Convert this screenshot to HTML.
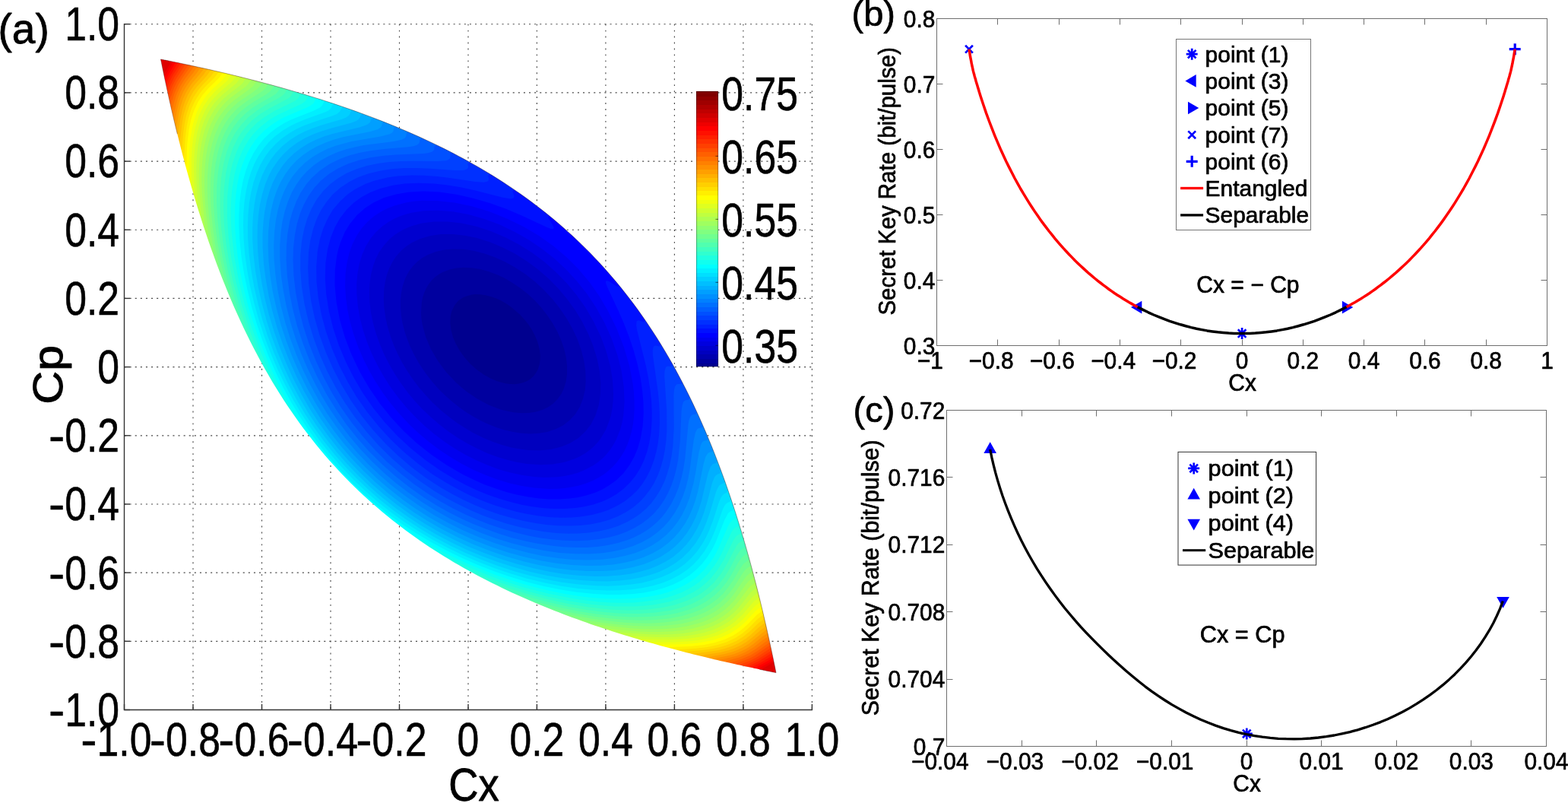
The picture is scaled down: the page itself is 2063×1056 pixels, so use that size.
<!DOCTYPE html>
<html lang="en"><head><meta charset="utf-8"><title>Secret key rate versus correlations Cx and Cp</title>
<style>html,body{margin:0;padding:0;background:#fff;overflow:hidden}svg{display:block}text{font-family:'Liberation Sans', sans-serif}</style></head><body>
<svg width="2063" height="1056" viewBox="0 0 2063 1056">
<rect width="2063" height="1056" fill="#fff"/>
<g shape-rendering="geometricPrecision">
<path fill="#00008f" d="M213,76.4L213,76.4L213.2,76.4L213.4,76.5L213.8,76.6L214.2,76.6L214.8,76.8L215.4,76.9L216.2,77L217,77.2L217.9,77.4L219,77.6L220.1,77.8L221.4,78.1L222.7,78.4L224.1,78.6L225.7,79L227.3,79.3L229,79.6L230.9,80L232.8,80.4L234.8,80.8L236.9,81.3L239.1,81.7L241.4,82.2L243.8,82.7L246.3,83.3L248.8,83.8L251.5,84.4L254.2,85L257.1,85.6L260,86.2L263,86.9L266.1,87.6L269.3,88.3L272.6,89L276,89.8L279.4,90.6L283,91.4L286.6,92.2L290.3,93.1L294,94L297.9,94.9L301.8,95.8L305.9,96.8L309.9,97.8L314.1,98.8L318.4,99.8L322.7,100.9L327.1,102L331.5,103.2L336.1,104.3L340.7,105.5L345.3,106.7L350.1,108L354.9,109.3L359.7,110.6L364.7,112L369.7,113.3L374.7,114.8L379.8,116.2L385,117.7L390.2,119.2L395.5,120.8L400.9,122.4L406.2,124L411.7,125.7L417.2,127.4L422.7,129.1L428.3,130.9L434,132.7L439.7,134.6L445.4,136.5L451.2,138.5L457,140.5L462.8,142.5L468.7,144.6L474.7,146.7L480.6,148.9L486.6,151.1L492.7,153.4L498.7,155.7L504.8,158.1L510.9,160.5L517.1,163L523.3,165.6L529.4,168.2L535.7,170.8L541.9,173.5L548.2,176.3L554.4,179.1L560.7,182L567,184.9L573.3,187.9L579.7,191L586,194.1L592.3,197.3L598.7,200.6L605,203.9L611.4,207.3L617.8,210.8L624.1,214.4L630.5,218L636.8,221.7L643.2,225.5L649.5,229.4L655.8,233.3L662.2,237.4L668.5,241.5L674.8,245.7L681.1,250L687.3,254.3L693.6,258.8L699.8,263.4L706.1,268L712.2,272.8L718.4,277.6L724.6,282.6L730.7,287.6L736.8,292.8L742.8,298L748.9,303.4L754.9,308.9L760.8,314.4L766.8,320.1L772.7,325.9L778.5,331.9L784.3,337.9L790.1,344L795.8,350.3L801.5,356.7L807.2,363.2L812.8,369.8L818.3,376.6L823.8,383.5L829.3,390.5L834.6,397.6L840,404.9L845.3,412.3L850.5,419.8L855.7,427.4L860.8,435.2L865.8,443.1L870.8,451.1L875.8,459.2L880.6,467.5L885.4,475.9L890.2,484.4L894.8,493L899.4,501.7L904,510.6L908.4,519.6L912.8,528.6L917.1,537.8L921.4,547.1L925.6,556.4L929.6,565.9L933.7,575.4L937.6,585L941.5,594.7L945.2,604.4L948.9,614.2L952.5,624L956.1,633.8L959.5,643.7L962.9,653.6L966.2,663.5L969.4,673.3L972.5,683.1L975.5,692.9L978.4,702.7L981.3,712.3L984,721.9L986.7,731.4L989.2,740.7L991.7,749.9L994.1,759L996.4,767.8L998.6,776.5L1000.7,785L1002.7,793.3L1004.6,801.3L1006.5,809L1008.2,816.4L1009.8,823.6L1011.4,830.4L1012.8,836.8L1014.1,843L1015.4,848.7L1016.5,854L1017.6,859L1018.5,863.5L1019.3,867.5L1020.1,871.2L1020.7,874.3L1021.3,877L1021.7,879.2L1022.1,881L1022.3,882.2L1022.5,883L1022.5,883.2L1019.5,886.2L1019.3,886.2L1019.1,886.1L1018.7,886L1018.3,886L1017.7,885.8L1017.1,885.7L1016.3,885.6L1015.5,885.4L1014.6,885.2L1013.5,885L1012.4,884.8L1011.1,884.5L1009.8,884.2L1008.4,884L1006.8,883.6L1005.2,883.3L1003.5,883L1001.6,882.6L999.7,882.2L997.7,881.8L995.6,881.3L993.4,880.9L991.1,880.4L988.7,879.9L986.2,879.3L983.7,878.8L981,878.2L978.3,877.6L975.4,877L972.5,876.4L969.5,875.7L966.4,875L963.2,874.3L959.9,873.6L956.5,872.8L953.1,872L949.5,871.2L945.9,870.4L942.2,869.5L938.5,868.6L934.6,867.7L930.7,866.8L926.6,865.8L922.6,864.8L918.4,863.8L914.1,862.8L909.8,861.7L905.4,860.6L901,859.4L896.4,858.3L891.8,857.1L887.2,855.9L882.4,854.6L877.6,853.3L872.8,852L867.8,850.6L862.8,849.3L857.8,847.8L852.7,846.4L847.5,844.9L842.3,843.4L837,841.8L831.6,840.2L826.3,838.6L820.8,836.9L815.3,835.2L809.8,833.5L804.2,831.7L798.5,829.9L792.8,828L787.1,826.1L781.3,824.1L775.5,822.1L769.7,820.1L763.8,818L757.8,815.9L751.9,813.7L745.9,811.5L739.8,809.2L733.8,806.9L727.7,804.5L721.6,802.1L715.4,799.6L709.2,797L703.1,794.4L696.8,791.8L690.6,789.1L684.3,786.3L678.1,783.5L671.8,780.6L665.5,777.7L659.2,774.7L652.8,771.6L646.5,768.5L640.2,765.3L633.8,762L627.5,758.7L621.1,755.3L614.8,751.8L608.4,748.2L602,744.6L595.7,740.9L589.3,737.1L583,733.2L576.7,729.3L570.3,725.2L564,721.1L557.7,716.9L551.4,712.6L545.2,708.3L538.9,703.8L532.7,699.2L526.4,694.6L520.3,689.8L514.1,685L507.9,680L501.8,675L495.7,669.8L489.7,664.6L483.6,659.2L477.6,653.7L471.7,648.2L465.7,642.5L459.8,636.7L454,630.7L448.2,624.7L442.4,618.6L436.7,612.3L431,605.9L425.3,599.4L419.7,592.8L414.2,586L408.7,579.1L403.2,572.1L397.9,565L392.5,557.7L387.2,550.3L382,542.8L376.8,535.2L371.7,527.4L366.7,519.5L361.7,511.5L356.7,503.4L351.9,495.1L347.1,486.7L342.3,478.2L337.7,469.6L333.1,460.9L328.5,452L324.1,443L319.7,434L315.4,424.8L311.1,415.5L306.9,406.2L302.9,396.7L298.8,387.2L294.9,377.6L291,367.9L287.3,358.2L283.6,348.4L280,338.6L276.4,328.8L273,318.9L269.6,309L266.3,299.1L263.1,289.3L260,279.5L257,269.7L254.1,259.9L251.2,250.3L248.5,240.7L245.8,231.2L243.3,221.9L240.8,212.7L238.4,203.6L236.1,194.8L233.9,186.1L231.8,177.6L229.8,169.3L227.9,161.3L226,153.6L224.3,146.2L222.7,139L221.1,132.2L219.7,125.8L218.4,119.6L217.1,113.9L216,108.6L214.9,103.6L214,99.1L213.2,95.1L212.4,91.4L211.8,88.3L211.2,85.6L210.8,83.4L210.4,81.6L210.2,80.4L210,79.6Z"/>
<path fill="#00009f" fill-rule="evenodd" d="M1028,893.9L1030.2,896.1L1032.5,896.1L1032.5,893.9L1030.2,891.6L1030.2,880.3L1028,878.1L1028,869.1L1025.7,866.8L1025.7,857.8L1023.5,855.5L1023.5,846.5L1021.2,844.3L1021.2,835.3L1018.9,833L1018.9,826.2L1016.7,824L1016.7,815L1014.4,812.7L1014.4,805.9L1012.1,803.7L1012.1,794.7L1009.9,792.4L1009.9,785.7L1007.6,783.4L1007.6,776.6L1005.4,774.4L1005.4,765.4L1003.1,763.1L1003.1,756.3L1000.8,754.1L1000.8,747.3L998.6,745.1L998.6,740.6L996.3,738.3L996.3,731.5L994,729.3L994,722.5L991.8,720.3L991.8,713.5L989.5,711.3L989.5,706.8L987.3,704.5L987.3,697.7L985,695.5L985,691L982.7,688.7L982.7,682L980.5,679.7L980.5,675.2L978.2,672.9L978.2,668.4L975.9,666.2L975.9,661.7L973.7,659.4L973.7,652.6L971.4,650.4L971.4,645.9L969.2,643.6L969.2,639.1L966.9,636.9L966.9,632.4L964.6,630.1L964.6,625.6L962.4,623.3L962.4,621.1L960.1,618.8L960.1,614.3L957.8,612.1L957.8,607.6L955.6,605.3L955.6,600.8L953.3,598.5L953.3,596.3L951.1,594L951.1,589.5L948.8,587.3L948.8,582.8L946.5,580.5L946.5,578.2L944.3,576L944.3,571.5L942,569.2L942,567L939.8,564.7L939.8,560.2L937.5,558L937.5,555.7L935.2,553.4L935.2,551.2L933,548.9L933,544.4L930.7,542.2L930.7,539.9L928.4,537.7L928.4,535.4L926.2,533.2L926.2,528.6L923.9,526.4L923.9,524.1L921.7,521.9L921.7,519.6L919.4,517.4L919.4,515.1L917.1,512.9L917.1,510.6L914.9,508.4L914.9,506.1L912.6,503.8L912.6,501.6L910.3,499.3L910.3,497.1L908.1,494.8L908.1,492.6L905.8,490.3L905.8,488.1L903.6,485.8L903.6,483.6L901.3,481.3L901.3,479L899,476.8L899,474.5L896.8,472.3L896.8,470L892.2,465.5L892.2,463.3L890,461L890,458.8L887.7,456.5L887.7,454.2L883.2,449.7L883.2,447.5L880.9,445.2L880.9,443L876.4,438.5L876.4,436.2L874.1,434L874.1,431.7L869.6,427.2L869.6,424.9L865.1,420.4L865.1,418.2L860.6,413.7L860.6,411.4L856,406.9L856,404.6L851.5,400.1L851.5,397.9L844.7,391.1L844.7,388.9L838,382.1L838,379.8L831.2,373.1L831.2,370.8L822.1,361.8L822.1,359.6L808.5,346L808.5,343.8L754.2,289.7L752,289.7L738.4,276.1L736.1,276.1L727.1,267.1L724.8,267.1L718.1,260.4L715.8,260.4L709,253.6L706.7,253.6L700,246.8L697.7,246.8L693.2,242.3L690.9,242.3L686.4,237.8L684.1,237.8L679.6,233.3L677.3,233.3L672.8,228.8L670.5,228.8L666,224.3L663.8,224.3L661.5,222L659.2,222L654.7,217.5L652.4,217.5L650.2,215.3L647.9,215.3L643.4,210.8L641.1,210.8L638.9,208.5L636.6,208.5L634.3,206.3L632.1,206.3L627.6,201.7L625.3,201.7L623,199.5L620.8,199.5L618.5,197.2L616.2,197.2L614,195L611.7,195L609.5,192.7L607.2,192.7L604.9,190.5L602.7,190.5L600.4,188.2L598.2,188.2L595.9,186L593.6,186L591.4,183.7L589.1,183.7L586.8,181.5L584.6,181.5L582.3,179.2L580.1,179.2L577.8,176.9L575.5,176.9L573.3,174.7L571,174.7L568.7,172.4L564.2,172.4L562,170.2L559.7,170.2L557.4,167.9L555.2,167.9L552.9,165.7L548.4,165.7L546.1,163.4L543.9,163.4L541.6,161.2L539.3,161.2L537.1,158.9L532.5,158.9L530.3,156.7L528,156.7L525.8,154.4L521.2,154.4L519,152.1L516.7,152.1L514.4,149.9L509.9,149.9L507.7,147.6L503.1,147.6L500.9,145.4L498.6,145.4L496.4,143.1L491.8,143.1L489.6,140.9L485,140.9L482.8,138.6L478.3,138.6L476,136.4L473.7,136.4L471.5,134.1L466.9,134.1L464.7,131.9L460.2,131.9L457.9,129.6L453.4,129.6L451.1,127.3L446.6,127.3L444.3,125.1L437.5,125.1L435.3,122.8L430.7,122.8L428.5,120.6L424,120.6L421.7,118.3L417.2,118.3L414.9,116.1L408.1,116.1L405.9,113.8L401.3,113.8L399.1,111.6L392.3,111.6L390,109.3L385.5,109.3L383.2,107.1L376.5,107.1L374.2,104.8L367.4,104.8L365.1,102.5L358.4,102.5L356.1,100.3L351.6,100.3L349.3,98L342.5,98L340.3,95.8L333.5,95.8L331.2,93.5L322.2,93.5L319.9,91.3L313.1,91.3L310.8,89L304.1,89L301.8,86.8L292.7,86.8L290.5,84.5L283.7,84.5L281.4,82.3L272.4,82.3L270.1,80L263.3,80L261.1,77.7L252,77.7L249.8,75.5L240.7,75.5L238.5,73.2L229.4,73.2L227.1,71L218.1,71L215.8,68.7L204.5,68.7L202.3,66.5L200,66.5L200,68.7L202.3,71L202.3,82.3L204.5,84.5L204.5,93.5L206.8,95.8L206.8,104.8L209,107.1L209,116.1L211.3,118.3L211.3,127.3L213.6,129.6L213.6,136.4L215.8,138.6L215.8,147.6L218.1,149.9L218.1,156.7L220.4,158.9L220.4,167.9L222.6,170.2L222.6,176.9L224.9,179.2L224.9,186L227.1,188.2L227.1,197.2L229.4,199.5L229.4,206.3L231.7,208.5L231.7,215.3L233.9,217.5L233.9,222L236.2,224.3L236.2,231.1L238.5,233.3L238.5,240.1L240.7,242.3L240.7,249.1L243,251.3L243,255.8L245.2,258.1L245.2,264.9L247.5,267.1L247.5,271.6L249.8,273.9L249.8,280.6L252,282.9L252,287.4L254.3,289.7L254.3,294.2L256.6,296.4L256.6,300.9L258.8,303.2L258.8,310L261.1,312.2L261.1,316.7L263.3,319L263.3,323.5L265.6,325.7L265.6,330.2L267.9,332.5L267.9,337L270.1,339.3L270.1,341.5L272.4,343.8L272.4,348.3L274.7,350.5L274.7,355L276.9,357.3L276.9,361.8L279.2,364.1L279.2,366.3L281.4,368.6L281.4,373.1L283.7,375.3L283.7,379.8L286,382.1L286,384.4L288.2,386.6L288.2,391.1L290.5,393.4L290.5,395.6L292.7,397.9L292.7,402.4L295,404.6L295,406.9L297.3,409.2L297.3,411.4L299.5,413.7L299.5,418.2L301.8,420.4L301.8,422.7L304.1,424.9L304.1,427.2L306.3,429.4L306.3,434L308.6,436.2L308.6,438.5L310.8,440.7L310.8,443L313.1,445.2L313.1,447.5L315.4,449.7L315.4,452L317.6,454.2L317.6,456.5L319.9,458.8L319.9,461L322.2,463.3L322.2,465.5L324.4,467.8L324.4,470L326.7,472.3L326.7,474.5L328.9,476.8L328.9,479L331.2,481.3L331.2,483.6L333.5,485.8L333.5,488.1L335.7,490.3L335.7,492.6L340.3,497.1L340.3,499.3L342.5,501.6L342.5,503.8L344.8,506.1L344.8,508.4L349.3,512.9L349.3,515.1L351.6,517.4L351.6,519.6L356.1,524.1L356.1,526.4L358.4,528.6L358.4,530.9L362.9,535.4L362.9,537.7L367.4,542.2L367.4,544.4L371.9,548.9L371.9,551.2L376.5,555.7L376.5,558L381,562.5L381,564.7L387.8,571.5L387.8,573.7L394.5,580.5L394.5,582.8L401.3,589.5L401.3,591.8L410.4,600.8L410.4,603L424,616.6L424,618.8L478.3,672.9L480.5,672.9L494.1,686.5L496.4,686.5L505.4,695.5L507.7,695.5L514.4,702.2L516.7,702.2L523.5,709L525.8,709L532.5,715.8L534.8,715.8L539.3,720.3L541.6,720.3L546.1,724.8L548.4,724.8L552.9,729.3L555.2,729.3L559.7,733.8L562,733.8L566.5,738.3L568.7,738.3L571,740.6L573.3,740.6L577.8,745.1L580.1,745.1L582.3,747.3L584.6,747.3L589.1,751.8L591.4,751.8L593.6,754.1L595.9,754.1L598.2,756.3L600.4,756.3L604.9,760.9L607.2,760.9L609.5,763.1L611.7,763.1L614,765.4L616.2,765.4L618.5,767.6L620.8,767.6L623,769.9L625.3,769.9L627.6,772.1L629.8,772.1L632.1,774.4L634.3,774.4L636.6,776.6L638.9,776.6L641.1,778.9L643.4,778.9L645.7,781.1L647.9,781.1L650.2,783.4L652.4,783.4L654.7,785.7L657,785.7L659.2,787.9L661.5,787.9L663.8,790.2L668.3,790.2L670.5,792.4L672.8,792.4L675.1,794.7L677.3,794.7L679.6,796.9L684.1,796.9L686.4,799.2L688.6,799.2L690.9,801.4L693.2,801.4L695.4,803.7L700,803.7L702.2,805.9L704.5,805.9L706.7,808.2L711.3,808.2L713.5,810.5L715.8,810.5L718.1,812.7L722.6,812.7L724.8,815L729.4,815L731.6,817.2L733.9,817.2L736.1,819.5L740.7,819.5L742.9,821.7L747.5,821.7L749.7,824L754.2,824L756.5,826.2L758.8,826.2L761,828.5L765.6,828.5L767.8,830.7L772.3,830.7L774.6,833L779.1,833L781.4,835.3L785.9,835.3L788.2,837.5L795,837.5L797.2,839.8L801.8,839.8L804,842L808.5,842L810.8,844.3L815.3,844.3L817.6,846.5L824.4,846.5L826.6,848.8L831.2,848.8L833.4,851L840.2,851L842.5,853.3L847,853.3L849.3,855.5L856,855.5L858.3,857.8L865.1,857.8L867.4,860.1L874.1,860.1L876.4,862.3L880.9,862.3L883.2,864.6L890,864.6L892.2,866.8L899,866.8L901.3,869.1L910.3,869.1L912.6,871.3L919.4,871.3L921.7,873.6L928.4,873.6L930.7,875.8L939.8,875.8L942,878.1L948.8,878.1L951.1,880.3L960.1,880.3L962.4,882.6L969.2,882.6L971.4,884.9L980.5,884.9L982.7,887.1L991.8,887.1L994,889.4L1003.1,889.4L1005.4,891.6L1014.4,891.6L1016.7,893.9ZM663.8,504L654.7,501.5L645.7,497.8L636.3,492.6L626.9,485.8L618.5,478.2L611.2,470L604.7,461L599.7,452L595.9,443L593.5,434L592.3,424.9L592.7,415.9L594.3,409.2L598.2,401.3L603.1,395.6L609.7,391.1L615.3,388.9L620.8,387.6L625.3,387.1L632.1,387.3L638.9,388.2L645.7,389.9L652.4,392.3L659.6,395.6L666,399.3L672.8,403.9L684.1,413.7L690.3,420.4L695.4,427L699.9,434L703.5,440.7L706.4,447.5L708.6,454.2L710.1,461L710.8,467.8L710.5,474.5L709.8,479L707.7,485.8L705.3,490.3L701.8,494.8L697.7,498.5L693.2,501.3L688.6,503.1L684.1,504.3L677.3,505.2L670.5,505Z"/>
<path fill="#0000af" fill-rule="evenodd" d="M1028,893.9L1030.2,896.1L1032.5,896.1L1032.5,893.9L1030.2,891.6L1030.2,880.3L1028,878.1L1028,869.1L1025.7,866.8L1025.7,857.8L1023.5,855.5L1023.5,846.5L1021.2,844.3L1021.2,835.3L1018.9,833L1018.9,826.2L1016.7,824L1016.7,815L1014.4,812.7L1014.4,805.9L1012.1,803.7L1012.1,794.7L1009.9,792.4L1009.9,785.7L1007.6,783.4L1007.6,776.6L1005.4,774.4L1005.4,765.4L1003.1,763.1L1003.1,756.3L1000.8,754.1L1000.8,747.3L998.6,745.1L998.6,740.6L996.3,738.3L996.3,731.5L994,729.3L994,722.5L991.8,720.3L991.8,713.5L989.5,711.3L989.5,706.8L987.3,704.5L987.3,697.7L985,695.5L985,691L982.7,688.7L982.7,682L980.5,679.7L980.5,675.2L978.2,672.9L978.2,668.4L975.9,666.2L975.9,661.7L973.7,659.4L973.7,652.6L971.4,650.4L971.4,645.9L969.2,643.6L969.2,639.1L966.9,636.9L966.9,632.4L964.6,630.1L964.6,625.6L962.4,623.3L962.4,621.1L960.1,618.8L960.1,614.3L957.8,612.1L957.8,607.6L955.6,605.3L955.6,600.8L953.3,598.5L953.3,596.3L951.1,594L951.1,589.5L948.8,587.3L948.8,582.8L946.5,580.5L946.5,578.2L944.3,576L944.3,571.5L942,569.2L942,567L939.8,564.7L939.8,560.2L937.5,558L937.5,555.7L935.2,553.4L935.2,551.2L933,548.9L933,544.4L930.7,542.2L930.7,539.9L928.4,537.7L928.4,535.4L926.2,533.2L926.2,528.6L923.9,526.4L923.9,524.1L921.7,521.9L921.7,519.6L919.4,517.4L919.4,515.1L917.1,512.9L917.1,510.6L914.9,508.4L914.9,506.1L912.6,503.8L912.6,501.6L910.3,499.3L910.3,497.1L908.1,494.8L908.1,492.6L905.8,490.3L905.8,488.1L903.6,485.8L903.6,483.6L901.3,481.3L901.3,479L899,476.8L899,474.5L896.8,472.3L896.8,470L892.2,465.5L892.2,463.3L890,461L890,458.8L887.7,456.5L887.7,454.2L883.2,449.7L883.2,447.5L880.9,445.2L880.9,443L876.4,438.5L876.4,436.2L874.1,434L874.1,431.7L869.6,427.2L869.6,424.9L865.1,420.4L865.1,418.2L860.6,413.7L860.6,411.4L856,406.9L856,404.6L851.5,400.1L851.5,397.9L844.7,391.1L844.7,388.9L838,382.1L838,379.8L831.2,373.1L831.2,370.8L822.1,361.8L822.1,359.6L808.5,346L808.5,343.8L754.2,289.7L752,289.7L738.4,276.1L736.1,276.1L727.1,267.1L724.8,267.1L718.1,260.4L715.8,260.4L709,253.6L706.7,253.6L700,246.8L697.7,246.8L693.2,242.3L690.9,242.3L686.4,237.8L684.1,237.8L679.6,233.3L677.3,233.3L672.8,228.8L670.5,228.8L666,224.3L663.8,224.3L661.5,222L659.2,222L654.7,217.5L652.4,217.5L650.2,215.3L647.9,215.3L643.4,210.8L641.1,210.8L638.9,208.5L636.6,208.5L634.3,206.3L632.1,206.3L627.6,201.7L625.3,201.7L623,199.5L620.8,199.5L618.5,197.2L616.2,197.2L614,195L611.7,195L609.5,192.7L607.2,192.7L604.9,190.5L602.7,190.5L600.4,188.2L598.2,188.2L595.9,186L593.6,186L591.4,183.7L589.1,183.7L586.8,181.5L584.6,181.5L582.3,179.2L580.1,179.2L577.8,176.9L575.5,176.9L573.3,174.7L571,174.7L568.7,172.4L564.2,172.4L562,170.2L559.7,170.2L557.4,167.9L555.2,167.9L552.9,165.7L548.4,165.7L546.1,163.4L543.9,163.4L541.6,161.2L539.3,161.2L537.1,158.9L532.5,158.9L530.3,156.7L528,156.7L525.8,154.4L521.2,154.4L519,152.1L516.7,152.1L514.4,149.9L509.9,149.9L507.7,147.6L503.1,147.6L500.9,145.4L498.6,145.4L496.4,143.1L491.8,143.1L489.6,140.9L485,140.9L482.8,138.6L478.3,138.6L476,136.4L473.7,136.4L471.5,134.1L466.9,134.1L464.7,131.9L460.2,131.9L457.9,129.6L453.4,129.6L451.1,127.3L446.6,127.3L444.3,125.1L437.5,125.1L435.3,122.8L430.7,122.8L428.5,120.6L424,120.6L421.7,118.3L417.2,118.3L414.9,116.1L408.1,116.1L405.9,113.8L401.3,113.8L399.1,111.6L392.3,111.6L390,109.3L385.5,109.3L383.2,107.1L376.5,107.1L374.2,104.8L367.4,104.8L365.1,102.5L358.4,102.5L356.1,100.3L351.6,100.3L349.3,98L342.5,98L340.3,95.8L333.5,95.8L331.2,93.5L322.2,93.5L319.9,91.3L313.1,91.3L310.8,89L304.1,89L301.8,86.8L292.7,86.8L290.5,84.5L283.7,84.5L281.4,82.3L272.4,82.3L270.1,80L263.3,80L261.1,77.7L252,77.7L249.8,75.5L240.7,75.5L238.5,73.2L229.4,73.2L227.1,71L218.1,71L215.8,68.7L204.5,68.7L202.3,66.5L200,66.5L200,68.7L202.3,71L202.3,82.3L204.5,84.5L204.5,93.5L206.8,95.8L206.8,104.8L209,107.1L209,116.1L211.3,118.3L211.3,127.3L213.6,129.6L213.6,136.4L215.8,138.6L215.8,147.6L218.1,149.9L218.1,156.7L220.4,158.9L220.4,167.9L222.6,170.2L222.6,176.9L224.9,179.2L224.9,186L227.1,188.2L227.1,197.2L229.4,199.5L229.4,206.3L231.7,208.5L231.7,215.3L233.9,217.5L233.9,222L236.2,224.3L236.2,231.1L238.5,233.3L238.5,240.1L240.7,242.3L240.7,249.1L243,251.3L243,255.8L245.2,258.1L245.2,264.9L247.5,267.1L247.5,271.6L249.8,273.9L249.8,280.6L252,282.9L252,287.4L254.3,289.7L254.3,294.2L256.6,296.4L256.6,300.9L258.8,303.2L258.8,310L261.1,312.2L261.1,316.7L263.3,319L263.3,323.5L265.6,325.7L265.6,330.2L267.9,332.5L267.9,337L270.1,339.3L270.1,341.5L272.4,343.8L272.4,348.3L274.7,350.5L274.7,355L276.9,357.3L276.9,361.8L279.2,364.1L279.2,366.3L281.4,368.6L281.4,373.1L283.7,375.3L283.7,379.8L286,382.1L286,384.4L288.2,386.6L288.2,391.1L290.5,393.4L290.5,395.6L292.7,397.9L292.7,402.4L295,404.6L295,406.9L297.3,409.2L297.3,411.4L299.5,413.7L299.5,418.2L301.8,420.4L301.8,422.7L304.1,424.9L304.1,427.2L306.3,429.4L306.3,434L308.6,436.2L308.6,438.5L310.8,440.7L310.8,443L313.1,445.2L313.1,447.5L315.4,449.7L315.4,452L317.6,454.2L317.6,456.5L319.9,458.8L319.9,461L322.2,463.3L322.2,465.5L324.4,467.8L324.4,470L326.7,472.3L326.7,474.5L328.9,476.8L328.9,479L331.2,481.3L331.2,483.6L333.5,485.8L333.5,488.1L335.7,490.3L335.7,492.6L340.3,497.1L340.3,499.3L342.5,501.6L342.5,503.8L344.8,506.1L344.8,508.4L349.3,512.9L349.3,515.1L351.6,517.4L351.6,519.6L356.1,524.1L356.1,526.4L358.4,528.6L358.4,530.9L362.9,535.4L362.9,537.7L367.4,542.2L367.4,544.4L371.9,548.9L371.9,551.2L376.5,555.7L376.5,558L381,562.5L381,564.7L387.8,571.5L387.8,573.7L394.5,580.5L394.5,582.8L401.3,589.5L401.3,591.8L410.4,600.8L410.4,603L424,616.6L424,618.8L478.3,672.9L480.5,672.9L494.1,686.5L496.4,686.5L505.4,695.5L507.7,695.5L514.4,702.2L516.7,702.2L523.5,709L525.8,709L532.5,715.8L534.8,715.8L539.3,720.3L541.6,720.3L546.1,724.8L548.4,724.8L552.9,729.3L555.2,729.3L559.7,733.8L562,733.8L566.5,738.3L568.7,738.3L571,740.6L573.3,740.6L577.8,745.1L580.1,745.1L582.3,747.3L584.6,747.3L589.1,751.8L591.4,751.8L593.6,754.1L595.9,754.1L598.2,756.3L600.4,756.3L604.9,760.9L607.2,760.9L609.5,763.1L611.7,763.1L614,765.4L616.2,765.4L618.5,767.6L620.8,767.6L623,769.9L625.3,769.9L627.6,772.1L629.8,772.1L632.1,774.4L634.3,774.4L636.6,776.6L638.9,776.6L641.1,778.9L643.4,778.9L645.7,781.1L647.9,781.1L650.2,783.4L652.4,783.4L654.7,785.7L657,785.7L659.2,787.9L661.5,787.9L663.8,790.2L668.3,790.2L670.5,792.4L672.8,792.4L675.1,794.7L677.3,794.7L679.6,796.9L684.1,796.9L686.4,799.2L688.6,799.2L690.9,801.4L693.2,801.4L695.4,803.7L700,803.7L702.2,805.9L704.5,805.9L706.7,808.2L711.3,808.2L713.5,810.5L715.8,810.5L718.1,812.7L722.6,812.7L724.8,815L729.4,815L731.6,817.2L733.9,817.2L736.1,819.5L740.7,819.5L742.9,821.7L747.5,821.7L749.7,824L754.2,824L756.5,826.2L758.8,826.2L761,828.5L765.6,828.5L767.8,830.7L772.3,830.7L774.6,833L779.1,833L781.4,835.3L785.9,835.3L788.2,837.5L795,837.5L797.2,839.8L801.8,839.8L804,842L808.5,842L810.8,844.3L815.3,844.3L817.6,846.5L824.4,846.5L826.6,848.8L831.2,848.8L833.4,851L840.2,851L842.5,853.3L847,853.3L849.3,855.5L856,855.5L858.3,857.8L865.1,857.8L867.4,860.1L874.1,860.1L876.4,862.3L880.9,862.3L883.2,864.6L890,864.6L892.2,866.8L899,866.8L901.3,869.1L910.3,869.1L912.6,871.3L919.4,871.3L921.7,873.6L928.4,873.6L930.7,875.8L939.8,875.8L942,878.1L948.8,878.1L951.1,880.3L960.1,880.3L962.4,882.6L969.2,882.6L971.4,884.9L980.5,884.9L982.7,887.1L991.8,887.1L994,889.4L1003.1,889.4L1005.4,891.6L1014.4,891.6L1016.7,893.9ZM675.1,542.3L659.2,538.7L643.4,532.7L627.6,524.3L614,515.1L600.4,503.6L586.8,489.1L576,474.5L566.8,458.8L560.1,443L555.8,427.2L554.4,418.2L554,411.4L554.8,397.9L556.1,391.1L558.3,384.4L561.6,377.6L564.2,373.4L568.1,368.6L572.9,364.1L577.8,360.6L582.3,358L591.4,354.5L600.4,352.5L609.5,351.7L620.8,352.2L632.1,354.1L643.4,357.2L654.7,361.5L663.8,365.8L672.8,370.9L684.1,378.5L694.3,386.6L704,395.6L712.2,404.6L720.3,414.9L727,424.9L733.3,436.2L738.3,447.5L742.2,458.8L744.8,470L746.1,481.3L746,492.6L744.7,501.6L742,510.6L738.8,517.4L733.9,524.5L727.5,530.9L721,535.4L713.5,539L704.5,541.8L695.4,543.1L686.4,543.3Z"/>
<path fill="#0000bf" fill-rule="evenodd" d="M1028,893.9L1030.2,896.1L1032.5,896.1L1032.5,893.9L1030.2,891.6L1030.2,880.3L1028,878.1L1028,869.1L1025.7,866.8L1025.7,857.8L1023.5,855.5L1023.5,846.5L1021.2,844.3L1021.2,835.3L1018.9,833L1018.9,826.2L1016.7,824L1016.7,815L1014.4,812.7L1014.4,805.9L1012.1,803.7L1012.1,794.7L1009.9,792.4L1009.9,785.7L1007.6,783.4L1007.6,776.6L1005.4,774.4L1005.4,765.4L1003.1,763.1L1003.1,756.3L1000.8,754.1L1000.8,747.3L998.6,745.1L998.6,740.6L996.3,738.3L996.3,731.5L994,729.3L994,722.5L991.8,720.3L991.8,713.5L989.5,711.3L989.5,706.8L987.3,704.5L987.3,697.7L985,695.5L985,691L982.7,688.7L982.7,682L980.5,679.7L980.5,675.2L978.2,672.9L978.2,668.4L975.9,666.2L975.9,661.7L973.7,659.4L973.7,652.6L971.4,650.4L971.4,645.9L969.2,643.6L969.2,639.1L966.9,636.9L966.9,632.4L964.6,630.1L964.6,625.6L962.4,623.3L962.4,621.1L960.1,618.8L960.1,614.3L957.8,612.1L957.8,607.6L955.6,605.3L955.6,600.8L953.3,598.5L953.3,596.3L951.1,594L951.1,589.5L948.8,587.3L948.8,582.8L946.5,580.5L946.5,578.2L944.3,576L944.3,571.5L942,569.2L942,567L939.8,564.7L939.8,560.2L937.5,558L937.5,555.7L935.2,553.4L935.2,551.2L933,548.9L933,544.4L930.7,542.2L930.7,539.9L928.4,537.7L928.4,535.4L926.2,533.2L926.2,528.6L923.9,526.4L923.9,524.1L921.7,521.9L921.7,519.6L919.4,517.4L919.4,515.1L917.1,512.9L917.1,510.6L914.9,508.4L914.9,506.1L912.6,503.8L912.6,501.6L910.3,499.3L910.3,497.1L908.1,494.8L908.1,492.6L905.8,490.3L905.8,488.1L903.6,485.8L903.6,483.6L901.3,481.3L901.3,479L899,476.8L899,474.5L896.8,472.3L896.8,470L892.2,465.5L892.2,463.3L890,461L890,458.8L887.7,456.5L887.7,454.2L883.2,449.7L883.2,447.5L880.9,445.2L880.9,443L876.4,438.5L876.4,436.2L874.1,434L874.1,431.7L869.6,427.2L869.6,424.9L865.1,420.4L865.1,418.2L860.6,413.7L860.6,411.4L856,406.9L856,404.6L851.5,400.1L851.5,397.9L844.7,391.1L844.7,388.9L838,382.1L838,379.8L831.2,373.1L831.2,370.8L822.1,361.8L822.1,359.6L808.5,346L808.5,343.8L754.2,289.7L752,289.7L738.4,276.1L736.1,276.1L727.1,267.1L724.8,267.1L718.1,260.4L715.8,260.4L709,253.6L706.7,253.6L700,246.8L697.7,246.8L693.2,242.3L690.9,242.3L686.4,237.8L684.1,237.8L679.6,233.3L677.3,233.3L672.8,228.8L670.5,228.8L666,224.3L663.8,224.3L661.5,222L659.2,222L654.7,217.5L652.4,217.5L650.2,215.3L647.9,215.3L643.4,210.8L641.1,210.8L638.9,208.5L636.6,208.5L634.3,206.3L632.1,206.3L627.6,201.7L625.3,201.7L623,199.5L620.8,199.5L618.5,197.2L616.2,197.2L614,195L611.7,195L609.5,192.7L607.2,192.7L604.9,190.5L602.7,190.5L600.4,188.2L598.2,188.2L595.9,186L593.6,186L591.4,183.7L589.1,183.7L586.8,181.5L584.6,181.5L582.3,179.2L580.1,179.2L577.8,176.9L575.5,176.9L573.3,174.7L571,174.7L568.7,172.4L564.2,172.4L562,170.2L559.7,170.2L557.4,167.9L555.2,167.9L552.9,165.7L548.4,165.7L546.1,163.4L543.9,163.4L541.6,161.2L539.3,161.2L537.1,158.9L532.5,158.9L530.3,156.7L528,156.7L525.8,154.4L521.2,154.4L519,152.1L516.7,152.1L514.4,149.9L509.9,149.9L507.7,147.6L503.1,147.6L500.9,145.4L498.6,145.4L496.4,143.1L491.8,143.1L489.6,140.9L485,140.9L482.8,138.6L478.3,138.6L476,136.4L473.7,136.4L471.5,134.1L466.9,134.1L464.7,131.9L460.2,131.9L457.9,129.6L453.4,129.6L451.1,127.3L446.6,127.3L444.3,125.1L437.5,125.1L435.3,122.8L430.7,122.8L428.5,120.6L424,120.6L421.7,118.3L417.2,118.3L414.9,116.1L408.1,116.1L405.9,113.8L401.3,113.8L399.1,111.6L392.3,111.6L390,109.3L385.5,109.3L383.2,107.1L376.5,107.1L374.2,104.8L367.4,104.8L365.1,102.5L358.4,102.5L356.1,100.3L351.6,100.3L349.3,98L342.5,98L340.3,95.8L333.5,95.8L331.2,93.5L322.2,93.5L319.9,91.3L313.1,91.3L310.8,89L304.1,89L301.8,86.8L292.7,86.8L290.5,84.5L283.7,84.5L281.4,82.3L272.4,82.3L270.1,80L263.3,80L261.1,77.7L252,77.7L249.8,75.5L240.7,75.5L238.5,73.2L229.4,73.2L227.1,71L218.1,71L215.8,68.7L204.5,68.7L202.3,66.5L200,66.5L200,68.7L202.3,71L202.3,82.3L204.5,84.5L204.5,93.5L206.8,95.8L206.8,104.8L209,107.1L209,116.1L211.3,118.3L211.3,127.3L213.6,129.6L213.6,136.4L215.8,138.6L215.8,147.6L218.1,149.9L218.1,156.7L220.4,158.9L220.4,167.9L222.6,170.2L222.6,176.9L224.9,179.2L224.9,186L227.1,188.2L227.1,197.2L229.4,199.5L229.4,206.3L231.7,208.5L231.7,215.3L233.9,217.5L233.9,222L236.2,224.3L236.2,231.1L238.5,233.3L238.5,240.1L240.7,242.3L240.7,249.1L243,251.3L243,255.8L245.2,258.1L245.2,264.9L247.5,267.1L247.5,271.6L249.8,273.9L249.8,280.6L252,282.9L252,287.4L254.3,289.7L254.3,294.2L256.6,296.4L256.6,300.9L258.8,303.2L258.8,310L261.1,312.2L261.1,316.7L263.3,319L263.3,323.5L265.6,325.7L265.6,330.2L267.9,332.5L267.9,337L270.1,339.3L270.1,341.5L272.4,343.8L272.4,348.3L274.7,350.5L274.7,355L276.9,357.3L276.9,361.8L279.2,364.1L279.2,366.3L281.4,368.6L281.4,373.1L283.7,375.3L283.7,379.8L286,382.1L286,384.4L288.2,386.6L288.2,391.1L290.5,393.4L290.5,395.6L292.7,397.9L292.7,402.4L295,404.6L295,406.9L297.3,409.2L297.3,411.4L299.5,413.7L299.5,418.2L301.8,420.4L301.8,422.7L304.1,424.9L304.1,427.2L306.3,429.4L306.3,434L308.6,436.2L308.6,438.5L310.8,440.7L310.8,443L313.1,445.2L313.1,447.5L315.4,449.7L315.4,452L317.6,454.2L317.6,456.5L319.9,458.8L319.9,461L322.2,463.3L322.2,465.5L324.4,467.8L324.4,470L326.7,472.3L326.7,474.5L328.9,476.8L328.9,479L331.2,481.3L331.2,483.6L333.5,485.8L333.5,488.1L335.7,490.3L335.7,492.6L340.3,497.1L340.3,499.3L342.5,501.6L342.5,503.8L344.8,506.1L344.8,508.4L349.3,512.9L349.3,515.1L351.6,517.4L351.6,519.6L356.1,524.1L356.1,526.4L358.4,528.6L358.4,530.9L362.9,535.4L362.9,537.7L367.4,542.2L367.4,544.4L371.9,548.9L371.9,551.2L376.5,555.7L376.5,558L381,562.5L381,564.7L387.8,571.5L387.8,573.7L394.5,580.5L394.5,582.8L401.3,589.5L401.3,591.8L410.4,600.8L410.4,603L424,616.6L424,618.8L478.3,672.9L480.5,672.9L494.1,686.5L496.4,686.5L505.4,695.5L507.7,695.5L514.4,702.2L516.7,702.2L523.5,709L525.8,709L532.5,715.8L534.8,715.8L539.3,720.3L541.6,720.3L546.1,724.8L548.4,724.8L552.9,729.3L555.2,729.3L559.7,733.8L562,733.8L566.5,738.3L568.7,738.3L571,740.6L573.3,740.6L577.8,745.1L580.1,745.1L582.3,747.3L584.6,747.3L589.1,751.8L591.4,751.8L593.6,754.1L595.9,754.1L598.2,756.3L600.4,756.3L604.9,760.9L607.2,760.9L609.5,763.1L611.7,763.1L614,765.4L616.2,765.4L618.5,767.6L620.8,767.6L623,769.9L625.3,769.9L627.6,772.1L629.8,772.1L632.1,774.4L634.3,774.4L636.6,776.6L638.9,776.6L641.1,778.9L643.4,778.9L645.7,781.1L647.9,781.1L650.2,783.4L652.4,783.4L654.7,785.7L657,785.7L659.2,787.9L661.5,787.9L663.8,790.2L668.3,790.2L670.5,792.4L672.8,792.4L675.1,794.7L677.3,794.7L679.6,796.9L684.1,796.9L686.4,799.2L688.6,799.2L690.9,801.4L693.2,801.4L695.4,803.7L700,803.7L702.2,805.9L704.5,805.9L706.7,808.2L711.3,808.2L713.5,810.5L715.8,810.5L718.1,812.7L722.6,812.7L724.8,815L729.4,815L731.6,817.2L733.9,817.2L736.1,819.5L740.7,819.5L742.9,821.7L747.5,821.7L749.7,824L754.2,824L756.5,826.2L758.8,826.2L761,828.5L765.6,828.5L767.8,830.7L772.3,830.7L774.6,833L779.1,833L781.4,835.3L785.9,835.3L788.2,837.5L795,837.5L797.2,839.8L801.8,839.8L804,842L808.5,842L810.8,844.3L815.3,844.3L817.6,846.5L824.4,846.5L826.6,848.8L831.2,848.8L833.4,851L840.2,851L842.5,853.3L847,853.3L849.3,855.5L856,855.5L858.3,857.8L865.1,857.8L867.4,860.1L874.1,860.1L876.4,862.3L880.9,862.3L883.2,864.6L890,864.6L892.2,866.8L899,866.8L901.3,869.1L910.3,869.1L912.6,871.3L919.4,871.3L921.7,873.6L928.4,873.6L930.7,875.8L939.8,875.8L942,878.1L948.8,878.1L951.1,880.3L960.1,880.3L962.4,882.6L969.2,882.6L971.4,884.9L980.5,884.9L982.7,887.1L991.8,887.1L994,889.4L1003.1,889.4L1005.4,891.6L1014.4,891.6L1016.7,893.9ZM684.1,569.5L675.1,568.1L663.8,565.4L654.4,562.5L643.4,558.2L633.1,553.4L623,548L613.6,542.2L604,535.4L595.4,528.6L586.8,521.1L578.4,512.9L570.2,503.8L562.9,494.8L556.5,485.8L550.6,476.8L544.4,465.5L539.3,454.9L535.5,445.2L532.5,436.2L529.6,424.9L528,415.8L527,404.6L526.9,395.6L527.7,386.6L529.4,377.6L532.2,368.6L535.3,361.8L539.3,355.1L543.9,349.3L549.5,343.8L555.4,339.3L562,335.5L573.3,330.9L584.6,328.4L595.9,327.4L609.5,327.8L623,329.8L636.6,333.2L650.2,337.9L663.8,343.9L677.3,351.4L690.9,360.3L704.3,370.8L715.8,381.4L727,393.4L736.1,404.9L745.2,418.2L752.9,431.7L759.3,445.2L764.9,461L768.3,474.5L770.3,488.1L770.7,501.6L769.7,512.9L767.1,524.1L762.6,535.4L757,544.4L749.7,552.5L740.7,559.4L731.6,564.1L720.3,567.9L709,569.8L697.7,570.4Z"/>
<path fill="#0000cf" fill-rule="evenodd" d="M1028,893.9L1030.2,896.1L1032.5,896.1L1032.5,893.9L1030.2,891.6L1030.2,880.3L1028,878.1L1028,869.1L1025.7,866.8L1025.7,857.8L1023.5,855.5L1023.5,846.5L1021.2,844.3L1021.2,835.3L1018.9,833L1018.9,826.2L1016.7,824L1016.7,815L1014.4,812.7L1014.4,805.9L1012.1,803.7L1012.1,794.7L1009.9,792.4L1009.9,785.7L1007.6,783.4L1007.6,776.6L1005.4,774.4L1005.4,765.4L1003.1,763.1L1003.1,756.3L1000.8,754.1L1000.8,747.3L998.6,745.1L998.6,740.6L996.3,738.3L996.3,731.5L994,729.3L994,722.5L991.8,720.3L991.8,713.5L989.5,711.3L989.5,706.8L987.3,704.5L987.3,697.7L985,695.5L985,691L982.7,688.7L982.7,682L980.5,679.7L980.5,675.2L978.2,672.9L978.2,668.4L975.9,666.2L975.9,661.7L973.7,659.4L973.7,652.6L971.4,650.4L971.4,645.9L969.2,643.6L969.2,639.1L966.9,636.9L966.9,632.4L964.6,630.1L964.6,625.6L962.4,623.3L962.4,621.1L960.1,618.8L960.1,614.3L957.8,612.1L957.8,607.6L955.6,605.3L955.6,600.8L953.3,598.5L953.3,596.3L951.1,594L951.1,589.5L948.8,587.3L948.8,582.8L946.5,580.5L946.5,578.2L944.3,576L944.3,571.5L942,569.2L942,567L939.8,564.7L939.8,560.2L937.5,558L937.5,555.7L935.2,553.4L935.2,551.2L933,548.9L933,544.4L930.7,542.2L930.7,539.9L928.4,537.7L928.4,535.4L926.2,533.2L926.2,528.6L923.9,526.4L923.9,524.1L921.7,521.9L921.7,519.6L919.4,517.4L919.4,515.1L917.1,512.9L917.1,510.6L914.9,508.4L914.9,506.1L912.6,503.8L912.6,501.6L910.3,499.3L910.3,497.1L908.1,494.8L908.1,492.6L905.8,490.3L905.8,488.1L903.6,485.8L903.6,483.6L901.3,481.3L901.3,479L899,476.8L899,474.5L896.8,472.3L896.8,470L892.2,465.5L892.2,463.3L890,461L890,458.8L887.7,456.5L887.7,454.2L883.2,449.7L883.2,447.5L880.9,445.2L880.9,443L876.4,438.5L876.4,436.2L874.1,434L874.1,431.7L869.6,427.2L869.6,424.9L865.1,420.4L865.1,418.2L860.6,413.7L860.6,411.4L856,406.9L856,404.6L851.5,400.1L851.5,397.9L844.7,391.1L844.7,388.9L838,382.1L838,379.8L831.2,373.1L831.2,370.8L822.1,361.8L822.1,359.6L808.5,346L808.5,343.8L754.2,289.7L752,289.7L738.4,276.1L736.1,276.1L727.1,267.1L724.8,267.1L718.1,260.4L715.8,260.4L709,253.6L706.7,253.6L700,246.8L697.7,246.8L693.2,242.3L690.9,242.3L686.4,237.8L684.1,237.8L679.6,233.3L677.3,233.3L672.8,228.8L670.5,228.8L666,224.3L663.8,224.3L661.5,222L659.2,222L654.7,217.5L652.4,217.5L650.2,215.3L647.9,215.3L643.4,210.8L641.1,210.8L638.9,208.5L636.6,208.5L634.3,206.3L632.1,206.3L627.6,201.7L625.3,201.7L623,199.5L620.8,199.5L618.5,197.2L616.2,197.2L614,195L611.7,195L609.5,192.7L607.2,192.7L604.9,190.5L602.7,190.5L600.4,188.2L598.2,188.2L595.9,186L593.6,186L591.4,183.7L589.1,183.7L586.8,181.5L584.6,181.5L582.3,179.2L580.1,179.2L577.8,176.9L575.5,176.9L573.3,174.7L571,174.7L568.7,172.4L564.2,172.4L562,170.2L559.7,170.2L557.4,167.9L555.2,167.9L552.9,165.7L548.4,165.7L546.1,163.4L543.9,163.4L541.6,161.2L539.3,161.2L537.1,158.9L532.5,158.9L530.3,156.7L528,156.7L525.8,154.4L521.2,154.4L519,152.1L516.7,152.1L514.4,149.9L509.9,149.9L507.7,147.6L503.1,147.6L500.9,145.4L498.6,145.4L496.4,143.1L491.8,143.1L489.6,140.9L485,140.9L482.8,138.6L478.3,138.6L476,136.4L473.7,136.4L471.5,134.1L466.9,134.1L464.7,131.9L460.2,131.9L457.9,129.6L453.4,129.6L451.1,127.3L446.6,127.3L444.3,125.1L437.5,125.1L435.3,122.8L430.7,122.8L428.5,120.6L424,120.6L421.7,118.3L417.2,118.3L414.9,116.1L408.1,116.1L405.9,113.8L401.3,113.8L399.1,111.6L392.3,111.6L390,109.3L385.5,109.3L383.2,107.1L376.5,107.1L374.2,104.8L367.4,104.8L365.1,102.5L358.4,102.5L356.1,100.3L351.6,100.3L349.3,98L342.5,98L340.3,95.8L333.5,95.8L331.2,93.5L322.2,93.5L319.9,91.3L313.1,91.3L310.8,89L304.1,89L301.8,86.8L292.7,86.8L290.5,84.5L283.7,84.5L281.4,82.3L272.4,82.3L270.1,80L263.3,80L261.1,77.7L252,77.7L249.8,75.5L240.7,75.5L238.5,73.2L229.4,73.2L227.1,71L218.1,71L215.8,68.7L204.5,68.7L202.3,66.5L200,66.5L200,68.7L202.3,71L202.3,82.3L204.5,84.5L204.5,93.5L206.8,95.8L206.8,104.8L209,107.1L209,116.1L211.3,118.3L211.3,127.3L213.6,129.6L213.6,136.4L215.8,138.6L215.8,147.6L218.1,149.9L218.1,156.7L220.4,158.9L220.4,167.9L222.6,170.2L222.6,176.9L224.9,179.2L224.9,186L227.1,188.2L227.1,197.2L229.4,199.5L229.4,206.3L231.7,208.5L231.7,215.3L233.9,217.5L233.9,222L236.2,224.3L236.2,231.1L238.5,233.3L238.5,240.1L240.7,242.3L240.7,249.1L243,251.3L243,255.8L245.2,258.1L245.2,264.9L247.5,267.1L247.5,271.6L249.8,273.9L249.8,280.6L252,282.9L252,287.4L254.3,289.7L254.3,294.2L256.6,296.4L256.6,300.9L258.8,303.2L258.8,310L261.1,312.2L261.1,316.7L263.3,319L263.3,323.5L265.6,325.7L265.6,330.2L267.9,332.5L267.9,337L270.1,339.3L270.1,341.5L272.4,343.8L272.4,348.3L274.7,350.5L274.7,355L276.9,357.3L276.9,361.8L279.2,364.1L279.2,366.3L281.4,368.6L281.4,373.1L283.7,375.3L283.7,379.8L286,382.1L286,384.4L288.2,386.6L288.2,391.1L290.5,393.4L290.5,395.6L292.7,397.9L292.7,402.4L295,404.6L295,406.9L297.3,409.2L297.3,411.4L299.5,413.7L299.5,418.2L301.8,420.4L301.8,422.7L304.1,424.9L304.1,427.2L306.3,429.4L306.3,434L308.6,436.2L308.6,438.5L310.8,440.7L310.8,443L313.1,445.2L313.1,447.5L315.4,449.7L315.4,452L317.6,454.2L317.6,456.5L319.9,458.8L319.9,461L322.2,463.3L322.2,465.5L324.4,467.8L324.4,470L326.7,472.3L326.7,474.5L328.9,476.8L328.9,479L331.2,481.3L331.2,483.6L333.5,485.8L333.5,488.1L335.7,490.3L335.7,492.6L340.3,497.1L340.3,499.3L342.5,501.6L342.5,503.8L344.8,506.1L344.8,508.4L349.3,512.9L349.3,515.1L351.6,517.4L351.6,519.6L356.1,524.1L356.1,526.4L358.4,528.6L358.4,530.9L362.9,535.4L362.9,537.7L367.4,542.2L367.4,544.4L371.9,548.9L371.9,551.2L376.5,555.7L376.5,558L381,562.5L381,564.7L387.8,571.5L387.8,573.7L394.5,580.5L394.5,582.8L401.3,589.5L401.3,591.8L410.4,600.8L410.4,603L424,616.6L424,618.8L478.3,672.9L480.5,672.9L494.1,686.5L496.4,686.5L505.4,695.5L507.7,695.5L514.4,702.2L516.7,702.2L523.5,709L525.8,709L532.5,715.8L534.8,715.8L539.3,720.3L541.6,720.3L546.1,724.8L548.4,724.8L552.9,729.3L555.2,729.3L559.7,733.8L562,733.8L566.5,738.3L568.7,738.3L571,740.6L573.3,740.6L577.8,745.1L580.1,745.1L582.3,747.3L584.6,747.3L589.1,751.8L591.4,751.8L593.6,754.1L595.9,754.1L598.2,756.3L600.4,756.3L604.9,760.9L607.2,760.9L609.5,763.1L611.7,763.1L614,765.4L616.2,765.4L618.5,767.6L620.8,767.6L623,769.9L625.3,769.9L627.6,772.1L629.8,772.1L632.1,774.4L634.3,774.4L636.6,776.6L638.9,776.6L641.1,778.9L643.4,778.9L645.7,781.1L647.9,781.1L650.2,783.4L652.4,783.4L654.7,785.7L657,785.7L659.2,787.9L661.5,787.9L663.8,790.2L668.3,790.2L670.5,792.4L672.8,792.4L675.1,794.7L677.3,794.7L679.6,796.9L684.1,796.9L686.4,799.2L688.6,799.2L690.9,801.4L693.2,801.4L695.4,803.7L700,803.7L702.2,805.9L704.5,805.9L706.7,808.2L711.3,808.2L713.5,810.5L715.8,810.5L718.1,812.7L722.6,812.7L724.8,815L729.4,815L731.6,817.2L733.9,817.2L736.1,819.5L740.7,819.5L742.9,821.7L747.5,821.7L749.7,824L754.2,824L756.5,826.2L758.8,826.2L761,828.5L765.6,828.5L767.8,830.7L772.3,830.7L774.6,833L779.1,833L781.4,835.3L785.9,835.3L788.2,837.5L795,837.5L797.2,839.8L801.8,839.8L804,842L808.5,842L810.8,844.3L815.3,844.3L817.6,846.5L824.4,846.5L826.6,848.8L831.2,848.8L833.4,851L840.2,851L842.5,853.3L847,853.3L849.3,855.5L856,855.5L858.3,857.8L865.1,857.8L867.4,860.1L874.1,860.1L876.4,862.3L880.9,862.3L883.2,864.6L890,864.6L892.2,866.8L899,866.8L901.3,869.1L910.3,869.1L912.6,871.3L919.4,871.3L921.7,873.6L928.4,873.6L930.7,875.8L939.8,875.8L942,878.1L948.8,878.1L951.1,880.3L960.1,880.3L962.4,882.6L969.2,882.6L971.4,884.9L980.5,884.9L982.7,887.1L991.8,887.1L994,889.4L1003.1,889.4L1005.4,891.6L1014.4,891.6L1016.7,893.9ZM695.4,591.9L684.1,590.6L672.8,588.4L660.2,585L647.9,580.8L636.4,576L623,569.4L611.7,562.8L600.8,555.7L591.4,548.7L580.1,539.4L568.7,528.9L559.9,519.6L550.6,508.7L543.5,499.3L535.9,488.1L529.1,476.8L523.3,465.5L518.2,454.2L514,443L509.9,429.4L507.4,418.2L505.4,404.6L504.8,393.4L505.2,382.1L506.7,370.8L508.9,361.8L512.2,352.8L516.7,343.8L521.3,337L528,329.5L534.8,323.7L542.1,319L552.9,313.9L566.5,310L580.1,308.1L595.9,308L611.7,309.7L627.6,313.1L645.7,318.8L661.5,325.4L677.3,333.6L693.2,343.5L708.7,355L721.6,366.3L734.9,379.8L746.3,393.4L756.5,407.6L765.6,422.4L773.7,438.5L780.2,454.2L785.7,472.3L788.8,488.1L790.3,503.8L789.8,519.6L787.7,533.2L783.3,546.7L777.5,558L770.1,567.6L761,575.9L750.1,582.8L738.4,587.6L724.8,590.9L711.3,592.3Z"/>
<path fill="#0000df" fill-rule="evenodd" d="M1028,893.9L1030.2,896.1L1032.5,896.1L1032.5,893.9L1030.2,891.6L1030.2,880.3L1028,878.1L1028,869.1L1025.7,866.8L1025.7,857.8L1023.5,855.5L1023.5,846.5L1021.2,844.3L1021.2,835.3L1018.9,833L1018.9,826.2L1016.7,824L1016.7,815L1014.4,812.7L1014.4,805.9L1012.1,803.7L1012.1,794.7L1009.9,792.4L1009.9,785.7L1007.6,783.4L1007.6,776.6L1005.4,774.4L1005.4,765.4L1003.1,763.1L1003.1,756.3L1000.8,754.1L1000.8,747.3L998.6,745.1L998.6,740.6L996.3,738.3L996.3,731.5L994,729.3L994,722.5L991.8,720.3L991.8,713.5L989.5,711.3L989.5,706.8L987.3,704.5L987.3,697.7L985,695.5L985,691L982.7,688.7L982.7,682L980.5,679.7L980.5,675.2L978.2,672.9L978.2,668.4L975.9,666.2L975.9,661.7L973.7,659.4L973.7,652.6L971.4,650.4L971.4,645.9L969.2,643.6L969.2,639.1L966.9,636.9L966.9,632.4L964.6,630.1L964.6,625.6L962.4,623.3L962.4,621.1L960.1,618.8L960.1,614.3L957.8,612.1L957.8,607.6L955.6,605.3L955.6,600.8L953.3,598.5L953.3,596.3L951.1,594L951.1,589.5L948.8,587.3L948.8,582.8L946.5,580.5L946.5,578.2L944.3,576L944.3,571.5L942,569.2L942,567L939.8,564.7L939.8,560.2L937.5,558L937.5,555.7L935.2,553.4L935.2,551.2L933,548.9L933,544.4L930.7,542.2L930.7,539.9L928.4,537.7L928.4,535.4L926.2,533.2L926.2,528.6L923.9,526.4L923.9,524.1L921.7,521.9L921.7,519.6L919.4,517.4L919.4,515.1L917.1,512.9L917.1,510.6L914.9,508.4L914.9,506.1L912.6,503.8L912.6,501.6L910.3,499.3L910.3,497.1L908.1,494.8L908.1,492.6L905.8,490.3L905.8,488.1L903.6,485.8L903.6,483.6L901.3,481.3L901.3,479L899,476.8L899,474.5L896.8,472.3L896.8,470L892.2,465.5L892.2,463.3L890,461L890,458.8L887.7,456.5L887.7,454.2L883.2,449.7L883.2,447.5L880.9,445.2L880.9,443L876.4,438.5L876.4,436.2L874.1,434L874.1,431.7L869.6,427.2L869.6,424.9L865.1,420.4L865.1,418.2L860.6,413.7L860.6,411.4L856,406.9L856,404.6L851.5,400.1L851.5,397.9L844.7,391.1L844.7,388.9L838,382.1L838,379.8L831.2,373.1L831.2,370.8L822.1,361.8L822.1,359.6L808.5,346L808.5,343.8L754.2,289.7L752,289.7L738.4,276.1L736.1,276.1L727.1,267.1L724.8,267.1L718.1,260.4L715.8,260.4L709,253.6L706.7,253.6L700,246.8L697.7,246.8L693.2,242.3L690.9,242.3L686.4,237.8L684.1,237.8L679.6,233.3L677.3,233.3L672.8,228.8L670.5,228.8L666,224.3L663.8,224.3L661.5,222L659.2,222L654.7,217.5L652.4,217.5L650.2,215.3L647.9,215.3L643.4,210.8L641.1,210.8L638.9,208.5L636.6,208.5L634.3,206.3L632.1,206.3L627.6,201.7L625.3,201.7L623,199.5L620.8,199.5L618.5,197.2L616.2,197.2L614,195L611.7,195L609.5,192.7L607.2,192.7L604.9,190.5L602.7,190.5L600.4,188.2L598.2,188.2L595.9,186L593.6,186L591.4,183.7L589.1,183.7L586.8,181.5L584.6,181.5L582.3,179.2L580.1,179.2L577.8,176.9L575.5,176.9L573.3,174.7L571,174.7L568.7,172.4L564.2,172.4L562,170.2L559.7,170.2L557.4,167.9L555.2,167.9L552.9,165.7L548.4,165.7L546.1,163.4L543.9,163.4L541.6,161.2L539.3,161.2L537.1,158.9L532.5,158.9L530.3,156.7L528,156.7L525.8,154.4L521.2,154.4L519,152.1L516.7,152.1L514.4,149.9L509.9,149.9L507.7,147.6L503.1,147.6L500.9,145.4L498.6,145.4L496.4,143.1L491.8,143.1L489.6,140.9L485,140.9L482.8,138.6L478.3,138.6L476,136.4L473.7,136.4L471.5,134.1L466.9,134.1L464.7,131.9L460.2,131.9L457.9,129.6L453.4,129.6L451.1,127.3L446.6,127.3L444.3,125.1L437.5,125.1L435.3,122.8L430.7,122.8L428.5,120.6L424,120.6L421.7,118.3L417.2,118.3L414.9,116.1L408.1,116.1L405.9,113.8L401.3,113.8L399.1,111.6L392.3,111.6L390,109.3L385.5,109.3L383.2,107.1L376.5,107.1L374.2,104.8L367.4,104.8L365.1,102.5L358.4,102.5L356.1,100.3L351.6,100.3L349.3,98L342.5,98L340.3,95.8L333.5,95.8L331.2,93.5L322.2,93.5L319.9,91.3L313.1,91.3L310.8,89L304.1,89L301.8,86.8L292.7,86.8L290.5,84.5L283.7,84.5L281.4,82.3L272.4,82.3L270.1,80L263.3,80L261.1,77.7L252,77.7L249.8,75.5L240.7,75.5L238.5,73.2L229.4,73.2L227.1,71L218.1,71L215.8,68.7L204.5,68.7L202.3,66.5L200,66.5L200,68.7L202.3,71L202.3,82.3L204.5,84.5L204.5,93.5L206.8,95.8L206.8,104.8L209,107.1L209,116.1L211.3,118.3L211.3,127.3L213.6,129.6L213.6,136.4L215.8,138.6L215.8,147.6L218.1,149.9L218.1,156.7L220.4,158.9L220.4,167.9L222.6,170.2L222.6,176.9L224.9,179.2L224.9,186L227.1,188.2L227.1,197.2L229.4,199.5L229.4,206.3L231.7,208.5L231.7,215.3L233.9,217.5L233.9,222L236.2,224.3L236.2,231.1L238.5,233.3L238.5,240.1L240.7,242.3L240.7,249.1L243,251.3L243,255.8L245.2,258.1L245.2,264.9L247.5,267.1L247.5,271.6L249.8,273.9L249.8,280.6L252,282.9L252,287.4L254.3,289.7L254.3,294.2L256.6,296.4L256.6,300.9L258.8,303.2L258.8,310L261.1,312.2L261.1,316.7L263.3,319L263.3,323.5L265.6,325.7L265.6,330.2L267.9,332.5L267.9,337L270.1,339.3L270.1,341.5L272.4,343.8L272.4,348.3L274.7,350.5L274.7,355L276.9,357.3L276.9,361.8L279.2,364.1L279.2,366.3L281.4,368.6L281.4,373.1L283.7,375.3L283.7,379.8L286,382.1L286,384.4L288.2,386.6L288.2,391.1L290.5,393.4L290.5,395.6L292.7,397.9L292.7,402.4L295,404.6L295,406.9L297.3,409.2L297.3,411.4L299.5,413.7L299.5,418.2L301.8,420.4L301.8,422.7L304.1,424.9L304.1,427.2L306.3,429.4L306.3,434L308.6,436.2L308.6,438.5L310.8,440.7L310.8,443L313.1,445.2L313.1,447.5L315.4,449.7L315.4,452L317.6,454.2L317.6,456.5L319.9,458.8L319.9,461L322.2,463.3L322.2,465.5L324.4,467.8L324.4,470L326.7,472.3L326.7,474.5L328.9,476.8L328.9,479L331.2,481.3L331.2,483.6L333.5,485.8L333.5,488.1L335.7,490.3L335.7,492.6L340.3,497.1L340.3,499.3L342.5,501.6L342.5,503.8L344.8,506.1L344.8,508.4L349.3,512.9L349.3,515.1L351.6,517.4L351.6,519.6L356.1,524.1L356.1,526.4L358.4,528.6L358.4,530.9L362.9,535.4L362.9,537.7L367.4,542.2L367.4,544.4L371.9,548.9L371.9,551.2L376.5,555.7L376.5,558L381,562.5L381,564.7L387.8,571.5L387.8,573.7L394.5,580.5L394.5,582.8L401.3,589.5L401.3,591.8L410.4,600.8L410.4,603L424,616.6L424,618.8L478.3,672.9L480.5,672.9L494.1,686.5L496.4,686.5L505.4,695.5L507.7,695.5L514.4,702.2L516.7,702.2L523.5,709L525.8,709L532.5,715.8L534.8,715.8L539.3,720.3L541.6,720.3L546.1,724.8L548.4,724.8L552.9,729.3L555.2,729.3L559.7,733.8L562,733.8L566.5,738.3L568.7,738.3L571,740.6L573.3,740.6L577.8,745.1L580.1,745.1L582.3,747.3L584.6,747.3L589.1,751.8L591.4,751.8L593.6,754.1L595.9,754.1L598.2,756.3L600.4,756.3L604.9,760.9L607.2,760.9L609.5,763.1L611.7,763.1L614,765.4L616.2,765.4L618.5,767.6L620.8,767.6L623,769.9L625.3,769.9L627.6,772.1L629.8,772.1L632.1,774.4L634.3,774.4L636.6,776.6L638.9,776.6L641.1,778.9L643.4,778.9L645.7,781.1L647.9,781.1L650.2,783.4L652.4,783.4L654.7,785.7L657,785.7L659.2,787.9L661.5,787.9L663.8,790.2L668.3,790.2L670.5,792.4L672.8,792.4L675.1,794.7L677.3,794.7L679.6,796.9L684.1,796.9L686.4,799.2L688.6,799.2L690.9,801.4L693.2,801.4L695.4,803.7L700,803.7L702.2,805.9L704.5,805.9L706.7,808.2L711.3,808.2L713.5,810.5L715.8,810.5L718.1,812.7L722.6,812.7L724.8,815L729.4,815L731.6,817.2L733.9,817.2L736.1,819.5L740.7,819.5L742.9,821.7L747.5,821.7L749.7,824L754.2,824L756.5,826.2L758.8,826.2L761,828.5L765.6,828.5L767.8,830.7L772.3,830.7L774.6,833L779.1,833L781.4,835.3L785.9,835.3L788.2,837.5L795,837.5L797.2,839.8L801.8,839.8L804,842L808.5,842L810.8,844.3L815.3,844.3L817.6,846.5L824.4,846.5L826.6,848.8L831.2,848.8L833.4,851L840.2,851L842.5,853.3L847,853.3L849.3,855.5L856,855.5L858.3,857.8L865.1,857.8L867.4,860.1L874.1,860.1L876.4,862.3L880.9,862.3L883.2,864.6L890,864.6L892.2,866.8L899,866.8L901.3,869.1L910.3,869.1L912.6,871.3L919.4,871.3L921.7,873.6L928.4,873.6L930.7,875.8L939.8,875.8L942,878.1L948.8,878.1L951.1,880.3L960.1,880.3L962.4,882.6L969.2,882.6L971.4,884.9L980.5,884.9L982.7,887.1L991.8,887.1L994,889.4L1003.1,889.4L1005.4,891.6L1014.4,891.6L1016.7,893.9ZM693.2,610L679.6,607.7L668.3,605.1L654.7,601L641.1,595.9L627.6,589.8L614.1,582.8L602.7,575.9L589.4,567L577.8,558.1L566.5,548.3L555.4,537.7L546.1,527.7L537.1,516.9L527.3,503.8L519,491.1L512,479L505.2,465.5L499.5,452L494.7,438.5L490.9,424.9L488.1,411.4L486.4,397.9L485.9,384.4L486.4,373.1L487.9,361.8L490.7,350.5L494.1,341.1L498.6,332.1L504.4,323.5L512.2,314.8L519,309.1L528.1,303.2L534.8,299.9L541.6,297.2L555.2,293.5L571,291.5L589.1,291.5L607.2,293.6L627.6,298.1L645.7,304L665.1,312.2L682.3,321.2L700,332.3L715.8,344.1L731.6,358L746.2,373.1L758.8,388.3L770.3,404.6L780.9,422.7L790.4,442.6L797.3,461L802.9,481.3L805.9,499.3L807,517.4L806.7,526.4L805.8,535.4L804.2,544.4L802.4,551.2L797.3,564.7L790.4,576.4L785.9,582.2L781.1,587.3L775.9,591.8L770.1,596L763.3,600L756.9,603L742.9,607.7L727.1,610.5L711.3,611.2Z"/>
<path fill="#0000ef" fill-rule="evenodd" d="M1028,893.9L1030.2,896.1L1032.5,896.1L1032.5,893.9L1030.2,891.6L1030.2,880.3L1028,878.1L1028,869.1L1025.7,866.8L1025.7,857.8L1023.5,855.5L1023.5,846.5L1021.2,844.3L1021.2,835.3L1018.9,833L1018.9,826.2L1016.7,824L1016.7,815L1014.4,812.7L1014.4,805.9L1012.1,803.7L1012.1,794.7L1009.9,792.4L1009.9,785.7L1007.6,783.4L1007.6,776.6L1005.4,774.4L1005.4,765.4L1003.1,763.1L1003.1,756.3L1000.8,754.1L1000.8,747.3L998.6,745.1L998.6,740.6L996.3,738.3L996.3,731.5L994,729.3L994,722.5L991.8,720.3L991.8,713.5L989.5,711.3L989.5,706.8L987.3,704.5L987.3,697.7L985,695.5L985,691L982.7,688.7L982.7,682L980.5,679.7L980.5,675.2L978.2,672.9L978.2,668.4L975.9,666.2L975.9,661.7L973.7,659.4L973.7,652.6L971.4,650.4L971.4,645.9L969.2,643.6L969.2,639.1L966.9,636.9L966.9,632.4L964.6,630.1L964.6,625.6L962.4,623.3L962.4,621.1L960.1,618.8L960.1,614.3L957.8,612.1L957.8,607.6L955.6,605.3L955.6,600.8L953.3,598.5L953.3,596.3L951.1,594L951.1,589.5L948.8,587.3L948.8,582.8L946.5,580.5L946.5,578.2L944.3,576L944.3,571.5L942,569.2L942,567L939.8,564.7L939.8,560.2L937.5,558L937.5,555.7L935.2,553.4L935.2,551.2L933,548.9L933,544.4L930.7,542.2L930.7,539.9L928.4,537.7L928.4,535.4L926.2,533.2L926.2,528.6L923.9,526.4L923.9,524.1L921.7,521.9L921.7,519.6L919.4,517.4L919.4,515.1L917.1,512.9L917.1,510.6L914.9,508.4L914.9,506.1L912.6,503.8L912.6,501.6L910.3,499.3L910.3,497.1L908.1,494.8L908.1,492.6L905.8,490.3L905.8,488.1L903.6,485.8L903.6,483.6L901.3,481.3L901.3,479L899,476.8L899,474.5L896.8,472.3L896.8,470L892.2,465.5L892.2,463.3L890,461L890,458.8L887.7,456.5L887.7,454.2L883.2,449.7L883.2,447.5L880.9,445.2L880.9,443L876.4,438.5L876.4,436.2L874.1,434L874.1,431.7L869.6,427.2L869.6,424.9L865.1,420.4L865.1,418.2L860.6,413.7L860.6,411.4L856,406.9L856,404.6L851.5,400.1L851.5,397.9L844.7,391.1L844.7,388.9L838,382.1L838,379.8L831.2,373.1L831.2,370.8L822.1,361.8L822.1,359.6L808.5,346L808.5,343.8L754.2,289.7L752,289.7L738.4,276.1L736.1,276.1L727.1,267.1L724.8,267.1L718.1,260.4L715.8,260.4L709,253.6L706.7,253.6L700,246.8L697.7,246.8L693.2,242.3L690.9,242.3L686.4,237.8L684.1,237.8L679.6,233.3L677.3,233.3L672.8,228.8L670.5,228.8L666,224.3L663.8,224.3L661.5,222L659.2,222L654.7,217.5L652.4,217.5L650.2,215.3L647.9,215.3L643.4,210.8L641.1,210.8L638.9,208.5L636.6,208.5L634.3,206.3L632.1,206.3L627.6,201.7L625.3,201.7L623,199.5L620.8,199.5L618.5,197.2L616.2,197.2L614,195L611.7,195L609.5,192.7L607.2,192.7L604.9,190.5L602.7,190.5L600.4,188.2L598.2,188.2L595.9,186L593.6,186L591.4,183.7L589.1,183.7L586.8,181.5L584.6,181.5L582.3,179.2L580.1,179.2L577.8,176.9L575.5,176.9L573.3,174.7L571,174.7L568.7,172.4L564.2,172.4L562,170.2L559.7,170.2L557.4,167.9L555.2,167.9L552.9,165.7L548.4,165.7L546.1,163.4L543.9,163.4L541.6,161.2L539.3,161.2L537.1,158.9L532.5,158.9L530.3,156.7L528,156.7L525.8,154.4L521.2,154.4L519,152.1L516.7,152.1L514.4,149.9L509.9,149.9L507.7,147.6L503.1,147.6L500.9,145.4L498.6,145.4L496.4,143.1L491.8,143.1L489.6,140.9L485,140.9L482.8,138.6L478.3,138.6L476,136.4L473.7,136.4L471.5,134.1L466.9,134.1L464.7,131.9L460.2,131.9L457.9,129.6L453.4,129.6L451.1,127.3L446.6,127.3L444.3,125.1L437.5,125.1L435.3,122.8L430.7,122.8L428.5,120.6L424,120.6L421.7,118.3L417.2,118.3L414.9,116.1L408.1,116.1L405.9,113.8L401.3,113.8L399.1,111.6L392.3,111.6L390,109.3L385.5,109.3L383.2,107.1L376.5,107.1L374.2,104.8L367.4,104.8L365.1,102.5L358.4,102.5L356.1,100.3L351.6,100.3L349.3,98L342.5,98L340.3,95.8L333.5,95.8L331.2,93.5L322.2,93.5L319.9,91.3L313.1,91.3L310.8,89L304.1,89L301.8,86.8L292.7,86.8L290.5,84.5L283.7,84.5L281.4,82.3L272.4,82.3L270.1,80L263.3,80L261.1,77.7L252,77.7L249.8,75.5L240.7,75.5L238.5,73.2L229.4,73.2L227.1,71L218.1,71L215.8,68.7L204.5,68.7L202.3,66.5L200,66.5L200,68.7L202.3,71L202.3,82.3L204.5,84.5L204.5,93.5L206.8,95.8L206.8,104.8L209,107.1L209,116.1L211.3,118.3L211.3,127.3L213.6,129.6L213.6,136.4L215.8,138.6L215.8,147.6L218.1,149.9L218.1,156.7L220.4,158.9L220.4,167.9L222.6,170.2L222.6,176.9L224.9,179.2L224.9,186L227.1,188.2L227.1,197.2L229.4,199.5L229.4,206.3L231.7,208.5L231.7,215.3L233.9,217.5L233.9,222L236.2,224.3L236.2,231.1L238.5,233.3L238.5,240.1L240.7,242.3L240.7,249.1L243,251.3L243,255.8L245.2,258.1L245.2,264.9L247.5,267.1L247.5,271.6L249.8,273.9L249.8,280.6L252,282.9L252,287.4L254.3,289.7L254.3,294.2L256.6,296.4L256.6,300.9L258.8,303.2L258.8,310L261.1,312.2L261.1,316.7L263.3,319L263.3,323.5L265.6,325.7L265.6,330.2L267.9,332.5L267.9,337L270.1,339.3L270.1,341.5L272.4,343.8L272.4,348.3L274.7,350.5L274.7,355L276.9,357.3L276.9,361.8L279.2,364.1L279.2,366.3L281.4,368.6L281.4,373.1L283.7,375.3L283.7,379.8L286,382.1L286,384.4L288.2,386.6L288.2,391.1L290.5,393.4L290.5,395.6L292.7,397.9L292.7,402.4L295,404.6L295,406.9L297.3,409.2L297.3,411.4L299.5,413.7L299.5,418.2L301.8,420.4L301.8,422.7L304.1,424.9L304.1,427.2L306.3,429.4L306.3,434L308.6,436.2L308.6,438.5L310.8,440.7L310.8,443L313.1,445.2L313.1,447.5L315.4,449.7L315.4,452L317.6,454.2L317.6,456.5L319.9,458.8L319.9,461L322.2,463.3L322.2,465.5L324.4,467.8L324.4,470L326.7,472.3L326.7,474.5L328.9,476.8L328.9,479L331.2,481.3L331.2,483.6L333.5,485.8L333.5,488.1L335.7,490.3L335.7,492.6L340.3,497.1L340.3,499.3L342.5,501.6L342.5,503.8L344.8,506.1L344.8,508.4L349.3,512.9L349.3,515.1L351.6,517.4L351.6,519.6L356.1,524.1L356.1,526.4L358.4,528.6L358.4,530.9L362.9,535.4L362.9,537.7L367.4,542.2L367.4,544.4L371.9,548.9L371.9,551.2L376.5,555.7L376.5,558L381,562.5L381,564.7L387.8,571.5L387.8,573.7L394.5,580.5L394.5,582.8L401.3,589.5L401.3,591.8L410.4,600.8L410.4,603L424,616.6L424,618.8L478.3,672.9L480.5,672.9L494.1,686.5L496.4,686.5L505.4,695.5L507.7,695.5L514.4,702.2L516.7,702.2L523.5,709L525.8,709L532.5,715.8L534.8,715.8L539.3,720.3L541.6,720.3L546.1,724.8L548.4,724.8L552.9,729.3L555.2,729.3L559.7,733.8L562,733.8L566.5,738.3L568.7,738.3L571,740.6L573.3,740.6L577.8,745.1L580.1,745.1L582.3,747.3L584.6,747.3L589.1,751.8L591.4,751.8L593.6,754.1L595.9,754.1L598.2,756.3L600.4,756.3L604.9,760.9L607.2,760.9L609.5,763.1L611.7,763.1L614,765.4L616.2,765.4L618.5,767.6L620.8,767.6L623,769.9L625.3,769.9L627.6,772.1L629.8,772.1L632.1,774.4L634.3,774.4L636.6,776.6L638.9,776.6L641.1,778.9L643.4,778.9L645.7,781.1L647.9,781.1L650.2,783.4L652.4,783.4L654.7,785.7L657,785.7L659.2,787.9L661.5,787.9L663.8,790.2L668.3,790.2L670.5,792.4L672.8,792.4L675.1,794.7L677.3,794.7L679.6,796.9L684.1,796.9L686.4,799.2L688.6,799.2L690.9,801.4L693.2,801.4L695.4,803.7L700,803.7L702.2,805.9L704.5,805.9L706.7,808.2L711.3,808.2L713.5,810.5L715.8,810.5L718.1,812.7L722.6,812.7L724.8,815L729.4,815L731.6,817.2L733.9,817.2L736.1,819.5L740.7,819.5L742.9,821.7L747.5,821.7L749.7,824L754.2,824L756.5,826.2L758.8,826.2L761,828.5L765.6,828.5L767.8,830.7L772.3,830.7L774.6,833L779.1,833L781.4,835.3L785.9,835.3L788.2,837.5L795,837.5L797.2,839.8L801.8,839.8L804,842L808.5,842L810.8,844.3L815.3,844.3L817.6,846.5L824.4,846.5L826.6,848.8L831.2,848.8L833.4,851L840.2,851L842.5,853.3L847,853.3L849.3,855.5L856,855.5L858.3,857.8L865.1,857.8L867.4,860.1L874.1,860.1L876.4,862.3L880.9,862.3L883.2,864.6L890,864.6L892.2,866.8L899,866.8L901.3,869.1L910.3,869.1L912.6,871.3L919.4,871.3L921.7,873.6L928.4,873.6L930.7,875.8L939.8,875.8L942,878.1L948.8,878.1L951.1,880.3L960.1,880.3L962.4,882.6L969.2,882.6L971.4,884.9L980.5,884.9L982.7,887.1L991.8,887.1L994,889.4L1003.1,889.4L1005.4,891.6L1014.4,891.6L1016.7,893.9ZM715.8,627.9L702.2,627.1L686.4,624.8L670.5,621.3L657,617.4L641.1,611.6L626.6,605.3L611.7,597.7L597.8,589.5L584.3,580.5L571,570.5L558.9,560.2L546.1,548L534.4,535.4L523.5,522.2L513.4,508.4L504.7,494.8L496.4,480L489.3,465.5L482.9,449.7L477.6,434L473.6,418.2L470.8,402.4L469.3,386.6L469.2,373.1L470.4,359.6L473,346L476.5,334.8L481.5,323.5L487.3,314.1L494.4,305.4L503.1,297.4L512.2,291.2L519,287.5L525.8,284.5L532.5,282.2L541.6,279.8L557.4,277.3L575.5,276.7L595.9,278.3L616.2,282.1L636.6,287.7L657,295.3L677.3,304.9L695.4,315.2L713.5,327.4L729.4,340L745.2,354.7L758.8,369.4L772.3,386.6L784.3,404.6L795.6,424.9L804.7,445.2L812.6,467.8L817.7,488.1L820.7,508.4L821.6,528.6L820.2,546.7L818.5,555.7L816.1,564.7L810.7,578.2L807,585L802.5,591.8L797.2,598.2L792.7,602.7L787.1,607.6L780.6,612.1L767.8,618.8L761,621.4L752,624.1L742.9,626L733.9,627.2Z"/>
<path fill="#0000ff" fill-rule="evenodd" d="M1028,893.9L1030.2,896.1L1032.5,896.1L1032.5,893.9L1030.2,891.6L1030.2,880.3L1028,878.1L1028,869.1L1025.7,866.8L1025.7,857.8L1023.5,855.5L1023.5,846.5L1021.2,844.3L1021.2,835.3L1018.9,833L1018.9,826.2L1016.7,824L1016.7,815L1014.4,812.7L1014.4,805.9L1012.1,803.7L1012.1,794.7L1009.9,792.4L1009.9,785.7L1007.6,783.4L1007.6,776.6L1005.4,774.4L1005.4,765.4L1003.1,763.1L1003.1,756.3L1000.8,754.1L1000.8,747.3L998.6,745.1L998.6,740.6L996.3,738.3L996.3,731.5L994,729.3L994,722.5L991.8,720.3L991.8,713.5L989.5,711.3L989.5,706.8L987.3,704.5L987.3,697.7L985,695.5L985,691L982.7,688.7L982.7,682L980.5,679.7L980.5,675.2L978.2,672.9L978.2,668.4L975.9,666.2L975.9,661.7L973.7,659.4L973.7,652.6L971.4,650.4L971.4,645.9L969.2,643.6L969.2,639.1L966.9,636.9L966.9,632.4L964.6,630.1L964.6,625.6L962.4,623.3L962.4,621.1L960.1,618.8L960.1,614.3L957.8,612.1L957.8,607.6L955.6,605.3L955.6,600.8L953.3,598.5L953.3,596.3L951.1,594L951.1,589.5L948.8,587.3L948.8,582.8L946.5,580.5L946.5,578.2L944.3,576L944.3,571.5L942,569.2L942,567L939.8,564.7L939.8,560.2L937.5,558L937.5,555.7L935.2,553.4L935.2,551.2L933,548.9L933,544.4L930.7,542.2L930.7,539.9L928.4,537.7L928.4,535.4L926.2,533.2L926.2,528.6L923.9,526.4L923.9,524.1L921.7,521.9L921.7,519.6L919.4,517.4L919.4,515.1L917.1,512.9L917.1,510.6L914.9,508.4L914.9,506.1L912.6,503.8L912.6,501.6L910.3,499.3L910.3,497.1L908.1,494.8L908.1,492.6L905.8,490.3L905.8,488.1L903.6,485.8L903.6,483.6L901.3,481.3L901.3,479L899,476.8L899,474.5L896.8,472.3L896.8,470L892.2,465.5L892.2,463.3L890,461L890,458.8L887.7,456.5L887.7,454.2L883.2,449.7L883.2,447.5L880.9,445.2L880.9,443L876.4,438.5L876.4,436.2L874.1,434L874.1,431.7L869.6,427.2L869.6,424.9L865.1,420.4L865.1,418.2L860.6,413.7L860.6,411.4L856,406.9L856,404.6L851.5,400.1L851.5,397.9L844.7,391.1L844.7,388.9L838,382.1L838,379.8L831.2,373.1L831.2,370.8L822.1,361.5L800.3,341.5L779.4,321.2L757.3,298.7L736.5,276.1L727.1,267.1L724.8,267.1L718.1,260.4L715.8,260.4L709,253.6L706.7,253.6L700,246.8L697.7,246.8L693.2,242.3L690.9,242.3L686.4,237.8L684.1,237.8L679.6,233.3L677.3,233.3L672.8,228.8L670.5,228.8L666,224.3L663.8,224.3L661.5,222L659.2,222L654.7,217.5L652.4,217.5L650.2,215.3L647.9,215.3L643.4,210.8L641.1,210.8L638.9,208.5L636.6,208.5L634.3,206.3L632.1,206.3L627.6,201.7L625.3,201.7L623,199.5L620.8,199.5L618.5,197.2L616.2,197.2L614,195L611.7,195L609.5,192.7L607.2,192.7L604.9,190.5L602.7,190.5L600.4,188.2L598.2,188.2L595.9,186L593.6,186L591.4,183.7L589.1,183.7L586.8,181.5L584.6,181.5L582.3,179.2L580.1,179.2L577.8,176.9L575.5,176.9L573.3,174.7L571,174.7L568.7,172.4L564.2,172.4L562,170.2L559.7,170.2L557.4,167.9L555.2,167.9L552.9,165.7L548.4,165.7L546.1,163.4L543.9,163.4L541.6,161.2L539.3,161.2L537.1,158.9L532.5,158.9L530.3,156.7L528,156.7L525.8,154.4L521.2,154.4L519,152.1L516.7,152.1L514.4,149.9L509.9,149.9L507.7,147.6L503.1,147.6L500.9,145.4L498.6,145.4L496.4,143.1L491.8,143.1L489.6,140.9L485,140.9L482.8,138.6L478.3,138.6L476,136.4L473.7,136.4L471.5,134.1L466.9,134.1L464.7,131.9L460.2,131.9L457.9,129.6L453.4,129.6L451.1,127.3L446.6,127.3L444.3,125.1L437.5,125.1L435.3,122.8L430.7,122.8L428.5,120.6L424,120.6L421.7,118.3L417.2,118.3L414.9,116.1L408.1,116.1L405.9,113.8L401.3,113.8L399.1,111.6L392.3,111.6L390,109.3L385.5,109.3L383.2,107.1L376.5,107.1L374.2,104.8L367.4,104.8L365.1,102.5L358.4,102.5L356.1,100.3L351.6,100.3L349.3,98L342.5,98L340.3,95.8L333.5,95.8L331.2,93.5L322.2,93.5L319.9,91.3L313.1,91.3L310.8,89L304.1,89L301.8,86.8L292.7,86.8L290.5,84.5L283.7,84.5L281.4,82.3L272.4,82.3L270.1,80L263.3,80L261.1,77.7L252,77.7L249.8,75.5L240.7,75.5L238.5,73.2L229.4,73.2L227.1,71L218.1,71L215.8,68.7L204.5,68.7L202.3,66.5L200,66.5L200,68.7L202.3,71L202.3,82.3L204.5,84.5L204.5,93.5L206.8,95.8L206.8,104.8L209,107.1L209,116.1L211.3,118.3L211.3,127.3L213.6,129.6L213.6,136.4L215.8,138.6L215.8,147.6L218.1,149.9L218.1,156.7L220.4,158.9L220.4,167.9L222.6,170.2L222.6,176.9L224.9,179.2L224.9,186L227.1,188.2L227.1,197.2L229.4,199.5L229.4,206.3L231.7,208.5L231.7,215.3L233.9,217.5L233.9,222L236.2,224.3L236.2,231.1L238.5,233.3L238.5,240.1L240.7,242.3L240.7,249.1L243,251.3L243,255.8L245.2,258.1L245.2,264.9L247.5,267.1L247.5,271.6L249.8,273.9L249.8,280.6L252,282.9L252,287.4L254.3,289.7L254.3,294.2L256.6,296.4L256.6,300.9L258.8,303.2L258.8,310L261.1,312.2L261.1,316.7L263.3,319L263.3,323.5L265.6,325.7L265.6,330.2L267.9,332.5L267.9,337L270.1,339.3L270.1,341.5L272.4,343.8L272.4,348.3L274.7,350.5L274.7,355L276.9,357.3L276.9,361.8L279.2,364.1L279.2,366.3L281.4,368.6L281.4,373.1L283.7,375.3L283.7,379.8L286,382.1L286,384.4L288.2,386.6L288.2,391.1L290.5,393.4L290.5,395.6L292.7,397.9L292.7,402.4L295,404.6L295,406.9L297.3,409.2L297.3,411.4L299.5,413.7L299.5,418.2L301.8,420.4L301.8,422.7L304.1,424.9L304.1,427.2L306.3,429.4L306.3,434L308.6,436.2L308.6,438.5L310.8,440.7L310.8,443L313.1,445.2L313.1,447.5L315.4,449.7L315.4,452L317.6,454.2L317.6,456.5L319.9,458.8L319.9,461L322.2,463.3L322.2,465.5L324.4,467.8L324.4,470L326.7,472.3L326.7,474.5L328.9,476.8L328.9,479L331.2,481.3L331.2,483.6L333.5,485.8L333.5,488.1L335.7,490.3L335.7,492.6L340.3,497.1L340.3,499.3L342.5,501.6L342.5,503.8L344.8,506.1L344.8,508.4L349.3,512.9L349.3,515.1L351.6,517.4L351.6,519.6L356.1,524.1L356.1,526.4L358.4,528.6L358.4,530.9L362.9,535.4L362.9,537.7L367.4,542.2L367.4,544.4L371.9,548.9L371.9,551.2L376.5,555.7L376.5,558L381,562.5L381,564.7L387.8,571.5L387.8,573.7L394.5,580.5L394.5,582.8L401.3,589.5L401.3,591.8L410.4,600.8L410.4,603L424,616.6L424,618.8L478.3,672.9L480.5,672.9L494.1,686.5L496.4,686.5L505.4,695.5L507.7,695.5L514.4,702.2L516.7,702.2L523.5,709L525.8,709L532.5,715.8L534.8,715.8L539.3,720.3L541.6,720.3L546.1,724.8L548.4,724.8L552.9,729.3L555.2,729.3L559.7,733.8L562,733.8L566.5,738.3L568.7,738.3L571,740.6L573.3,740.6L577.8,745.1L580.1,745.1L582.3,747.3L584.6,747.3L589.1,751.8L591.4,751.8L593.6,754.1L595.9,754.1L598.2,756.3L600.4,756.3L604.9,760.9L607.2,760.9L609.5,763.1L611.7,763.1L614,765.4L616.2,765.4L618.5,767.6L620.8,767.6L623,769.9L625.3,769.9L627.6,772.1L629.8,772.1L632.1,774.4L634.3,774.4L636.6,776.6L638.9,776.6L641.1,778.9L643.4,778.9L645.7,781.1L647.9,781.1L650.2,783.4L652.4,783.4L654.7,785.7L657,785.7L659.2,787.9L661.5,787.9L663.8,790.2L668.3,790.2L670.5,792.4L672.8,792.4L675.1,794.7L677.3,794.7L679.6,796.9L684.1,796.9L686.4,799.2L688.6,799.2L690.9,801.4L693.2,801.4L695.4,803.7L700,803.7L702.2,805.9L704.5,805.9L706.7,808.2L711.3,808.2L713.5,810.5L715.8,810.5L718.1,812.7L722.6,812.7L724.8,815L729.4,815L731.6,817.2L733.9,817.2L736.1,819.5L740.7,819.5L742.9,821.7L747.5,821.7L749.7,824L754.2,824L756.5,826.2L758.8,826.2L761,828.5L765.6,828.5L767.8,830.7L772.3,830.7L774.6,833L779.1,833L781.4,835.3L785.9,835.3L788.2,837.5L795,837.5L797.2,839.8L801.8,839.8L804,842L808.5,842L810.8,844.3L815.3,844.3L817.6,846.5L824.4,846.5L826.6,848.8L831.2,848.8L833.4,851L840.2,851L842.5,853.3L847,853.3L849.3,855.5L856,855.5L858.3,857.8L865.1,857.8L867.4,860.1L874.1,860.1L876.4,862.3L880.9,862.3L883.2,864.6L890,864.6L892.2,866.8L899,866.8L901.3,869.1L910.3,869.1L912.6,871.3L919.4,871.3L921.7,873.6L928.4,873.6L930.7,875.8L939.8,875.8L942,878.1L948.8,878.1L951.1,880.3L960.1,880.3L962.4,882.6L969.2,882.6L971.4,884.9L980.5,884.9L982.7,887.1L991.8,887.1L994,889.4L1003.1,889.4L1005.4,891.6L1014.4,891.6L1016.7,893.9ZM702.2,641.5L686.4,639L670.5,635.4L654.7,630.7L638.9,624.8L623,617.9L607.2,609.8L592,600.8L577.8,591.3L564.2,581.1L550.6,569.6L538.4,558L525.8,544.6L514.4,531L504.3,517.4L494.1,501.9L486.1,488.1L478.1,472.3L471.3,456.5L464.9,438.5L460.5,422.7L457.1,406.9L455,391.1L454.1,375.3L454.6,359.6L456.4,346L459.6,332.5L463.6,321.2L469.3,310L476,300.1L483.3,291.9L491.8,284.5L503.1,277.3L510,273.9L519,270.4L534.8,266.2L543.9,264.8L555.2,263.8L575.5,263.9L598.2,266.5L620.8,271.2L643.4,278.1L667,287.4L688.6,298L709,310.1L728,323.5L745.2,337.9L761,353.8L775.3,370.8L788.2,389L800.1,409.2L811.2,431.7L820.9,456.5L828.2,481.3L832.5,503.8L833.9,515.1L834.6,526.4L834.7,537.7L834,548.9L832.9,558L831.1,567L828.6,576L825.3,585L821,594L816.9,600.8L811.9,607.6L806.3,613.8L800.9,618.8L795,623.4L788.1,627.8L779.3,632.4L770.1,636L761,638.7L752,640.6L742.9,641.9L733.9,642.7L722.6,642.9Z"/>
<path fill="#0010ff" fill-rule="evenodd" d="M1028,893.9L1030.2,896.1L1032.5,896.1L1032.5,893.9L1030.2,891.6L1030.2,880.3L1028,878.1L1028,869.1L1025.7,866.8L1025.7,857.8L1023.5,855.5L1023.5,846.5L1021.2,844.3L1021.2,835.3L1018.9,833L1018.9,826.2L1016.7,824L1016.7,815L1014.4,812.7L1014.4,805.9L1012.1,803.7L1012.1,794.7L1009.9,792.4L1009.9,785.7L1007.6,783.4L1007.6,776.6L1005.4,774.4L1005.4,765.4L1003.1,763.1L1003.1,756.3L1000.8,754.1L1000.8,747.3L998.6,745.1L998.6,740.6L996.3,738.3L996.3,731.5L994,729.3L994,722.5L991.8,720.3L991.8,713.5L989.5,711.3L989.5,706.8L987.3,704.5L987.3,697.7L985,695.5L985,691L982.7,688.7L982.7,682L980.5,679.7L980.5,675.2L978.2,672.9L978.2,668.4L975.9,666.2L975.9,661.7L973.7,659.4L973.7,652.6L971.4,650.4L971.4,645.9L969.2,643.6L969.2,639.1L966.9,636.9L966.9,632.4L964.6,630.1L964.6,625.6L962.4,623.3L962.4,621.1L960.1,618.8L960.1,614.3L957.8,612.1L957.8,607.6L955.6,605.3L955.6,600.8L953.3,598.5L953.3,596.3L951.1,594L951.1,589.5L948.8,587.3L948.8,582.8L946.5,580.5L946.5,578.2L944.3,576L944.3,571.5L942,569.2L942,567L939.8,564.7L939.8,560.2L937.5,558L937.5,555.7L935.2,553.4L935.2,551.2L933,548.9L933,544.4L930.7,542.2L930.7,539.9L928.4,537.7L928.4,535.4L926.2,533.2L926.2,528.6L923.9,526.4L923.9,524.1L921.7,521.9L921.7,519.6L919.4,517.4L919.4,515.1L917.1,512.9L917.1,510.6L914.9,508.4L914.9,506.1L912.6,503.8L912.6,501.6L910.3,499.3L910.3,497.1L908.1,494.8L908.1,492.6L905.8,490.3L905.8,488.1L903.6,485.8L903.6,483.6L901.3,481.3L901.3,479L899,476.8L899,474.5L896.8,472.3L896.8,470L892.2,465.5L892.2,463.3L890,461L890,458.8L887.7,456.5L887.7,454.2L883.2,449.7L883.2,447.5L880.9,445.2L880.9,443L876.4,438.5L876.4,436.2L874.1,434L874.1,431.7L869.6,427.2L869.6,424.9L865.1,420.4L865.1,418.2L860.6,413.7L860.6,411.5L835.7,391.2L810.8,369.7L809.9,370.8L813.3,375.3L813.1,377L810.8,376.1L801.8,370.3L799.5,369.3L797.2,369.6L796.9,370.8L797.3,373.1L799,377.6L813.8,409.2L820.7,424.9L827.7,443L833.4,460.1L838.1,476.8L842.2,494.8L845,512.9L846.4,528.6L846.7,544.4L845.6,560.2L842.9,576L839.1,589.5L834.4,600.8L828,612.1L819.9,622.7L810.8,631.4L801.8,638.1L792.7,643.4L783.7,647.4L772.3,651.2L761,653.9L749.7,655.6L736.1,656.5L722.6,656.4L709,655.4L695.4,653.6L679.6,650.4L666,646.9L652.4,642.6L636.9,636.9L623,630.8L609.5,624.2L588.3,612.1L568.3,598.5L548.4,582.8L531.3,567L514.5,548.9L500,530.9L486,510.6L473.7,489.6L462.4,466.1L453.6,443L447.1,420.4L442.7,397.9L440.5,375.3L440.8,355L443.1,337L445.1,328L447.9,319L453.6,305.4L460.4,294.2L469.7,282.9L480.5,273.4L491.8,266.2L505.4,260.1L521.2,255.4L537.1,252.7L557.4,251.6L577.8,252.6L600.4,255.7L621.5,260.4L643.4,266.7L666,274.8L688.6,284.4L719.2,298.7L724.8,300.9L727.1,301.3L728.3,300.9L728.6,298.7L726.2,294.2L721.8,287.4L721,285.2L722.6,284.9L727.1,288.3L728.2,287.4L706.6,262.6L686.2,237.8L684.1,237.8L679.6,233.3L677.3,233.3L672.8,228.8L670.5,228.8L666,224.3L663.8,224.3L661.5,222L659.2,222L654.7,217.5L652.4,217.5L650.2,215.3L647.9,215.3L643.4,210.8L641.1,210.8L638.9,208.5L636.6,208.5L634.3,206.3L632.1,206.3L627.6,201.7L625.3,201.7L623,199.5L620.8,199.5L618.5,197.2L616.2,197.2L614,195L611.7,195L609.5,192.7L607.2,192.7L604.9,190.5L602.7,190.5L600.4,188.2L598.2,188.2L595.9,186L593.6,186L591.4,183.7L589.1,183.7L586.8,181.5L584.6,181.5L582.3,179.2L580.1,179.2L577.8,176.9L575.5,176.9L573.3,174.7L571,174.7L568.7,172.4L564.2,172.4L562,170.2L559.7,170.2L557.4,167.9L555.2,167.9L552.9,165.7L548.4,165.7L546.1,163.4L543.9,163.4L541.6,161.2L539.3,161.2L537.1,158.9L532.5,158.9L530.3,156.7L528,156.7L525.8,154.4L521.2,154.4L519,152.1L516.7,152.1L514.4,149.9L509.9,149.9L507.7,147.6L503.1,147.6L500.9,145.4L498.6,145.4L496.4,143.1L491.8,143.1L489.6,140.9L485,140.9L482.8,138.6L478.3,138.6L476,136.4L473.7,136.4L471.5,134.1L466.9,134.1L464.7,131.9L460.2,131.9L457.9,129.6L453.4,129.6L451.1,127.3L446.6,127.3L444.3,125.1L437.5,125.1L435.3,122.8L430.7,122.8L428.5,120.6L424,120.6L421.7,118.3L417.2,118.3L414.9,116.1L408.1,116.1L405.9,113.8L401.3,113.8L399.1,111.6L392.3,111.6L390,109.3L385.5,109.3L383.2,107.1L376.5,107.1L374.2,104.8L367.4,104.8L365.1,102.5L358.4,102.5L356.1,100.3L351.6,100.3L349.3,98L342.5,98L340.3,95.8L333.5,95.8L331.2,93.5L322.2,93.5L319.9,91.3L313.1,91.3L310.8,89L304.1,89L301.8,86.8L292.7,86.8L290.5,84.5L283.7,84.5L281.4,82.3L272.4,82.3L270.1,80L263.3,80L261.1,77.7L252,77.7L249.8,75.5L240.7,75.5L238.5,73.2L229.4,73.2L227.1,71L218.1,71L215.8,68.7L204.5,68.7L202.3,66.5L200,66.5L200,68.7L202.3,71L202.3,82.3L204.5,84.5L204.5,93.5L206.8,95.8L206.8,104.8L209,107.1L209,116.1L211.3,118.3L211.3,127.3L213.6,129.6L213.6,136.4L215.8,138.6L215.8,147.6L218.1,149.9L218.1,156.7L220.4,158.9L220.4,167.9L222.6,170.2L222.6,176.9L224.9,179.2L224.9,186L227.1,188.2L227.1,197.2L229.4,199.5L229.4,206.3L231.7,208.5L231.7,215.3L233.9,217.5L233.9,222L236.2,224.3L236.2,231.1L238.5,233.3L238.5,240.1L240.7,242.3L240.7,249.1L243,251.3L243,255.8L245.2,258.1L245.2,264.9L247.5,267.1L247.5,271.6L249.8,273.9L249.8,280.6L252,282.9L252,287.4L254.3,289.7L254.3,294.2L256.6,296.4L256.6,300.9L258.8,303.2L258.8,310L261.1,312.2L261.1,316.7L263.3,319L263.3,323.5L265.6,325.7L265.6,330.2L267.9,332.5L267.9,337L270.1,339.3L270.1,341.5L272.4,343.8L272.4,348.3L274.7,350.5L274.7,355L276.9,357.3L276.9,361.8L279.2,364.1L279.2,366.3L281.4,368.6L281.4,373.1L283.7,375.3L283.7,379.8L286,382.1L286,384.4L288.2,386.6L288.2,391.1L290.5,393.4L290.5,395.6L292.7,397.9L292.7,402.4L295,404.6L295,406.9L297.3,409.2L297.3,411.4L299.5,413.7L299.5,418.2L301.8,420.4L301.8,422.7L304.1,424.9L304.1,427.2L306.3,429.4L306.3,434L308.6,436.2L308.6,438.5L310.8,440.7L310.8,443L313.1,445.2L313.1,447.5L315.4,449.7L315.4,452L317.6,454.2L317.6,456.5L319.9,458.8L319.9,461L322.2,463.3L322.2,465.5L324.4,467.8L324.4,470L326.7,472.3L326.7,474.5L328.9,476.8L328.9,479L331.2,481.3L331.2,483.6L333.5,485.8L333.5,488.1L335.7,490.3L335.7,492.6L340.3,497.1L340.3,499.3L342.5,501.6L342.5,503.8L344.8,506.1L344.8,508.4L349.3,512.9L349.3,515.1L351.6,517.4L351.6,519.6L356.1,524.1L356.1,526.4L358.4,528.6L358.4,530.9L362.9,535.4L362.9,537.7L367.4,542.2L367.4,544.4L371.9,548.9L371.9,551.2L376.5,555.7L376.5,558L381,562.5L381,564.7L387.8,571.5L387.8,573.7L394.5,580.5L394.5,582.8L401.3,589.5L401.3,591.8L410.4,600.8L410.4,603L424,616.6L424,618.8L478.3,672.9L480.5,672.9L494.1,686.5L496.4,686.5L505.4,695.5L507.7,695.5L514.4,702.2L516.7,702.2L523.5,709L525.8,709L532.5,715.8L534.8,715.8L539.3,720.3L541.6,720.3L546.1,724.8L548.4,724.8L552.9,729.3L555.2,729.3L559.7,733.8L562,733.8L566.5,738.3L568.7,738.3L571,740.6L573.3,740.6L577.8,745.1L580.1,745.1L582.3,747.3L584.6,747.3L589.1,751.8L591.4,751.8L593.6,754.1L595.9,754.1L598.2,756.3L600.4,756.3L604.9,760.9L607.2,760.9L609.5,763.1L611.7,763.1L614,765.4L616.2,765.4L618.5,767.6L620.8,767.6L623,769.9L625.3,769.9L627.6,772.1L629.8,772.1L632.1,774.4L634.3,774.4L636.6,776.6L638.9,776.6L641.1,778.9L643.4,778.9L645.7,781.1L647.9,781.1L650.2,783.4L652.4,783.4L654.7,785.7L657,785.7L659.2,787.9L661.5,787.9L663.8,790.2L668.3,790.2L670.5,792.4L672.8,792.4L675.1,794.7L677.3,794.7L679.6,796.9L684.1,796.9L686.4,799.2L688.6,799.2L690.9,801.4L693.2,801.4L695.4,803.7L700,803.7L702.2,805.9L704.5,805.9L706.7,808.2L711.3,808.2L713.5,810.5L715.8,810.5L718.1,812.7L722.6,812.7L724.8,815L729.4,815L731.6,817.2L733.9,817.2L736.1,819.5L740.7,819.5L742.9,821.7L747.5,821.7L749.7,824L754.2,824L756.5,826.2L758.8,826.2L761,828.5L765.6,828.5L767.8,830.7L772.3,830.7L774.6,833L779.1,833L781.4,835.3L785.9,835.3L788.2,837.5L795,837.5L797.2,839.8L801.8,839.8L804,842L808.5,842L810.8,844.3L815.3,844.3L817.6,846.5L824.4,846.5L826.6,848.8L831.2,848.8L833.4,851L840.2,851L842.5,853.3L847,853.3L849.3,855.5L856,855.5L858.3,857.8L865.1,857.8L867.4,860.1L874.1,860.1L876.4,862.3L880.9,862.3L883.2,864.6L890,864.6L892.2,866.8L899,866.8L901.3,869.1L910.3,869.1L912.6,871.3L919.4,871.3L921.7,873.6L928.4,873.6L930.7,875.8L939.8,875.8L942,878.1L948.8,878.1L951.1,880.3L960.1,880.3L962.4,882.6L969.2,882.6L971.4,884.9L980.5,884.9L982.7,887.1L991.8,887.1L994,889.4L1003.1,889.4L1005.4,891.6L1014.4,891.6L1016.7,893.9Z"/>
<path fill="#0020ff" fill-rule="evenodd" d="M1028,893.9L1030.2,896.1L1032.5,896.1L1032.5,893.9L1030.2,891.6L1030.2,880.3L1028,878.1L1028,869.1L1025.7,866.8L1025.7,857.8L1023.5,855.5L1023.5,846.5L1021.2,844.3L1021.2,835.3L1018.9,833L1018.9,826.2L1016.7,824L1016.7,815L1014.4,812.7L1014.4,805.9L1012.1,803.7L1012.1,794.7L1009.9,792.4L1009.9,785.7L1007.6,783.4L1007.6,776.6L1005.4,774.4L1005.4,765.4L1003.1,763.1L1003.1,756.3L1000.8,754.1L1000.8,747.3L998.6,745.1L998.6,740.6L996.3,738.3L996.3,731.5L994,729.3L994,722.5L991.8,720.3L991.8,713.5L989.5,711.3L989.5,706.8L987.3,704.5L987.3,697.7L985,695.5L985,691L982.7,688.7L982.7,682L980.5,679.7L980.5,675.2L978.2,672.9L978.2,668.4L975.9,666.2L975.9,661.7L973.7,659.4L973.7,652.6L971.4,650.4L971.4,645.9L969.2,643.6L969.2,639.1L966.9,636.9L966.9,632.4L964.6,630.1L964.6,625.6L962.4,623.3L962.4,621.1L960.1,618.8L960.1,614.3L957.8,612.1L957.8,607.6L955.6,605.3L955.6,600.8L953.3,598.5L953.3,596.3L951.1,594L951.1,589.5L948.8,587.3L948.8,582.8L946.5,580.5L946.5,578.2L944.3,576L944.3,571.5L942,569.2L942,567L939.8,564.7L939.8,560.2L937.5,558L937.5,555.7L935.2,553.4L935.2,551.2L933,548.9L933,544.4L930.7,542.2L930.7,539.9L928.4,537.7L928.4,535.4L926.2,533.2L926.2,528.6L923.9,526.4L923.9,524.1L921.7,521.9L921.7,519.6L919.4,517.4L919.4,515.1L917.1,512.9L917.1,510.6L914.9,508.4L914.9,506.1L912.6,503.8L912.6,501.6L910.3,499.3L910.3,497.1L908.1,494.8L908.1,492.6L905.8,490.3L905.8,488.1L903.6,485.8L903.6,483.6L901.3,481.3L901.3,479L899,476.8L899,474.5L896.8,472.3L896.8,470L892.2,465.5L892.2,463.3L890,461L890,458.8L887.7,456.5L887.7,454.2L883.2,449.7L883.2,447.5L880.9,445.2L880.9,443.7L849.3,419.5L848.2,420.4L847.8,422.7L847,423.4L840.2,421.2L838,422.1L837.6,422.7L837.1,427.2L838.1,434L849.9,481.3L853,497.1L855.5,512.9L857.1,528.6L857.7,542.2L857.5,555.7L856.4,569.2L854.2,582.8L851.3,594L847,606L841.9,616.6L835.7,626.3L828.9,634.6L819.9,643.3L810.8,649.9L801.8,655.2L792.4,659.4L781.4,663.2L769,666.2L756.5,668.1L742.9,669L729.4,669.1L715.8,668.2L700,666.2L686.4,663.7L670.5,659.8L657,655.8L641.6,650.4L627.6,644.7L611.7,637.3L598.2,630.1L579.4,618.8L559.7,605.1L540.4,589.5L523.4,573.7L506.6,555.7L491.8,537.4L477.8,517.4L465.7,497.1L455.4,476.8L445.9,454.2L438.4,431.7L432.8,409.2L429.2,386.6L427.8,366.3L428.4,346L431,328L435.2,312.2L440.7,298.7L447,287.4L455.6,276.2L465,267.1L476,259.1L487.3,253L500.9,247.8L516.7,243.8L532.5,241.5L550.6,240.7L571,241.5L589.1,243.5L607.2,246.6L625.3,250.6L661.5,259.7L670.5,261.2L672.8,261.2L675.7,260.4L676.6,258.1L674.3,251.3L675.1,250.6L677.3,250.2L678.3,249.1L653.9,217.5L652.4,217.5L650.2,215.3L647.9,215.3L643.4,210.8L641.1,210.8L638.9,208.5L636.6,208.5L634.3,206.3L632.1,206.3L627.6,201.7L625.3,201.7L623,199.5L620.8,199.5L618.5,197.2L616.2,197.2L614,195L611.7,195L609.5,192.7L607.2,192.7L604.9,190.5L602.7,190.5L600.4,188.2L598.2,188.2L595.9,186L593.6,186L591.4,183.7L589.1,183.7L586.8,181.5L584.6,181.5L582.3,179.2L580.1,179.2L577.8,176.9L575.5,176.9L573.3,174.7L571,174.7L568.7,172.4L564.2,172.4L562,170.2L559.7,170.2L557.4,167.9L555.2,167.9L552.9,165.7L548.4,165.7L546.1,163.4L543.9,163.4L541.6,161.2L539.3,161.2L537.1,158.9L532.5,158.9L530.3,156.7L528,156.7L525.8,154.4L521.2,154.4L519,152.1L516.7,152.1L514.4,149.9L509.9,149.9L507.7,147.6L503.1,147.6L500.9,145.4L498.6,145.4L496.4,143.1L491.8,143.1L489.6,140.9L485,140.9L482.8,138.6L478.3,138.6L476,136.4L473.7,136.4L471.5,134.1L466.9,134.1L464.7,131.9L460.2,131.9L457.9,129.6L453.4,129.6L451.1,127.3L446.6,127.3L444.3,125.1L437.5,125.1L435.3,122.8L430.7,122.8L428.5,120.6L424,120.6L421.7,118.3L417.2,118.3L414.9,116.1L408.1,116.1L405.9,113.8L401.3,113.8L399.1,111.6L392.3,111.6L390,109.3L385.5,109.3L383.2,107.1L376.5,107.1L374.2,104.8L367.4,104.8L365.1,102.5L358.4,102.5L356.1,100.3L351.6,100.3L349.3,98L342.5,98L340.3,95.8L333.5,95.8L331.2,93.5L322.2,93.5L319.9,91.3L313.1,91.3L310.8,89L304.1,89L301.8,86.8L292.7,86.8L290.5,84.5L283.7,84.5L281.4,82.3L272.4,82.3L270.1,80L263.3,80L261.1,77.7L252,77.7L249.8,75.5L240.7,75.5L238.5,73.2L229.4,73.2L227.1,71L218.1,71L215.8,68.7L204.5,68.7L202.3,66.5L200,66.5L200,68.7L202.3,71L202.3,82.3L204.5,84.5L204.5,93.5L206.8,95.8L206.8,104.8L209,107.1L209,116.1L211.3,118.3L211.3,127.3L213.6,129.6L213.6,136.4L215.8,138.6L215.8,147.6L218.1,149.9L218.1,156.7L220.4,158.9L220.4,167.9L222.6,170.2L222.6,176.9L224.9,179.2L224.9,186L227.1,188.2L227.1,197.2L229.4,199.5L229.4,206.3L231.7,208.5L231.7,215.3L233.9,217.5L233.9,222L236.2,224.3L236.2,231.1L238.5,233.3L238.5,240.1L240.7,242.3L240.7,249.1L243,251.3L243,255.8L245.2,258.1L245.2,264.9L247.5,267.1L247.5,271.6L249.8,273.9L249.8,280.6L252,282.9L252,287.4L254.3,289.7L254.3,294.2L256.6,296.4L256.6,300.9L258.8,303.2L258.8,310L261.1,312.2L261.1,316.7L263.3,319L263.3,323.5L265.6,325.7L265.6,330.2L267.9,332.5L267.9,337L270.1,339.3L270.1,341.5L272.4,343.8L272.4,348.3L274.7,350.5L274.7,355L276.9,357.3L276.9,361.8L279.2,364.1L279.2,366.3L281.4,368.6L281.4,373.1L283.7,375.3L283.7,379.8L286,382.1L286,384.4L288.2,386.6L288.2,391.1L290.5,393.4L290.5,395.6L292.7,397.9L292.7,402.4L295,404.6L295,406.9L297.3,409.2L297.3,411.4L299.5,413.7L299.5,418.2L301.8,420.4L301.8,422.7L304.1,424.9L304.1,427.2L306.3,429.4L306.3,434L308.6,436.2L308.6,438.5L310.8,440.7L310.8,443L313.1,445.2L313.1,447.5L315.4,449.7L315.4,452L317.6,454.2L317.6,456.5L319.9,458.8L319.9,461L322.2,463.3L322.2,465.5L324.4,467.8L324.4,470L326.7,472.3L326.7,474.5L328.9,476.8L328.9,479L331.2,481.3L331.2,483.6L333.5,485.8L333.5,488.1L335.7,490.3L335.7,492.6L340.3,497.1L340.3,499.3L342.5,501.6L342.5,503.8L344.8,506.1L344.8,508.4L349.3,512.9L349.3,515.1L351.6,517.4L351.6,519.6L356.1,524.1L356.1,526.4L358.4,528.6L358.4,530.9L362.9,535.4L362.9,537.7L367.4,542.2L367.4,544.4L371.9,548.9L371.9,551.2L376.5,555.7L376.5,558L381,562.5L381,564.7L387.8,571.5L387.8,573.7L394.5,580.5L394.5,582.8L401.3,589.5L401.3,591.8L410.4,600.8L410.4,603L424,616.6L424,618.8L478.3,672.9L480.5,672.9L494.1,686.5L496.4,686.5L505.4,695.5L507.7,695.5L514.4,702.2L516.7,702.2L523.5,709L525.8,709L532.5,715.8L534.8,715.8L539.3,720.3L541.6,720.3L546.1,724.8L548.4,724.8L552.9,729.3L555.2,729.3L559.7,733.8L562,733.8L566.5,738.3L568.7,738.3L571,740.6L573.3,740.6L577.8,745.1L580.1,745.1L582.3,747.3L584.6,747.3L589.1,751.8L591.4,751.8L593.6,754.1L595.9,754.1L598.2,756.3L600.4,756.3L604.9,760.9L607.2,760.9L609.5,763.1L611.7,763.1L614,765.4L616.2,765.4L618.5,767.6L620.8,767.6L623,769.9L625.3,769.9L627.6,772.1L629.8,772.1L632.1,774.4L634.3,774.4L636.6,776.6L638.9,776.6L641.1,778.9L643.4,778.9L645.7,781.1L647.9,781.1L650.2,783.4L652.4,783.4L654.7,785.7L657,785.7L659.2,787.9L661.5,787.9L663.8,790.2L668.3,790.2L670.5,792.4L672.8,792.4L675.1,794.7L677.3,794.7L679.6,796.9L684.1,796.9L686.4,799.2L688.6,799.2L690.9,801.4L693.2,801.4L695.4,803.7L700,803.7L702.2,805.9L704.5,805.9L706.7,808.2L711.3,808.2L713.5,810.5L715.8,810.5L718.1,812.7L722.6,812.7L724.8,815L729.4,815L731.6,817.2L733.9,817.2L736.1,819.5L740.7,819.5L742.9,821.7L747.5,821.7L749.7,824L754.2,824L756.5,826.2L758.8,826.2L761,828.5L765.6,828.5L767.8,830.7L772.3,830.7L774.6,833L779.1,833L781.4,835.3L785.9,835.3L788.2,837.5L795,837.5L797.2,839.8L801.8,839.8L804,842L808.5,842L810.8,844.3L815.3,844.3L817.6,846.5L824.4,846.5L826.6,848.8L831.2,848.8L833.4,851L840.2,851L842.5,853.3L847,853.3L849.3,855.5L856,855.5L858.3,857.8L865.1,857.8L867.4,860.1L874.1,860.1L876.4,862.3L880.9,862.3L883.2,864.6L890,864.6L892.2,866.8L899,866.8L901.3,869.1L910.3,869.1L912.6,871.3L919.4,871.3L921.7,873.6L928.4,873.6L930.7,875.8L939.8,875.8L942,878.1L948.8,878.1L951.1,880.3L960.1,880.3L962.4,882.6L969.2,882.6L971.4,884.9L980.5,884.9L982.7,887.1L991.8,887.1L994,889.4L1003.1,889.4L1005.4,891.6L1014.4,891.6L1016.7,893.9ZM846.6,418.2L847,418.9L847.6,418.2L847,417.7ZM678.9,251.3L679.6,251.7L680.1,251.3L679.6,250.8Z"/>
<path fill="#0030ff" fill-rule="evenodd" d="M1028,893.9L1030.2,896.1L1032.5,896.1L1032.5,893.9L1030.2,891.6L1030.2,880.3L1028,878.1L1028,869.1L1025.7,866.8L1025.7,857.8L1023.5,855.5L1023.5,846.5L1021.2,844.3L1021.2,835.3L1018.9,833L1018.9,826.2L1016.7,824L1016.7,815L1014.4,812.7L1014.4,805.9L1012.1,803.7L1012.1,794.7L1009.9,792.4L1009.9,785.7L1007.6,783.4L1007.6,776.6L1005.4,774.4L1005.4,765.4L1003.1,763.1L1003.1,756.3L1000.8,754.1L1000.8,747.3L998.6,745.1L998.6,740.6L996.3,738.3L996.3,731.5L994,729.3L994,722.5L991.8,720.3L991.8,713.5L989.5,711.3L989.5,706.8L987.3,704.5L987.3,697.7L985,695.5L985,691L982.7,688.7L982.7,682L980.5,679.7L980.5,675.2L978.2,672.9L978.2,668.4L975.9,666.2L975.9,661.7L973.7,659.4L973.7,652.6L971.4,650.4L971.4,645.9L969.2,643.6L969.2,639.1L966.9,636.9L966.9,632.4L964.6,630.1L964.6,625.6L962.4,623.3L962.4,621.1L960.1,618.8L960.1,614.3L957.8,612.1L957.8,607.6L955.6,605.3L955.6,600.8L953.3,598.5L953.3,596.3L951.1,594L951.1,589.5L948.8,587.3L948.8,582.8L946.5,580.5L946.5,578.2L944.3,576L944.3,571.5L942,569.2L942,567L939.8,564.7L939.8,560.2L937.5,558L937.5,555.7L935.2,553.4L935.2,551.2L933,548.9L933,544.4L930.7,542.2L930.7,539.9L928.4,537.7L928.4,535.4L926.2,533.2L926.2,528.6L923.9,526.4L923.9,524.1L921.7,521.9L921.7,519.6L919.4,517.4L919.4,515.1L917.1,512.9L917.1,510.6L914.9,508.4L914.9,506.1L912.6,503.8L912.6,501.6L910.3,499.3L910.3,497.1L908.1,494.8L908.1,492.6L905.8,490.3L905.8,488.1L903.6,485.8L903.6,483.6L901.3,481.3L901.3,479L899,476.8L899,474.5L896.8,472.3L896.8,470.8L869.6,451.4L869.1,452L868.8,454.2L867.4,455.5L862.8,454.4L860.6,455.1L859.6,456.5L858.7,461L859,467.8L865.7,515.1L867.2,530.9L867.9,544.4L867.9,558L867.1,571.5L865.7,582.8L863.5,594L860.4,605.3L856,617L850.6,627.8L844.7,636.9L838,645.2L830.3,652.6L821.5,659.4L810.8,665.8L800.2,670.7L790.4,674.1L779.1,677L765.6,679.3L752,680.5L738.4,680.8L724.8,680.2L709,678.5L695.4,676.3L679.6,672.9L663.8,668.6L647.9,663.4L632.1,657.4L618.5,651.4L602.7,643.6L589.1,636.1L568.7,623.4L550,609.8L531,594L514.4,578.2L498.6,561.1L483.4,542.2L469.2,521.9L457.9,503.1L446.6,481.3L436.9,458.8L429,436.2L422.9,413.7L418.7,391.1L416.5,370.8L416.2,350.5L417.8,330.2L420.9,314.5L425.1,300.9L431.1,287.4L437.9,276.1L447.2,264.9L457.2,255.8L467,249.1L480.1,242.3L492.2,237.8L507.7,233.9L523.5,231.6L541.6,230.5L557.4,230.7L575.5,232L593.6,234.2L625.3,238.9L636.6,239.7L641.1,238.8L642.5,237.8L643.2,235.6L642.1,231.1L643.4,229.6L645.7,229.4L646.2,228.8L626.8,201.7L625.3,201.7L623,199.5L620.8,199.5L618.5,197.2L616.2,197.2L614,195L611.7,195L609.5,192.7L607.2,192.7L604.9,190.5L602.7,190.5L600.4,188.2L598.2,188.2L595.9,186L593.6,186L591.4,183.7L589.1,183.7L586.8,181.5L584.6,181.5L582.3,179.2L580.1,179.2L577.8,176.9L575.5,176.9L573.3,174.7L571,174.7L568.7,172.4L564.2,172.4L562,170.2L559.7,170.2L557.4,167.9L555.2,167.9L552.9,165.7L548.4,165.7L546.1,163.4L543.9,163.4L541.6,161.2L539.3,161.2L537.1,158.9L532.5,158.9L530.3,156.7L528,156.7L525.8,154.4L521.2,154.4L519,152.1L516.7,152.1L514.4,149.9L509.9,149.9L507.7,147.6L503.1,147.6L500.9,145.4L498.6,145.4L496.4,143.1L491.8,143.1L489.6,140.9L485,140.9L482.8,138.6L478.3,138.6L476,136.4L473.7,136.4L471.5,134.1L466.9,134.1L464.7,131.9L460.2,131.9L457.9,129.6L453.4,129.6L451.1,127.3L446.6,127.3L444.3,125.1L437.5,125.1L435.3,122.8L430.7,122.8L428.5,120.6L424,120.6L421.7,118.3L417.2,118.3L414.9,116.1L408.1,116.1L405.9,113.8L401.3,113.8L399.1,111.6L392.3,111.6L390,109.3L385.5,109.3L383.2,107.1L376.5,107.1L374.2,104.8L367.4,104.8L365.1,102.5L358.4,102.5L356.1,100.3L351.6,100.3L349.3,98L342.5,98L340.3,95.8L333.5,95.8L331.2,93.5L322.2,93.5L319.9,91.3L313.1,91.3L310.8,89L304.1,89L301.8,86.8L292.7,86.8L290.5,84.5L283.7,84.5L281.4,82.3L272.4,82.3L270.1,80L263.3,80L261.1,77.7L252,77.7L249.8,75.5L240.7,75.5L238.5,73.2L229.4,73.2L227.1,71L218.1,71L215.8,68.7L204.5,68.7L202.3,66.5L200,66.5L200,68.7L202.3,71L202.3,82.3L204.5,84.5L204.5,93.5L206.8,95.8L206.8,104.8L209,107.1L209,116.1L211.3,118.3L211.3,127.3L213.6,129.6L213.6,136.4L215.8,138.6L215.8,147.6L218.1,149.9L218.1,156.7L220.4,158.9L220.4,167.9L222.6,170.2L222.6,176.9L224.9,179.2L224.9,186L227.1,188.2L227.1,197.2L229.4,199.5L229.4,206.3L231.7,208.5L231.7,215.3L233.9,217.5L233.9,222L236.2,224.3L236.2,231.1L238.5,233.3L238.5,240.1L240.7,242.3L240.7,249.1L243,251.3L243,255.8L245.2,258.1L245.2,264.9L247.5,267.1L247.5,271.6L249.8,273.9L249.8,280.6L252,282.9L252,287.4L254.3,289.7L254.3,294.2L256.6,296.4L256.6,300.9L258.8,303.2L258.8,310L261.1,312.2L261.1,316.7L263.3,319L263.3,323.5L265.6,325.7L265.6,330.2L267.9,332.5L267.9,337L270.1,339.3L270.1,341.5L272.4,343.8L272.4,348.3L274.7,350.5L274.7,355L276.9,357.3L276.9,361.8L279.2,364.1L279.2,366.3L281.4,368.6L281.4,373.1L283.7,375.3L283.7,379.8L286,382.1L286,384.4L288.2,386.6L288.2,391.1L290.5,393.4L290.5,395.6L292.7,397.9L292.7,402.4L295,404.6L295,406.9L297.3,409.2L297.3,411.4L299.5,413.7L299.5,418.2L301.8,420.4L301.8,422.7L304.1,424.9L304.1,427.2L306.3,429.4L306.3,434L308.6,436.2L308.6,438.5L310.8,440.7L310.8,443L313.1,445.2L313.1,447.5L315.4,449.7L315.4,452L317.6,454.2L317.6,456.5L319.9,458.8L319.9,461L322.2,463.3L322.2,465.5L324.4,467.8L324.4,470L326.7,472.3L326.7,474.5L328.9,476.8L328.9,479L331.2,481.3L331.2,483.6L333.5,485.8L333.5,488.1L335.7,490.3L335.7,492.6L340.3,497.1L340.3,499.3L342.5,501.6L342.5,503.8L344.8,506.1L344.8,508.4L349.3,512.9L349.3,515.1L351.6,517.4L351.6,519.6L356.1,524.1L356.1,526.4L358.4,528.6L358.4,530.9L362.9,535.4L362.9,537.7L367.4,542.2L367.4,544.4L371.9,548.9L371.9,551.2L376.5,555.7L376.5,558L381,562.5L381,564.7L387.8,571.5L387.8,573.7L394.5,580.5L394.5,582.8L401.3,589.5L401.3,591.8L410.4,600.8L410.4,603L424,616.6L424,618.8L478.3,672.9L480.5,672.9L494.1,686.5L496.4,686.5L505.4,695.5L507.7,695.5L514.4,702.2L516.7,702.2L523.5,709L525.8,709L532.5,715.8L534.8,715.8L539.3,720.3L541.6,720.3L546.1,724.8L548.4,724.8L552.9,729.3L555.2,729.3L559.7,733.8L562,733.8L566.5,738.3L568.7,738.3L571,740.6L573.3,740.6L577.8,745.1L580.1,745.1L582.3,747.3L584.6,747.3L589.1,751.8L591.4,751.8L593.6,754.1L595.9,754.1L598.2,756.3L600.4,756.3L604.9,760.9L607.2,760.9L609.5,763.1L611.7,763.1L614,765.4L616.2,765.4L618.5,767.6L620.8,767.6L623,769.9L625.3,769.9L627.6,772.1L629.8,772.1L632.1,774.4L634.3,774.4L636.6,776.6L638.9,776.6L641.1,778.9L643.4,778.9L645.7,781.1L647.9,781.1L650.2,783.4L652.4,783.4L654.7,785.7L657,785.7L659.2,787.9L661.5,787.9L663.8,790.2L668.3,790.2L670.5,792.4L672.8,792.4L675.1,794.7L677.3,794.7L679.6,796.9L684.1,796.9L686.4,799.2L688.6,799.2L690.9,801.4L693.2,801.4L695.4,803.7L700,803.7L702.2,805.9L704.5,805.9L706.7,808.2L711.3,808.2L713.5,810.5L715.8,810.5L718.1,812.7L722.6,812.7L724.8,815L729.4,815L731.6,817.2L733.9,817.2L736.1,819.5L740.7,819.5L742.9,821.7L747.5,821.7L749.7,824L754.2,824L756.5,826.2L758.8,826.2L761,828.5L765.6,828.5L767.8,830.7L772.3,830.7L774.6,833L779.1,833L781.4,835.3L785.9,835.3L788.2,837.5L795,837.5L797.2,839.8L801.8,839.8L804,842L808.5,842L810.8,844.3L815.3,844.3L817.6,846.5L824.4,846.5L826.6,848.8L831.2,848.8L833.4,851L840.2,851L842.5,853.3L847,853.3L849.3,855.5L856,855.5L858.3,857.8L865.1,857.8L867.4,860.1L874.1,860.1L876.4,862.3L880.9,862.3L883.2,864.6L890,864.6L892.2,866.8L899,866.8L901.3,869.1L910.3,869.1L912.6,871.3L919.4,871.3L921.7,873.6L928.4,873.6L930.7,875.8L939.8,875.8L942,878.1L948.8,878.1L951.1,880.3L960.1,880.3L962.4,882.6L969.2,882.6L971.4,884.9L980.5,884.9L982.7,887.1L991.8,887.1L994,889.4L1003.1,889.4L1005.4,891.6L1014.4,891.6L1016.7,893.9Z"/>
<path fill="#0040ff" fill-rule="evenodd" d="M1028,893.9L1030.2,896.1L1032.5,896.1L1032.5,893.9L1030.2,891.6L1030.2,880.3L1028,878.1L1028,869.1L1025.7,866.8L1025.7,857.8L1023.5,855.5L1023.5,846.5L1021.2,844.3L1021.2,835.3L1018.9,833L1018.9,826.2L1016.7,824L1016.7,815L1014.4,812.7L1014.4,805.9L1012.1,803.7L1012.1,794.7L1009.9,792.4L1009.9,785.7L1007.6,783.4L1007.6,776.6L1005.4,774.4L1005.4,765.4L1003.1,763.1L1003.1,756.3L1000.8,754.1L1000.8,747.3L998.6,745.1L998.6,740.6L996.3,738.3L996.3,731.5L994,729.3L994,722.5L991.8,720.3L991.8,713.5L989.5,711.3L989.5,706.8L987.3,704.5L987.3,697.7L985,695.5L985,691L982.7,688.7L982.7,682L980.5,679.7L980.5,675.2L978.2,672.9L978.2,668.4L975.9,666.2L975.9,661.7L973.7,659.4L973.7,652.6L971.4,650.4L971.4,645.9L969.2,643.6L969.2,639.1L966.9,636.9L966.9,632.4L964.6,630.1L964.6,625.6L962.4,623.3L962.4,621.1L960.1,618.8L960.1,614.3L957.8,612.1L957.8,607.6L955.6,605.3L955.6,600.8L953.3,598.5L953.3,596.3L951.1,594L951.1,589.5L948.8,587.3L948.8,582.8L946.5,580.5L946.5,578.2L944.3,576L944.3,571.5L942,569.2L942,567L939.8,564.7L939.8,560.2L937.5,558L937.5,555.7L935.2,553.4L935.2,551.2L933,548.9L933,544.4L930.7,542.2L930.7,539.9L928.4,537.7L928.4,535.4L926.2,533.2L926.2,528.6L923.9,526.4L923.9,524.1L921.7,521.9L921.7,519.6L919.4,517.4L919.4,515.1L917.1,512.9L917.1,510.6L914.9,508.4L914.9,506.1L912.6,503.8L912.6,501.6L910.3,499.3L910.3,497.1L908.1,494.8L908.1,493.5L885.5,478.2L884.7,479L884.1,481.3L883.2,482.1L878.7,481.5L876.4,482.6L875.8,483.6L874.5,488.1L874.2,494.8L877.2,539.9L877.3,567L876.3,580.5L874.8,591.8L872.6,603L869.5,614.3L865.3,625.6L860.6,635.2L855.5,643.6L848.6,652.6L842.2,659.4L833.4,666.9L824.4,673L813.1,678.9L801.8,683.4L790.4,686.7L776.9,689.4L763.3,691L749.7,691.6L733.9,691.3L720.3,690.2L704.5,688L688.6,685L672.8,681.1L657,676.4L641.1,670.9L625.3,664.5L609.5,657.2L595.9,650.2L580.4,641.4L559.7,627.9L541.6,614.4L523.5,599.1L506.6,582.8L490.1,564.7L475.7,546.7L462.4,527.7L449.3,506.1L437.6,483.6L428.7,463.3L420.5,440.7L414,418.2L409.2,395.6L406.2,373.1L405.2,352.8L406,332.5L408.2,316.7L412,300.9L416.9,287.4L422.6,276.1L430,264.9L437.8,255.8L447.9,246.8L460.2,238.7L471.5,233.1L485,228.2L500.9,224.4L517.3,222L532.5,221L548.4,220.9L566.5,221.7L598.2,224.1L609.5,224L611.7,223.5L614.9,222L616.1,219.8L615.4,215.3L616.2,214.4L618.5,213.8L619.3,213L604,190.5L602.7,190.5L600.4,188.2L598.2,188.2L595.9,186L593.6,186L591.4,183.7L589.1,183.7L586.8,181.5L584.6,181.5L582.3,179.2L580.1,179.2L577.8,176.9L575.5,176.9L573.3,174.7L571,174.7L568.7,172.4L564.2,172.4L562,170.2L559.7,170.2L557.4,167.9L555.2,167.9L552.9,165.7L548.4,165.7L546.1,163.4L543.9,163.4L541.6,161.2L539.3,161.2L537.1,158.9L532.5,158.9L530.3,156.7L528,156.7L525.8,154.4L521.2,154.4L519,152.1L516.7,152.1L514.4,149.9L509.9,149.9L507.7,147.6L503.1,147.6L500.9,145.4L498.6,145.4L496.4,143.1L491.8,143.1L489.6,140.9L485,140.9L482.8,138.6L478.3,138.6L476,136.4L473.7,136.4L471.5,134.1L466.9,134.1L464.7,131.9L460.2,131.9L457.9,129.6L453.4,129.6L451.1,127.3L446.6,127.3L444.3,125.1L437.5,125.1L435.3,122.8L430.7,122.8L428.5,120.6L424,120.6L421.7,118.3L417.2,118.3L414.9,116.1L408.1,116.1L405.9,113.8L401.3,113.8L399.1,111.6L392.3,111.6L390,109.3L385.5,109.3L383.2,107.1L376.5,107.1L374.2,104.8L367.4,104.8L365.1,102.5L358.4,102.5L356.1,100.3L351.6,100.3L349.3,98L342.5,98L340.3,95.8L333.5,95.8L331.2,93.5L322.2,93.5L319.9,91.3L313.1,91.3L310.8,89L304.1,89L301.8,86.8L292.7,86.8L290.5,84.5L283.7,84.5L281.4,82.3L272.4,82.3L270.1,80L263.3,80L261.1,77.7L252,77.7L249.8,75.5L240.7,75.5L238.5,73.2L229.4,73.2L227.1,71L218.1,71L215.8,68.7L204.5,68.7L202.3,66.5L200,66.5L200,68.7L202.3,71L202.3,82.3L204.5,84.5L204.5,93.5L206.8,95.8L206.8,104.8L209,107.1L209,116.1L211.3,118.3L211.3,127.3L213.6,129.6L213.6,136.4L215.8,138.6L215.8,147.6L218.1,149.9L218.1,156.7L220.4,158.9L220.4,167.9L222.6,170.2L222.6,176.9L224.9,179.2L224.9,186L227.1,188.2L227.1,197.2L229.4,199.5L229.4,206.3L231.7,208.5L231.7,215.3L233.9,217.5L233.9,222L236.2,224.3L236.2,231.1L238.5,233.3L238.5,240.1L240.7,242.3L240.7,249.1L243,251.3L243,255.8L245.2,258.1L245.2,264.9L247.5,267.1L247.5,271.6L249.8,273.9L249.8,280.6L252,282.9L252,287.4L254.3,289.7L254.3,294.2L256.6,296.4L256.6,300.9L258.8,303.2L258.8,310L261.1,312.2L261.1,316.7L263.3,319L263.3,323.5L265.6,325.7L265.6,330.2L267.9,332.5L267.9,337L270.1,339.3L270.1,341.5L272.4,343.8L272.4,348.3L274.7,350.5L274.7,355L276.9,357.3L276.9,361.8L279.2,364.1L279.2,366.3L281.4,368.6L281.4,373.1L283.7,375.3L283.7,379.8L286,382.1L286,384.4L288.2,386.6L288.2,391.1L290.5,393.4L290.5,395.6L292.7,397.9L292.7,402.4L295,404.6L295,406.9L297.3,409.2L297.3,411.4L299.5,413.7L299.5,418.2L301.8,420.4L301.8,422.7L304.1,424.9L304.1,427.2L306.3,429.4L306.3,434L308.6,436.2L308.6,438.5L310.8,440.7L310.8,443L313.1,445.2L313.1,447.5L315.4,449.7L315.4,452L317.6,454.2L317.6,456.5L319.9,458.8L319.9,461L322.2,463.3L322.2,465.5L324.4,467.8L324.4,470L326.7,472.3L326.7,474.5L328.9,476.8L328.9,479L331.2,481.3L331.2,483.6L333.5,485.8L333.5,488.1L335.7,490.3L335.7,492.6L340.3,497.1L340.3,499.3L342.5,501.6L342.5,503.8L344.8,506.1L344.8,508.4L349.3,512.9L349.3,515.1L351.6,517.4L351.6,519.6L356.1,524.1L356.1,526.4L358.4,528.6L358.4,530.9L362.9,535.4L362.9,537.7L367.4,542.2L367.4,544.4L371.9,548.9L371.9,551.2L376.5,555.7L376.5,558L381,562.5L381,564.7L387.8,571.5L387.8,573.7L394.5,580.5L394.5,582.8L401.3,589.5L401.3,591.8L410.4,600.8L410.4,603L424,616.6L424,618.8L478.3,672.9L480.5,672.9L494.1,686.5L496.4,686.5L505.4,695.5L507.7,695.5L514.4,702.2L516.7,702.2L523.5,709L525.8,709L532.5,715.8L534.8,715.8L539.3,720.3L541.6,720.3L546.1,724.8L548.4,724.8L552.9,729.3L555.2,729.3L559.7,733.8L562,733.8L566.5,738.3L568.7,738.3L571,740.6L573.3,740.6L577.8,745.1L580.1,745.1L582.3,747.3L584.6,747.3L589.1,751.8L591.4,751.8L593.6,754.1L595.9,754.1L598.2,756.3L600.4,756.3L604.9,760.9L607.2,760.9L609.5,763.1L611.7,763.1L614,765.4L616.2,765.4L618.5,767.6L620.8,767.6L623,769.9L625.3,769.9L627.6,772.1L629.8,772.1L632.1,774.4L634.3,774.4L636.6,776.6L638.9,776.6L641.1,778.9L643.4,778.9L645.7,781.1L647.9,781.1L650.2,783.4L652.4,783.4L654.7,785.7L657,785.7L659.2,787.9L661.5,787.9L663.8,790.2L668.3,790.2L670.5,792.4L672.8,792.4L675.1,794.7L677.3,794.7L679.6,796.9L684.1,796.9L686.4,799.2L688.6,799.2L690.9,801.4L693.2,801.4L695.4,803.7L700,803.7L702.2,805.9L704.5,805.9L706.7,808.2L711.3,808.2L713.5,810.5L715.8,810.5L718.1,812.7L722.6,812.7L724.8,815L729.4,815L731.6,817.2L733.9,817.2L736.1,819.5L740.7,819.5L742.9,821.7L747.5,821.7L749.7,824L754.2,824L756.5,826.2L758.8,826.2L761,828.5L765.6,828.5L767.8,830.7L772.3,830.7L774.6,833L779.1,833L781.4,835.3L785.9,835.3L788.2,837.5L795,837.5L797.2,839.8L801.8,839.8L804,842L808.5,842L810.8,844.3L815.3,844.3L817.6,846.5L824.4,846.5L826.6,848.8L831.2,848.8L833.4,851L840.2,851L842.5,853.3L847,853.3L849.3,855.5L856,855.5L858.3,857.8L865.1,857.8L867.4,860.1L874.1,860.1L876.4,862.3L880.9,862.3L883.2,864.6L890,864.6L892.2,866.8L899,866.8L901.3,869.1L910.3,869.1L912.6,871.3L919.4,871.3L921.7,873.6L928.4,873.6L930.7,875.8L939.8,875.8L942,878.1L948.8,878.1L951.1,880.3L960.1,880.3L962.4,882.6L969.2,882.6L971.4,884.9L980.5,884.9L982.7,887.1L991.8,887.1L994,889.4L1003.1,889.4L1005.4,891.6L1014.4,891.6L1016.7,893.9Z"/>
<path fill="#0050ff" fill-rule="evenodd" d="M1028,893.9L1030.2,896.1L1032.5,896.1L1032.5,893.9L1030.2,891.6L1030.2,880.3L1028,878.1L1028,869.1L1025.7,866.8L1025.7,857.8L1023.5,855.5L1023.5,846.5L1021.2,844.3L1021.2,835.3L1018.9,833L1018.9,826.2L1016.7,824L1016.7,815L1014.4,812.7L1014.4,805.9L1012.1,803.7L1012.1,794.7L1009.9,792.4L1009.9,785.7L1007.6,783.4L1007.6,776.6L1005.4,774.4L1005.4,765.4L1003.1,763.1L1003.1,756.3L1000.8,754.1L1000.8,747.3L998.6,745.1L998.6,740.6L996.3,738.3L996.3,731.5L994,729.3L994,722.5L991.8,720.3L991.8,713.5L989.5,711.3L989.5,706.8L987.3,704.5L987.3,697.7L985,695.5L985,691L982.7,688.7L982.7,682L980.5,679.7L980.5,675.2L978.2,672.9L978.2,668.4L975.9,666.2L975.9,661.7L973.7,659.4L973.7,652.6L971.4,650.4L971.4,645.9L969.2,643.6L969.2,639.1L966.9,636.9L966.9,632.4L964.6,630.1L964.6,625.6L962.4,623.3L962.4,621.1L960.1,618.8L960.1,614.3L957.8,612.1L957.8,607.6L955.6,605.3L955.6,600.8L953.3,598.5L953.3,596.3L951.1,594L951.1,589.5L948.8,587.3L948.8,582.8L946.5,580.5L946.5,578.2L944.3,576L944.3,571.5L942,569.2L942,567L939.8,564.7L939.8,560.2L937.5,558L937.5,555.7L935.2,553.4L935.2,551.2L933,548.9L933,544.4L930.7,542.2L930.7,539.9L928.4,537.7L928.4,535.4L926.2,533.2L926.2,528.6L923.9,526.4L923.9,524.1L921.7,521.9L921.7,519.6L919.4,517.4L919.4,515.2L899,502.2L896.8,505L892.2,504.9L890,505.6L888,508.4L886.9,512.9L886.4,519.6L886.7,562.5L885.3,587.3L883.4,600.8L881,612.1L877.8,623.3L874.5,632.4L869.6,642.8L863.7,652.6L856.9,661.7L850.6,668.4L842.5,675.5L833.4,681.8L824.4,686.8L813.1,691.7L801.6,695.5L788.2,698.6L774.6,700.6L761,701.6L747.5,701.7L731.6,700.9L715.8,699.2L700,696.6L684.1,693.2L667.2,688.7L650.2,683.3L634.3,677.4L618.5,670.7L602.7,663.1L587.2,654.9L572,645.9L552.9,633.1L534.1,618.8L515.8,603L498.6,586.2L482.8,568.6L467.2,548.9L453.4,528.9L442.1,510.2L430.7,488.7L421.3,467.8L412.8,445.2L405.9,422.6L400.6,400.1L397,377.6L395.2,355L395.3,334.8L397.1,316.7L400.2,300.9L404.2,287.4L410,273.9L417.2,261.6L425.2,251.3L434.3,242.3L444.3,234.7L455.6,228.1L469.2,222.2L482.8,218L498.6,214.7L512.2,213L528,211.9L543.9,211.7L575.5,212.1L586.8,211.2L589.1,210.5L591.9,208.5L592.5,206.3L592.5,201.7L595.3,199.5L582.2,179.2L580.1,179.2L577.8,176.9L575.5,176.9L573.3,174.7L571,174.7L568.7,172.4L564.2,172.4L562,170.2L559.7,170.2L557.4,167.9L555.2,167.9L552.9,165.7L548.4,165.7L546.1,163.4L543.9,163.4L541.6,161.2L539.3,161.2L537.1,158.9L532.5,158.9L530.3,156.7L528,156.7L525.8,154.4L521.2,154.4L519,152.1L516.7,152.1L514.4,149.9L509.9,149.9L507.7,147.6L503.1,147.6L500.9,145.4L498.6,145.4L496.4,143.1L491.8,143.1L489.6,140.9L485,140.9L482.8,138.6L478.3,138.6L476,136.4L473.7,136.4L471.5,134.1L466.9,134.1L464.7,131.9L460.2,131.9L457.9,129.6L453.4,129.6L451.1,127.3L446.6,127.3L444.3,125.1L437.5,125.1L435.3,122.8L430.7,122.8L428.5,120.6L424,120.6L421.7,118.3L417.2,118.3L414.9,116.1L408.1,116.1L405.9,113.8L401.3,113.8L399.1,111.6L392.3,111.6L390,109.3L385.5,109.3L383.2,107.1L376.5,107.1L374.2,104.8L367.4,104.8L365.1,102.5L358.4,102.5L356.1,100.3L351.6,100.3L349.3,98L342.5,98L340.3,95.8L333.5,95.8L331.2,93.5L322.2,93.5L319.9,91.3L313.1,91.3L310.8,89L304.1,89L301.8,86.8L292.7,86.8L290.5,84.5L283.7,84.5L281.4,82.3L272.4,82.3L270.1,80L263.3,80L261.1,77.7L252,77.7L249.8,75.5L240.7,75.5L238.5,73.2L229.4,73.2L227.1,71L218.1,71L215.8,68.7L204.5,68.7L202.3,66.5L200,66.5L200,68.7L202.3,71L202.3,82.3L204.5,84.5L204.5,93.5L206.8,95.8L206.8,104.8L209,107.1L209,116.1L211.3,118.3L211.3,127.3L213.6,129.6L213.6,136.4L215.8,138.6L215.8,147.6L218.1,149.9L218.1,156.7L220.4,158.9L220.4,167.9L222.6,170.2L222.6,176.9L224.9,179.2L224.9,186L227.1,188.2L227.1,197.2L229.4,199.5L229.4,206.3L231.7,208.5L231.7,215.3L233.9,217.5L233.9,222L236.2,224.3L236.2,231.1L238.5,233.3L238.5,240.1L240.7,242.3L240.7,249.1L243,251.3L243,255.8L245.2,258.1L245.2,264.9L247.5,267.1L247.5,271.6L249.8,273.9L249.8,280.6L252,282.9L252,287.4L254.3,289.7L254.3,294.2L256.6,296.4L256.6,300.9L258.8,303.2L258.8,310L261.1,312.2L261.1,316.7L263.3,319L263.3,323.5L265.6,325.7L265.6,330.2L267.9,332.5L267.9,337L270.1,339.3L270.1,341.5L272.4,343.8L272.4,348.3L274.7,350.5L274.7,355L276.9,357.3L276.9,361.8L279.2,364.1L279.2,366.3L281.4,368.6L281.4,373.1L283.7,375.3L283.7,379.8L286,382.1L286,384.4L288.2,386.6L288.2,391.1L290.5,393.4L290.5,395.6L292.7,397.9L292.7,402.4L295,404.6L295,406.9L297.3,409.2L297.3,411.4L299.5,413.7L299.5,418.2L301.8,420.4L301.8,422.7L304.1,424.9L304.1,427.2L306.3,429.4L306.3,434L308.6,436.2L308.6,438.5L310.8,440.7L310.8,443L313.1,445.2L313.1,447.5L315.4,449.7L315.4,452L317.6,454.2L317.6,456.5L319.9,458.8L319.9,461L322.2,463.3L322.2,465.5L324.4,467.8L324.4,470L326.7,472.3L326.7,474.5L328.9,476.8L328.9,479L331.2,481.3L331.2,483.6L333.5,485.8L333.5,488.1L335.7,490.3L335.7,492.6L340.3,497.1L340.3,499.3L342.5,501.6L342.5,503.8L344.8,506.1L344.8,508.4L349.3,512.9L349.3,515.1L351.6,517.4L351.6,519.6L356.1,524.1L356.1,526.4L358.4,528.6L358.4,530.9L362.9,535.4L362.9,537.7L367.4,542.2L367.4,544.4L371.9,548.9L371.9,551.2L376.5,555.7L376.5,558L381,562.5L381,564.7L387.8,571.5L387.8,573.7L394.5,580.5L394.5,582.8L401.3,589.5L401.3,591.8L410.4,600.8L410.4,603L424,616.6L424,618.8L478.3,672.9L480.5,672.9L494.1,686.5L496.4,686.5L505.4,695.5L507.7,695.5L514.4,702.2L516.7,702.2L523.5,709L525.8,709L532.5,715.8L534.8,715.8L539.3,720.3L541.6,720.3L546.1,724.8L548.4,724.8L552.9,729.3L555.2,729.3L559.7,733.8L562,733.8L566.5,738.3L568.7,738.3L571,740.6L573.3,740.6L577.8,745.1L580.1,745.1L582.3,747.3L584.6,747.3L589.1,751.8L591.4,751.8L593.6,754.1L595.9,754.1L598.2,756.3L600.4,756.3L604.9,760.9L607.2,760.9L609.5,763.1L611.7,763.1L614,765.4L616.2,765.4L618.5,767.6L620.8,767.6L623,769.9L625.3,769.9L627.6,772.1L629.8,772.1L632.1,774.4L634.3,774.4L636.6,776.6L638.9,776.6L641.1,778.9L643.4,778.9L645.7,781.1L647.9,781.1L650.2,783.4L652.4,783.4L654.7,785.7L657,785.7L659.2,787.9L661.5,787.9L663.8,790.2L668.3,790.2L670.5,792.4L672.8,792.4L675.1,794.7L677.3,794.7L679.6,796.9L684.1,796.9L686.4,799.2L688.6,799.2L690.9,801.4L693.2,801.4L695.4,803.7L700,803.7L702.2,805.9L704.5,805.9L706.7,808.2L711.3,808.2L713.5,810.5L715.8,810.5L718.1,812.7L722.6,812.7L724.8,815L729.4,815L731.6,817.2L733.9,817.2L736.1,819.5L740.7,819.5L742.9,821.7L747.5,821.7L749.7,824L754.2,824L756.5,826.2L758.8,826.2L761,828.5L765.6,828.5L767.8,830.7L772.3,830.7L774.6,833L779.1,833L781.4,835.3L785.9,835.3L788.2,837.5L795,837.5L797.2,839.8L801.8,839.8L804,842L808.5,842L810.8,844.3L815.3,844.3L817.6,846.5L824.4,846.5L826.6,848.8L831.2,848.8L833.4,851L840.2,851L842.5,853.3L847,853.3L849.3,855.5L856,855.5L858.3,857.8L865.1,857.8L867.4,860.1L874.1,860.1L876.4,862.3L880.9,862.3L883.2,864.6L890,864.6L892.2,866.8L899,866.8L901.3,869.1L910.3,869.1L912.6,871.3L919.4,871.3L921.7,873.6L928.4,873.6L930.7,875.8L939.8,875.8L942,878.1L948.8,878.1L951.1,880.3L960.1,880.3L962.4,882.6L969.2,882.6L971.4,884.9L980.5,884.9L982.7,887.1L991.8,887.1L994,889.4L1003.1,889.4L1005.4,891.6L1014.4,891.6L1016.7,893.9Z"/>
<path fill="#0060ff" fill-rule="evenodd" d="M1028,893.9L1030.2,896.1L1032.5,896.1L1032.5,893.9L1030.2,891.6L1030.2,880.3L1028,878.1L1028,869.1L1025.7,866.8L1025.7,857.8L1023.5,855.5L1023.5,846.5L1021.2,844.3L1021.2,835.3L1018.9,833L1018.9,826.2L1016.7,824L1016.7,815L1014.4,812.7L1014.4,805.9L1012.1,803.7L1012.1,794.7L1009.9,792.4L1009.9,785.7L1007.6,783.4L1007.6,776.6L1005.4,774.4L1005.4,765.4L1003.1,763.1L1003.1,756.3L1000.8,754.1L1000.8,747.3L998.6,745.1L998.6,740.6L996.3,738.3L996.3,731.5L994,729.3L994,722.5L991.8,720.3L991.8,713.5L989.5,711.3L989.5,706.8L987.3,704.5L987.3,697.7L985,695.5L985,691L982.7,688.7L982.7,682L980.5,679.7L980.5,675.2L978.2,672.9L978.2,668.4L975.9,666.2L975.9,661.7L973.7,659.4L973.7,652.6L971.4,650.4L971.4,645.9L969.2,643.6L969.2,639.1L966.9,636.9L966.9,632.4L964.6,630.1L964.6,625.6L962.4,623.3L962.4,621.1L960.1,618.8L960.1,614.3L957.8,612.1L957.8,607.6L955.6,605.3L955.6,600.8L953.3,598.5L953.3,596.3L951.1,594L951.1,589.5L948.8,587.3L948.8,582.8L946.5,580.5L946.5,578.2L944.3,576L944.3,571.5L942,569.2L942,567L939.8,564.7L939.8,560.2L937.5,558L937.5,555.7L935.2,553.4L935.2,551.2L933,548.9L933,544.4L930.7,542.2L930.7,539.9L928.4,537.7L928.4,535.4L926.4,533.4L908.1,522.4L905.8,526.1L903.6,525.9L901.3,526.4L899.1,528.6L897.6,533.2L896.6,539.9L894.8,580.5L892.1,605.3L889.9,616.6L887,627.8L883.2,638.8L879.1,648.1L874.1,657.2L867.4,667L860.6,674.9L853,682L844.7,688.3L835.7,693.8L824.4,699.3L813.1,703.4L801.8,706.5L788.2,709L774.6,710.6L758.8,711.2L742.9,710.8L727.1,709.5L711.3,707.4L695.4,704.4L677.3,700.1L661.5,695.5L643.4,689.4L627.6,683.2L611.7,676.2L595.9,668.4L579.7,659.4L564.2,649.9L545.2,636.9L527.7,623.3L509.9,607.9L493.5,591.8L477.2,573.7L462.8,555.7L448.8,535.9L437.3,517.4L426.2,497.1L415.6,474.5L406.6,452L399.2,429.4L393.4,406.9L389,384.4L386.4,361.8L385.5,341.5L386,325.7L387.8,309.7L390.8,294.2L394.9,280.6L399.5,269.4L405.9,257.7L413.7,246.8L422,237.8L432.9,228.8L444.3,221.7L458.2,215.3L473.7,210.2L487.3,207.2L503.1,204.9L521.2,203.4L557.4,201.9L564.2,200.9L568.7,199.5L571,197.2L571.5,195L571.3,192.7L575,190.5L564,172.2L562,170.2L559.7,170.2L557.4,167.9L555.2,167.9L552.9,165.7L548.4,165.7L546.1,163.4L543.9,163.4L541.6,161.2L539.3,161.2L537.1,158.9L532.5,158.9L530.3,156.7L528,156.7L525.8,154.4L521.2,154.4L519,152.1L516.7,152.1L514.4,149.9L509.9,149.9L507.7,147.6L503.1,147.6L500.9,145.4L498.6,145.4L496.4,143.1L491.8,143.1L489.6,140.9L485,140.9L482.8,138.6L478.3,138.6L476,136.4L473.7,136.4L471.5,134.1L466.9,134.1L464.7,131.9L460.2,131.9L457.9,129.6L453.4,129.6L451.1,127.3L446.6,127.3L444.3,125.1L437.5,125.1L435.3,122.8L430.7,122.8L428.5,120.6L424,120.6L421.7,118.3L417.2,118.3L414.9,116.1L408.1,116.1L405.9,113.8L401.3,113.8L399.1,111.6L392.3,111.6L390,109.3L385.5,109.3L383.2,107.1L376.5,107.1L374.2,104.8L367.4,104.8L365.1,102.5L358.4,102.5L356.1,100.3L351.6,100.3L349.3,98L342.5,98L340.3,95.8L333.5,95.8L331.2,93.5L322.2,93.5L319.9,91.3L313.1,91.3L310.8,89L304.1,89L301.8,86.8L292.7,86.8L290.5,84.5L283.7,84.5L281.4,82.3L272.4,82.3L270.1,80L263.3,80L261.1,77.7L252,77.7L249.8,75.5L240.7,75.5L238.5,73.2L229.4,73.2L227.1,71L218.1,71L215.8,68.7L204.5,68.7L202.3,66.5L200,66.5L200,68.7L202.3,71L202.3,82.3L204.5,84.5L204.5,93.5L206.8,95.8L206.8,104.8L209,107.1L209,116.1L211.3,118.3L211.3,127.3L213.6,129.6L213.6,136.4L215.8,138.6L215.8,147.6L218.1,149.9L218.1,156.7L220.4,158.9L220.4,167.9L222.6,170.2L222.6,176.9L224.9,179.2L224.9,186L227.1,188.2L227.1,197.2L229.4,199.5L229.4,206.3L231.7,208.5L231.7,215.3L233.9,217.5L233.9,222L236.2,224.3L236.2,231.1L238.5,233.3L238.5,240.1L240.7,242.3L240.7,249.1L243,251.3L243,255.8L245.2,258.1L245.2,264.9L247.5,267.1L247.5,271.6L249.8,273.9L249.8,280.6L252,282.9L252,287.4L254.3,289.7L254.3,294.2L256.6,296.4L256.6,300.9L258.8,303.2L258.8,310L261.1,312.2L261.1,316.7L263.3,319L263.3,323.5L265.6,325.7L265.6,330.2L267.9,332.5L267.9,337L270.1,339.3L270.1,341.5L272.4,343.8L272.4,348.3L274.7,350.5L274.7,355L276.9,357.3L276.9,361.8L279.2,364.1L279.2,366.3L281.4,368.6L281.4,373.1L283.7,375.3L283.7,379.8L286,382.1L286,384.4L288.2,386.6L288.2,391.1L290.5,393.4L290.5,395.6L292.7,397.9L292.7,402.4L295,404.6L295,406.9L297.3,409.2L297.3,411.4L299.5,413.7L299.5,418.2L301.8,420.4L301.8,422.7L304.1,424.9L304.1,427.2L306.3,429.4L306.3,434L308.6,436.2L308.6,438.5L310.8,440.7L310.8,443L313.1,445.2L313.1,447.5L315.4,449.7L315.4,452L317.6,454.2L317.6,456.5L319.9,458.8L319.9,461L322.2,463.3L322.2,465.5L324.4,467.8L324.4,470L326.7,472.3L326.7,474.5L328.9,476.8L328.9,479L331.2,481.3L331.2,483.6L333.5,485.8L333.5,488.1L335.7,490.3L335.7,492.6L340.3,497.1L340.3,499.3L342.5,501.6L342.5,503.8L344.8,506.1L344.8,508.4L349.3,512.9L349.3,515.1L351.6,517.4L351.6,519.6L356.1,524.1L356.1,526.4L358.4,528.6L358.4,530.9L362.9,535.4L362.9,537.7L367.4,542.2L367.4,544.4L371.9,548.9L371.9,551.2L376.5,555.7L376.5,558L381,562.5L381,564.7L387.8,571.5L387.8,573.7L394.5,580.5L394.5,582.8L401.3,589.5L401.3,591.8L410.4,600.8L410.4,603L424,616.6L424,618.8L478.3,672.9L480.5,672.9L494.1,686.5L496.4,686.5L505.4,695.5L507.7,695.5L514.4,702.2L516.7,702.2L523.5,709L525.8,709L532.5,715.8L534.8,715.8L539.3,720.3L541.6,720.3L546.1,724.8L548.4,724.8L552.9,729.3L555.2,729.3L559.7,733.8L562,733.8L566.5,738.3L568.7,738.3L571,740.6L573.3,740.6L577.8,745.1L580.1,745.1L582.3,747.3L584.6,747.3L589.1,751.8L591.4,751.8L593.6,754.1L595.9,754.1L598.2,756.3L600.4,756.3L604.9,760.9L607.2,760.9L609.5,763.1L611.7,763.1L614,765.4L616.2,765.4L618.5,767.6L620.8,767.6L623,769.9L625.3,769.9L627.6,772.1L629.8,772.1L632.1,774.4L634.3,774.4L636.6,776.6L638.9,776.6L641.1,778.9L643.4,778.9L645.7,781.1L647.9,781.1L650.2,783.4L652.4,783.4L654.7,785.7L657,785.7L659.2,787.9L661.5,787.9L663.8,790.2L668.3,790.2L670.5,792.4L672.8,792.4L675.1,794.7L677.3,794.7L679.6,796.9L684.1,796.9L686.4,799.2L688.6,799.2L690.9,801.4L693.2,801.4L695.4,803.7L700,803.7L702.2,805.9L704.5,805.9L706.7,808.2L711.3,808.2L713.5,810.5L715.8,810.5L718.1,812.7L722.6,812.7L724.8,815L729.4,815L731.6,817.2L733.9,817.2L736.1,819.5L740.7,819.5L742.9,821.7L747.5,821.7L749.7,824L754.2,824L756.5,826.2L758.8,826.2L761,828.5L765.6,828.5L767.8,830.7L772.3,830.7L774.6,833L779.1,833L781.4,835.3L785.9,835.3L788.2,837.5L795,837.5L797.2,839.8L801.8,839.8L804,842L808.5,842L810.8,844.3L815.3,844.3L817.6,846.5L824.4,846.5L826.6,848.8L831.2,848.8L833.4,851L840.2,851L842.5,853.3L847,853.3L849.3,855.5L856,855.5L858.3,857.8L865.1,857.8L867.4,860.1L874.1,860.1L876.4,862.3L880.9,862.3L883.2,864.6L890,864.6L892.2,866.8L899,866.8L901.3,869.1L910.3,869.1L912.6,871.3L919.4,871.3L921.7,873.6L928.4,873.6L930.7,875.8L939.8,875.8L942,878.1L948.8,878.1L951.1,880.3L960.1,880.3L962.4,882.6L969.2,882.6L971.4,884.9L980.5,884.9L982.7,887.1L991.8,887.1L994,889.4L1003.1,889.4L1005.4,891.6L1014.4,891.6L1016.7,893.9Z"/>
<path fill="#0070ff" fill-rule="evenodd" d="M1028,893.9L1030.2,896.1L1032.5,896.1L1032.5,893.9L1030.2,891.6L1030.2,880.3L1028,878.1L1028,869.1L1025.7,866.8L1025.7,857.8L1023.5,855.5L1023.5,846.5L1021.2,844.3L1021.2,835.3L1018.9,833L1018.9,826.2L1016.7,824L1016.7,815L1014.4,812.7L1014.4,805.9L1012.1,803.7L1012.1,794.7L1009.9,792.4L1009.9,785.7L1007.6,783.4L1007.6,776.6L1005.4,774.4L1005.4,765.4L1003.1,763.1L1003.1,756.3L1000.8,754.1L1000.8,747.3L998.6,745.1L998.6,740.6L996.3,738.3L996.3,731.5L994,729.3L994,722.5L991.8,720.3L991.8,713.5L989.5,711.3L989.5,706.8L987.3,704.5L987.3,697.7L985,695.5L985,691L982.7,688.7L982.7,682L980.5,679.7L980.5,675.2L978.2,672.9L978.2,668.4L975.9,666.2L975.9,661.7L973.7,659.4L973.7,652.6L971.4,650.4L971.4,645.9L969.2,643.6L969.2,639.1L966.9,636.9L966.9,632.4L964.6,630.1L964.6,625.6L962.4,623.3L962.4,621.1L960.1,618.8L960.1,614.3L957.8,612.1L957.8,607.6L955.6,605.3L955.6,600.8L953.3,598.5L953.3,596.3L951.1,594L951.1,589.5L948.8,587.3L948.8,582.8L946.5,580.5L946.5,578.2L944.3,576L944.3,571.5L942,569.2L942,567L939.8,564.7L939.8,560.2L937.5,558L937.5,555.7L935.2,553.4L935.2,551.9L917.1,541.2L916.4,542.2L915.9,544.4L914.9,545.1L912.6,545.1L910.3,545.7L908.1,548.3L906.3,553.4L905.5,558L901.3,603L899.2,616.6L896.7,627.8L892.7,641.4L888.2,652.6L883.2,662.5L876.4,673L871.1,679.7L864.6,686.5L856.8,693.2L849.3,698.5L842.5,702.6L833.4,707L824.4,710.6L813.1,714.1L799.5,717.1L785.9,718.9L772.3,719.9L756.5,720.1L740.7,719.3L724.8,717.6L706.7,714.8L689.9,711.3L672.8,706.9L657,702L638.9,695.6L621.9,688.7L607,682L589.1,672.9L573.3,663.9L557.4,653.9L539.3,641.3L519.4,625.6L501.8,609.8L485,593L470,576L455.6,557.9L442.1,538.5L429.1,517.4L417.2,495.2L407.6,474.5L398.7,452L391.2,429.4L385.3,406.9L380.8,384.4L377.8,361.8L376.6,341.5L376.9,323.5L378.3,307.7L381,291.9L384.7,278.4L389.8,264.9L395.5,253.6L403,242.3L410.4,233.8L420.9,224.3L433,216.1L446.6,209.3L460.2,204.3L473.7,200.7L487.3,198.2L505.4,196L537.1,193.3L543.9,192.2L549,190.5L551.6,188.2L552.2,186L552.2,183.7L552.9,182.7L555.2,182.2L556.1,181.5L545.4,163.4L543.9,163.4L541.6,161.2L539.3,161.2L537.1,158.9L532.5,158.9L530.3,156.7L528,156.7L525.8,154.4L521.2,154.4L519,152.1L516.7,152.1L514.4,149.9L509.9,149.9L507.7,147.6L503.1,147.6L500.9,145.4L498.6,145.4L496.4,143.1L491.8,143.1L489.6,140.9L485,140.9L482.8,138.6L478.3,138.6L476,136.4L473.7,136.4L471.5,134.1L466.9,134.1L464.7,131.9L460.2,131.9L457.9,129.6L453.4,129.6L451.1,127.3L446.6,127.3L444.3,125.1L437.5,125.1L435.3,122.8L430.7,122.8L428.5,120.6L424,120.6L421.7,118.3L417.2,118.3L414.9,116.1L408.1,116.1L405.9,113.8L401.3,113.8L399.1,111.6L392.3,111.6L390,109.3L385.5,109.3L383.2,107.1L376.5,107.1L374.2,104.8L367.4,104.8L365.1,102.5L358.4,102.5L356.1,100.3L351.6,100.3L349.3,98L342.5,98L340.3,95.8L333.5,95.8L331.2,93.5L322.2,93.5L319.9,91.3L313.1,91.3L310.8,89L304.1,89L301.8,86.8L292.7,86.8L290.5,84.5L283.7,84.5L281.4,82.3L272.4,82.3L270.1,80L263.3,80L261.1,77.7L252,77.7L249.8,75.5L240.7,75.5L238.5,73.2L229.4,73.2L227.1,71L218.1,71L215.8,68.7L204.5,68.7L202.3,66.5L200,66.5L200,68.7L202.3,71L202.3,82.3L204.5,84.5L204.5,93.5L206.8,95.8L206.8,104.8L209,107.1L209,116.1L211.3,118.3L211.3,127.3L213.6,129.6L213.6,136.4L215.8,138.6L215.8,147.6L218.1,149.9L218.1,156.7L220.4,158.9L220.4,167.9L222.6,170.2L222.6,176.9L224.9,179.2L224.9,186L227.1,188.2L227.1,197.2L229.4,199.5L229.4,206.3L231.7,208.5L231.7,215.3L233.9,217.5L233.9,222L236.2,224.3L236.2,231.1L238.5,233.3L238.5,240.1L240.7,242.3L240.7,249.1L243,251.3L243,255.8L245.2,258.1L245.2,264.9L247.5,267.1L247.5,271.6L249.8,273.9L249.8,280.6L252,282.9L252,287.4L254.3,289.7L254.3,294.2L256.6,296.4L256.6,300.9L258.8,303.2L258.8,310L261.1,312.2L261.1,316.7L263.3,319L263.3,323.5L265.6,325.7L265.6,330.2L267.9,332.5L267.9,337L270.1,339.3L270.1,341.5L272.4,343.8L272.4,348.3L274.7,350.5L274.7,355L276.9,357.3L276.9,361.8L279.2,364.1L279.2,366.3L281.4,368.6L281.4,373.1L283.7,375.3L283.7,379.8L286,382.1L286,384.4L288.2,386.6L288.2,391.1L290.5,393.4L290.5,395.6L292.7,397.9L292.7,402.4L295,404.6L295,406.9L297.3,409.2L297.3,411.4L299.5,413.7L299.5,418.2L301.8,420.4L301.8,422.7L304.1,424.9L304.1,427.2L306.3,429.4L306.3,434L308.6,436.2L308.6,438.5L310.8,440.7L310.8,443L313.1,445.2L313.1,447.5L315.4,449.7L315.4,452L317.6,454.2L317.6,456.5L319.9,458.8L319.9,461L322.2,463.3L322.2,465.5L324.4,467.8L324.4,470L326.7,472.3L326.7,474.5L328.9,476.8L328.9,479L331.2,481.3L331.2,483.6L333.5,485.8L333.5,488.1L335.7,490.3L335.7,492.6L340.3,497.1L340.3,499.3L342.5,501.6L342.5,503.8L344.8,506.1L344.8,508.4L349.3,512.9L349.3,515.1L351.6,517.4L351.6,519.6L356.1,524.1L356.1,526.4L358.4,528.6L358.4,530.9L362.9,535.4L362.9,537.7L367.4,542.2L367.4,544.4L371.9,548.9L371.9,551.2L376.5,555.7L376.5,558L381,562.5L381,564.7L387.8,571.5L387.8,573.7L394.5,580.5L394.5,582.8L401.3,589.5L401.3,591.8L410.4,600.8L410.4,603L424,616.6L424,618.8L478.3,672.9L480.5,672.9L494.1,686.5L496.4,686.5L505.4,695.5L507.7,695.5L514.4,702.2L516.7,702.2L523.5,709L525.8,709L532.5,715.8L534.8,715.8L539.3,720.3L541.6,720.3L546.1,724.8L548.4,724.8L552.9,729.3L555.2,729.3L559.7,733.8L562,733.8L566.5,738.3L568.7,738.3L571,740.6L573.3,740.6L577.8,745.1L580.1,745.1L582.3,747.3L584.6,747.3L589.1,751.8L591.4,751.8L593.6,754.1L595.9,754.1L598.2,756.3L600.4,756.3L604.9,760.9L607.2,760.9L609.5,763.1L611.7,763.1L614,765.4L616.2,765.4L618.5,767.6L620.8,767.6L623,769.9L625.3,769.9L627.6,772.1L629.8,772.1L632.1,774.4L634.3,774.4L636.6,776.6L638.9,776.6L641.1,778.9L643.4,778.9L645.7,781.1L647.9,781.1L650.2,783.4L652.4,783.4L654.7,785.7L657,785.7L659.2,787.9L661.5,787.9L663.8,790.2L668.3,790.2L670.5,792.4L672.8,792.4L675.1,794.7L677.3,794.7L679.6,796.9L684.1,796.9L686.4,799.2L688.6,799.2L690.9,801.4L693.2,801.4L695.4,803.7L700,803.7L702.2,805.9L704.5,805.9L706.7,808.2L711.3,808.2L713.5,810.5L715.8,810.5L718.1,812.7L722.6,812.7L724.8,815L729.4,815L731.6,817.2L733.9,817.2L736.1,819.5L740.7,819.5L742.9,821.7L747.5,821.7L749.7,824L754.2,824L756.5,826.2L758.8,826.2L761,828.5L765.6,828.5L767.8,830.7L772.3,830.7L774.6,833L779.1,833L781.4,835.3L785.9,835.3L788.2,837.5L795,837.5L797.2,839.8L801.8,839.8L804,842L808.5,842L810.8,844.3L815.3,844.3L817.6,846.5L824.4,846.5L826.6,848.8L831.2,848.8L833.4,851L840.2,851L842.5,853.3L847,853.3L849.3,855.5L856,855.5L858.3,857.8L865.1,857.8L867.4,860.1L874.1,860.1L876.4,862.3L880.9,862.3L883.2,864.6L890,864.6L892.2,866.8L899,866.8L901.3,869.1L910.3,869.1L912.6,871.3L919.4,871.3L921.7,873.6L928.4,873.6L930.7,875.8L939.8,875.8L942,878.1L948.8,878.1L951.1,880.3L960.1,880.3L962.4,882.6L969.2,882.6L971.4,884.9L980.5,884.9L982.7,887.1L991.8,887.1L994,889.4L1003.1,889.4L1005.4,891.6L1014.4,891.6L1016.7,893.9Z"/>
<path fill="#0080ff" fill-rule="evenodd" d="M1028,893.9L1030.2,896.1L1032.5,896.1L1032.5,893.9L1030.2,891.6L1030.2,880.3L1028,878.1L1028,869.1L1025.7,866.8L1025.7,857.8L1023.5,855.5L1023.5,846.5L1021.2,844.3L1021.2,835.3L1018.9,833L1018.9,826.2L1016.7,824L1016.7,815L1014.4,812.7L1014.4,805.9L1012.1,803.7L1012.1,794.7L1009.9,792.4L1009.9,785.7L1007.6,783.4L1007.6,776.6L1005.4,774.4L1005.4,765.4L1003.1,763.1L1003.1,756.3L1000.8,754.1L1000.8,747.3L998.6,745.1L998.6,740.6L996.3,738.3L996.3,731.5L994,729.3L994,722.5L991.8,720.3L991.8,713.5L989.5,711.3L989.5,706.8L987.3,704.5L987.3,697.7L985,695.5L985,691L982.7,688.7L982.7,682L980.5,679.7L980.5,675.2L978.2,672.9L978.2,668.4L975.9,666.2L975.9,661.7L973.7,659.4L973.7,652.6L971.4,650.4L971.4,645.9L969.2,643.6L969.2,639.1L966.9,636.9L966.9,632.4L964.6,630.1L964.6,625.6L962.4,623.3L962.4,621.1L960.1,618.8L960.1,614.3L957.8,612.1L957.8,607.6L955.6,605.3L955.6,600.8L953.3,598.5L953.3,596.3L951.1,594L951.1,589.5L948.8,587.3L948.8,582.8L946.5,580.5L946.5,578.2L944.3,576L944.3,571.5L942,569.2L942,568.5L926.2,559.5L923.9,562.5L919.4,563.1L917.1,564.6L914.9,568.9L912.6,579.5L907.4,618.8L905.2,630.1L902.3,641.4L898.5,652.6L893.6,663.9L887.7,674.5L880.9,684.2L872.8,693.2L865.1,700.1L855.9,706.8L844.7,713L833.1,718L819.9,722.3L806.3,725.3L792.7,727.2L774.6,728.5L756.5,728.3L736.1,726.9L715.8,724.1L695.4,720.1L672.8,714.3L652.4,707.9L632.1,700.4L611.7,691.6L592,682L573.3,671.5L555.2,660.3L537.6,648.1L521.2,635.5L505.4,622L489.6,607L473.7,590.2L460.2,574.3L446.6,556.5L435.3,540.1L424,521.9L414.1,503.8L405.2,485.8L396.4,465.5L388.9,445.2L382.5,424.9L376.7,402.4L372.7,382.1L369.8,361.8L368.4,341.5L368.2,323.5L369.5,305.4L371.4,291.9L374.5,278.4L378.7,265.2L383.7,253.6L390,242.5L396.7,233.3L403.6,225.6L412.6,217.5L422.3,210.8L433,204.9L444.3,200L455.6,196.3L466.9,193.4L478.3,191.1L517.7,186L528.3,183.7L532.7,181.5L534.2,179.2L534.8,174.7L537.7,172.4L528.8,156.7L528,156.7L525.8,154.4L521.2,154.4L519,152.1L516.7,152.1L514.4,149.9L509.9,149.9L507.7,147.6L503.1,147.6L500.9,145.4L498.6,145.4L496.4,143.1L491.8,143.1L489.6,140.9L485,140.9L482.8,138.6L478.3,138.6L476,136.4L473.7,136.4L471.5,134.1L466.9,134.1L464.7,131.9L460.2,131.9L457.9,129.6L453.4,129.6L451.1,127.3L446.6,127.3L444.3,125.1L437.5,125.1L435.3,122.8L430.7,122.8L428.5,120.6L424,120.6L421.7,118.3L417.2,118.3L414.9,116.1L408.1,116.1L405.9,113.8L401.3,113.8L399.1,111.6L392.3,111.6L390,109.3L385.5,109.3L383.2,107.1L376.5,107.1L374.2,104.8L367.4,104.8L365.1,102.5L358.4,102.5L356.1,100.3L351.6,100.3L349.3,98L342.5,98L340.3,95.8L333.5,95.8L331.2,93.5L322.2,93.5L319.9,91.3L313.1,91.3L310.8,89L304.1,89L301.8,86.8L292.7,86.8L290.5,84.5L283.7,84.5L281.4,82.3L272.4,82.3L270.1,80L263.3,80L261.1,77.7L252,77.7L249.8,75.5L240.7,75.5L238.5,73.2L229.4,73.2L227.1,71L218.1,71L215.8,68.7L204.5,68.7L202.3,66.5L200,66.5L200,68.7L202.3,71L202.3,82.3L204.5,84.5L204.5,93.5L206.8,95.8L206.8,104.8L209,107.1L209,116.1L211.3,118.3L211.3,127.3L213.6,129.6L213.6,136.4L215.8,138.6L215.8,147.6L218.1,149.9L218.1,156.7L220.4,158.9L220.4,167.9L222.6,170.2L222.6,176.9L224.9,179.2L224.9,186L227.1,188.2L227.1,197.2L229.4,199.5L229.4,206.3L231.7,208.5L231.7,215.3L233.9,217.5L233.9,222L236.2,224.3L236.2,231.1L238.5,233.3L238.5,240.1L240.7,242.3L240.7,249.1L243,251.3L243,255.8L245.2,258.1L245.2,264.9L247.5,267.1L247.5,271.6L249.8,273.9L249.8,280.6L252,282.9L252,287.4L254.3,289.7L254.3,294.2L256.6,296.4L256.6,300.9L258.8,303.2L258.8,310L261.1,312.2L261.1,316.7L263.3,319L263.3,323.5L265.6,325.7L265.6,330.2L267.9,332.5L267.9,337L270.1,339.3L270.1,341.5L272.4,343.8L272.4,348.3L274.7,350.5L274.7,355L276.9,357.3L276.9,361.8L279.2,364.1L279.2,366.3L281.4,368.6L281.4,373.1L283.7,375.3L283.7,379.8L286,382.1L286,384.4L288.2,386.6L288.2,391.1L290.5,393.4L290.5,395.6L292.7,397.9L292.7,402.4L295,404.6L295,406.9L297.3,409.2L297.3,411.4L299.5,413.7L299.5,418.2L301.8,420.4L301.8,422.7L304.1,424.9L304.1,427.2L306.3,429.4L306.3,434L308.6,436.2L308.6,438.5L310.8,440.7L310.8,443L313.1,445.2L313.1,447.5L315.4,449.7L315.4,452L317.6,454.2L317.6,456.5L319.9,458.8L319.9,461L322.2,463.3L322.2,465.5L324.4,467.8L324.4,470L326.7,472.3L326.7,474.5L328.9,476.8L328.9,479L331.2,481.3L331.2,483.6L333.5,485.8L333.5,488.1L335.7,490.3L335.7,492.6L340.3,497.1L340.3,499.3L342.5,501.6L342.5,503.8L344.8,506.1L344.8,508.4L349.3,512.9L349.3,515.1L351.6,517.4L351.6,519.6L356.1,524.1L356.1,526.4L358.4,528.6L358.4,530.9L362.9,535.4L362.9,537.7L367.4,542.2L367.4,544.4L371.9,548.9L371.9,551.2L376.5,555.7L376.5,558L381,562.5L381,564.7L387.8,571.5L387.8,573.7L394.5,580.5L394.5,582.8L401.3,589.5L401.3,591.8L410.4,600.8L410.4,603L424,616.6L424,618.8L478.3,672.9L480.5,672.9L494.1,686.5L496.4,686.5L505.4,695.5L507.7,695.5L514.4,702.2L516.7,702.2L523.5,709L525.8,709L532.5,715.8L534.8,715.8L539.3,720.3L541.6,720.3L546.1,724.8L548.4,724.8L552.9,729.3L555.2,729.3L559.7,733.8L562,733.8L566.5,738.3L568.7,738.3L571,740.6L573.3,740.6L577.8,745.1L580.1,745.1L582.3,747.3L584.6,747.3L589.1,751.8L591.4,751.8L593.6,754.1L595.9,754.1L598.2,756.3L600.4,756.3L604.9,760.9L607.2,760.9L609.5,763.1L611.7,763.1L614,765.4L616.2,765.4L618.5,767.6L620.8,767.6L623,769.9L625.3,769.9L627.6,772.1L629.8,772.1L632.1,774.4L634.3,774.4L636.6,776.6L638.9,776.6L641.1,778.9L643.4,778.9L645.7,781.1L647.9,781.1L650.2,783.4L652.4,783.4L654.7,785.7L657,785.7L659.2,787.9L661.5,787.9L663.8,790.2L668.3,790.2L670.5,792.4L672.8,792.4L675.1,794.7L677.3,794.7L679.6,796.9L684.1,796.9L686.4,799.2L688.6,799.2L690.9,801.4L693.2,801.4L695.4,803.7L700,803.7L702.2,805.9L704.5,805.9L706.7,808.2L711.3,808.2L713.5,810.5L715.8,810.5L718.1,812.7L722.6,812.7L724.8,815L729.4,815L731.6,817.2L733.9,817.2L736.1,819.5L740.7,819.5L742.9,821.7L747.5,821.7L749.7,824L754.2,824L756.5,826.2L758.8,826.2L761,828.5L765.6,828.5L767.8,830.7L772.3,830.7L774.6,833L779.1,833L781.4,835.3L785.9,835.3L788.2,837.5L795,837.5L797.2,839.8L801.8,839.8L804,842L808.5,842L810.8,844.3L815.3,844.3L817.6,846.5L824.4,846.5L826.6,848.8L831.2,848.8L833.4,851L840.2,851L842.5,853.3L847,853.3L849.3,855.5L856,855.5L858.3,857.8L865.1,857.8L867.4,860.1L874.1,860.1L876.4,862.3L880.9,862.3L883.2,864.6L890,864.6L892.2,866.8L899,866.8L901.3,869.1L910.3,869.1L912.6,871.3L919.4,871.3L921.7,873.6L928.4,873.6L930.7,875.8L939.8,875.8L942,878.1L948.8,878.1L951.1,880.3L960.1,880.3L962.4,882.6L969.2,882.6L971.4,884.9L980.5,884.9L982.7,887.1L991.8,887.1L994,889.4L1003.1,889.4L1005.4,891.6L1014.4,891.6L1016.7,893.9Z"/>
<path fill="#008fff" fill-rule="evenodd" d="M1028,893.9L1030.2,896.1L1032.5,896.1L1032.5,893.9L1030.2,891.6L1030.2,880.3L1028,878.1L1028,869.1L1025.7,866.8L1025.7,857.8L1023.5,855.5L1023.5,846.5L1021.2,844.3L1021.2,835.3L1018.9,833L1018.9,826.2L1016.7,824L1016.7,815L1014.4,812.7L1014.4,805.9L1012.1,803.7L1012.1,794.7L1009.9,792.4L1009.9,785.7L1007.6,783.4L1007.6,776.6L1005.4,774.4L1005.4,765.4L1003.1,763.1L1003.1,756.3L1000.8,754.1L1000.8,747.3L998.6,745.1L998.6,740.6L996.3,738.3L996.3,731.5L994,729.3L994,722.5L991.8,720.3L991.8,713.5L989.5,711.3L989.5,706.8L987.3,704.5L987.3,697.7L985,695.5L985,691L982.7,688.7L982.7,682L980.5,679.7L980.5,675.2L978.2,672.9L978.2,668.4L975.9,666.2L975.9,661.7L973.7,659.4L973.7,652.6L971.4,650.4L971.4,645.9L969.2,643.6L969.2,639.1L966.9,636.9L966.9,632.4L964.6,630.1L964.6,625.6L962.4,623.3L962.4,621.1L960.1,618.8L960.1,614.3L957.8,612.1L957.8,607.6L955.6,605.3L955.6,600.8L953.3,598.5L953.3,596.3L951.1,594L951.1,589.5L948.8,587.3L948.8,584.5L933,575.9L930.7,578.9L926.2,579.8L925.1,580.5L923.9,581.6L922.1,585L919.4,595.6L915.3,621.1L912.7,634.6L907.1,654.9L902.7,666.2L897.2,677.4L891.5,686.5L884.5,695.5L876.4,703.8L867.4,711.1L858.3,717L847,722.8L835.7,727.2L822.1,731.1L808.5,733.8L792.7,735.7L774.6,736.5L754.2,735.9L733.9,734L713.5,730.9L693.2,726.6L670.5,720.6L650.2,714L629.8,706.3L610,697.7L591.4,688.6L571.2,677.4L552.9,666.1L533.6,652.6L516.7,639.6L500.4,625.6L485,610.9L469.2,594.2L455.6,578.3L442.1,560.6L430.7,544.3L419.4,526.2L408.2,506.1L399.1,487.6L390,466.8L381.9,445.2L375.5,424.9L369.7,402.9L365.4,382.1L362.4,361.8L360.6,341.5L360.2,323.5L361,305.4L362.9,289.7L365.6,276.1L369.5,262.6L374,251.3L379.7,240.1L385.6,231.1L393,222L401.3,214L410.4,207L419.4,201.4L430.7,195.8L442.1,191.5L462.4,185.9L501.6,179.2L512.2,176.5L515.6,174.7L516.7,173.5L517.5,172.4L518.3,167.9L521.4,165.7L512.7,149.9L509.9,149.9L507.7,147.6L503.1,147.6L500.9,145.4L498.6,145.4L496.4,143.1L491.8,143.1L489.6,140.9L485,140.9L482.8,138.6L478.3,138.6L476,136.4L473.7,136.4L471.5,134.1L466.9,134.1L464.7,131.9L460.2,131.9L457.9,129.6L453.4,129.6L451.1,127.3L446.6,127.3L444.3,125.1L437.5,125.1L435.3,122.8L430.7,122.8L428.5,120.6L424,120.6L421.7,118.3L417.2,118.3L414.9,116.1L408.1,116.1L405.9,113.8L401.3,113.8L399.1,111.6L392.3,111.6L390,109.3L385.5,109.3L383.2,107.1L376.5,107.1L374.2,104.8L367.4,104.8L365.1,102.5L358.4,102.5L356.1,100.3L351.6,100.3L349.3,98L342.5,98L340.3,95.8L333.5,95.8L331.2,93.5L322.2,93.5L319.9,91.3L313.1,91.3L310.8,89L304.1,89L301.8,86.8L292.7,86.8L290.5,84.5L283.7,84.5L281.4,82.3L272.4,82.3L270.1,80L263.3,80L261.1,77.7L252,77.7L249.8,75.5L240.7,75.5L238.5,73.2L229.4,73.2L227.1,71L218.1,71L215.8,68.7L204.5,68.7L202.3,66.5L200,66.5L200,68.7L202.3,71L202.3,82.3L204.5,84.5L204.5,93.5L206.8,95.8L206.8,104.8L209,107.1L209,116.1L211.3,118.3L211.3,127.3L213.6,129.6L213.6,136.4L215.8,138.6L215.8,147.6L218.1,149.9L218.1,156.7L220.4,158.9L220.4,167.9L222.6,170.2L222.6,176.9L224.9,179.2L224.9,186L227.1,188.2L227.1,197.2L229.4,199.5L229.4,206.3L231.7,208.5L231.7,215.3L233.9,217.5L233.9,222L236.2,224.3L236.2,231.1L238.5,233.3L238.5,240.1L240.7,242.3L240.7,249.1L243,251.3L243,255.8L245.2,258.1L245.2,264.9L247.5,267.1L247.5,271.6L249.8,273.9L249.8,280.6L252,282.9L252,287.4L254.3,289.7L254.3,294.2L256.6,296.4L256.6,300.9L258.8,303.2L258.8,310L261.1,312.2L261.1,316.7L263.3,319L263.3,323.5L265.6,325.7L265.6,330.2L267.9,332.5L267.9,337L270.1,339.3L270.1,341.5L272.4,343.8L272.4,348.3L274.7,350.5L274.7,355L276.9,357.3L276.9,361.8L279.2,364.1L279.2,366.3L281.4,368.6L281.4,373.1L283.7,375.3L283.7,379.8L286,382.1L286,384.4L288.2,386.6L288.2,391.1L290.5,393.4L290.5,395.6L292.7,397.9L292.7,402.4L295,404.6L295,406.9L297.3,409.2L297.3,411.4L299.5,413.7L299.5,418.2L301.8,420.4L301.8,422.7L304.1,424.9L304.1,427.2L306.3,429.4L306.3,434L308.6,436.2L308.6,438.5L310.8,440.7L310.8,443L313.1,445.2L313.1,447.5L315.4,449.7L315.4,452L317.6,454.2L317.6,456.5L319.9,458.8L319.9,461L322.2,463.3L322.2,465.5L324.4,467.8L324.4,470L326.7,472.3L326.7,474.5L328.9,476.8L328.9,479L331.2,481.3L331.2,483.6L333.5,485.8L333.5,488.1L335.7,490.3L335.7,492.6L340.3,497.1L340.3,499.3L342.5,501.6L342.5,503.8L344.8,506.1L344.8,508.4L349.3,512.9L349.3,515.1L351.6,517.4L351.6,519.6L356.1,524.1L356.1,526.4L358.4,528.6L358.4,530.9L362.9,535.4L362.9,537.7L367.4,542.2L367.4,544.4L371.9,548.9L371.9,551.2L376.5,555.7L376.5,558L381,562.5L381,564.7L387.8,571.5L387.8,573.7L394.5,580.5L394.5,582.8L401.3,589.5L401.3,591.8L410.4,600.8L410.4,603L424,616.6L424,618.8L478.3,672.9L480.5,672.9L494.1,686.5L496.4,686.5L505.4,695.5L507.7,695.5L514.4,702.2L516.7,702.2L523.5,709L525.8,709L532.5,715.8L534.8,715.8L539.3,720.3L541.6,720.3L546.1,724.8L548.4,724.8L552.9,729.3L555.2,729.3L559.7,733.8L562,733.8L566.5,738.3L568.7,738.3L571,740.6L573.3,740.6L577.8,745.1L580.1,745.1L582.3,747.3L584.6,747.3L589.1,751.8L591.4,751.8L593.6,754.1L595.9,754.1L598.2,756.3L600.4,756.3L604.9,760.9L607.2,760.9L609.5,763.1L611.7,763.1L614,765.4L616.2,765.4L618.5,767.6L620.8,767.6L623,769.9L625.3,769.9L627.6,772.1L629.8,772.1L632.1,774.4L634.3,774.4L636.6,776.6L638.9,776.6L641.1,778.9L643.4,778.9L645.7,781.1L647.9,781.1L650.2,783.4L652.4,783.4L654.7,785.7L657,785.7L659.2,787.9L661.5,787.9L663.8,790.2L668.3,790.2L670.5,792.4L672.8,792.4L675.1,794.7L677.3,794.7L679.6,796.9L684.1,796.9L686.4,799.2L688.6,799.2L690.9,801.4L693.2,801.4L695.4,803.7L700,803.7L702.2,805.9L704.5,805.9L706.7,808.2L711.3,808.2L713.5,810.5L715.8,810.5L718.1,812.7L722.6,812.7L724.8,815L729.4,815L731.6,817.2L733.9,817.2L736.1,819.5L740.7,819.5L742.9,821.7L747.5,821.7L749.7,824L754.2,824L756.5,826.2L758.8,826.2L761,828.5L765.6,828.5L767.8,830.7L772.3,830.7L774.6,833L779.1,833L781.4,835.3L785.9,835.3L788.2,837.5L795,837.5L797.2,839.8L801.8,839.8L804,842L808.5,842L810.8,844.3L815.3,844.3L817.6,846.5L824.4,846.5L826.6,848.8L831.2,848.8L833.4,851L840.2,851L842.5,853.3L847,853.3L849.3,855.5L856,855.5L858.3,857.8L865.1,857.8L867.4,860.1L874.1,860.1L876.4,862.3L880.9,862.3L883.2,864.6L890,864.6L892.2,866.8L899,866.8L901.3,869.1L910.3,869.1L912.6,871.3L919.4,871.3L921.7,873.6L928.4,873.6L930.7,875.8L939.8,875.8L942,878.1L948.8,878.1L951.1,880.3L960.1,880.3L962.4,882.6L969.2,882.6L971.4,884.9L980.5,884.9L982.7,887.1L991.8,887.1L994,889.4L1003.1,889.4L1005.4,891.6L1014.4,891.6L1016.7,893.9Z"/>
<path fill="#009fff" fill-rule="evenodd" d="M1028,893.9L1030.2,896.1L1032.5,896.1L1032.5,893.9L1030.2,891.6L1030.2,880.3L1028,878.1L1028,869.1L1025.7,866.8L1025.7,857.8L1023.5,855.5L1023.5,846.5L1021.2,844.3L1021.2,835.3L1018.9,833L1018.9,826.2L1016.7,824L1016.7,815L1014.4,812.7L1014.4,805.9L1012.1,803.7L1012.1,794.7L1009.9,792.4L1009.9,785.7L1007.6,783.4L1007.6,776.6L1005.4,774.4L1005.4,765.4L1003.1,763.1L1003.1,756.3L1000.8,754.1L1000.8,747.3L998.6,745.1L998.6,740.6L996.3,738.3L996.3,731.5L994,729.3L994,722.5L991.8,720.3L991.8,713.5L989.5,711.3L989.5,706.8L987.3,704.5L987.3,697.7L985,695.5L985,691L982.7,688.7L982.7,682L980.5,679.7L980.5,675.2L978.2,672.9L978.2,668.4L975.9,666.2L975.9,661.7L973.7,659.4L973.7,652.6L971.4,650.4L971.4,645.9L969.2,643.6L969.2,639.1L966.9,636.9L966.9,632.4L964.6,630.1L964.6,625.6L962.4,623.3L962.4,621.1L960.1,618.8L960.1,614.3L957.8,612.1L957.8,607.6L955.6,605.3L955.6,600.8L953.6,598.8L939.8,591.6L937.3,594L933,595.1L931.2,596.3L928.4,600.5L925.7,609.8L918.3,645.9L914.9,658L911.2,668.4L906.2,679.7L901.2,688.7L894.5,698.3L887.2,706.8L878.7,714.6L869.6,721.3L858.3,727.8L847,732.7L833.4,737.2L819.9,740.3L806.3,742.4L790.4,743.7L772.3,744L752,743L731.6,740.7L711.3,737.2L688.6,732.1L668.3,726.4L647.9,719.7L625.3,710.9L604.9,701.8L583.5,691L564.2,679.9L546.2,668.4L530.2,657.2L512.2,643.1L496.4,629.4L480.5,614.3L465.6,598.5L452,582.8L439.7,567L426.2,547.7L414.9,529.8L403.6,509.7L393.9,490.3L384.9,470L376.5,448L369.6,427.2L363.5,404.6L359,384.4L355.7,364.1L353.5,343.8L352.6,323.5L353,305.4L354.5,289.7L356.8,276.1L360.1,262.6L363.9,251.3L368.9,240.1L375.5,228.8L382.1,219.8L390,211.3L398.5,204L408.1,197.4L417.2,192.4L428.5,187.4L438.9,183.7L451.1,180.3L487.3,172.9L496.7,170.2L500.9,167.4L502,165.7L503.1,161.3L505.6,158.9L498.3,145.1L496.4,143.1L491.8,143.1L489.6,140.9L485,140.9L482.8,138.6L478.3,138.6L476,136.4L473.7,136.4L471.5,134.1L466.9,134.1L464.7,131.9L460.2,131.9L457.9,129.6L453.4,129.6L451.1,127.3L446.6,127.3L444.3,125.1L437.5,125.1L435.3,122.8L430.7,122.8L428.5,120.6L424,120.6L421.7,118.3L417.2,118.3L414.9,116.1L408.1,116.1L405.9,113.8L401.3,113.8L399.1,111.6L392.3,111.6L390,109.3L385.5,109.3L383.2,107.1L376.5,107.1L374.2,104.8L367.4,104.8L365.1,102.5L358.4,102.5L356.1,100.3L351.6,100.3L349.3,98L342.5,98L340.3,95.8L333.5,95.8L331.2,93.5L322.2,93.5L319.9,91.3L313.1,91.3L310.8,89L304.1,89L301.8,86.8L292.7,86.8L290.5,84.5L283.7,84.5L281.4,82.3L272.4,82.3L270.1,80L263.3,80L261.1,77.7L252,77.7L249.8,75.5L240.7,75.5L238.5,73.2L229.4,73.2L227.1,71L218.1,71L215.8,68.7L204.5,68.7L202.3,66.5L200,66.5L200,68.7L202.3,71L202.3,82.3L204.5,84.5L204.5,93.5L206.8,95.8L206.8,104.8L209,107.1L209,116.1L211.3,118.3L211.3,127.3L213.6,129.6L213.6,136.4L215.8,138.6L215.8,147.6L218.1,149.9L218.1,156.7L220.4,158.9L220.4,167.9L222.6,170.2L222.6,176.9L224.9,179.2L224.9,186L227.1,188.2L227.1,197.2L229.4,199.5L229.4,206.3L231.7,208.5L231.7,215.3L233.9,217.5L233.9,222L236.2,224.3L236.2,231.1L238.5,233.3L238.5,240.1L240.7,242.3L240.7,249.1L243,251.3L243,255.8L245.2,258.1L245.2,264.9L247.5,267.1L247.5,271.6L249.8,273.9L249.8,280.6L252,282.9L252,287.4L254.3,289.7L254.3,294.2L256.6,296.4L256.6,300.9L258.8,303.2L258.8,310L261.1,312.2L261.1,316.7L263.3,319L263.3,323.5L265.6,325.7L265.6,330.2L267.9,332.5L267.9,337L270.1,339.3L270.1,341.5L272.4,343.8L272.4,348.3L274.7,350.5L274.7,355L276.9,357.3L276.9,361.8L279.2,364.1L279.2,366.3L281.4,368.6L281.4,373.1L283.7,375.3L283.7,379.8L286,382.1L286,384.4L288.2,386.6L288.2,391.1L290.5,393.4L290.5,395.6L292.7,397.9L292.7,402.4L295,404.6L295,406.9L297.3,409.2L297.3,411.4L299.5,413.7L299.5,418.2L301.8,420.4L301.8,422.7L304.1,424.9L304.1,427.2L306.3,429.4L306.3,434L308.6,436.2L308.6,438.5L310.8,440.7L310.8,443L313.1,445.2L313.1,447.5L315.4,449.7L315.4,452L317.6,454.2L317.6,456.5L319.9,458.8L319.9,461L322.2,463.3L322.2,465.5L324.4,467.8L324.4,470L326.7,472.3L326.7,474.5L328.9,476.8L328.9,479L331.2,481.3L331.2,483.6L333.5,485.8L333.5,488.1L335.7,490.3L335.7,492.6L340.3,497.1L340.3,499.3L342.5,501.6L342.5,503.8L344.8,506.1L344.8,508.4L349.3,512.9L349.3,515.1L351.6,517.4L351.6,519.6L356.1,524.1L356.1,526.4L358.4,528.6L358.4,530.9L362.9,535.4L362.9,537.7L367.4,542.2L367.4,544.4L371.9,548.9L371.9,551.2L376.5,555.7L376.5,558L381,562.5L381,564.7L387.8,571.5L387.8,573.7L394.5,580.5L394.5,582.8L401.3,589.5L401.3,591.8L410.4,600.8L410.4,603L424,616.6L424,618.8L478.3,672.9L480.5,672.9L494.1,686.5L496.4,686.5L505.4,695.5L507.7,695.5L514.4,702.2L516.7,702.2L523.5,709L525.8,709L532.5,715.8L534.8,715.8L539.3,720.3L541.6,720.3L546.1,724.8L548.4,724.8L552.9,729.3L555.2,729.3L559.7,733.8L562,733.8L566.5,738.3L568.7,738.3L571,740.6L573.3,740.6L577.8,745.1L580.1,745.1L582.3,747.3L584.6,747.3L589.1,751.8L591.4,751.8L593.6,754.1L595.9,754.1L598.2,756.3L600.4,756.3L604.9,760.9L607.2,760.9L609.5,763.1L611.7,763.1L614,765.4L616.2,765.4L618.5,767.6L620.8,767.6L623,769.9L625.3,769.9L627.6,772.1L629.8,772.1L632.1,774.4L634.3,774.4L636.6,776.6L638.9,776.6L641.1,778.9L643.4,778.9L645.7,781.1L647.9,781.1L650.2,783.4L652.4,783.4L654.7,785.7L657,785.7L659.2,787.9L661.5,787.9L663.8,790.2L668.3,790.2L670.5,792.4L672.8,792.4L675.1,794.7L677.3,794.7L679.6,796.9L684.1,796.9L686.4,799.2L688.6,799.2L690.9,801.4L693.2,801.4L695.4,803.7L700,803.7L702.2,805.9L704.5,805.9L706.7,808.2L711.3,808.2L713.5,810.5L715.8,810.5L718.1,812.7L722.6,812.7L724.8,815L729.4,815L731.6,817.2L733.9,817.2L736.1,819.5L740.7,819.5L742.9,821.7L747.5,821.7L749.7,824L754.2,824L756.5,826.2L758.8,826.2L761,828.5L765.6,828.5L767.8,830.7L772.3,830.7L774.6,833L779.1,833L781.4,835.3L785.9,835.3L788.2,837.5L795,837.5L797.2,839.8L801.8,839.8L804,842L808.5,842L810.8,844.3L815.3,844.3L817.6,846.5L824.4,846.5L826.6,848.8L831.2,848.8L833.4,851L840.2,851L842.5,853.3L847,853.3L849.3,855.5L856,855.5L858.3,857.8L865.1,857.8L867.4,860.1L874.1,860.1L876.4,862.3L880.9,862.3L883.2,864.6L890,864.6L892.2,866.8L899,866.8L901.3,869.1L910.3,869.1L912.6,871.3L919.4,871.3L921.7,873.6L928.4,873.6L930.7,875.8L939.8,875.8L942,878.1L948.8,878.1L951.1,880.3L960.1,880.3L962.4,882.6L969.2,882.6L971.4,884.9L980.5,884.9L982.7,887.1L991.8,887.1L994,889.4L1003.1,889.4L1005.4,891.6L1014.4,891.6L1016.7,893.9Z"/>
<path fill="#00afff" fill-rule="evenodd" d="M1028,893.9L1030.2,896.1L1032.5,896.1L1032.5,893.9L1030.2,891.6L1030.2,880.3L1028,878.1L1028,869.1L1025.7,866.8L1025.7,857.8L1023.5,855.5L1023.5,846.5L1021.2,844.3L1021.2,835.3L1018.9,833L1018.9,826.2L1016.7,824L1016.7,815L1014.4,812.7L1014.4,805.9L1012.1,803.7L1012.1,794.7L1009.9,792.4L1009.9,785.7L1007.6,783.4L1007.6,776.6L1005.4,774.4L1005.4,765.4L1003.1,763.1L1003.1,756.3L1000.8,754.1L1000.8,747.3L998.6,745.1L998.6,740.6L996.3,738.3L996.3,731.5L994,729.3L994,722.5L991.8,720.3L991.8,713.5L989.5,711.3L989.5,706.8L987.3,704.5L987.3,697.7L985,695.5L985,691L982.7,688.7L982.7,682L980.5,679.7L980.5,675.2L978.2,672.9L978.2,668.4L975.9,666.2L975.9,661.7L973.7,659.4L973.7,652.6L971.4,650.4L971.4,645.9L969.2,643.6L969.2,639.1L966.9,636.9L966.9,632.4L964.6,630.1L964.6,625.6L962.4,623.3L962.4,621.1L960.1,618.8L960.1,614.3L958.5,612.7L946.5,606.7L944.3,605.5L942,609L939.8,609.4L937.5,610.4L934.6,614.3L931.4,623.3L922.7,659.4L919.1,670.7L914.9,681.2L910,691L903.6,701.3L896.8,710L888.9,718L880.7,724.8L869.6,732L858.3,737.6L847,742L833.4,745.8L819.9,748.5L806.3,750.2L790.4,751.1L772.3,751L752,749.7L731.6,747.2L709,743.1L688.6,738.3L665.2,731.5L645.4,724.8L623,716L602.6,706.8L580.6,695.5L561.1,684.2L543.9,673.2L527.5,661.7L509.9,648L494.1,634.3L477.7,618.8L462.7,603L448.8,587L435.3,569.7L422.2,551.2L410.4,532.6L399.2,512.9L390,494.8L380.8,474.5L371.9,452.3L365.1,432.5L358.4,409.2L353.6,388.9L349.5,366.3L346.9,346L345.6,325.7L345.5,307.7L346.5,291.9L348.2,278.4L350.8,264.9L354.7,251.3L359,240.1L364.7,228.8L371.9,217.7L378.7,209.6L386.8,201.7L395.5,195L405.9,188.5L415.7,183.7L426.2,179.5L437.5,175.9L473.7,167.2L482.8,164.1L486.7,161.2L487.7,158.9L488.1,156.7L491.6,154.4L490.5,152.1L484.4,140.2L482.8,138.6L478.3,138.6L476,136.4L473.7,136.4L471.5,134.1L466.9,134.1L464.7,131.9L460.2,131.9L457.9,129.6L453.4,129.6L451.1,127.3L446.6,127.3L444.3,125.1L437.5,125.1L435.3,122.8L430.7,122.8L428.5,120.6L424,120.6L421.7,118.3L417.2,118.3L414.9,116.1L408.1,116.1L405.9,113.8L401.3,113.8L399.1,111.6L392.3,111.6L390,109.3L385.5,109.3L383.2,107.1L376.5,107.1L374.2,104.8L367.4,104.8L365.1,102.5L358.4,102.5L356.1,100.3L351.6,100.3L349.3,98L342.5,98L340.3,95.8L333.5,95.8L331.2,93.5L322.2,93.5L319.9,91.3L313.1,91.3L310.8,89L304.1,89L301.8,86.8L292.7,86.8L290.5,84.5L283.7,84.5L281.4,82.3L272.4,82.3L270.1,80L263.3,80L261.1,77.7L252,77.7L249.8,75.5L240.7,75.5L238.5,73.2L229.4,73.2L227.1,71L218.1,71L215.8,68.7L204.5,68.7L202.3,66.5L200,66.5L200,68.7L202.3,71L202.3,82.3L204.5,84.5L204.5,93.5L206.8,95.8L206.8,104.8L209,107.1L209,116.1L211.3,118.3L211.3,127.3L213.6,129.6L213.6,136.4L215.8,138.6L215.8,147.6L218.1,149.9L218.1,156.7L220.4,158.9L220.4,167.9L222.6,170.2L222.6,176.9L224.9,179.2L224.9,186L227.1,188.2L227.1,197.2L229.4,199.5L229.4,206.3L231.7,208.5L231.7,215.3L233.9,217.5L233.9,222L236.2,224.3L236.2,231.1L238.5,233.3L238.5,240.1L240.7,242.3L240.7,249.1L243,251.3L243,255.8L245.2,258.1L245.2,264.9L247.5,267.1L247.5,271.6L249.8,273.9L249.8,280.6L252,282.9L252,287.4L254.3,289.7L254.3,294.2L256.6,296.4L256.6,300.9L258.8,303.2L258.8,310L261.1,312.2L261.1,316.7L263.3,319L263.3,323.5L265.6,325.7L265.6,330.2L267.9,332.5L267.9,337L270.1,339.3L270.1,341.5L272.4,343.8L272.4,348.3L274.7,350.5L274.7,355L276.9,357.3L276.9,361.8L279.2,364.1L279.2,366.3L281.4,368.6L281.4,373.1L283.7,375.3L283.7,379.8L286,382.1L286,384.4L288.2,386.6L288.2,391.1L290.5,393.4L290.5,395.6L292.7,397.9L292.7,402.4L295,404.6L295,406.9L297.3,409.2L297.3,411.4L299.5,413.7L299.5,418.2L301.8,420.4L301.8,422.7L304.1,424.9L304.1,427.2L306.3,429.4L306.3,434L308.6,436.2L308.6,438.5L310.8,440.7L310.8,443L313.1,445.2L313.1,447.5L315.4,449.7L315.4,452L317.6,454.2L317.6,456.5L319.9,458.8L319.9,461L322.2,463.3L322.2,465.5L324.4,467.8L324.4,470L326.7,472.3L326.7,474.5L328.9,476.8L328.9,479L331.2,481.3L331.2,483.6L333.5,485.8L333.5,488.1L335.7,490.3L335.7,492.6L340.3,497.1L340.3,499.3L342.5,501.6L342.5,503.8L344.8,506.1L344.8,508.4L349.3,512.9L349.3,515.1L351.6,517.4L351.6,519.6L356.1,524.1L356.1,526.4L358.4,528.6L358.4,530.9L362.9,535.4L362.9,537.7L367.4,542.2L367.4,544.4L371.9,548.9L371.9,551.2L376.5,555.7L376.5,558L381,562.5L381,564.7L387.8,571.5L387.8,573.7L394.5,580.5L394.5,582.8L401.3,589.5L401.3,591.8L410.4,600.8L410.4,603L424,616.6L424,618.8L478.3,672.9L480.5,672.9L494.1,686.5L496.4,686.5L505.4,695.5L507.7,695.5L514.4,702.2L516.7,702.2L523.5,709L525.8,709L532.5,715.8L534.8,715.8L539.3,720.3L541.6,720.3L546.1,724.8L548.4,724.8L552.9,729.3L555.2,729.3L559.7,733.8L562,733.8L566.5,738.3L568.7,738.3L571,740.6L573.3,740.6L577.8,745.1L580.1,745.1L582.3,747.3L584.6,747.3L589.1,751.8L591.4,751.8L593.6,754.1L595.9,754.1L598.2,756.3L600.4,756.3L604.9,760.9L607.2,760.9L609.5,763.1L611.7,763.1L614,765.4L616.2,765.4L618.5,767.6L620.8,767.6L623,769.9L625.3,769.9L627.6,772.1L629.8,772.1L632.1,774.4L634.3,774.4L636.6,776.6L638.9,776.6L641.1,778.9L643.4,778.9L645.7,781.1L647.9,781.1L650.2,783.4L652.4,783.4L654.7,785.7L657,785.7L659.2,787.9L661.5,787.9L663.8,790.2L668.3,790.2L670.5,792.4L672.8,792.4L675.1,794.7L677.3,794.7L679.6,796.9L684.1,796.9L686.4,799.2L688.6,799.2L690.9,801.4L693.2,801.4L695.4,803.7L700,803.7L702.2,805.9L704.5,805.9L706.7,808.2L711.3,808.2L713.5,810.5L715.8,810.5L718.1,812.7L722.6,812.7L724.8,815L729.4,815L731.6,817.2L733.9,817.2L736.1,819.5L740.7,819.5L742.9,821.7L747.5,821.7L749.7,824L754.2,824L756.5,826.2L758.8,826.2L761,828.5L765.6,828.5L767.8,830.7L772.3,830.7L774.6,833L779.1,833L781.4,835.3L785.9,835.3L788.2,837.5L795,837.5L797.2,839.8L801.8,839.8L804,842L808.5,842L810.8,844.3L815.3,844.3L817.6,846.5L824.4,846.5L826.6,848.8L831.2,848.8L833.4,851L840.2,851L842.5,853.3L847,853.3L849.3,855.5L856,855.5L858.3,857.8L865.1,857.8L867.4,860.1L874.1,860.1L876.4,862.3L880.9,862.3L883.2,864.6L890,864.6L892.2,866.8L899,866.8L901.3,869.1L910.3,869.1L912.6,871.3L919.4,871.3L921.7,873.6L928.4,873.6L930.7,875.8L939.8,875.8L942,878.1L948.8,878.1L951.1,880.3L960.1,880.3L962.4,882.6L969.2,882.6L971.4,884.9L980.5,884.9L982.7,887.1L991.8,887.1L994,889.4L1003.1,889.4L1005.4,891.6L1014.4,891.6L1016.7,893.9Z"/>
<path fill="#00bfff" fill-rule="evenodd" d="M1028,893.9L1030.2,896.1L1032.5,896.1L1032.5,893.9L1030.2,891.6L1030.2,880.3L1028,878.1L1028,869.1L1025.7,866.8L1025.7,857.8L1023.5,855.5L1023.5,846.5L1021.2,844.3L1021.2,835.3L1018.9,833L1018.9,826.2L1016.7,824L1016.7,815L1014.4,812.7L1014.4,805.9L1012.1,803.7L1012.1,794.7L1009.9,792.4L1009.9,785.7L1007.6,783.4L1007.6,776.6L1005.4,774.4L1005.4,765.4L1003.1,763.1L1003.1,756.3L1000.8,754.1L1000.8,747.3L998.6,745.1L998.6,740.6L996.3,738.3L996.3,731.5L994,729.3L994,722.5L991.8,720.3L991.8,713.5L989.5,711.3L989.5,706.8L987.3,704.5L987.3,697.7L985,695.5L985,691L982.7,688.7L982.7,682L980.5,679.7L980.5,675.2L978.2,672.9L978.2,668.4L975.9,666.2L975.9,661.7L973.7,659.4L973.7,652.6L971.4,650.4L971.4,645.9L969.2,643.6L969.2,639.1L966.9,636.9L966.9,632.4L964.6,630.1L964.6,626.7L951.1,620.1L948.8,619.6L948.5,621.1L946.5,622.9L944.3,623.4L941.5,625.6L939.8,628.1L937.2,634.6L930,661.7L925.8,675.2L921.7,685.8L917.1,695.3L910.3,706.7L903.4,715.8L894.8,724.8L885.5,732.4L876.3,738.3L865.1,744L853.8,748.4L842.2,751.8L828.9,754.7L815.3,756.6L799.5,757.8L783.7,758L763.3,757L742.9,754.9L722.6,751.7L701.7,747.3L679.6,741.6L659.2,735.3L636.6,727.1L616.2,718.7L595.9,709.1L578.4,700L559,688.7L541.4,677.4L522.5,663.9L505.4,650.5L489.6,636.7L473.7,621.6L458.2,605.3L444.6,589.5L430.7,571.8L419.3,555.7L408.1,538.4L396.8,519L385.5,497.2L376.5,477.6L367.9,456.5L360.6,436.1L353.8,413.8L348.7,393.4L344.5,373.1L341.1,350.5L339.2,330.2L338.6,312.2L338.9,296.4L340,282.9L341.9,269.4L344.9,255.8L349,242.3L353.7,231.1L358.4,222L365.1,211.9L371.9,203.7L381.1,195L390.1,188.2L401.5,181.5L411.1,176.9L421.7,172.9L435.3,168.7L462.4,161.5L468.9,158.9L471.5,157.2L473.6,154.4L474.2,152.1L476,150.2L477.5,149.9L477,147.6L470.4,134.1L466.9,134.1L464.7,131.9L460.2,131.9L457.9,129.6L453.4,129.6L451.1,127.3L446.6,127.3L444.3,125.1L437.5,125.1L435.3,122.8L430.7,122.8L428.5,120.6L424,120.6L421.7,118.3L417.2,118.3L414.9,116.1L408.1,116.1L405.9,113.8L401.3,113.8L399.1,111.6L392.3,111.6L390,109.3L385.5,109.3L383.2,107.1L376.5,107.1L374.2,104.8L367.4,104.8L365.1,102.5L358.4,102.5L356.1,100.3L351.6,100.3L349.3,98L342.5,98L340.3,95.8L333.5,95.8L331.2,93.5L322.2,93.5L319.9,91.3L313.1,91.3L310.8,89L304.1,89L301.8,86.8L292.7,86.8L290.5,84.5L283.7,84.5L281.4,82.3L272.4,82.3L270.1,80L263.3,80L261.1,77.7L252,77.7L249.8,75.5L240.7,75.5L238.5,73.2L229.4,73.2L227.1,71L218.1,71L215.8,68.7L204.5,68.7L202.3,66.5L200,66.5L200,68.7L202.3,71L202.3,82.3L204.5,84.5L204.5,93.5L206.8,95.8L206.8,104.8L209,107.1L209,116.1L211.3,118.3L211.3,127.3L213.6,129.6L213.6,136.4L215.8,138.6L215.8,147.6L218.1,149.9L218.1,156.7L220.4,158.9L220.4,167.9L222.6,170.2L222.6,176.9L224.9,179.2L224.9,186L227.1,188.2L227.1,197.2L229.4,199.5L229.4,206.3L231.7,208.5L231.7,215.3L233.9,217.5L233.9,222L236.2,224.3L236.2,231.1L238.5,233.3L238.5,240.1L240.7,242.3L240.7,249.1L243,251.3L243,255.8L245.2,258.1L245.2,264.9L247.5,267.1L247.5,271.6L249.8,273.9L249.8,280.6L252,282.9L252,287.4L254.3,289.7L254.3,294.2L256.6,296.4L256.6,300.9L258.8,303.2L258.8,310L261.1,312.2L261.1,316.7L263.3,319L263.3,323.5L265.6,325.7L265.6,330.2L267.9,332.5L267.9,337L270.1,339.3L270.1,341.5L272.4,343.8L272.4,348.3L274.7,350.5L274.7,355L276.9,357.3L276.9,361.8L279.2,364.1L279.2,366.3L281.4,368.6L281.4,373.1L283.7,375.3L283.7,379.8L286,382.1L286,384.4L288.2,386.6L288.2,391.1L290.5,393.4L290.5,395.6L292.7,397.9L292.7,402.4L295,404.6L295,406.9L297.3,409.2L297.3,411.4L299.5,413.7L299.5,418.2L301.8,420.4L301.8,422.7L304.1,424.9L304.1,427.2L306.3,429.4L306.3,434L308.6,436.2L308.6,438.5L310.8,440.7L310.8,443L313.1,445.2L313.1,447.5L315.4,449.7L315.4,452L317.6,454.2L317.6,456.5L319.9,458.8L319.9,461L322.2,463.3L322.2,465.5L324.4,467.8L324.4,470L326.7,472.3L326.7,474.5L328.9,476.8L328.9,479L331.2,481.3L331.2,483.6L333.5,485.8L333.5,488.1L335.7,490.3L335.7,492.6L340.3,497.1L340.3,499.3L342.5,501.6L342.5,503.8L344.8,506.1L344.8,508.4L349.3,512.9L349.3,515.1L351.6,517.4L351.6,519.6L356.1,524.1L356.1,526.4L358.4,528.6L358.4,530.9L362.9,535.4L362.9,537.7L367.4,542.2L367.4,544.4L371.9,548.9L371.9,551.2L376.5,555.7L376.5,558L381,562.5L381,564.7L387.8,571.5L387.8,573.7L394.5,580.5L394.5,582.8L401.3,589.5L401.3,591.8L410.4,600.8L410.4,603L424,616.6L424,618.8L478.3,672.9L480.5,672.9L494.1,686.5L496.4,686.5L505.4,695.5L507.7,695.5L514.4,702.2L516.7,702.2L523.5,709L525.8,709L532.5,715.8L534.8,715.8L539.3,720.3L541.6,720.3L546.1,724.8L548.4,724.8L552.9,729.3L555.2,729.3L559.7,733.8L562,733.8L566.5,738.3L568.7,738.3L571,740.6L573.3,740.6L577.8,745.1L580.1,745.1L582.3,747.3L584.6,747.3L589.1,751.8L591.4,751.8L593.6,754.1L595.9,754.1L598.2,756.3L600.4,756.3L604.9,760.9L607.2,760.9L609.5,763.1L611.7,763.1L614,765.4L616.2,765.4L618.5,767.6L620.8,767.6L623,769.9L625.3,769.9L627.6,772.1L629.8,772.1L632.1,774.4L634.3,774.4L636.6,776.6L638.9,776.6L641.1,778.9L643.4,778.9L645.7,781.1L647.9,781.1L650.2,783.4L652.4,783.4L654.7,785.7L657,785.7L659.2,787.9L661.5,787.9L663.8,790.2L668.3,790.2L670.5,792.4L672.8,792.4L675.1,794.7L677.3,794.7L679.6,796.9L684.1,796.9L686.4,799.2L688.6,799.2L690.9,801.4L693.2,801.4L695.4,803.7L700,803.7L702.2,805.9L704.5,805.9L706.7,808.2L711.3,808.2L713.5,810.5L715.8,810.5L718.1,812.7L722.6,812.7L724.8,815L729.4,815L731.6,817.2L733.9,817.2L736.1,819.5L740.7,819.5L742.9,821.7L747.5,821.7L749.7,824L754.2,824L756.5,826.2L758.8,826.2L761,828.5L765.6,828.5L767.8,830.7L772.3,830.7L774.6,833L779.1,833L781.4,835.3L785.9,835.3L788.2,837.5L795,837.5L797.2,839.8L801.8,839.8L804,842L808.5,842L810.8,844.3L815.3,844.3L817.6,846.5L824.4,846.5L826.6,848.8L831.2,848.8L833.4,851L840.2,851L842.5,853.3L847,853.3L849.3,855.5L856,855.5L858.3,857.8L865.1,857.8L867.4,860.1L874.1,860.1L876.4,862.3L880.9,862.3L883.2,864.6L890,864.6L892.2,866.8L899,866.8L901.3,869.1L910.3,869.1L912.6,871.3L919.4,871.3L921.7,873.6L928.4,873.6L930.7,875.8L939.8,875.8L942,878.1L948.8,878.1L951.1,880.3L960.1,880.3L962.4,882.6L969.2,882.6L971.4,884.9L980.5,884.9L982.7,887.1L991.8,887.1L994,889.4L1003.1,889.4L1005.4,891.6L1014.4,891.6L1016.7,893.9Z"/>
<path fill="#00cfff" fill-rule="evenodd" d="M1028,893.9L1030.2,896.1L1032.5,896.1L1032.5,893.9L1030.2,891.6L1030.2,880.3L1028,878.1L1028,869.1L1025.7,866.8L1025.7,857.8L1023.5,855.5L1023.5,846.5L1021.2,844.3L1021.2,835.3L1018.9,833L1018.9,826.2L1016.7,824L1016.7,815L1014.4,812.7L1014.4,805.9L1012.1,803.7L1012.1,794.7L1009.9,792.4L1009.9,785.7L1007.6,783.4L1007.6,776.6L1005.4,774.4L1005.4,765.4L1003.1,763.1L1003.1,756.3L1000.8,754.1L1000.8,747.3L998.6,745.1L998.6,740.6L996.3,738.3L996.3,731.5L994,729.3L994,722.5L991.8,720.3L991.8,713.5L989.5,711.3L989.5,706.8L987.3,704.5L987.3,697.7L985,695.5L985,691L982.7,688.7L982.7,682L980.5,679.7L980.5,675.2L978.2,672.9L978.2,668.4L975.9,666.2L975.9,661.7L973.7,659.4L973.7,652.6L971.4,650.4L971.4,645.9L969.2,643.6L969.2,639.4L955.6,633L953.3,634.1L953.2,634.6L951.1,636L948.8,636.7L946.5,638.3L944.3,641.7L942,647.1L934.3,672.9L929.6,686.5L925.8,695.5L921.3,704.5L914.9,714.7L906.8,724.8L897.5,733.8L888.6,740.6L878.7,746.6L867.4,751.9L854.8,756.3L842.5,759.6L828.9,762L815.3,763.6L799.5,764.4L783.7,764.3L763.3,763.1L742.9,760.8L720.3,756.9L697.7,751.9L675.1,745.6L654.7,739.1L634.5,731.5L614,722.9L594.2,713.5L573.3,702.4L553.9,691L537.1,680L520.9,668.4L503.1,654.4L487.3,640.7L471.4,625.6L456.3,609.8L442.5,594L428.5,576.3L416.9,560.2L405.9,543.4L394.4,524.1L383.2,503.3L373.8,483.6L365.1,463.1L357.6,443L351,422.7L344.8,400.1L339.7,377.6L335.8,355L333.5,334.8L332.2,314.5L332.2,298.7L333,282.9L334.6,269.4L337,255.8L340.3,243.6L344.7,231.1L350.1,219.8L356.1,209.9L362.9,201L371.9,191.7L382,183.7L392.3,177.3L401.3,172.8L410.4,169L424,164.3L449.9,156.7L455.3,154.4L458.7,152.1L460.4,149.9L461,147.6L462.4,145.5L463,145.4L464,143.1L457.6,129.6L453.4,129.6L451.1,127.3L446.6,127.3L444.3,125.1L437.5,125.1L435.3,122.8L430.7,122.8L428.5,120.6L424,120.6L421.7,118.3L417.2,118.3L414.9,116.1L408.1,116.1L405.9,113.8L401.3,113.8L399.1,111.6L392.3,111.6L390,109.3L385.5,109.3L383.2,107.1L376.5,107.1L374.2,104.8L367.4,104.8L365.1,102.5L358.4,102.5L356.1,100.3L351.6,100.3L349.3,98L342.5,98L340.3,95.8L333.5,95.8L331.2,93.5L322.2,93.5L319.9,91.3L313.1,91.3L310.8,89L304.1,89L301.8,86.8L292.7,86.8L290.5,84.5L283.7,84.5L281.4,82.3L272.4,82.3L270.1,80L263.3,80L261.1,77.7L252,77.7L249.8,75.5L240.7,75.5L238.5,73.2L229.4,73.2L227.1,71L218.1,71L215.8,68.7L204.5,68.7L202.3,66.5L200,66.5L200,68.7L202.3,71L202.3,82.3L204.5,84.5L204.5,93.5L206.8,95.8L206.8,104.8L209,107.1L209,116.1L211.3,118.3L211.3,127.3L213.6,129.6L213.6,136.4L215.8,138.6L215.8,147.6L218.1,149.9L218.1,156.7L220.4,158.9L220.4,167.9L222.6,170.2L222.6,176.9L224.9,179.2L224.9,186L227.1,188.2L227.1,197.2L229.4,199.5L229.4,206.3L231.7,208.5L231.7,215.3L233.9,217.5L233.9,222L236.2,224.3L236.2,231.1L238.5,233.3L238.5,240.1L240.7,242.3L240.7,249.1L243,251.3L243,255.8L245.2,258.1L245.2,264.9L247.5,267.1L247.5,271.6L249.8,273.9L249.8,280.6L252,282.9L252,287.4L254.3,289.7L254.3,294.2L256.6,296.4L256.6,300.9L258.8,303.2L258.8,310L261.1,312.2L261.1,316.7L263.3,319L263.3,323.5L265.6,325.7L265.6,330.2L267.9,332.5L267.9,337L270.1,339.3L270.1,341.5L272.4,343.8L272.4,348.3L274.7,350.5L274.7,355L276.9,357.3L276.9,361.8L279.2,364.1L279.2,366.3L281.4,368.6L281.4,373.1L283.7,375.3L283.7,379.8L286,382.1L286,384.4L288.2,386.6L288.2,391.1L290.5,393.4L290.5,395.6L292.7,397.9L292.7,402.4L295,404.6L295,406.9L297.3,409.2L297.3,411.4L299.5,413.7L299.5,418.2L301.8,420.4L301.8,422.7L304.1,424.9L304.1,427.2L306.3,429.4L306.3,434L308.6,436.2L308.6,438.5L310.8,440.7L310.8,443L313.1,445.2L313.1,447.5L315.4,449.7L315.4,452L317.6,454.2L317.6,456.5L319.9,458.8L319.9,461L322.2,463.3L322.2,465.5L324.4,467.8L324.4,470L326.7,472.3L326.7,474.5L328.9,476.8L328.9,479L331.2,481.3L331.2,483.6L333.5,485.8L333.5,488.1L335.7,490.3L335.7,492.6L340.3,497.1L340.3,499.3L342.5,501.6L342.5,503.8L344.8,506.1L344.8,508.4L349.3,512.9L349.3,515.1L351.6,517.4L351.6,519.6L356.1,524.1L356.1,526.4L358.4,528.6L358.4,530.9L362.9,535.4L362.9,537.7L367.4,542.2L367.4,544.4L371.9,548.9L371.9,551.2L376.5,555.7L376.5,558L381,562.5L381,564.7L387.8,571.5L387.8,573.7L394.5,580.5L394.5,582.8L401.3,589.5L401.3,591.8L410.4,600.8L410.4,603L424,616.6L424,618.8L478.3,672.9L480.5,672.9L494.1,686.5L496.4,686.5L505.4,695.5L507.7,695.5L514.4,702.2L516.7,702.2L523.5,709L525.8,709L532.5,715.8L534.8,715.8L539.3,720.3L541.6,720.3L546.1,724.8L548.4,724.8L552.9,729.3L555.2,729.3L559.7,733.8L562,733.8L566.5,738.3L568.7,738.3L571,740.6L573.3,740.6L577.8,745.1L580.1,745.1L582.3,747.3L584.6,747.3L589.1,751.8L591.4,751.8L593.6,754.1L595.9,754.1L598.2,756.3L600.4,756.3L604.9,760.9L607.2,760.9L609.5,763.1L611.7,763.1L614,765.4L616.2,765.4L618.5,767.6L620.8,767.6L623,769.9L625.3,769.9L627.6,772.1L629.8,772.1L632.1,774.4L634.3,774.4L636.6,776.6L638.9,776.6L641.1,778.9L643.4,778.9L645.7,781.1L647.9,781.1L650.2,783.4L652.4,783.4L654.7,785.7L657,785.7L659.2,787.9L661.5,787.9L663.8,790.2L668.3,790.2L670.5,792.4L672.8,792.4L675.1,794.7L677.3,794.7L679.6,796.9L684.1,796.9L686.4,799.2L688.6,799.2L690.9,801.4L693.2,801.4L695.4,803.7L700,803.7L702.2,805.9L704.5,805.9L706.7,808.2L711.3,808.2L713.5,810.5L715.8,810.5L718.1,812.7L722.6,812.7L724.8,815L729.4,815L731.6,817.2L733.9,817.2L736.1,819.5L740.7,819.5L742.9,821.7L747.5,821.7L749.7,824L754.2,824L756.5,826.2L758.8,826.2L761,828.5L765.6,828.5L767.8,830.7L772.3,830.7L774.6,833L779.1,833L781.4,835.3L785.9,835.3L788.2,837.5L795,837.5L797.2,839.8L801.8,839.8L804,842L808.5,842L810.8,844.3L815.3,844.3L817.6,846.5L824.4,846.5L826.6,848.8L831.2,848.8L833.4,851L840.2,851L842.5,853.3L847,853.3L849.3,855.5L856,855.5L858.3,857.8L865.1,857.8L867.4,860.1L874.1,860.1L876.4,862.3L880.9,862.3L883.2,864.6L890,864.6L892.2,866.8L899,866.8L901.3,869.1L910.3,869.1L912.6,871.3L919.4,871.3L921.7,873.6L928.4,873.6L930.7,875.8L939.8,875.8L942,878.1L948.8,878.1L951.1,880.3L960.1,880.3L962.4,882.6L969.2,882.6L971.4,884.9L980.5,884.9L982.7,887.1L991.8,887.1L994,889.4L1003.1,889.4L1005.4,891.6L1014.4,891.6L1016.7,893.9Z"/>
<path fill="#00dfff" fill-rule="evenodd" d="M1028,893.9L1030.2,896.1L1032.5,896.1L1032.5,893.9L1030.2,891.6L1030.2,880.3L1028,878.1L1028,869.1L1025.7,866.8L1025.7,857.8L1023.5,855.5L1023.5,846.5L1021.2,844.3L1021.2,835.3L1018.9,833L1018.9,826.2L1016.7,824L1016.7,815L1014.4,812.7L1014.4,805.9L1012.1,803.7L1012.1,794.7L1009.9,792.4L1009.9,785.7L1007.6,783.4L1007.6,776.6L1005.4,774.4L1005.4,765.4L1003.1,763.1L1003.1,756.3L1000.8,754.1L1000.8,747.3L998.6,745.1L998.6,740.6L996.3,738.3L996.3,731.5L994,729.3L994,722.5L991.8,720.3L991.8,713.5L989.5,711.3L989.5,706.8L987.3,704.5L987.3,697.7L985,695.5L985,691L982.7,688.7L982.7,682L980.5,679.7L980.5,675.2L978.2,672.9L978.2,668.4L975.9,666.2L975.9,661.7L973.7,659.4L973.7,652.6L971.9,650.9L960.1,645.5L957.8,645.5L956,648.1L953.3,649.1L951.1,650.7L948.8,653.9L946.5,658.8L938.2,684.2L933,697.7L928.8,706.8L923.9,715.4L917.1,725.2L909.6,733.8L901.3,741.4L892.2,748L881.6,754.1L871.6,758.6L858.3,763.1L844.7,766.4L831.2,768.6L815.3,770.1L799.5,770.7L783.7,770.3L763.3,768.8L740.7,765.9L720.3,762.2L697.7,757L677.3,751.4L654.7,744L633.5,736.1L612.3,727L593.3,718L572.1,706.8L553.1,695.5L534.8,683.5L517,670.7L499.9,657.2L484.3,643.6L467.7,627.8L453.4,612.8L439,596.3L426.2,580.3L412.6,561.5L401.3,544.2L390,525.3L378.7,504.1L369.7,485.3L360.6,464.2L352.6,443L345.2,420.4L339.6,400.1L334.4,377.6L330.7,357.3L327.7,334.8L326.2,314.5L325.9,298.7L326.4,282.9L327.9,267.1L330.2,253.6L333.5,240.1L338,226.9L342.5,216.8L348.6,206.3L355.2,197.2L362.9,188.9L371.5,181.5L381.3,174.7L390,169.8L399.1,165.6L412.6,160.5L438.1,152.1L443.1,149.9L446.3,147.6L447.9,145.4L448.8,142.7L451.4,140.9L451.5,138.6L446.1,126.9L444.3,125.1L437.5,125.1L435.3,122.8L430.7,122.8L428.5,120.6L424,120.6L421.7,118.3L417.2,118.3L414.9,116.1L408.1,116.1L405.9,113.8L401.3,113.8L399.1,111.6L392.3,111.6L390,109.3L385.5,109.3L383.2,107.1L376.5,107.1L374.2,104.8L367.4,104.8L365.1,102.5L358.4,102.5L356.1,100.3L351.6,100.3L349.3,98L342.5,98L340.3,95.8L333.5,95.8L331.2,93.5L322.2,93.5L319.9,91.3L313.1,91.3L310.8,89L304.1,89L301.8,86.8L292.7,86.8L290.5,84.5L283.7,84.5L281.4,82.3L272.4,82.3L270.1,80L263.3,80L261.1,77.7L252,77.7L249.8,75.5L240.7,75.5L238.5,73.2L229.4,73.2L227.1,71L218.1,71L215.8,68.7L204.5,68.7L202.3,66.5L200,66.5L200,68.7L202.3,71L202.3,82.3L204.5,84.5L204.5,93.5L206.8,95.8L206.8,104.8L209,107.1L209,116.1L211.3,118.3L211.3,127.3L213.6,129.6L213.6,136.4L215.8,138.6L215.8,147.6L218.1,149.9L218.1,156.7L220.4,158.9L220.4,167.9L222.6,170.2L222.6,176.9L224.9,179.2L224.9,186L227.1,188.2L227.1,197.2L229.4,199.5L229.4,206.3L231.7,208.5L231.7,215.3L233.9,217.5L233.9,222L236.2,224.3L236.2,231.1L238.5,233.3L238.5,240.1L240.7,242.3L240.7,249.1L243,251.3L243,255.8L245.2,258.1L245.2,264.9L247.5,267.1L247.5,271.6L249.8,273.9L249.8,280.6L252,282.9L252,287.4L254.3,289.7L254.3,294.2L256.6,296.4L256.6,300.9L258.8,303.2L258.8,310L261.1,312.2L261.1,316.7L263.3,319L263.3,323.5L265.6,325.7L265.6,330.2L267.9,332.5L267.9,337L270.1,339.3L270.1,341.5L272.4,343.8L272.4,348.3L274.7,350.5L274.7,355L276.9,357.3L276.9,361.8L279.2,364.1L279.2,366.3L281.4,368.6L281.4,373.1L283.7,375.3L283.7,379.8L286,382.1L286,384.4L288.2,386.6L288.2,391.1L290.5,393.4L290.5,395.6L292.7,397.9L292.7,402.4L295,404.6L295,406.9L297.3,409.2L297.3,411.4L299.5,413.7L299.5,418.2L301.8,420.4L301.8,422.7L304.1,424.9L304.1,427.2L306.3,429.4L306.3,434L308.6,436.2L308.6,438.5L310.8,440.7L310.8,443L313.1,445.2L313.1,447.5L315.4,449.7L315.4,452L317.6,454.2L317.6,456.5L319.9,458.8L319.9,461L322.2,463.3L322.2,465.5L324.4,467.8L324.4,470L326.7,472.3L326.7,474.5L328.9,476.8L328.9,479L331.2,481.3L331.2,483.6L333.5,485.8L333.5,488.1L335.7,490.3L335.7,492.6L340.3,497.1L340.3,499.3L342.5,501.6L342.5,503.8L344.8,506.1L344.8,508.4L349.3,512.9L349.3,515.1L351.6,517.4L351.6,519.6L356.1,524.1L356.1,526.4L358.4,528.6L358.4,530.9L362.9,535.4L362.9,537.7L367.4,542.2L367.4,544.4L371.9,548.9L371.9,551.2L376.5,555.7L376.5,558L381,562.5L381,564.7L387.8,571.5L387.8,573.7L394.5,580.5L394.5,582.8L401.3,589.5L401.3,591.8L410.4,600.8L410.4,603L424,616.6L424,618.8L478.3,672.9L480.5,672.9L494.1,686.5L496.4,686.5L505.4,695.5L507.7,695.5L514.4,702.2L516.7,702.2L523.5,709L525.8,709L532.5,715.8L534.8,715.8L539.3,720.3L541.6,720.3L546.1,724.8L548.4,724.8L552.9,729.3L555.2,729.3L559.7,733.8L562,733.8L566.5,738.3L568.7,738.3L571,740.6L573.3,740.6L577.8,745.1L580.1,745.1L582.3,747.3L584.6,747.3L589.1,751.8L591.4,751.8L593.6,754.1L595.9,754.1L598.2,756.3L600.4,756.3L604.9,760.9L607.2,760.9L609.5,763.1L611.7,763.1L614,765.4L616.2,765.4L618.5,767.6L620.8,767.6L623,769.9L625.3,769.9L627.6,772.1L629.8,772.1L632.1,774.4L634.3,774.4L636.6,776.6L638.9,776.6L641.1,778.9L643.4,778.9L645.7,781.1L647.9,781.1L650.2,783.4L652.4,783.4L654.7,785.7L657,785.7L659.2,787.9L661.5,787.9L663.8,790.2L668.3,790.2L670.5,792.4L672.8,792.4L675.1,794.7L677.3,794.7L679.6,796.9L684.1,796.9L686.4,799.2L688.6,799.2L690.9,801.4L693.2,801.4L695.4,803.7L700,803.7L702.2,805.9L704.5,805.9L706.7,808.2L711.3,808.2L713.5,810.5L715.8,810.5L718.1,812.7L722.6,812.7L724.8,815L729.4,815L731.6,817.2L733.9,817.2L736.1,819.5L740.7,819.5L742.9,821.7L747.5,821.7L749.7,824L754.2,824L756.5,826.2L758.8,826.2L761,828.5L765.6,828.5L767.8,830.7L772.3,830.7L774.6,833L779.1,833L781.4,835.3L785.9,835.3L788.2,837.5L795,837.5L797.2,839.8L801.8,839.8L804,842L808.5,842L810.8,844.3L815.3,844.3L817.6,846.5L824.4,846.5L826.6,848.8L831.2,848.8L833.4,851L840.2,851L842.5,853.3L847,853.3L849.3,855.5L856,855.5L858.3,857.8L865.1,857.8L867.4,860.1L874.1,860.1L876.4,862.3L880.9,862.3L883.2,864.6L890,864.6L892.2,866.8L899,866.8L901.3,869.1L910.3,869.1L912.6,871.3L919.4,871.3L921.7,873.6L928.4,873.6L930.7,875.8L939.8,875.8L942,878.1L948.8,878.1L951.1,880.3L960.1,880.3L962.4,882.6L969.2,882.6L971.4,884.9L980.5,884.9L982.7,887.1L991.8,887.1L994,889.4L1003.1,889.4L1005.4,891.6L1014.4,891.6L1016.7,893.9Z"/>
<path fill="#00efff" fill-rule="evenodd" d="M1028,893.9L1030.2,896.1L1032.5,896.1L1032.5,893.9L1030.2,891.6L1030.2,880.3L1028,878.1L1028,869.1L1025.7,866.8L1025.7,857.8L1023.5,855.5L1023.5,846.5L1021.2,844.3L1021.2,835.3L1018.9,833L1018.9,826.2L1016.7,824L1016.7,815L1014.4,812.7L1014.4,805.9L1012.1,803.7L1012.1,794.7L1009.9,792.4L1009.9,785.7L1007.6,783.4L1007.6,776.6L1005.4,774.4L1005.4,765.4L1003.1,763.1L1003.1,756.3L1000.8,754.1L1000.8,747.3L998.6,745.1L998.6,740.6L996.3,738.3L996.3,731.5L994,729.3L994,722.5L991.8,720.3L991.8,713.5L989.5,711.3L989.5,706.8L987.3,704.5L987.3,697.7L985,695.5L985,691L982.7,688.7L982.7,682L980.5,679.7L980.5,675.2L978.2,672.9L978.2,668.4L975.9,666.2L975.9,662.5L962.4,656.5L960.1,660L957.8,660.7L955.6,662.2L953.3,664.9L951.1,669.3L941.6,695.5L936.9,706.8L932.4,715.8L927,724.8L919.4,734.8L911.8,742.8L903.6,749.8L893.7,756.3L883.2,761.8L871.9,766.4L858.3,770.5L844.7,773.3L831.2,775.2L815.3,776.3L799.5,776.5L781.4,775.8L761,774L738.4,770.7L715.8,766.2L693.9,760.9L670.8,754.1L650.9,747.3L627.7,738.3L607.2,729.3L588.7,720.3L567.9,709L549.2,697.7L530.3,685.2L513.4,672.9L496.4,659.4L480.5,645.5L464.7,630.4L449.4,614.3L435.3,598L421.4,580.5L408.5,562.5L396.8,544.6L385.5,525.5L374.2,504.3L365.1,485.4L356.1,464.4L347.9,443L340.5,420.4L334.7,400.1L328.9,375.7L325.1,355L322.3,334.8L320.6,314.5L320,296.4L320.3,280.6L321.6,264.9L323.7,251.3L326.7,237.8L330.2,226.5L334.7,215.3L340.3,204.8L346.9,195L353.8,186.8L361.8,179.2L371.9,171.7L381,166.3L390,161.8L401.3,157.1L427.6,147.6L432,145.4L434.8,143.1L436.2,140.9L436.9,138.6L440.5,136.4L434.4,122.8L430.7,122.8L428.5,120.6L424,120.6L421.7,118.3L417.2,118.3L414.9,116.1L408.1,116.1L405.9,113.8L401.3,113.8L399.1,111.6L392.3,111.6L390,109.3L385.5,109.3L383.2,107.1L376.5,107.1L374.2,104.8L367.4,104.8L365.1,102.5L358.4,102.5L356.1,100.3L351.6,100.3L349.3,98L342.5,98L340.3,95.8L333.5,95.8L331.2,93.5L322.2,93.5L319.9,91.3L313.1,91.3L310.8,89L304.1,89L301.8,86.8L292.7,86.8L290.5,84.5L283.7,84.5L281.4,82.3L272.4,82.3L270.1,80L263.3,80L261.1,77.7L252,77.7L249.8,75.5L240.7,75.5L238.5,73.2L229.4,73.2L227.1,71L218.1,71L215.8,68.7L204.5,68.7L202.3,66.5L200,66.5L200,68.7L202.3,71L202.3,82.3L204.5,84.5L204.5,93.5L206.8,95.8L206.8,104.8L209,107.1L209,116.1L211.3,118.3L211.3,127.3L213.6,129.6L213.6,136.4L215.8,138.6L215.8,147.6L218.1,149.9L218.1,156.7L220.4,158.9L220.4,167.9L222.6,170.2L222.6,176.9L224.9,179.2L224.9,186L227.1,188.2L227.1,197.2L229.4,199.5L229.4,206.3L231.7,208.5L231.7,215.3L233.9,217.5L233.9,222L236.2,224.3L236.2,231.1L238.5,233.3L238.5,240.1L240.7,242.3L240.7,249.1L243,251.3L243,255.8L245.2,258.1L245.2,264.9L247.5,267.1L247.5,271.6L249.8,273.9L249.8,280.6L252,282.9L252,287.4L254.3,289.7L254.3,294.2L256.6,296.4L256.6,300.9L258.8,303.2L258.8,310L261.1,312.2L261.1,316.7L263.3,319L263.3,323.5L265.6,325.7L265.6,330.2L267.9,332.5L267.9,337L270.1,339.3L270.1,341.5L272.4,343.8L272.4,348.3L274.7,350.5L274.7,355L276.9,357.3L276.9,361.8L279.2,364.1L279.2,366.3L281.4,368.6L281.4,373.1L283.7,375.3L283.7,379.8L286,382.1L286,384.4L288.2,386.6L288.2,391.1L290.5,393.4L290.5,395.6L292.7,397.9L292.7,402.4L295,404.6L295,406.9L297.3,409.2L297.3,411.4L299.5,413.7L299.5,418.2L301.8,420.4L301.8,422.7L304.1,424.9L304.1,427.2L306.3,429.4L306.3,434L308.6,436.2L308.6,438.5L310.8,440.7L310.8,443L313.1,445.2L313.1,447.5L315.4,449.7L315.4,452L317.6,454.2L317.6,456.5L319.9,458.8L319.9,461L322.2,463.3L322.2,465.5L324.4,467.8L324.4,470L326.7,472.3L326.7,474.5L328.9,476.8L328.9,479L331.2,481.3L331.2,483.6L333.5,485.8L333.5,488.1L335.7,490.3L335.7,492.6L340.3,497.1L340.3,499.3L342.5,501.6L342.5,503.8L344.8,506.1L344.8,508.4L349.3,512.9L349.3,515.1L351.6,517.4L351.6,519.6L356.1,524.1L356.1,526.4L358.4,528.6L358.4,530.9L362.9,535.4L362.9,537.7L367.4,542.2L367.4,544.4L371.9,548.9L371.9,551.2L376.5,555.7L376.5,558L381,562.5L381,564.7L387.8,571.5L387.8,573.7L394.5,580.5L394.5,582.8L401.3,589.5L401.3,591.8L410.4,600.8L410.4,603L424,616.6L424,618.8L478.3,672.9L480.5,672.9L494.1,686.5L496.4,686.5L505.4,695.5L507.7,695.5L514.4,702.2L516.7,702.2L523.5,709L525.8,709L532.5,715.8L534.8,715.8L539.3,720.3L541.6,720.3L546.1,724.8L548.4,724.8L552.9,729.3L555.2,729.3L559.7,733.8L562,733.8L566.5,738.3L568.7,738.3L571,740.6L573.3,740.6L577.8,745.1L580.1,745.1L582.3,747.3L584.6,747.3L589.1,751.8L591.4,751.8L593.6,754.1L595.9,754.1L598.2,756.3L600.4,756.3L604.9,760.9L607.2,760.9L609.5,763.1L611.7,763.1L614,765.4L616.2,765.4L618.5,767.6L620.8,767.6L623,769.9L625.3,769.9L627.6,772.1L629.8,772.1L632.1,774.4L634.3,774.4L636.6,776.6L638.9,776.6L641.1,778.9L643.4,778.9L645.7,781.1L647.9,781.1L650.2,783.4L652.4,783.4L654.7,785.7L657,785.7L659.2,787.9L661.5,787.9L663.8,790.2L668.3,790.2L670.5,792.4L672.8,792.4L675.1,794.7L677.3,794.7L679.6,796.9L684.1,796.9L686.4,799.2L688.6,799.2L690.9,801.4L693.2,801.4L695.4,803.7L700,803.7L702.2,805.9L704.5,805.9L706.7,808.2L711.3,808.2L713.5,810.5L715.8,810.5L718.1,812.7L722.6,812.7L724.8,815L729.4,815L731.6,817.2L733.9,817.2L736.1,819.5L740.7,819.5L742.9,821.7L747.5,821.7L749.7,824L754.2,824L756.5,826.2L758.8,826.2L761,828.5L765.6,828.5L767.8,830.7L772.3,830.7L774.6,833L779.1,833L781.4,835.3L785.9,835.3L788.2,837.5L795,837.5L797.2,839.8L801.8,839.8L804,842L808.5,842L810.8,844.3L815.3,844.3L817.6,846.5L824.4,846.5L826.6,848.8L831.2,848.8L833.4,851L840.2,851L842.5,853.3L847,853.3L849.3,855.5L856,855.5L858.3,857.8L865.1,857.8L867.4,860.1L874.1,860.1L876.4,862.3L880.9,862.3L883.2,864.6L890,864.6L892.2,866.8L899,866.8L901.3,869.1L910.3,869.1L912.6,871.3L919.4,871.3L921.7,873.6L928.4,873.6L930.7,875.8L939.8,875.8L942,878.1L948.8,878.1L951.1,880.3L960.1,880.3L962.4,882.6L969.2,882.6L971.4,884.9L980.5,884.9L982.7,887.1L991.8,887.1L994,889.4L1003.1,889.4L1005.4,891.6L1014.4,891.6L1016.7,893.9Z"/>
<path fill="#00ffff" fill-rule="evenodd" d="M1028,893.9L1030.2,896.1L1032.5,896.1L1032.5,893.9L1030.2,891.6L1030.2,880.3L1028,878.1L1028,869.1L1025.7,866.8L1025.7,857.8L1023.5,855.5L1023.5,846.5L1021.2,844.3L1021.2,835.3L1018.9,833L1018.9,826.2L1016.7,824L1016.7,815L1014.4,812.7L1014.4,805.9L1012.1,803.7L1012.1,794.7L1009.9,792.4L1009.9,785.7L1007.6,783.4L1007.6,776.6L1005.4,774.4L1005.4,765.4L1003.1,763.1L1003.1,756.3L1000.8,754.1L1000.8,747.3L998.6,745.1L998.6,740.6L996.3,738.3L996.3,731.5L994,729.3L994,722.5L991.8,720.3L991.8,713.5L989.5,711.3L989.5,706.8L987.3,704.5L987.3,697.7L985,695.5L985,691L982.7,688.7L982.7,682L980.5,679.7L980.5,675.2L978.3,673.1L966.9,668.1L964.6,670.9L960.1,672.9L957.8,675.2L953.3,683.8L941.5,713.5L936.9,722.5L930.7,732.5L923.9,741.2L915.8,749.6L907.6,756.3L896.8,763.3L885.5,768.8L874.1,773.1L860.6,776.8L847,779.4L831.2,781.3L815.3,782.1L799.5,782.1L781.4,781.1L760.1,778.9L738.4,775.5L715.8,770.9L693.8,765.4L671,758.6L651.3,751.8L628.1,742.8L607.6,733.8L589.1,724.8L568.1,713.5L549.2,702.2L530.3,689.9L512.2,676.9L494.1,662.7L478.3,649L462.4,633.9L448,618.8L434.3,603L420,585L406.9,567L394.5,548.1L383.2,529.2L371.9,508.4L362.9,489.9L353.8,469.4L344.8,446.4L338,426.7L331.2,404.1L325.7,382.1L321,359.6L317.6,337.9L315.4,316.4L314.4,298.7L314.4,282.9L315.2,267.1L317.1,251.3L319.7,237.8L323.5,224.3L327.7,213L333.3,201.7L340.3,191L347,182.8L355.4,174.7L364.2,167.9L374.2,161.8L383.2,157.2L413,145.4L421.7,140.9L424,138.6L426,134.1L428.8,131.9L423.8,120.5L421.7,118.3L417.2,118.3L414.9,116.1L408.1,116.1L405.9,113.8L401.3,113.8L399.1,111.6L392.3,111.6L390,109.3L385.5,109.3L383.2,107.1L376.5,107.1L374.2,104.8L367.4,104.8L365.1,102.5L358.4,102.5L356.1,100.3L351.6,100.3L349.3,98L342.5,98L340.3,95.8L333.5,95.8L331.2,93.5L322.2,93.5L319.9,91.3L313.1,91.3L310.8,89L304.1,89L301.8,86.8L292.7,86.8L290.5,84.5L283.7,84.5L281.4,82.3L272.4,82.3L270.1,80L263.3,80L261.1,77.7L252,77.7L249.8,75.5L240.7,75.5L238.5,73.2L229.4,73.2L227.1,71L218.1,71L215.8,68.7L204.5,68.7L202.3,66.5L200,66.5L200,68.7L202.3,71L202.3,82.3L204.5,84.5L204.5,93.5L206.8,95.8L206.8,104.8L209,107.1L209,116.1L211.3,118.3L211.3,127.3L213.6,129.6L213.6,136.4L215.8,138.6L215.8,147.6L218.1,149.9L218.1,156.7L220.4,158.9L220.4,167.9L222.6,170.2L222.6,176.9L224.9,179.2L224.9,186L227.1,188.2L227.1,197.2L229.4,199.5L229.4,206.3L231.7,208.5L231.7,215.3L233.9,217.5L233.9,222L236.2,224.3L236.2,231.1L238.5,233.3L238.5,240.1L240.7,242.3L240.7,249.1L243,251.3L243,255.8L245.2,258.1L245.2,264.9L247.5,267.1L247.5,271.6L249.8,273.9L249.8,280.6L252,282.9L252,287.4L254.3,289.7L254.3,294.2L256.6,296.4L256.6,300.9L258.8,303.2L258.8,310L261.1,312.2L261.1,316.7L263.3,319L263.3,323.5L265.6,325.7L265.6,330.2L267.9,332.5L267.9,337L270.1,339.3L270.1,341.5L272.4,343.8L272.4,348.3L274.7,350.5L274.7,355L276.9,357.3L276.9,361.8L279.2,364.1L279.2,366.3L281.4,368.6L281.4,373.1L283.7,375.3L283.7,379.8L286,382.1L286,384.4L288.2,386.6L288.2,391.1L290.5,393.4L290.5,395.6L292.7,397.9L292.7,402.4L295,404.6L295,406.9L297.3,409.2L297.3,411.4L299.5,413.7L299.5,418.2L301.8,420.4L301.8,422.7L304.1,424.9L304.1,427.2L306.3,429.4L306.3,434L308.6,436.2L308.6,438.5L310.8,440.7L310.8,443L313.1,445.2L313.1,447.5L315.4,449.7L315.4,452L317.6,454.2L317.6,456.5L319.9,458.8L319.9,461L322.2,463.3L322.2,465.5L324.4,467.8L324.4,470L326.7,472.3L326.7,474.5L328.9,476.8L328.9,479L331.2,481.3L331.2,483.6L333.5,485.8L333.5,488.1L335.7,490.3L335.7,492.6L340.3,497.1L340.3,499.3L342.5,501.6L342.5,503.8L344.8,506.1L344.8,508.4L349.3,512.9L349.3,515.1L351.6,517.4L351.6,519.6L356.1,524.1L356.1,526.4L358.4,528.6L358.4,530.9L362.9,535.4L362.9,537.7L367.4,542.2L367.4,544.4L371.9,548.9L371.9,551.2L376.5,555.7L376.5,558L381,562.5L381,564.7L387.8,571.5L387.8,573.7L394.5,580.9L426.2,608.9L455.6,637L481.9,663.9L498.6,682.1L516.3,702.2L523.5,709L525.8,709L532.5,715.8L534.8,715.8L539.3,720.3L541.6,720.3L546.1,724.8L548.4,724.8L552.9,729.3L555.2,729.3L559.7,733.8L562,733.8L566.5,738.3L568.7,738.3L571,740.6L573.3,740.6L577.8,745.1L580.1,745.1L582.3,747.3L584.6,747.3L589.1,751.8L591.4,751.8L593.6,754.1L595.9,754.1L598.2,756.3L600.4,756.3L604.9,760.9L607.2,760.9L609.5,763.1L611.7,763.1L614,765.4L616.2,765.4L618.5,767.6L620.8,767.6L623,769.9L625.3,769.9L627.6,772.1L629.8,772.1L632.1,774.4L634.3,774.4L636.6,776.6L638.9,776.6L641.1,778.9L643.4,778.9L645.7,781.1L647.9,781.1L650.2,783.4L652.4,783.4L654.7,785.7L657,785.7L659.2,787.9L661.5,787.9L663.8,790.2L668.3,790.2L670.5,792.4L672.8,792.4L675.1,794.7L677.3,794.7L679.6,796.9L684.1,796.9L686.4,799.2L688.6,799.2L690.9,801.4L693.2,801.4L695.4,803.7L700,803.7L702.2,805.9L704.5,805.9L706.7,808.2L711.3,808.2L713.5,810.5L715.8,810.5L718.1,812.7L722.6,812.7L724.8,815L729.4,815L731.6,817.2L733.9,817.2L736.1,819.5L740.7,819.5L742.9,821.7L747.5,821.7L749.7,824L754.2,824L756.5,826.2L758.8,826.2L761,828.5L765.6,828.5L767.8,830.7L772.3,830.7L774.6,833L779.1,833L781.4,835.3L785.9,835.3L788.2,837.5L795,837.5L797.2,839.8L801.8,839.8L804,842L808.5,842L810.8,844.3L815.3,844.3L817.6,846.5L824.4,846.5L826.6,848.8L831.2,848.8L833.4,851L840.2,851L842.5,853.3L847,853.3L849.3,855.5L856,855.5L858.3,857.8L865.1,857.8L867.4,860.1L874.1,860.1L876.4,862.3L880.9,862.3L883.2,864.6L890,864.6L892.2,866.8L899,866.8L901.3,869.1L910.3,869.1L912.6,871.3L919.4,871.3L921.7,873.6L928.4,873.6L930.7,875.8L939.8,875.8L942,878.1L948.8,878.1L951.1,880.3L960.1,880.3L962.4,882.6L969.2,882.6L971.4,884.9L980.5,884.9L982.7,887.1L991.8,887.1L994,889.4L1003.1,889.4L1005.4,891.6L1014.4,891.6L1016.7,893.9Z"/>
<path fill="#10ffef" fill-rule="evenodd" d="M1028,893.9L1030.2,896.1L1032.5,896.1L1032.5,893.9L1030.2,891.6L1030.2,880.3L1028,878.1L1028,869.1L1025.7,866.8L1025.7,857.8L1023.5,855.5L1023.5,846.5L1021.2,844.3L1021.2,835.3L1018.9,833L1018.9,826.2L1016.7,824L1016.7,815L1014.4,812.7L1014.4,805.9L1012.1,803.7L1012.1,794.7L1009.9,792.4L1009.9,785.7L1007.6,783.4L1007.6,776.6L1005.4,774.4L1005.4,765.4L1003.1,763.1L1003.1,756.3L1000.8,754.1L1000.8,747.3L998.6,745.1L998.6,740.6L996.3,738.3L996.3,731.5L994,729.3L994,722.5L991.8,720.3L991.8,713.5L989.5,711.3L989.5,706.8L987.3,704.5L987.3,697.7L985,695.5L985,691L982.7,688.7L982.7,684.1L971.4,679.3L969.2,679L967.2,682L963.1,684.2L960.1,687.8L957.3,693.2L944.6,722.5L939.8,731.5L935.2,738.5L926.2,749.7L919.4,756.3L913.9,760.9L905.8,766.4L896.8,771.4L887.7,775.5L878.2,778.9L867.4,781.9L856,784.2L842.5,786.1L828.9,787.2L813.1,787.6L797.2,787.2L779.1,785.9L761,783.8L742.9,780.9L722.6,776.8L703,772.1L686.7,767.6L652.4,756.3L618.5,742.8L600.4,734.5L582.3,725.5L566.5,716.9L540.9,702.2L539.3,701.8L538.4,702.2L567,738.3L568.7,738.3L571,740.6L573.3,740.6L577.8,745.1L580.1,745.1L582.3,747.3L584.6,747.3L589.1,751.8L591.4,751.8L593.6,754.1L595.9,754.1L598.2,756.3L600.4,756.3L604.9,760.9L607.2,760.9L609.5,763.1L611.7,763.1L614,765.4L616.2,765.4L618.5,767.6L620.8,767.6L623,769.9L625.3,769.9L627.6,772.1L629.8,772.1L632.1,774.4L634.3,774.4L636.6,776.6L638.9,776.6L641.1,778.9L643.4,778.9L645.7,781.1L647.9,781.1L650.2,783.4L652.4,783.4L654.7,785.7L657,785.7L659.2,787.9L661.5,787.9L663.8,790.2L668.3,790.2L670.5,792.4L672.8,792.4L675.1,794.7L677.3,794.7L679.6,796.9L684.1,796.9L686.4,799.2L688.6,799.2L690.9,801.4L693.2,801.4L695.4,803.7L700,803.7L702.2,805.9L704.5,805.9L706.7,808.2L711.3,808.2L713.5,810.5L715.8,810.5L718.1,812.7L722.6,812.7L724.8,815L729.4,815L731.6,817.2L733.9,817.2L736.1,819.5L740.7,819.5L742.9,821.7L747.5,821.7L749.7,824L754.2,824L756.5,826.2L758.8,826.2L761,828.5L765.6,828.5L767.8,830.7L772.3,830.7L774.6,833L779.1,833L781.4,835.3L785.9,835.3L788.2,837.5L795,837.5L797.2,839.8L801.8,839.8L804,842L808.5,842L810.8,844.3L815.3,844.3L817.6,846.5L824.4,846.5L826.6,848.8L831.2,848.8L833.4,851L840.2,851L842.5,853.3L847,853.3L849.3,855.5L856,855.5L858.3,857.8L865.1,857.8L867.4,860.1L874.1,860.1L876.4,862.3L880.9,862.3L883.2,864.6L890,864.6L892.2,866.8L899,866.8L901.3,869.1L910.3,869.1L912.6,871.3L919.4,871.3L921.7,873.6L928.4,873.6L930.7,875.8L939.8,875.8L942,878.1L948.8,878.1L951.1,880.3L960.1,880.3L962.4,882.6L969.2,882.6L971.4,884.9L980.5,884.9L982.7,887.1L991.8,887.1L994,889.4L1003.1,889.4L1005.4,891.6L1014.4,891.6L1016.7,893.9ZM536.5,700L537.1,700.7L537.4,700ZM396.1,560.2L396.8,560.8L396.8,559.9ZM393.4,558L394.5,558.9L395,558L394.5,556.4L379.8,530.9L371.2,515.1L362.2,497.1L353.8,478.9L340.3,445.3L328.9,411.1L324.4,394.8L319.7,375.3L315.6,355L312.7,337L310.6,319L309.3,300.9L308.9,285.2L309.3,269.4L310.4,255.8L312.3,242.3L314.6,231.1L317.6,220.3L321.1,210.8L325.1,201.7L330.2,192.7L335.7,184.7L340.3,179.2L346.9,172.4L358.2,163.4L365.2,158.9L374.2,154L403.6,141.4L409.1,138.6L412.6,135.7L414.9,131.5L417.9,129.6L417.5,127.3L412.8,116.1L408.1,116.1L405.9,113.8L401.3,113.8L399.1,111.6L392.3,111.6L390,109.3L385.5,109.3L383.2,107.1L376.5,107.1L374.2,104.8L367.4,104.8L365.1,102.5L358.4,102.5L356.1,100.3L351.6,100.3L349.3,98L342.5,98L340.3,95.8L333.5,95.8L331.2,93.5L322.2,93.5L319.9,91.3L313.1,91.3L310.8,89L304.1,89L301.8,86.8L292.7,86.8L290.5,84.5L283.7,84.5L281.4,82.3L272.4,82.3L270.1,80L263.3,80L261.1,77.7L252,77.7L249.8,75.5L240.7,75.5L238.5,73.2L229.4,73.2L227.1,71L218.1,71L215.8,68.7L204.5,68.7L202.3,66.5L200,66.5L200,68.7L202.3,71L202.3,82.3L204.5,84.5L204.5,93.5L206.8,95.8L206.8,104.8L209,107.1L209,116.1L211.3,118.3L211.3,127.3L213.6,129.6L213.6,136.4L215.8,138.6L215.8,147.6L218.1,149.9L218.1,156.7L220.4,158.9L220.4,167.9L222.6,170.2L222.6,176.9L224.9,179.2L224.9,186L227.1,188.2L227.1,197.2L229.4,199.5L229.4,206.3L231.7,208.5L231.7,215.3L233.9,217.5L233.9,222L236.2,224.3L236.2,231.1L238.5,233.3L238.5,240.1L240.7,242.3L240.7,249.1L243,251.3L243,255.8L245.2,258.1L245.2,264.9L247.5,267.1L247.5,271.6L249.8,273.9L249.8,280.6L252,282.9L252,287.4L254.3,289.7L254.3,294.2L256.6,296.4L256.6,300.9L258.8,303.2L258.8,310L261.1,312.2L261.1,316.7L263.3,319L263.3,323.5L265.6,325.7L265.6,330.2L267.9,332.5L267.9,337L270.1,339.3L270.1,341.5L272.4,343.8L272.4,348.3L274.7,350.5L274.7,355L276.9,357.3L276.9,361.8L279.2,364.1L279.2,366.3L281.4,368.6L281.4,373.1L283.7,375.3L283.7,379.8L286,382.1L286,384.4L288.2,386.6L288.2,391.1L290.5,393.4L290.5,395.6L292.7,397.9L292.7,402.4L295,404.6L295,406.9L297.3,409.2L297.3,411.4L299.5,413.7L299.5,418.2L301.8,420.4L301.8,422.7L304.1,424.9L304.1,427.2L306.3,429.4L306.3,434L308.6,436.2L308.6,438.5L310.8,440.7L310.8,443L313.1,445.2L313.1,447.5L315.4,449.7L315.4,452L317.6,454.2L317.6,456.5L319.9,458.8L319.9,461L322.2,463.3L322.2,465.5L324.4,467.8L324.4,470L326.7,472.3L326.7,474.5L328.9,476.8L328.9,479L331.2,481.3L331.2,483.6L333.5,485.8L333.5,488.1L335.7,490.3L335.7,492.6L340.3,497.1L340.3,499.3L342.5,501.6L342.5,503.8L344.8,506.1L344.8,508.4L349.3,512.9L349.3,515.1L351.6,517.4L351.6,519.6L356.1,524.1L356.1,526.4L358.4,528.6L358.4,530.3Z"/>
<path fill="#20ffdf" fill-rule="evenodd" d="M1028,893.9L1030.2,896.1L1032.5,896.1L1032.5,893.9L1030.2,891.6L1030.2,880.3L1028,878.1L1028,869.1L1025.7,866.8L1025.7,857.8L1023.5,855.5L1023.5,846.5L1021.2,844.3L1021.2,835.3L1018.9,833L1018.9,826.2L1016.7,824L1016.7,815L1014.4,812.7L1014.4,805.9L1012.1,803.7L1012.1,794.7L1009.9,792.4L1009.9,785.7L1007.6,783.4L1007.6,776.6L1005.4,774.4L1005.4,765.4L1003.1,763.1L1003.1,756.3L1000.8,754.1L1000.8,747.3L998.6,745.1L998.6,740.6L996.3,738.3L996.3,731.5L994,729.3L994,722.5L991.8,720.3L991.8,713.5L989.5,711.3L989.5,706.8L987.3,704.5L987.3,697.7L985,695.5L985,693.8L973.7,689.2L971.4,691.7L966.9,694L964.6,696.3L962.4,699.7L948.8,729L944.3,737.2L939.8,744.1L930.7,755.3L919.8,765.4L912.6,770.5L905.8,774.6L897.1,778.9L887.7,782.6L878.7,785.5L868.8,787.9L847,791.3L833.4,792.4L819.9,792.8L804,792.5L788.2,791.4L756.5,787.6L723.1,781.1L688.6,772.2L659.2,762.7L642.1,756.3L623,748.6L589.1,733.4L586.8,732.7L584.6,731.3L582.9,731.5L601.5,757.4L604.9,760.9L607.2,760.9L609.5,763.1L611.7,763.1L614,765.4L616.2,765.4L618.5,767.6L620.8,767.6L623,769.9L625.3,769.9L627.6,772.1L629.8,772.1L632.1,774.4L634.3,774.4L636.6,776.6L638.9,776.6L641.1,778.9L643.4,778.9L645.7,781.1L647.9,781.1L650.2,783.4L652.4,783.4L654.7,785.7L657,785.7L659.2,787.9L661.5,787.9L663.8,790.2L668.3,790.2L670.5,792.4L672.8,792.4L675.1,794.7L677.3,794.7L679.6,796.9L684.1,796.9L686.4,799.2L688.6,799.2L690.9,801.4L693.2,801.4L695.4,803.7L700,803.7L702.2,805.9L704.5,805.9L706.7,808.2L711.3,808.2L713.5,810.5L715.8,810.5L718.1,812.7L722.6,812.7L724.8,815L729.4,815L731.6,817.2L733.9,817.2L736.1,819.5L740.7,819.5L742.9,821.7L747.5,821.7L749.7,824L754.2,824L756.5,826.2L758.8,826.2L761,828.5L765.6,828.5L767.8,830.7L772.3,830.7L774.6,833L779.1,833L781.4,835.3L785.9,835.3L788.2,837.5L795,837.5L797.2,839.8L801.8,839.8L804,842L808.5,842L810.8,844.3L815.3,844.3L817.6,846.5L824.4,846.5L826.6,848.8L831.2,848.8L833.4,851L840.2,851L842.5,853.3L847,853.3L849.3,855.5L856,855.5L858.3,857.8L865.1,857.8L867.4,860.1L874.1,860.1L876.4,862.3L880.9,862.3L883.2,864.6L890,864.6L892.2,866.8L899,866.8L901.3,869.1L910.3,869.1L912.6,871.3L919.4,871.3L921.7,873.6L928.4,873.6L930.7,875.8L939.8,875.8L942,878.1L948.8,878.1L951.1,880.3L960.1,880.3L962.4,882.6L969.2,882.6L971.4,884.9L980.5,884.9L982.7,887.1L991.8,887.1L994,889.4L1003.1,889.4L1005.4,891.6L1014.4,891.6L1016.7,893.9ZM362.6,512.9L365.1,514.6L365.4,512.9L363.9,510.6L363.3,508.4L352.9,485.8L343.3,463.3L331.2,430.7L321.8,400.1L314,368.6L308.2,337L304.7,305.4L303.9,289.7L303.7,276.1L304.2,262.6L305.4,249.1L308.8,228.8L311.7,217.5L314.7,208.5L318.5,199.5L322.2,192.4L327.6,183.7L332.7,176.9L341.3,167.9L352.5,158.9L359.5,154.4L367.7,149.9L397.1,136.4L400.5,134.1L402.8,131.9L405.1,127.3L407.6,125.1L403,113.8L401.3,113.8L399.1,111.6L392.3,111.6L390,109.3L385.5,109.3L383.2,107.1L376.5,107.1L374.2,104.8L367.4,104.8L365.1,102.5L358.4,102.5L356.1,100.3L351.6,100.3L349.3,98L342.5,98L340.3,95.8L333.5,95.8L331.2,93.5L322.2,93.5L319.9,91.3L313.1,91.3L310.8,89L304.1,89L301.8,86.8L292.7,86.8L290.5,84.5L283.7,84.5L281.4,82.3L272.4,82.3L270.1,80L263.3,80L261.1,77.7L252,77.7L249.8,75.5L240.7,75.5L238.5,73.2L229.4,73.2L227.1,71L218.1,71L215.8,68.7L204.5,68.7L202.3,66.5L200,66.5L200,68.7L202.3,71L202.3,82.3L204.5,84.5L204.5,93.5L206.8,95.8L206.8,104.8L209,107.1L209,116.1L211.3,118.3L211.3,127.3L213.6,129.6L213.6,136.4L215.8,138.6L215.8,147.6L218.1,149.9L218.1,156.7L220.4,158.9L220.4,167.9L222.6,170.2L222.6,176.9L224.9,179.2L224.9,186L227.1,188.2L227.1,197.2L229.4,199.5L229.4,206.3L231.7,208.5L231.7,215.3L233.9,217.5L233.9,222L236.2,224.3L236.2,231.1L238.5,233.3L238.5,240.1L240.7,242.3L240.7,249.1L243,251.3L243,255.8L245.2,258.1L245.2,264.9L247.5,267.1L247.5,271.6L249.8,273.9L249.8,280.6L252,282.9L252,287.4L254.3,289.7L254.3,294.2L256.6,296.4L256.6,300.9L258.8,303.2L258.8,310L261.1,312.2L261.1,316.7L263.3,319L263.3,323.5L265.6,325.7L265.6,330.2L267.9,332.5L267.9,337L270.1,339.3L270.1,341.5L272.4,343.8L272.4,348.3L274.7,350.5L274.7,355L276.9,357.3L276.9,361.8L279.2,364.1L279.2,366.3L281.4,368.6L281.4,373.1L283.7,375.3L283.7,379.8L286,382.1L286,384.4L288.2,386.6L288.2,391.1L290.5,393.4L290.5,395.6L292.7,397.9L292.7,402.4L295,404.6L295,406.9L297.3,409.2L297.3,411.4L299.5,413.7L299.5,418.2L301.8,420.4L301.8,422.7L304.1,424.9L304.1,427.2L306.3,429.4L306.3,434L308.6,436.2L308.6,438.5L310.8,440.7L310.8,443L313.1,445.2L313.1,447.5L315.4,449.7L315.4,452L317.6,454.2L317.6,456.5L319.9,458.8L319.9,461L322.2,463.3L322.2,465.5L324.4,467.8L324.4,470L326.7,472.3L326.7,474.5L328.9,476.8L328.9,479L331.2,481.3L331.2,483.6L333.5,485.8L333.5,488.1L335.7,490.3L335.7,492.6L339.2,496Z"/>
<path fill="#30ffcf" fill-rule="evenodd" d="M1028,893.9L1030.2,896.1L1032.5,896.1L1032.5,893.9L1030.2,891.6L1030.2,880.3L1028,878.1L1028,869.1L1025.7,866.8L1025.7,857.8L1023.5,855.5L1023.5,846.5L1021.2,844.3L1021.2,835.3L1018.9,833L1018.9,826.2L1016.7,824L1016.7,815L1014.4,812.7L1014.4,805.9L1012.1,803.7L1012.1,794.7L1009.9,792.4L1009.9,785.7L1007.6,783.4L1007.6,776.6L1005.4,774.4L1005.4,765.4L1003.1,763.1L1003.1,756.3L1000.8,754.1L1000.8,747.3L998.6,745.1L998.6,740.6L996.3,738.3L996.3,731.5L994,729.3L994,722.5L991.8,720.3L991.8,713.5L989.5,711.3L989.5,706.8L987.3,704.5L987.3,703.3L975.9,698.8L973.7,702.1L969.2,704.6L965.7,709L952.4,736.1L944.1,749.6L935.2,760.6L926.2,769.1L919.4,774.2L912.6,778.5L897.9,785.7L880.9,791.2L860.6,795.3L849.3,796.6L835.7,797.5L808.5,797.4L779.1,795L749.7,790.6L720.3,784.4L691,776.6L659.2,766.4L620.5,751.8L618.5,751.5L617.3,751.8L632.5,774.4L634.3,774.4L636.6,776.6L638.9,776.6L641.1,778.9L643.4,778.9L645.7,781.1L647.9,781.1L650.2,783.4L652.4,783.4L654.7,785.7L657,785.7L659.2,787.9L661.5,787.9L663.8,790.2L668.3,790.2L670.5,792.4L672.8,792.4L675.1,794.7L677.3,794.7L679.6,796.9L684.1,796.9L686.4,799.2L688.6,799.2L690.9,801.4L693.2,801.4L695.4,803.7L700,803.7L702.2,805.9L704.5,805.9L706.7,808.2L711.3,808.2L713.5,810.5L715.8,810.5L718.1,812.7L722.6,812.7L724.8,815L729.4,815L731.6,817.2L733.9,817.2L736.1,819.5L740.7,819.5L742.9,821.7L747.5,821.7L749.7,824L754.2,824L756.5,826.2L758.8,826.2L761,828.5L765.6,828.5L767.8,830.7L772.3,830.7L774.6,833L779.1,833L781.4,835.3L785.9,835.3L788.2,837.5L795,837.5L797.2,839.8L801.8,839.8L804,842L808.5,842L810.8,844.3L815.3,844.3L817.6,846.5L824.4,846.5L826.6,848.8L831.2,848.8L833.4,851L840.2,851L842.5,853.3L847,853.3L849.3,855.5L856,855.5L858.3,857.8L865.1,857.8L867.4,860.1L874.1,860.1L876.4,862.3L880.9,862.3L883.2,864.6L890,864.6L892.2,866.8L899,866.8L901.3,869.1L910.3,869.1L912.6,871.3L919.4,871.3L921.7,873.6L928.4,873.6L930.7,875.8L939.8,875.8L942,878.1L948.8,878.1L951.1,880.3L960.1,880.3L962.4,882.6L969.2,882.6L971.4,884.9L980.5,884.9L982.7,887.1L991.8,887.1L994,889.4L1003.1,889.4L1005.4,891.6L1014.4,891.6L1016.7,893.9ZM343,479L344.8,480.2L345.2,479L344.8,477.1L328.9,434.9L317.6,398.9L310.5,370.8L304.7,341.5L300.7,312.2L298.9,285.2L299.2,258.1L301.5,235.6L303.7,224.3L305.9,215.3L311.3,199.5L315.4,190.8L319.4,183.7L323.9,176.9L328.9,170.7L338,161.6L347.3,154.4L360.6,146.3L387.8,133L392.2,129.6L394.7,125.1L398,122.8L393.5,111.6L392.3,111.6L390,109.3L385.5,109.3L383.2,107.1L376.5,107.1L374.2,104.8L367.4,104.8L365.1,102.5L358.4,102.5L356.1,100.3L351.6,100.3L349.3,98L342.5,98L340.3,95.8L333.5,95.8L331.2,93.5L322.2,93.5L319.9,91.3L313.1,91.3L310.8,89L304.1,89L301.8,86.8L292.7,86.8L290.5,84.5L283.7,84.5L281.4,82.3L272.4,82.3L270.1,80L263.3,80L261.1,77.7L252,77.7L249.8,75.5L240.7,75.5L238.5,73.2L229.4,73.2L227.1,71L218.1,71L215.8,68.7L204.5,68.7L202.3,66.5L200,66.5L200,68.7L202.3,71L202.3,82.3L204.5,84.5L204.5,93.5L206.8,95.8L206.8,104.8L209,107.1L209,116.1L211.3,118.3L211.3,127.3L213.6,129.6L213.6,136.4L215.8,138.6L215.8,147.6L218.1,149.9L218.1,156.7L220.4,158.9L220.4,167.9L222.6,170.2L222.6,176.9L224.9,179.2L224.9,186L227.1,188.2L227.1,197.2L229.4,199.5L229.4,206.3L231.7,208.5L231.7,215.3L233.9,217.5L233.9,222L236.2,224.3L236.2,231.1L238.5,233.3L238.5,240.1L240.7,242.3L240.7,249.1L243,251.3L243,255.8L245.2,258.1L245.2,264.9L247.5,267.1L247.5,271.6L249.8,273.9L249.8,280.6L252,282.9L252,287.4L254.3,289.7L254.3,294.2L256.6,296.4L256.6,300.9L258.8,303.2L258.8,310L261.1,312.2L261.1,316.7L263.3,319L263.3,323.5L265.6,325.7L265.6,330.2L267.9,332.5L267.9,337L270.1,339.3L270.1,341.5L272.4,343.8L272.4,348.3L274.7,350.5L274.7,355L276.9,357.3L276.9,361.8L279.2,364.1L279.2,366.3L281.4,368.6L281.4,373.1L283.7,375.3L283.7,379.8L286,382.1L286,384.4L288.2,386.6L288.2,391.1L290.5,393.4L290.5,395.6L292.7,397.9L292.7,402.4L295,404.6L295,406.9L297.3,409.2L297.3,411.4L299.5,413.7L299.5,418.2L301.8,420.4L301.8,422.7L304.1,424.9L304.1,427.2L306.3,429.4L306.3,434L308.6,436.2L308.6,438.5L310.8,440.7L310.8,443L313.1,445.2L313.1,447.5L315.4,449.7L315.4,452L317.6,454.2L317.6,456.5L319.9,458.8L319.9,461L322.2,463.3L322.2,465.1Z"/>
<path fill="#40ffbf" fill-rule="evenodd" d="M1028,893.9L1030.2,896.1L1032.5,896.1L1032.5,893.9L1030.2,891.6L1030.2,880.3L1028,878.1L1028,869.1L1025.7,866.8L1025.7,857.8L1023.5,855.5L1023.5,846.5L1021.2,844.3L1021.2,835.3L1018.9,833L1018.9,826.2L1016.7,824L1016.7,815L1014.4,812.7L1014.4,805.9L1012.1,803.7L1012.1,794.7L1009.9,792.4L1009.9,785.7L1007.6,783.4L1007.6,776.6L1005.4,774.4L1005.4,765.4L1003.1,763.1L1003.1,756.3L1000.8,754.1L1000.8,747.3L998.6,745.1L998.6,740.6L996.3,738.3L996.3,731.5L994,729.3L994,722.5L991.8,720.3L991.8,713.5L980.5,708.9L978.2,708.4L976.5,711.3L971.4,714.6L969.2,717.4L955.8,742.8L948.9,754.1L939.9,765.4L930.7,774.1L924.4,778.9L917.3,783.4L903.6,790.1L887.7,795.5L871.9,799L851.5,801.6L826.6,802.5L801.8,801.4L774.6,798.5L749.7,794.5L720.3,788.1L688.6,779.5L650.2,767.2L647,767.6L659.8,787.9L661.5,787.9L663.8,790.2L668.3,790.2L670.5,792.4L672.8,792.4L675.1,794.7L677.3,794.7L679.6,796.9L684.1,796.9L686.4,799.2L688.6,799.2L690.9,801.4L693.2,801.4L695.4,803.7L700,803.7L702.2,805.9L704.5,805.9L706.7,808.2L711.3,808.2L713.5,810.5L715.8,810.5L718.1,812.7L722.6,812.7L724.8,815L729.4,815L731.6,817.2L733.9,817.2L736.1,819.5L740.7,819.5L742.9,821.7L747.5,821.7L749.7,824L754.2,824L756.5,826.2L758.8,826.2L761,828.5L765.6,828.5L767.8,830.7L772.3,830.7L774.6,833L779.1,833L781.4,835.3L785.9,835.3L788.2,837.5L795,837.5L797.2,839.8L801.8,839.8L804,842L808.5,842L810.8,844.3L815.3,844.3L817.6,846.5L824.4,846.5L826.6,848.8L831.2,848.8L833.4,851L840.2,851L842.5,853.3L847,853.3L849.3,855.5L856,855.5L858.3,857.8L865.1,857.8L867.4,860.1L874.1,860.1L876.4,862.3L880.9,862.3L883.2,864.6L890,864.6L892.2,866.8L899,866.8L901.3,869.1L910.3,869.1L912.6,871.3L919.4,871.3L921.7,873.6L928.4,873.6L930.7,875.8L939.8,875.8L942,878.1L948.8,878.1L951.1,880.3L960.1,880.3L962.4,882.6L969.2,882.6L971.4,884.9L980.5,884.9L982.7,887.1L991.8,887.1L994,889.4L1003.1,889.4L1005.4,891.6L1014.4,891.6L1016.7,893.9ZM327.5,449.7L328.9,450.7L329.3,447.5L315.4,403.7L306.3,369L301.6,346L297.6,321.2L294.8,294.2L294,269.4L294.9,246.8L297.4,226.5L301,210.8L306.3,195L313.1,181.3L317.6,174.2L322.5,167.9L331.2,158.8L342.5,149.8L353.8,142.9L379.3,129.6L382.1,127.3L385.5,122.2L388.4,120.6L387.8,118.3L383.2,107.1L376.5,107.1L374.2,104.8L367.4,104.8L365.1,102.5L358.4,102.5L356.1,100.3L351.6,100.3L349.3,98L342.5,98L340.3,95.8L333.5,95.8L331.2,93.5L322.2,93.5L319.9,91.3L313.1,91.3L310.8,89L304.1,89L301.8,86.8L292.7,86.8L290.5,84.5L283.7,84.5L281.4,82.3L272.4,82.3L270.1,80L263.3,80L261.1,77.7L252,77.7L249.8,75.5L240.7,75.5L238.5,73.2L229.4,73.2L227.1,71L218.1,71L215.8,68.7L204.5,68.7L202.3,66.5L200,66.5L200,68.7L202.3,71L202.3,82.3L204.5,84.5L204.5,93.5L206.8,95.8L206.8,104.8L209,107.1L209,116.1L211.3,118.3L211.3,127.3L213.6,129.6L213.6,136.4L215.8,138.6L215.8,147.6L218.1,149.9L218.1,156.7L220.4,158.9L220.4,167.9L222.6,170.2L222.6,176.9L224.9,179.2L224.9,186L227.1,188.2L227.1,197.2L229.4,199.5L229.4,206.3L231.7,208.5L231.7,215.3L233.9,217.5L233.9,222L236.2,224.3L236.2,231.1L238.5,233.3L238.5,240.1L240.7,242.3L240.7,249.1L243,251.3L243,255.8L245.2,258.1L245.2,264.9L247.5,267.1L247.5,271.6L249.8,273.9L249.8,280.6L252,282.9L252,287.4L254.3,289.7L254.3,294.2L256.6,296.4L256.6,300.9L258.8,303.2L258.8,310L261.1,312.2L261.1,316.7L263.3,319L263.3,323.5L265.6,325.7L265.6,330.2L267.9,332.5L267.9,337L270.1,339.3L270.1,341.5L272.4,343.8L272.4,348.3L274.7,350.5L274.7,355L276.9,357.3L276.9,361.8L279.2,364.1L279.2,366.3L281.4,368.6L281.4,373.1L283.7,375.3L283.7,379.8L286,382.1L286,384.4L288.2,386.6L288.2,391.1L290.5,393.4L290.5,395.6L292.7,397.9L292.7,402.4L295,404.6L295,406.9L297.3,409.2L297.3,411.4L299.5,413.7L299.5,418.2L301.8,420.4L301.8,422.7L304.1,424.9L304.1,427.2L306.3,429.4L306.3,434L308.6,436.2L308.6,437.9Z"/>
<path fill="#50ffaf" fill-rule="evenodd" d="M1028,893.9L1030.2,896.1L1032.5,896.1L1032.5,893.9L1030.2,891.6L1030.2,880.3L1028,878.1L1028,869.1L1025.7,866.8L1025.7,857.8L1023.5,855.5L1023.5,846.5L1021.2,844.3L1021.2,835.3L1018.9,833L1018.9,826.2L1016.7,824L1016.7,815L1014.4,812.7L1014.4,805.9L1012.1,803.7L1012.1,794.7L1009.9,792.4L1009.9,785.7L1007.6,783.4L1007.6,776.6L1005.4,774.4L1005.4,765.4L1003.1,763.1L1003.1,756.3L1000.8,754.1L1000.8,747.3L998.6,745.1L998.6,740.6L996.3,738.3L996.3,731.5L994,729.3L994,722.5L993.3,721.8L982.7,717.8L980.5,718.8L979.2,720.3L975.9,722.2L973.2,724.8L969.2,730.8L960.1,747.7L953.3,758.7L944.5,769.9L935.2,778.8L923.9,786.9L910.3,793.9L896.8,798.9L880.9,802.9L860.6,805.8L840.2,807L817.6,806.7L795,805L772.3,802.1L749.7,798.2L718.1,791.1L679.6,780.6L675.1,780.1L673.7,781.1L683.2,796.9L684.1,796.9L686.4,799.2L688.6,799.2L690.9,801.4L693.2,801.4L695.4,803.7L700,803.7L702.2,805.9L704.5,805.9L706.7,808.2L711.3,808.2L713.5,810.5L715.8,810.5L718.1,812.7L722.6,812.7L724.8,815L729.4,815L731.6,817.2L733.9,817.2L736.1,819.5L740.7,819.5L742.9,821.7L747.5,821.7L749.7,824L754.2,824L756.5,826.2L758.8,826.2L761,828.5L765.6,828.5L767.8,830.7L772.3,830.7L774.6,833L779.1,833L781.4,835.3L785.9,835.3L788.2,837.5L795,837.5L797.2,839.8L801.8,839.8L804,842L808.5,842L810.8,844.3L815.3,844.3L817.6,846.5L824.4,846.5L826.6,848.8L831.2,848.8L833.4,851L840.2,851L842.5,853.3L847,853.3L849.3,855.5L856,855.5L858.3,857.8L865.1,857.8L867.4,860.1L874.1,860.1L876.4,862.3L880.9,862.3L883.2,864.6L890,864.6L892.2,866.8L899,866.8L901.3,869.1L910.3,869.1L912.6,871.3L919.4,871.3L921.7,873.6L928.4,873.6L930.7,875.8L939.8,875.8L942,878.1L948.8,878.1L951.1,880.3L960.1,880.3L962.4,882.6L969.2,882.6L971.4,884.9L980.5,884.9L982.7,887.1L991.8,887.1L994,889.4L1003.1,889.4L1005.4,891.6L1014.4,891.6L1016.7,893.9ZM672.4,778.9L672.8,779.6L673.3,778.9L672.8,778.8ZM317,424.9L317.6,425.3L317.6,424.5ZM313.2,422.7L315.4,424L316.5,422.7L316.4,420.4L306,382.1L299.5,354.5L294.3,325.7L291,298.7L289.6,276.1L289.6,253.6L291.1,233.3L294.1,215.3L298.3,199.5L303.6,186L309.6,174.7L317.8,163.4L326.7,154.2L337.9,145.4L348.9,138.6L365.9,129.6L371.9,125.6L374.6,122.8L376.5,119.6L377.9,118.3L378.9,116.1L375,105.6L374.2,104.8L367.4,104.8L365.1,102.5L358.4,102.5L356.1,100.3L351.6,100.3L349.3,98L342.5,98L340.3,95.8L333.5,95.8L331.2,93.5L322.2,93.5L319.9,91.3L313.1,91.3L310.8,89L304.1,89L301.8,86.8L292.7,86.8L290.5,84.5L283.7,84.5L281.4,82.3L272.4,82.3L270.1,80L263.3,80L261.1,77.7L252,77.7L249.8,75.5L240.7,75.5L238.5,73.2L229.4,73.2L227.1,71L218.1,71L215.8,68.7L204.5,68.7L202.3,66.5L200,66.5L200,68.7L202.3,71L202.3,82.3L204.5,84.5L204.5,93.5L206.8,95.8L206.8,104.8L209,107.1L209,116.1L211.3,118.3L211.3,127.3L213.6,129.6L213.6,136.4L215.8,138.6L215.8,147.6L218.1,149.9L218.1,156.7L220.4,158.9L220.4,167.9L222.6,170.2L222.6,176.9L224.9,179.2L224.9,186L227.1,188.2L227.1,197.2L229.4,199.5L229.4,206.3L231.7,208.5L231.7,215.3L233.9,217.5L233.9,222L236.2,224.3L236.2,231.1L238.5,233.3L238.5,240.1L240.7,242.3L240.7,249.1L243,251.3L243,255.8L245.2,258.1L245.2,264.9L247.5,267.1L247.5,271.6L249.8,273.9L249.8,280.6L252,282.9L252,287.4L254.3,289.7L254.3,294.2L256.6,296.4L256.6,300.9L258.8,303.2L258.8,310L261.1,312.2L261.1,316.7L263.3,319L263.3,323.5L265.6,325.7L265.6,330.2L267.9,332.5L267.9,337L270.1,339.3L270.1,341.5L272.4,343.8L272.4,348.3L274.7,350.5L274.7,355L276.9,357.3L276.9,361.8L279.2,364.1L279.2,366.3L281.4,368.6L281.4,373.1L283.7,375.3L283.7,379.8L286,382.1L286,384.4L288.2,386.6L288.2,391.1L290.5,393.4L290.5,395.6L292.7,397.9L292.7,402.4L295,404.6L295,406.9L297.3,409.2L297.3,411.4L299.5,413.7L299.5,414.6Z"/>
<path fill="#60ff9f" fill-rule="evenodd" d="M1028,893.9L1030.2,896.1L1032.5,896.1L1032.5,893.9L1030.2,891.6L1030.2,880.3L1028,878.1L1028,869.1L1025.7,866.8L1025.7,857.8L1023.5,855.5L1023.5,846.5L1021.2,844.3L1021.2,835.3L1018.9,833L1018.9,826.2L1016.7,824L1016.7,815L1014.4,812.7L1014.4,805.9L1012.1,803.7L1012.1,794.7L1009.9,792.4L1009.9,785.7L1007.6,783.4L1007.6,776.6L1005.4,774.4L1005.4,765.4L1003.1,763.1L1003.1,756.3L1000.8,754.1L1000.8,747.3L998.6,745.1L998.6,740.6L996.3,738.3L996.3,731.5L994.7,730L985,726.4L978.2,731L975.4,733.8L971.4,739.6L962,756.3L956.1,765.4L948.8,774.4L939.8,783.2L930.3,790.2L918.2,796.9L905.8,801.9L890,806.4L871.9,809.5L853.8,811.1L831.2,811.4L808.5,810.2L785.9,807.7L761,803.8L736.1,798.8L700,790.1L696.6,790.2L706.8,808.2L711.3,808.2L713.5,810.5L715.8,810.5L718.1,812.7L722.6,812.7L724.8,815L729.4,815L731.6,817.2L733.9,817.2L736.1,819.5L740.7,819.5L742.9,821.7L747.5,821.7L749.7,824L754.2,824L756.5,826.2L758.8,826.2L761,828.5L765.6,828.5L767.8,830.7L772.3,830.7L774.6,833L779.1,833L781.4,835.3L785.9,835.3L788.2,837.5L795,837.5L797.2,839.8L801.8,839.8L804,842L808.5,842L810.8,844.3L815.3,844.3L817.6,846.5L824.4,846.5L826.6,848.8L831.2,848.8L833.4,851L840.2,851L842.5,853.3L847,853.3L849.3,855.5L856,855.5L858.3,857.8L865.1,857.8L867.4,860.1L874.1,860.1L876.4,862.3L880.9,862.3L883.2,864.6L890,864.6L892.2,866.8L899,866.8L901.3,869.1L910.3,869.1L912.6,871.3L919.4,871.3L921.7,873.6L928.4,873.6L930.7,875.8L939.8,875.8L942,878.1L948.8,878.1L951.1,880.3L960.1,880.3L962.4,882.6L969.2,882.6L971.4,884.9L980.5,884.9L982.7,887.1L991.8,887.1L994,889.4L1003.1,889.4L1005.4,891.6L1014.4,891.6L1016.7,893.9ZM304.4,400.1L306.3,401.2L306.4,397.9L298.2,364.1L292.7,337.8L288.7,312.2L286.1,287.4L285,264.9L285.3,244.6L286.9,226.5L290,208.5L294.5,192.7L299.5,180.4L306.3,168.3L313.3,158.9L322.1,149.9L331.2,142.6L340.3,136.8L357,127.3L362.9,123.4L365.6,120.6L370.3,113.8L366.7,104.1L365.1,102.5L358.4,102.5L356.1,100.3L351.6,100.3L349.3,98L342.5,98L340.3,95.8L333.5,95.8L331.2,93.5L322.2,93.5L319.9,91.3L313.1,91.3L310.8,89L304.1,89L301.8,86.8L292.7,86.8L290.5,84.5L283.7,84.5L281.4,82.3L272.4,82.3L270.1,80L263.3,80L261.1,77.7L252,77.7L249.8,75.5L240.7,75.5L238.5,73.2L229.4,73.2L227.1,71L218.1,71L215.8,68.7L204.5,68.7L202.3,66.5L200,66.5L200,68.7L202.3,71L202.3,82.3L204.5,84.5L204.5,93.5L206.8,95.8L206.8,104.8L209,107.1L209,116.1L211.3,118.3L211.3,127.3L213.6,129.6L213.6,136.4L215.8,138.6L215.8,147.6L218.1,149.9L218.1,156.7L220.4,158.9L220.4,167.9L222.6,170.2L222.6,176.9L224.9,179.2L224.9,186L227.1,188.2L227.1,197.2L229.4,199.5L229.4,206.3L231.7,208.5L231.7,215.3L233.9,217.5L233.9,222L236.2,224.3L236.2,231.1L238.5,233.3L238.5,240.1L240.7,242.3L240.7,249.1L243,251.3L243,255.8L245.2,258.1L245.2,264.9L247.5,267.1L247.5,271.6L249.8,273.9L249.8,280.6L252,282.9L252,287.4L254.3,289.7L254.3,294.2L256.6,296.4L256.6,300.9L258.8,303.2L258.8,310L261.1,312.2L261.1,316.7L263.3,319L263.3,323.5L265.6,325.7L265.6,330.2L267.9,332.5L267.9,337L270.1,339.3L270.1,341.5L272.4,343.8L272.4,348.3L274.7,350.5L274.7,355L276.9,357.3L276.9,361.8L279.2,364.1L279.2,366.3L281.4,368.6L281.4,373.1L283.7,375.3L283.7,379.8L286,382.1L286,384.4L288.2,386.6L288.2,391.1Z"/>
<path fill="#70ff8f" fill-rule="evenodd" d="M1028,893.9L1030.2,896.1L1032.5,896.1L1032.5,893.9L1030.2,891.6L1030.2,880.3L1028,878.1L1028,869.1L1025.7,866.8L1025.7,857.8L1023.5,855.5L1023.5,846.5L1021.2,844.3L1021.2,835.3L1018.9,833L1018.9,826.2L1016.7,824L1016.7,815L1014.4,812.7L1014.4,805.9L1012.1,803.7L1012.1,794.7L1009.9,792.4L1009.9,785.7L1007.6,783.4L1007.6,776.6L1005.4,774.4L1005.4,765.4L1003.1,763.1L1003.1,756.3L1000.8,754.1L1000.8,747.3L998.6,745.1L998.6,740.6L996.3,738L987.3,734.7L978.2,741.6L974.1,747.3L964.7,763.1L958.4,772.1L951.1,780.9L943.6,787.9L933,795.6L922.3,801.4L910.3,806.3L896.8,810.2L880.9,813.2L862.8,815.1L842.5,815.7L822.1,815L801.8,813.3L780,810.5L754.3,805.9L721.9,799.2L718.8,799.2L727,815L729.4,815L731.6,817.2L733.9,817.2L736.1,819.5L740.7,819.5L742.9,821.7L747.5,821.7L749.7,824L754.2,824L756.5,826.2L758.8,826.2L761,828.5L765.6,828.5L767.8,830.7L772.3,830.7L774.6,833L779.1,833L781.4,835.3L785.9,835.3L788.2,837.5L795,837.5L797.2,839.8L801.8,839.8L804,842L808.5,842L810.8,844.3L815.3,844.3L817.6,846.5L824.4,846.5L826.6,848.8L831.2,848.8L833.4,851L840.2,851L842.5,853.3L847,853.3L849.3,855.5L856,855.5L858.3,857.8L865.1,857.8L867.4,860.1L874.1,860.1L876.4,862.3L880.9,862.3L883.2,864.6L890,864.6L892.2,866.8L899,866.8L901.3,869.1L910.3,869.1L912.6,871.3L919.4,871.3L921.7,873.6L928.4,873.6L930.7,875.8L939.8,875.8L942,878.1L948.8,878.1L951.1,880.3L960.1,880.3L962.4,882.6L969.2,882.6L971.4,884.9L980.5,884.9L982.7,887.1L991.8,887.1L994,889.4L1003.1,889.4L1005.4,891.6L1014.4,891.6L1016.7,893.9ZM294,377.6L297.3,379.1L297.3,376L290.1,341.5L285.8,316.7L282.7,291.9L281,269.4L280.8,249.1L281.7,231.1L283.7,214.5L286.8,199.5L291,186L295.8,174.7L301.8,164.2L309.2,154.4L315.7,147.6L324.4,140.3L333.5,134.1L349.3,124.7L355.1,120.6L361.9,111.6L358.7,102.5L356.1,100.3L351.6,100.3L349.3,98L342.5,98L340.3,95.8L333.5,95.8L331.2,93.5L322.2,93.5L319.9,91.3L313.1,91.3L310.8,89L304.1,89L301.8,86.8L292.7,86.8L290.5,84.5L283.7,84.5L281.4,82.3L272.4,82.3L270.1,80L263.3,80L261.1,77.7L252,77.7L249.8,75.5L240.7,75.5L238.5,73.2L229.4,73.2L227.1,71L218.1,71L215.8,68.7L204.5,68.7L202.3,66.5L200,66.5L200,68.7L202.3,71L202.3,82.3L204.5,84.5L204.5,93.5L206.8,95.8L206.8,104.8L209,107.1L209,116.1L211.3,118.3L211.3,127.3L213.6,129.6L213.6,136.4L215.8,138.6L215.8,147.6L218.1,149.9L218.1,156.7L220.4,158.9L220.4,167.9L222.6,170.2L222.6,176.9L224.9,179.2L224.9,186L227.1,188.2L227.1,197.2L229.4,199.5L229.4,206.3L231.7,208.5L231.7,215.3L233.9,217.5L233.9,222L236.2,224.3L236.2,231.1L238.5,233.3L238.5,240.1L240.7,242.3L240.7,249.1L243,251.3L243,255.8L245.2,258.1L245.2,264.9L247.5,267.1L247.5,271.6L249.8,273.9L249.8,280.6L252,282.9L252,287.4L254.3,289.7L254.3,294.2L256.6,296.4L256.6,300.9L258.8,303.2L258.8,310L261.1,312.2L261.1,316.7L263.3,319L263.3,323.5L265.6,325.7L265.6,330.2L267.9,332.5L267.9,337L270.1,339.3L270.1,341.5L272.4,343.8L272.4,348.3L274.7,350.5L274.7,355L276.9,357.3L276.9,361.8L279.2,364.1L279.2,366.3L281.4,368.6L281.4,370.9Z"/>
<path fill="#80ff80" fill-rule="evenodd" d="M1028,893.9L1030.2,896.1L1032.5,896.1L1032.5,893.9L1030.2,891.6L1030.2,880.3L1028,878.1L1028,869.1L1025.7,866.8L1025.7,857.8L1023.5,855.5L1023.5,846.5L1021.2,844.3L1021.2,835.3L1018.9,833L1018.9,826.2L1016.7,824L1016.7,815L1014.4,812.7L1014.4,805.9L1012.1,803.7L1012.1,794.7L1009.9,792.4L1009.9,785.7L1007.6,783.4L1007.6,776.6L1005.4,774.4L1005.4,765.4L1003.1,763.1L1003.1,756.3L1000.8,754.1L1000.8,747.3L999.8,746.3L989.5,742.8L982.7,747.5L980.4,749.6L977,754.1L967,769.9L962.3,776.6L955.6,784.6L947.4,792.4L938.2,799.2L928.4,804.7L917.1,809.6L905.8,813.2L890,816.6L874.1,818.6L856,819.7L838,819.6L822.1,818.8L804,817.1L779.1,813.7L745.2,807.6L742.9,807.4L739.5,808.2L746.5,821.7L747.5,821.7L749.7,824L754.2,824L756.5,826.2L758.8,826.2L761,828.5L765.6,828.5L767.8,830.7L772.3,830.7L774.6,833L779.1,833L781.4,835.3L785.9,835.3L788.2,837.5L795,837.5L797.2,839.8L801.8,839.8L804,842L808.5,842L810.8,844.3L815.3,844.3L817.6,846.5L824.4,846.5L826.6,848.8L831.2,848.8L833.4,851L840.2,851L842.5,853.3L847,853.3L849.3,855.5L856,855.5L858.3,857.8L865.1,857.8L867.4,860.1L874.1,860.1L876.4,862.3L880.9,862.3L883.2,864.6L890,864.6L892.2,866.8L899,866.8L901.3,869.1L910.3,869.1L912.6,871.3L919.4,871.3L921.7,873.6L928.4,873.6L930.7,875.8L939.8,875.8L942,878.1L948.8,878.1L951.1,880.3L960.1,880.3L962.4,882.6L969.2,882.6L971.4,884.9L980.5,884.9L982.7,887.1L991.8,887.1L994,889.4L1003.1,889.4L1005.4,891.6L1014.4,891.6L1016.7,893.9ZM286,357.3L288.2,358.4L289.1,355L283.1,321.2L279.9,298.7L277.6,276.1L276.7,255.8L276.9,237.8L278,222L280.2,206.3L283.2,192.7L286.8,181.5L291.7,170.2L297.3,160.4L304.1,151.3L311.9,143.1L319.9,136.5L326.7,131.7L342.5,121.8L347,118.4L349.2,116.1L353.9,109.3L350.3,99L349.3,98L342.5,98L340.3,95.8L333.5,95.8L331.2,93.5L322.2,93.5L319.9,91.3L313.1,91.3L310.8,89L304.1,89L301.8,86.8L292.7,86.8L290.5,84.5L283.7,84.5L281.4,82.3L272.4,82.3L270.1,80L263.3,80L261.1,77.7L252,77.7L249.8,75.5L240.7,75.5L238.5,73.2L229.4,73.2L227.1,71L218.1,71L215.8,68.7L204.5,68.7L202.3,66.5L200,66.5L200,68.7L202.3,71L202.3,82.3L204.5,84.5L204.5,93.5L206.8,95.8L206.8,104.8L209,107.1L209,116.1L211.3,118.3L211.3,127.3L213.6,129.6L213.6,136.4L215.8,138.6L215.8,147.6L218.1,149.9L218.1,156.7L220.4,158.9L220.4,167.9L222.6,170.2L222.6,176.9L224.9,179.2L224.9,186L227.1,188.2L227.1,197.2L229.4,199.5L229.4,206.3L231.7,208.5L231.7,215.3L233.9,217.5L233.9,222L236.2,224.3L236.2,231.1L238.5,233.3L238.5,240.1L240.7,242.3L240.7,249.1L243,251.3L243,255.8L245.2,258.1L245.2,264.9L247.5,267.1L247.5,271.6L249.8,273.9L249.8,280.6L252,282.9L252,287.4L254.3,289.7L254.3,294.2L256.6,296.4L256.6,300.9L258.8,303.2L258.8,310L261.1,312.2L261.1,316.7L263.3,319L263.3,323.5L265.6,325.7L265.6,330.2L267.9,332.5L267.9,337L270.1,339.3L270.1,341.5L272.4,343.8L272.4,348.3L274.7,350.5L274.7,351.5Z"/>
<path fill="#8fff70" fill-rule="evenodd" d="M1028,893.9L1030.2,896.1L1032.5,896.1L1032.5,893.9L1030.2,891.6L1030.2,880.3L1028,878.1L1028,869.1L1025.7,866.8L1025.7,857.8L1023.5,855.5L1023.5,846.5L1021.2,844.3L1021.2,835.3L1018.9,833L1018.9,826.2L1016.7,824L1016.7,815L1014.4,812.7L1014.4,805.9L1012.1,803.7L1012.1,794.7L1009.9,792.4L1009.9,785.7L1007.6,783.4L1007.6,776.6L1005.4,774.4L1005.4,765.4L1003.1,763.1L1003.1,756.3L1000.8,754.1L1000.8,753.6L991.8,750.5L989.5,751.6L982.7,757L978.2,762.9L964.6,782.7L957.8,790.5L950.9,796.9L942,803.5L933,808.6L921.7,813.5L910.3,817.1L896.8,820.2L883.2,822.1L867.4,823.4L849.3,823.6L833.4,823.1L815.7,821.7L795,819.3L763.3,814.5L761,814.3L758.5,815L765.2,828.5L767.8,830.7L772.3,830.7L774.6,833L779.1,833L781.4,835.3L785.9,835.3L788.2,837.5L795,837.5L797.2,839.8L801.8,839.8L804,842L808.5,842L810.8,844.3L815.3,844.3L817.6,846.5L824.4,846.5L826.6,848.8L831.2,848.8L833.4,851L840.2,851L842.5,853.3L847,853.3L849.3,855.5L856,855.5L858.3,857.8L865.1,857.8L867.4,860.1L874.1,860.1L876.4,862.3L880.9,862.3L883.2,864.6L890,864.6L892.2,866.8L899,866.8L901.3,869.1L910.3,869.1L912.6,871.3L919.4,871.3L921.7,873.6L928.4,873.6L930.7,875.8L939.8,875.8L942,878.1L948.8,878.1L951.1,880.3L960.1,880.3L962.4,882.6L969.2,882.6L971.4,884.9L980.5,884.9L982.7,887.1L991.8,887.1L994,889.4L1003.1,889.4L1005.4,891.6L1014.4,891.6L1016.7,893.9ZM281,339.3L281.6,339.3L282.1,337L281.9,334.8L277.4,305.4L275.2,287.4L273.4,267.1L272.7,249.1L273,231.1L274.2,215.3L276.2,201.7L279.3,188.2L282.9,176.9L287.8,165.7L293,156.7L299.5,147.8L306,140.9L313.8,134.1L333.7,120.6L339.6,116.1L345,109.3L346.1,107.1L343,98L342.5,98L340.3,95.8L333.5,95.8L331.2,93.5L322.2,93.5L319.9,91.3L313.1,91.3L310.8,89L304.1,89L301.8,86.8L292.7,86.8L290.5,84.5L283.7,84.5L281.4,82.3L272.4,82.3L270.1,80L263.3,80L261.1,77.7L252,77.7L249.8,75.5L240.7,75.5L238.5,73.2L229.4,73.2L227.1,71L218.1,71L215.8,68.7L204.5,68.7L202.3,66.5L200,66.5L200,68.7L202.3,71L202.3,82.3L204.5,84.5L204.5,93.5L206.8,95.8L206.8,104.8L209,107.1L209,116.1L211.3,118.3L211.3,127.3L213.6,129.6L213.6,136.4L215.8,138.6L215.8,147.6L218.1,149.9L218.1,156.7L220.4,158.9L220.4,167.9L222.6,170.2L222.6,176.9L224.9,179.2L224.9,186L227.1,188.2L227.1,197.2L229.4,199.5L229.4,206.3L231.7,208.5L231.7,215.3L233.9,217.5L233.9,222L236.2,224.3L236.2,231.1L238.5,233.3L238.5,240.1L240.7,242.3L240.7,249.1L243,251.3L243,255.8L245.2,258.1L245.2,264.9L247.5,267.1L247.5,271.6L249.8,273.9L249.8,280.6L252,282.9L252,287.4L254.3,289.7L254.3,294.2L256.6,296.4L256.6,300.9L258.8,303.2L258.8,310L261.1,312.2L261.1,316.7L263.3,319L263.3,323.5L265.6,325.7L265.6,330.2L267.9,332.9Z"/>
<path fill="#9fff60" fill-rule="evenodd" d="M1028,893.9L1030.2,896.1L1032.5,896.1L1032.5,893.9L1030.2,891.6L1030.2,880.3L1028,878.1L1028,869.1L1025.7,866.8L1025.7,857.8L1023.5,855.5L1023.5,846.5L1021.2,844.3L1021.2,835.3L1018.9,833L1018.9,826.2L1016.7,824L1016.7,815L1014.4,812.7L1014.4,805.9L1012.1,803.7L1012.1,794.7L1009.9,792.4L1009.9,785.7L1007.6,783.4L1007.6,776.6L1005.4,774.4L1005.4,765.4L1003.1,763.1L1003.1,761L994,758L991.8,758L989.6,760.9L985,764.1L980.5,769.6L966.9,788.6L960.1,796.1L953.3,802.1L944.8,808.2L936.8,812.7L926.4,817.2L917.1,820.3L903.6,823.6L890,825.7L876.4,826.9L860.6,827.4L844.7,827.2L826.6,826.1L781.4,820.8L779.1,820.8L776.8,821.7L783.1,835.3L785.9,835.3L788.2,837.5L795,837.5L797.2,839.8L801.8,839.8L804,842L808.5,842L810.8,844.3L815.3,844.3L817.6,846.5L824.4,846.5L826.6,848.8L831.2,848.8L833.4,851L840.2,851L842.5,853.3L847,853.3L849.3,855.5L856,855.5L858.3,857.8L865.1,857.8L867.4,860.1L874.1,860.1L876.4,862.3L880.9,862.3L883.2,864.6L890,864.6L892.2,866.8L899,866.8L901.3,869.1L910.3,869.1L912.6,871.3L919.4,871.3L921.7,873.6L928.4,873.6L930.7,875.8L939.8,875.8L942,878.1L948.8,878.1L951.1,880.3L960.1,880.3L962.4,882.6L969.2,882.6L971.4,884.9L980.5,884.9L982.7,887.1L991.8,887.1L994,889.4L1003.1,889.4L1005.4,891.6L1014.4,891.6L1016.7,893.9ZM274.5,321.2L275.5,319L275.6,316.7L271.9,287.4L270.1,269.6L269.1,251.3L268.9,235.6L269.6,219.8L271,206.3L273.3,192.7L276.1,181.5L279.2,172.2L283.7,161.9L288.2,153.9L294.3,145.4L300.4,138.6L307.9,131.9L326.9,118.3L332.5,113.8L335.7,109.2L338.6,107.1L338.6,104.8L335.6,95.8L333.5,95.8L331.2,93.5L322.2,93.5L319.9,91.3L313.1,91.3L310.8,89L304.1,89L301.8,86.8L292.7,86.8L290.5,84.5L283.7,84.5L281.4,82.3L272.4,82.3L270.1,80L263.3,80L261.1,77.7L252,77.7L249.8,75.5L240.7,75.5L238.5,73.2L229.4,73.2L227.1,71L218.1,71L215.8,68.7L204.5,68.7L202.3,66.5L200,66.5L200,68.7L202.3,71L202.3,82.3L204.5,84.5L204.5,93.5L206.8,95.8L206.8,104.8L209,107.1L209,116.1L211.3,118.3L211.3,127.3L213.6,129.6L213.6,136.4L215.8,138.6L215.8,147.6L218.1,149.9L218.1,156.7L220.4,158.9L220.4,167.9L222.6,170.2L222.6,176.9L224.9,179.2L224.9,186L227.1,188.2L227.1,197.2L229.4,199.5L229.4,206.3L231.7,208.5L231.7,215.3L233.9,217.5L233.9,222L236.2,224.3L236.2,231.1L238.5,233.3L238.5,240.1L240.7,242.3L240.7,249.1L243,251.3L243,255.8L245.2,258.1L245.2,264.9L247.5,267.1L247.5,271.6L249.8,273.9L249.8,280.6L252,282.9L252,287.4L254.3,289.7L254.3,294.2L256.6,296.4L256.6,300.9L258.8,303.2L258.8,310L261.1,312.2L261.1,315Z"/>
<path fill="#afff50" fill-rule="evenodd" d="M1028,893.9L1030.2,896.1L1032.5,896.1L1032.5,893.9L1030.2,891.6L1030.2,880.3L1028,878.1L1028,869.1L1025.7,866.8L1025.7,857.8L1023.5,855.5L1023.5,846.5L1021.2,844.3L1021.2,835.3L1018.9,833L1018.9,826.2L1016.7,824L1016.7,815L1014.4,812.7L1014.4,805.9L1012.1,803.7L1012.1,794.7L1009.9,792.4L1009.9,785.7L1007.6,783.4L1007.6,776.6L1005.4,774.4L1005.4,768.2L994,764.5L991.8,767.8L987.3,770.8L985,773.2L968.7,794.7L962.4,801.3L957.8,805.4L951.1,810.5L942,815.9L933,820L923.9,823.3L912.6,826.3L899,828.8L885.5,830.3L869.6,831L856,831L840.2,830.4L794,826.2L794.3,828.5L799.3,839.8L801.8,839.8L804,842L808.5,842L810.8,844.3L815.3,844.3L817.6,846.5L824.4,846.5L826.6,848.8L831.2,848.8L833.4,851L840.2,851L842.5,853.3L847,853.3L849.3,855.5L856,855.5L858.3,857.8L865.1,857.8L867.4,860.1L874.1,860.1L876.4,862.3L880.9,862.3L883.2,864.6L890,864.6L892.2,866.8L899,866.8L901.3,869.1L910.3,869.1L912.6,871.3L919.4,871.3L921.7,873.6L928.4,873.6L930.7,875.8L939.8,875.8L942,878.1L948.8,878.1L951.1,880.3L960.1,880.3L962.4,882.6L969.2,882.6L971.4,884.9L980.5,884.9L982.7,887.1L991.8,887.1L994,889.4L1003.1,889.4L1005.4,891.6L1014.4,891.6L1016.7,893.9ZM266.3,303.2L270.1,304.2L265.7,253.6L265.2,235.6L265.6,219.8L266.7,206.3L268.3,195L270.6,183.7L273.9,172.4L277.3,163.4L281.8,154.4L287.5,145.4L292.7,138.9L297.3,134.1L304.1,128.1L323.4,113.8L325.7,111.6L328.8,107.1L332.1,104.8L328.4,93.5L322.2,93.5L319.9,91.3L313.1,91.3L310.8,89L304.1,89L301.8,86.8L292.7,86.8L290.5,84.5L283.7,84.5L281.4,82.3L272.4,82.3L270.1,80L263.3,80L261.1,77.7L252,77.7L249.8,75.5L240.7,75.5L238.5,73.2L229.4,73.2L227.1,71L218.1,71L215.8,68.7L204.5,68.7L202.3,66.5L200,66.5L200,68.7L202.3,71L202.3,82.3L204.5,84.5L204.5,93.5L206.8,95.8L206.8,104.8L209,107.1L209,116.1L211.3,118.3L211.3,127.3L213.6,129.6L213.6,136.4L215.8,138.6L215.8,147.6L218.1,149.9L218.1,156.7L220.4,158.9L220.4,167.9L222.6,170.2L222.6,176.9L224.9,179.2L224.9,186L227.1,188.2L227.1,197.2L229.4,199.5L229.4,206.3L231.7,208.5L231.7,215.3L233.9,217.5L233.9,222L236.2,224.3L236.2,231.1L238.5,233.3L238.5,240.1L240.7,242.3L240.7,249.1L243,251.3L243,255.8L245.2,258.1L245.2,264.9L247.5,267.1L247.5,271.6L249.8,273.9L249.8,280.6L252,282.9L252,287.4L254.3,289.7L254.3,294.2L256.6,296.4L256.6,298.9Z"/>
<path fill="#bfff40" fill-rule="evenodd" d="M1028,893.9L1030.2,896.1L1032.5,896.1L1032.5,893.9L1030.2,891.6L1030.2,880.3L1028,878.1L1028,869.1L1025.7,866.8L1025.7,857.8L1023.5,855.5L1023.5,846.5L1021.2,844.3L1021.2,835.3L1018.9,833L1018.9,826.2L1016.7,824L1016.7,815L1014.4,812.7L1014.4,805.9L1012.1,803.7L1012.1,794.7L1009.9,792.4L1009.9,785.7L1007.6,783.4L1007.6,776.6L1005.4,774.4L996.3,771.5L994,774.3L989.5,777.2L987.3,779.4L971.7,799.2L966.9,804.2L960.1,810.3L953.6,815L946.5,819.2L937.5,823.4L930,826.2L919.4,829.3L908.1,831.6L896.8,833.2L883.2,834.2L869.6,834.6L853.8,834.3L815.3,831.6L810.8,832.3L810,833L814.9,844.3L815.3,844.3L817.6,846.5L824.4,846.5L826.6,848.8L831.2,848.8L833.4,851L840.2,851L842.5,853.3L847,853.3L849.3,855.5L856,855.5L858.3,857.8L865.1,857.8L867.4,860.1L874.1,860.1L876.4,862.3L880.9,862.3L883.2,864.6L890,864.6L892.2,866.8L899,866.8L901.3,869.1L910.3,869.1L912.6,871.3L919.4,871.3L921.7,873.6L928.4,873.6L930.7,875.8L939.8,875.8L942,878.1L948.8,878.1L951.1,880.3L960.1,880.3L962.4,882.6L969.2,882.6L971.4,884.9L980.5,884.9L982.7,887.1L991.8,887.1L994,889.4L1003.1,889.4L1005.4,891.6L1014.4,891.6L1016.7,893.9ZM261.6,287.4L263.3,288.2L264.1,287.4L264.7,282.9L261.9,242.3L261.7,226.5L262.4,210.8L263.4,199.5L265.2,188.2L267.7,176.9L270.4,167.9L273.9,158.9L278.5,149.9L282.8,143.1L288,136.4L292.7,131.3L299.5,125.2L317.1,111.6L319.3,109.3L322.3,104.8L325,102.5L322.2,93.5L319.9,91.3L313.1,91.3L310.8,89L304.1,89L301.8,86.8L292.7,86.8L290.5,84.5L283.7,84.5L281.4,82.3L272.4,82.3L270.1,80L263.3,80L261.1,77.7L252,77.7L249.8,75.5L240.7,75.5L238.5,73.2L229.4,73.2L227.1,71L218.1,71L215.8,68.7L204.5,68.7L202.3,66.5L200,66.5L200,68.7L202.3,71L202.3,82.3L204.5,84.5L204.5,93.5L206.8,95.8L206.8,104.8L209,107.1L209,116.1L211.3,118.3L211.3,127.3L213.6,129.6L213.6,136.4L215.8,138.6L215.8,147.6L218.1,149.9L218.1,156.7L220.4,158.9L220.4,167.9L222.6,170.2L222.6,176.9L224.9,179.2L224.9,186L227.1,188.2L227.1,197.2L229.4,199.5L229.4,206.3L231.7,208.5L231.7,215.3L233.9,217.5L233.9,222L236.2,224.3L236.2,231.1L238.5,233.3L238.5,240.1L240.7,242.3L240.7,249.1L243,251.3L243,255.8L245.2,258.1L245.2,264.9L247.5,267.1L247.5,271.6L249.8,273.9L249.8,280.6L252,282.9L252,283.4Z"/>
<path fill="#cfff30" fill-rule="evenodd" d="M1028,893.9L1030.2,896.1L1032.5,896.1L1032.5,893.9L1030.2,891.6L1030.2,880.3L1028,878.1L1028,869.1L1025.7,866.8L1025.7,857.8L1023.5,855.5L1023.5,846.5L1021.2,844.3L1021.2,835.3L1018.9,833L1018.9,826.2L1016.7,824L1016.7,815L1014.4,812.7L1014.4,805.9L1012.1,803.7L1012.1,794.7L1009.9,792.4L1009.9,785.7L1007.6,783.4L1007.6,781.1L998.6,778.3L989.5,785.3L974.4,803.7L964.6,813.1L957.8,818.2L951.1,822.3L943.1,826.2L935.2,829.3L926.2,832.1L914.9,834.6L903.6,836.3L892.2,837.4L878.7,838L865.1,838L828.9,836.2L826.6,836.6L825.2,837.5L829.8,848.8L831.2,848.8L833.4,851L840.2,851L842.5,853.3L847,853.3L849.3,855.5L856,855.5L858.3,857.8L865.1,857.8L867.4,860.1L874.1,860.1L876.4,862.3L880.9,862.3L883.2,864.6L890,864.6L892.2,866.8L899,866.8L901.3,869.1L910.3,869.1L912.6,871.3L919.4,871.3L921.7,873.6L928.4,873.6L930.7,875.8L939.8,875.8L942,878.1L948.8,878.1L951.1,880.3L960.1,880.3L962.4,882.6L969.2,882.6L971.4,884.9L980.5,884.9L982.7,887.1L991.8,887.1L994,889.4L1003.1,889.4L1005.4,891.6L1014.4,891.6L1016.7,893.9ZM255.2,271.6L258.8,273.1L259.7,271.6L260.1,269.4L258.4,233.3L258.3,219.8L258.9,206.3L260.3,192.7L262.2,181.5L264.9,170.2L267.9,161.2L270.7,154.4L274.7,146.6L279.2,139.5L283.3,134.1L292.7,124.4L311.2,109.3L318.3,100.3L315.5,91.3L313.1,91.3L310.8,89L304.1,89L301.8,86.8L292.7,86.8L290.5,84.5L283.7,84.5L281.4,82.3L272.4,82.3L270.1,80L263.3,80L261.1,77.7L252,77.7L249.8,75.5L240.7,75.5L238.5,73.2L229.4,73.2L227.1,71L218.1,71L215.8,68.7L204.5,68.7L202.3,66.5L200,66.5L200,68.7L202.3,71L202.3,82.3L204.5,84.5L204.5,93.5L206.8,95.8L206.8,104.8L209,107.1L209,116.1L211.3,118.3L211.3,127.3L213.6,129.6L213.6,136.4L215.8,138.6L215.8,147.6L218.1,149.9L218.1,156.7L220.4,158.9L220.4,167.9L222.6,170.2L222.6,176.9L224.9,179.2L224.9,186L227.1,188.2L227.1,197.2L229.4,199.5L229.4,206.3L231.7,208.5L231.7,215.3L233.9,217.5L233.9,222L236.2,224.3L236.2,231.1L238.5,233.3L238.5,240.1L240.7,242.3L240.7,249.1L243,251.3L243,255.8L245.2,258.1L245.2,264.9L247.5,267.1L247.5,268.5Z"/>
<path fill="#dfff20" fill-rule="evenodd" d="M1028,893.9L1030.2,896.1L1032.5,896.1L1032.5,893.9L1030.2,891.6L1030.2,880.3L1028,878.1L1028,869.1L1025.7,866.8L1025.7,857.8L1023.5,855.5L1023.5,846.5L1021.2,844.3L1021.2,835.3L1018.9,833L1018.9,826.2L1016.7,824L1016.7,815L1014.4,812.7L1014.4,805.9L1012.1,803.7L1012.1,794.7L1009.9,792.4L1009.9,787.5L1000.8,784.8L998.6,784.8L996.3,787.7L991.8,790.9L976.9,808.2L966.9,817.6L960.1,822.5L953.9,826.2L939.8,832.5L930.8,835.3L921.7,837.4L903.6,840.1L878.7,841.3L844.7,840.4L842.5,840.6L839.7,842L844.1,853.3L847,853.3L849.3,855.5L856,855.5L858.3,857.8L865.1,857.8L867.4,860.1L874.1,860.1L876.4,862.3L880.9,862.3L883.2,864.6L890,864.6L892.2,866.8L899,866.8L901.3,869.1L910.3,869.1L912.6,871.3L919.4,871.3L921.7,873.6L928.4,873.6L930.7,875.8L939.8,875.8L942,878.1L948.8,878.1L951.1,880.3L960.1,880.3L962.4,882.6L969.2,882.6L971.4,884.9L980.5,884.9L982.7,887.1L991.8,887.1L994,889.4L1003.1,889.4L1005.4,891.6L1014.4,891.6L1016.7,893.9ZM252.9,258.1L254.3,258.7L254.9,258.1L255.7,255.8L255.9,253.6L255,219.8L255.4,206.3L256.5,192.7L259.4,174.7L263.9,158.9L270.1,144.9L273.9,138.6L278.8,131.9L288.2,121.9L305.6,107.1L308.8,102.5L311.7,100.3L311.7,98L309,89L304.1,89L301.8,86.8L292.7,86.8L290.5,84.5L283.7,84.5L281.4,82.3L272.4,82.3L270.1,80L263.3,80L261.1,77.7L252,77.7L249.8,75.5L240.7,75.5L238.5,73.2L229.4,73.2L227.1,71L218.1,71L215.8,68.7L204.5,68.7L202.3,66.5L200,66.5L200,68.7L202.3,71L202.3,82.3L204.5,84.5L204.5,93.5L206.8,95.8L206.8,104.8L209,107.1L209,116.1L211.3,118.3L211.3,127.3L213.6,129.6L213.6,136.4L215.8,138.6L215.8,147.6L218.1,149.9L218.1,156.7L220.4,158.9L220.4,167.9L222.6,170.2L222.6,176.9L224.9,179.2L224.9,186L227.1,188.2L227.1,197.2L229.4,199.5L229.4,206.3L231.7,208.5L231.7,215.3L233.9,217.5L233.9,222L236.2,224.3L236.2,231.1L238.5,233.3L238.5,240.1L240.7,242.3L240.7,249.1L243,251.3L243,254.2Z"/>
<path fill="#efff10" fill-rule="evenodd" d="M1028,893.9L1030.2,896.1L1032.5,896.1L1032.5,893.9L1030.2,891.6L1030.2,880.3L1028,878.1L1028,869.1L1025.7,866.8L1025.7,857.8L1023.5,855.5L1023.5,846.5L1021.2,844.3L1021.2,835.3L1018.9,833L1018.9,826.2L1016.7,824L1016.7,815L1014.4,812.7L1014.4,805.9L1012.1,803.7L1012.1,794.7L1010.9,793.4L1000.8,790.4L998.6,793.3L994,796.3L991.8,798.4L978.2,813.7L969.3,821.7L957.8,829.3L944.3,835.5L928.4,840.1L917.9,842L908.1,843.3L887.7,844.5L858.3,844.2L854.1,844.3L853.8,844.6L853.5,846.5L857.5,857L858.3,857.8L865.1,857.8L867.4,860.1L874.1,860.1L876.4,862.3L880.9,862.3L883.2,864.6L890,864.6L892.2,866.8L899,866.8L901.3,869.1L910.3,869.1L912.6,871.3L919.4,871.3L921.7,873.6L928.4,873.6L930.7,875.8L939.8,875.8L942,878.1L948.8,878.1L951.1,880.3L960.1,880.3L962.4,882.6L969.2,882.6L971.4,884.9L980.5,884.9L982.7,887.1L991.8,887.1L994,889.4L1003.1,889.4L1005.4,891.6L1014.4,891.6L1016.7,893.9ZM249.1,244.6L249.8,244.8L252,244.3L251.9,208.5L252.6,195L253.8,183.7L256.8,167.9L261.7,152.1L267.9,139.4L274.7,129.4L282.7,120.6L298,107.1L300.2,104.8L303.2,100.3L306.1,98L303.1,88L301.8,86.8L292.7,86.8L290.5,84.5L283.7,84.5L281.4,82.3L272.4,82.3L270.1,80L263.3,80L261.1,77.7L252,77.7L249.8,75.5L240.7,75.5L238.5,73.2L229.4,73.2L227.1,71L218.1,71L215.8,68.7L204.5,68.7L202.3,66.5L200,66.5L200,68.7L202.3,71L202.3,82.3L204.5,84.5L204.5,93.5L206.8,95.8L206.8,104.8L209,107.1L209,116.1L211.3,118.3L211.3,127.3L213.6,129.6L213.6,136.4L215.8,138.6L215.8,147.6L218.1,149.9L218.1,156.7L220.4,158.9L220.4,167.9L222.6,170.2L222.6,176.9L224.9,179.2L224.9,186L227.1,188.2L227.1,197.2L229.4,199.5L229.4,206.3L231.7,208.5L231.7,215.3L233.9,217.5L233.9,222L236.2,224.3L236.2,231.1L238.5,233.3L238.5,240.1L239.3,240.9Z"/>
<path fill="#ffff00" fill-rule="evenodd" d="M1028,893.9L1030.2,896.1L1032.5,896.1L1032.5,893.9L1030.2,891.6L1030.2,880.3L1028,878.1L1028,869.1L1025.7,866.8L1025.7,857.8L1023.5,855.5L1023.5,846.5L1021.2,844.3L1021.2,835.3L1018.9,833L1018.9,826.2L1016.7,824L1016.7,815L1014.4,812.7L1014.4,805.9L1012.1,803.7L1012.1,799.1L1003.1,796.5L994,803.4L980.5,818L971.4,825.9L960.5,833L948.8,838.3L935.2,842.5L917.1,845.8L899,847.3L869.6,847.8L865.9,848.8L870,860.1L874.1,860.1L876.4,862.3L880.9,862.3L883.2,864.6L890,864.6L892.2,866.8L899,866.8L901.3,869.1L910.3,869.1L912.6,871.3L919.4,871.3L921.7,873.6L928.4,873.6L930.7,875.8L939.8,875.8L942,878.1L948.8,878.1L951.1,880.3L960.1,880.3L962.4,882.6L969.2,882.6L971.4,884.9L980.5,884.9L982.7,887.1L991.8,887.1L994,889.4L1003.1,889.4L1005.4,891.6L1014.4,891.6L1016.7,893.9ZM243.6,231.1L247.5,232.5L248.1,231.1L248.5,226.5L249,199.5L250.5,181.5L253.8,163.4L258.9,147.6L264.4,136.4L270.4,127.3L278.4,118.3L293.1,104.8L299.9,95.8L297.3,86.8L292.7,86.8L290.5,84.5L283.7,84.5L281.4,82.3L272.4,82.3L270.1,80L263.3,80L261.1,77.7L252,77.7L249.8,75.5L240.7,75.5L238.5,73.2L229.4,73.2L227.1,71L218.1,71L215.8,68.7L204.5,68.7L202.3,66.5L200,66.5L200,68.7L202.3,71L202.3,82.3L204.5,84.5L204.5,93.5L206.8,95.8L206.8,104.8L209,107.1L209,116.1L211.3,118.3L211.3,127.3L213.6,129.6L213.6,136.4L215.8,138.6L215.8,147.6L218.1,149.9L218.1,156.7L220.4,158.9L220.4,167.9L222.6,170.2L222.6,176.9L224.9,179.2L224.9,186L227.1,188.2L227.1,197.2L229.4,199.5L229.4,206.3L231.7,208.5L231.7,215.3L233.9,217.5L233.9,222L236.2,224.3L236.2,228.4Z"/>
<path fill="#ffef00" fill-rule="evenodd" d="M1028,893.9L1030.2,896.1L1032.5,896.1L1032.5,893.9L1030.2,891.6L1030.2,880.3L1028,878.1L1028,869.1L1025.7,866.8L1025.7,857.8L1023.5,855.5L1023.5,846.5L1021.2,844.3L1021.2,835.3L1018.9,833L1018.9,826.2L1016.7,824L1016.7,815L1014.4,812.7L1014.4,805.9L1013,804.6L1005.4,802.4L1003.1,801.9L1000.8,805L996.2,808.2L982.7,822.1L973.7,829.8L964.6,835.7L953.3,841L939.8,845.3L926.2,848.1L908.1,850L880.8,851L878.7,853L882.2,863.5L883.2,864.6L890,864.6L892.2,866.8L899,866.8L901.3,869.1L910.3,869.1L912.6,871.3L919.4,871.3L921.7,873.6L928.4,873.6L930.7,875.8L939.8,875.8L942,878.1L948.8,878.1L951.1,880.3L960.1,880.3L962.4,882.6L969.2,882.6L971.4,884.9L980.5,884.9L982.7,887.1L991.8,887.1L994,889.4L1003.1,889.4L1005.4,891.6L1014.4,891.6L1016.7,893.9ZM242.8,219.8L243.3,219.8L245.2,217.6L246.2,190.5L248.6,170.2L251.5,156.7L255.3,145.4L260.6,134.1L266.5,125.1L274.3,116.1L288.2,102.6L291.4,98L294.5,95.8L294,93.5L291.9,85.9L290.5,84.5L283.7,84.5L281.4,82.3L272.4,82.3L270.1,80L263.3,80L261.1,77.7L252,77.7L249.8,75.5L240.7,75.5L238.5,73.2L229.4,73.2L227.1,71L218.1,71L215.8,68.7L204.5,68.7L202.3,66.5L200,66.5L200,68.7L202.3,71L202.3,82.3L204.5,84.5L204.5,93.5L206.8,95.8L206.8,104.8L209,107.1L209,116.1L211.3,118.3L211.3,127.3L213.6,129.6L213.6,136.4L215.8,138.6L215.8,147.6L218.1,149.9L218.1,156.7L220.4,158.9L220.4,167.9L222.6,170.2L222.6,176.9L224.9,179.2L224.9,186L227.1,188.2L227.1,197.2L229.4,199.5L229.4,206.3L231.7,208.5L231.7,215.3L232.7,216.3Z"/>
<path fill="#ffdf00" fill-rule="evenodd" d="M1028,893.9L1030.2,896.1L1032.5,896.1L1032.5,893.9L1030.2,891.6L1030.2,880.3L1028,878.1L1028,869.1L1025.7,866.8L1025.7,857.8L1023.5,855.5L1023.5,846.5L1021.2,844.3L1021.2,835.3L1018.9,833L1018.9,826.2L1016.7,824L1016.7,815L1014.4,812.7L1014.4,810L1005.4,807.4L996.3,814.6L984.7,826.2L976.7,833L966.9,839.3L955.6,844.5L944.3,848.1L930.7,850.9L914.9,852.8L894.5,854L892.2,854.3L889.9,855.5L893.7,866.8L899,866.8L901.3,869.1L910.3,869.1L912.6,871.3L919.4,871.3L921.7,873.6L928.4,873.6L930.7,875.8L939.8,875.8L942,878.1L948.8,878.1L951.1,880.3L960.1,880.3L962.4,882.6L969.2,882.6L971.4,884.9L980.5,884.9L982.7,887.1L991.8,887.1L994,889.4L1003.1,889.4L1005.4,891.6L1014.4,891.6L1016.7,893.9ZM240.4,208.5L240.8,208.5L241.9,206.3L242.3,204L243.7,181.5L245.8,165.7L248.2,154.4L251.8,143.1L257,131.9L263.3,122.1L270.1,114.1L281.8,102.5L289,93.5L286.5,84.5L283.7,84.5L281.4,82.3L272.4,82.3L270.1,80L263.3,80L261.1,77.7L252,77.7L249.8,75.5L240.7,75.5L238.5,73.2L229.4,73.2L227.1,71L218.1,71L215.8,68.7L204.5,68.7L202.3,66.5L200,66.5L200,68.7L202.3,71L202.3,82.3L204.5,84.5L204.5,93.5L206.8,95.8L206.8,104.8L209,107.1L209,116.1L211.3,118.3L211.3,127.3L213.6,129.6L213.6,136.4L215.8,138.6L215.8,147.6L218.1,149.9L218.1,156.7L220.4,158.9L220.4,167.9L222.6,170.2L222.6,176.9L224.9,179.2L224.9,186L227.1,188.2L227.1,197.2L229.4,199.5L229.4,204.8Z"/>
<path fill="#ffcf00" fill-rule="evenodd" d="M1028,893.9L1030.2,896.1L1032.5,896.1L1032.5,893.9L1030.2,891.6L1030.2,880.3L1028,878.1L1028,869.1L1025.7,866.8L1025.7,857.8L1023.5,855.5L1023.5,846.5L1021.2,844.3L1021.2,835.3L1018.9,833L1018.9,826.2L1016.7,824L1016.7,815.4L1005.4,812.7L1003.1,815.7L998.6,818.8L986,830.7L978.2,837.1L969.2,842.7L957.8,847.8L947.4,851L937,853.3L923.9,855.1L903.6,856.9L900.6,857.8L904.3,869.1L910.3,869.1L912.6,871.3L919.4,871.3L921.7,873.6L928.4,873.6L930.7,875.8L939.8,875.8L942,878.1L948.8,878.1L951.1,880.3L960.1,880.3L962.4,882.6L969.2,882.6L971.4,884.9L980.5,884.9L982.7,887.1L991.8,887.1L994,889.4L1003.1,889.4L1005.4,891.6L1014.4,891.6L1016.7,893.9ZM236.3,197.2L238.5,197.9L239.4,195L241.2,174.7L243,161.7L245.6,149.9L249.4,138.6L254.3,128.3L260.9,118.3L266.7,111.6L277.6,100.3L280.7,95.8L283.8,93.5L281,82.3L272.4,82.3L270.1,80L263.3,80L261.1,77.7L252,77.7L249.8,75.5L240.7,75.5L238.5,73.2L229.4,73.2L227.1,71L218.1,71L215.8,68.7L204.5,68.7L202.3,66.5L200,66.5L200,68.7L202.3,71L202.3,82.3L204.5,84.5L204.5,93.5L206.8,95.8L206.8,104.8L209,107.1L209,116.1L211.3,118.3L211.3,127.3L213.6,129.6L213.6,136.4L215.8,138.6L215.8,147.6L218.1,149.9L218.1,156.7L220.4,158.9L220.4,167.9L222.6,170.2L222.6,176.9L224.9,179.2L224.9,186L227.1,188.2L227.1,194.3Z"/>
<path fill="#ffbf00" fill-rule="evenodd" d="M1028,893.9L1030.2,896.1L1032.5,896.1L1032.5,893.9L1030.2,891.6L1030.2,880.3L1028,878.1L1028,869.1L1025.7,866.8L1025.7,857.8L1023.5,855.5L1023.5,846.5L1021.2,844.3L1021.2,835.3L1018.9,833L1018.9,826.2L1016.7,824L1016.7,820L1007.6,817.6L1005.4,819.8L998.6,824.7L987.3,835.2L981.5,839.8L971.4,846L962.4,850.1L953.3,853.1L943.1,855.5L911,860.1L914.3,871.3L919.4,871.3L921.7,873.6L928.4,873.6L930.7,875.8L939.8,875.8L942,878.1L948.8,878.1L951.1,880.3L960.1,880.3L962.4,882.6L969.2,882.6L971.4,884.9L980.5,884.9L982.7,887.1L991.8,887.1L994,889.4L1003.1,889.4L1005.4,891.6L1014.4,891.6L1016.7,893.9ZM230.4,186L236.2,187.6L237,183.7L239.4,163.4L241.4,152.1L245.2,138.9L249.8,128.4L254.3,120.6L258.8,114.4L271.6,100.3L276.5,93.5L278.8,91.3L276.3,82.3L272.4,82.3L270.1,80L263.3,80L261.1,77.7L252,77.7L249.8,75.5L240.7,75.5L238.5,73.2L229.4,73.2L227.1,71L218.1,71L215.8,68.7L204.5,68.7L202.3,66.5L200,66.5L200,68.7L202.3,71L202.3,82.3L204.5,84.5L204.5,93.5L206.8,95.8L206.8,104.8L209,107.1L209,116.1L211.3,118.3L211.3,127.3L213.6,129.6L213.6,136.4L215.8,138.6L215.8,147.6L218.1,149.9L218.1,156.7L220.4,158.9L220.4,167.9L222.6,170.2L222.6,176.9L224.9,179.2L224.9,184.3Z"/>
<path fill="#ffaf00" fill-rule="evenodd" d="M1028,893.9L1030.2,896.1L1032.5,896.1L1032.5,893.9L1030.2,891.6L1030.2,880.3L1028,878.1L1028,869.1L1025.7,866.8L1025.7,857.8L1023.5,855.5L1023.5,846.5L1021.2,844.3L1021.2,835.3L1018.9,833L1018.9,826.2L1017.4,824.7L1007.6,822.5L1005.4,825.4L1000.8,828.5L989.5,838.5L982.7,843.7L974.4,848.8L964.6,853.2L957.5,855.5L948.6,857.8L920.8,862.3L921.1,864.6L923.9,873.6L928.4,873.6L930.7,875.8L939.8,875.8L942,878.1L948.8,878.1L951.1,880.3L960.1,880.3L962.4,882.6L969.2,882.6L971.4,884.9L980.5,884.9L982.7,887.1L991.8,887.1L994,889.4L1003.1,889.4L1005.4,891.6L1014.4,891.6L1016.7,893.9ZM229.9,176.9L233.9,177.7L237.2,156.7L239.6,145.4L243,134.5L247.1,125.1L251.1,118.3L256,111.6L267.9,98L270.9,93.5L273.9,91.3L271.7,81.5L270.1,80L263.3,80L261.1,77.7L252,77.7L249.8,75.5L240.7,75.5L238.5,73.2L229.4,73.2L227.1,71L218.1,71L215.8,68.7L204.5,68.7L202.3,66.5L200,66.5L200,68.7L202.3,71L202.3,82.3L204.5,84.5L204.5,93.5L206.8,95.8L206.8,104.8L209,107.1L209,116.1L211.3,118.3L211.3,127.3L213.6,129.6L213.6,136.4L215.8,138.6L215.8,147.6L218.1,149.9L218.1,156.7L220.4,158.9L220.4,167.9L222.6,170.2L222.6,174.8Z"/>
<path fill="#ff9f00" fill-rule="evenodd" d="M1028,893.9L1030.2,896.1L1032.5,896.1L1032.5,893.9L1030.2,891.6L1030.2,880.3L1028,878.1L1028,869.1L1025.7,866.8L1025.7,857.8L1023.5,855.5L1023.5,846.5L1021.2,844.3L1021.2,835.3L1018.9,833L1018.9,829.4L1009.9,827.1L1000.8,833.9L985.4,846.5L978.1,851L969.2,855.2L961.9,857.8L953.4,860.1L929.9,864.6L932.9,875.8L939.8,875.8L942,878.1L948.8,878.1L951.1,880.3L960.1,880.3L962.4,882.6L969.2,882.6L971.4,884.9L980.5,884.9L982.7,887.1L991.8,887.1L994,889.4L1003.1,889.4L1005.4,891.6L1014.4,891.6L1016.7,893.9ZM227.8,167.9L231.7,168.8L232,167.9L235.2,149.9L237.9,138.6L241,129.6L245.2,120.7L252,110.3L262.5,98L269.3,89L266.9,80L263.3,80L261.1,77.7L252,77.7L249.8,75.5L240.7,75.5L238.5,73.2L229.4,73.2L227.1,71L218.1,71L215.8,68.7L204.5,68.7L202.3,66.5L200,66.5L200,68.7L202.3,71L202.3,82.3L204.5,84.5L204.5,93.5L206.8,95.8L206.8,104.8L209,107.1L209,116.1L211.3,118.3L211.3,127.3L213.6,129.6L213.6,136.4L215.8,138.6L215.8,147.6L218.1,149.9L218.1,156.7L220.4,158.9L220.4,165.8Z"/>
<path fill="#ff8f00" fill-rule="evenodd" d="M1028,893.9L1030.2,896.1L1032.5,896.1L1032.5,893.9L1030.2,891.6L1030.2,880.3L1028,878.1L1028,869.1L1025.7,866.8L1025.7,857.8L1023.5,855.5L1023.5,846.5L1021.2,844.3L1021.2,835.3L1019.7,833.8L1009.9,831.4L1007.6,834.3L1003.1,837.2L991.7,846.5L985,851.2L978.2,855L971.4,858L964.6,860.4L955.6,862.8L942,865.5L938.3,866.8L941.1,877.2L942,878.1L948.8,878.1L951.1,880.3L960.1,880.3L962.4,882.6L969.2,882.6L971.4,884.9L980.5,884.9L982.7,887.1L991.8,887.1L994,889.4L1003.1,889.4L1005.4,891.6L1014.4,891.6L1016.7,893.9ZM223.8,158.9L229.4,160.4L230.7,156.7L233.4,143.1L235.8,134.1L238.2,127.3L241.2,120.6L245.1,113.8L249.8,107.1L259.1,95.8L262.1,91.3L264.9,89L262.6,79.2L261.1,77.7L252,77.7L249.8,75.5L240.7,75.5L238.5,73.2L229.4,73.2L227.1,71L218.1,71L215.8,68.7L204.5,68.7L202.3,66.5L200,66.5L200,68.7L202.3,71L202.3,82.3L204.5,84.5L204.5,93.5L206.8,95.8L206.8,104.8L209,107.1L209,116.1L211.3,118.3L211.3,127.3L213.6,129.6L213.6,136.4L215.8,138.6L215.8,147.6L218.1,149.9L218.1,156.7L219,157.6Z"/>
<path fill="#ff8000" fill-rule="evenodd" d="M1028,893.9L1030.2,896.1L1032.5,896.1L1032.5,893.9L1030.2,891.6L1030.2,880.3L1028,878.1L1028,869.1L1025.7,866.8L1025.7,857.8L1023.5,855.5L1023.5,846.5L1021.2,844.3L1021.2,838.1L1012.1,835.9L1003.1,842.1L991.7,851L980.5,857.8L969.2,862.4L948.8,867.6L946.2,869.1L948.7,878.1L951.1,880.3L960.1,880.3L962.4,882.6L969.2,882.6L971.4,884.9L980.5,884.9L982.7,887.1L991.8,887.1L994,889.4L1003.1,889.4L1005.4,891.6L1014.4,891.6L1016.7,893.9ZM226.1,152.1L227.1,152.4L228.6,149.9L233.9,129.6L236.4,122.8L239.6,116.1L245.2,107.1L254.2,95.8L260.4,86.8L258.2,77.7L252,77.7L249.8,75.5L240.7,75.5L238.5,73.2L229.4,73.2L227.1,71L218.1,71L215.8,68.7L204.5,68.7L202.3,66.5L200,66.5L200,68.7L202.3,71L202.3,82.3L204.5,84.5L204.5,93.5L206.8,95.8L206.8,104.8L209,107.1L209,116.1L211.3,118.3L211.3,127.3L213.6,129.6L213.6,136.4L215.8,138.6L215.8,147.6L218.1,149.9Z"/>
<path fill="#ff7000" fill-rule="evenodd" d="M1028,893.9L1030.2,896.1L1032.5,896.1L1032.5,893.9L1030.2,891.6L1030.2,880.3L1028,878.1L1028,869.1L1025.7,866.8L1025.7,857.8L1023.5,855.5L1023.5,846.5L1021.2,844.3L1021.2,842L1012.1,839.8L1009.9,842.3L1005.4,845.2L994.6,853.3L985,859.3L972.6,864.6L956.3,869.1L953.9,871.3L956.3,880.3L960.1,880.3L962.4,882.6L969.2,882.6L971.4,884.9L980.5,884.9L982.7,887.1L991.8,887.1L994,889.4L1003.1,889.4L1005.4,891.6L1014.4,891.6L1016.7,893.9ZM218.5,143.1L224.9,144.8L226.7,143.1L232,125.1L237,113.8L243,104.3L251.1,93.5L254,89L256.5,86.8L254.3,77.7L252,77.7L249.8,75.5L240.7,75.5L238.5,73.2L229.4,73.2L227.1,71L218.1,71L215.8,68.7L204.5,68.7L202.3,66.5L200,66.5L200,68.7L202.3,71L202.3,82.3L204.5,84.5L204.5,93.5L206.8,95.8L206.8,104.8L209,107.1L209,116.1L211.3,118.3L211.3,127.3L213.6,129.6L213.6,136.4L215.8,138.6L215.8,142.4Z"/>
<path fill="#ff6000" fill-rule="evenodd" d="M1028,893.9L1030.2,896.1L1032.5,896.1L1032.5,893.9L1030.2,891.6L1030.2,880.3L1028,878.1L1028,869.1L1025.7,866.8L1025.7,857.8L1023.5,855.5L1023.5,846.5L1023,846.1L1014.4,844.1L1012.1,844.5L1009.9,846.8L996.3,856.2L987.3,861.8L975.9,866.7L961.3,871.3L961,873.6L963.4,882.6L969.2,882.6L971.4,884.9L980.5,884.9L982.7,887.1L991.8,887.1L994,889.4L1003.1,889.4L1005.4,891.6L1014.4,891.6L1016.7,893.9ZM217.4,136.4L222.6,137.7L224.9,137.4L229.5,122.8L234.5,111.6L240,102.5L249.5,89L251.8,86.8L252.3,84.5L250.2,75.9L249.8,75.5L240.7,75.5L238.5,73.2L229.4,73.2L227.1,71L218.1,71L215.8,68.7L204.5,68.7L202.3,66.5L200,66.5L200,68.7L202.3,71L202.3,82.3L204.5,84.5L204.5,93.5L206.8,95.8L206.8,104.8L209,107.1L209,116.1L211.3,118.3L211.3,127.3L213.6,129.6L213.6,135.4Z"/>
<path fill="#ff5000" fill-rule="evenodd" d="M1028,893.9L1030.2,896.1L1032.5,896.1L1032.5,893.9L1030.2,891.6L1030.2,880.3L1028,878.1L1028,869.1L1025.7,866.8L1025.7,857.8L1023.5,855.5L1023.5,849.8L1014.4,847.6L991.8,862.9L984,866.8L971.4,871.3L967.2,873.6L969.5,883L971.4,884.9L980.5,884.9L982.7,887.1L991.8,887.1L994,889.4L1003.1,889.4L1005.4,891.6L1014.4,891.6L1016.7,893.9ZM214.6,129.6L222.6,131.6L224.9,127.3L229.4,114.8L233.3,107.1L248.7,84.5L246.5,75.5L240.7,75.5L238.5,73.2L229.4,73.2L227.1,71L218.1,71L215.8,68.7L204.5,68.7L202.3,66.5L200,66.5L200,68.7L202.3,71L202.3,82.3L204.5,84.5L204.5,93.5L206.8,95.8L206.8,104.8L209,107.1L209,116.1L211.3,118.3L211.3,127.3L213.2,129.2Z"/>
<path fill="#ff4000" fill-rule="evenodd" d="M1028,893.9L1030.2,896.1L1032.5,896.1L1032.5,893.9L1030.2,891.6L1030.2,880.3L1028,878.1L1028,869.1L1025.7,866.8L1025.7,857.8L1023.5,855.5L1023.5,853.2L1014.4,851.1L1012.1,853.6L996.3,863.9L987.3,868.7L974.7,873.6L973.4,875.8L975.7,884.9L980.5,884.9L982.7,887.1L991.8,887.1L994,889.4L1003.1,889.4L1005.4,891.6L1014.4,891.6L1016.7,893.9ZM219.3,125.1L220.4,125.4L222.6,124L227.1,112.5L231,104.8L242.6,86.8L245.2,84.5L243.1,75.5L240.7,75.5L238.5,73.2L229.4,73.2L227.1,71L218.1,71L215.8,68.7L204.5,68.7L202.3,66.5L200,66.5L200,68.7L202.3,71L202.3,82.3L204.5,84.5L204.5,93.5L206.8,95.8L206.8,104.8L209,107.1L209,116.1L211.3,118.3L211.3,123.1Z"/>
<path fill="#ff3000" fill-rule="evenodd" d="M1028,893.9L1030.2,896.1L1032.5,896.1L1032.5,893.9L1030.2,891.6L1030.2,880.3L1028,878.1L1028,869.1L1025.7,866.8L1025.7,857.8L1024.7,856.7L1016.7,854.9L1014.4,855.5L1012.1,857.5L997.4,866.8L978.9,875.8L981.1,885.5L982.7,887.1L991.8,887.1L994,889.4L1003.1,889.4L1005.4,891.6L1014.4,891.6L1016.7,893.9ZM213.3,118.3L220.4,119.9L221.4,118.3L229.4,101.5L238.7,86.8L240.7,84.5L241.3,82.3L239.5,74.3L238.5,73.2L229.4,73.2L227.1,71L218.1,71L215.8,68.7L204.5,68.7L202.3,66.5L200,66.5L200,68.7L202.3,71L202.3,82.3L204.5,84.5L204.5,93.5L206.8,95.8L206.8,104.8L209,107.1L209,116.1L210.7,117.7Z"/>
<path fill="#ff2000" fill-rule="evenodd" d="M1028,893.9L1030.2,896.1L1032.5,896.1L1032.5,893.9L1030.2,891.6L1030.2,880.3L1028,878.1L1028,869.1L1025.7,866.8L1025.7,860.1L1016.7,858.1L999.3,869.1L985.6,875.8L984.3,878.1L986.4,887.1L991.8,887.1L994,889.4L1003.1,889.4L1005.4,891.6L1014.4,891.6L1016.7,893.9ZM215.1,113.8L218.1,114.5L220.4,113.3L227.1,99.6L238.2,82.3L236.1,73.2L229.4,73.2L227.1,71L218.1,71L215.8,68.7L204.5,68.7L202.3,66.5L200,66.5L200,68.7L202.3,71L202.3,82.3L204.5,84.5L204.5,93.5L206.8,95.8L206.8,104.8L209,107.1L209,112.4Z"/>
<path fill="#ff1000" fill-rule="evenodd" d="M1028,893.9L1030.2,896.1L1032.5,896.1L1032.5,893.9L1030.2,891.6L1030.2,880.3L1028,878.1L1028,869.1L1025.7,866.8L1025.7,863.2L1016.7,861.1L1014.4,863.4L1001.1,871.3L992.3,875.8L989,878.1L991,887.1L991.8,887.1L994,889.4L1003.1,889.4L1005.4,891.6L1014.4,891.6L1016.7,893.9ZM215.6,109.3L218.1,109.8L218.6,109.3L232.8,84.5L235.1,82.3L233.1,73.2L229.4,73.2L227.1,71L218.1,71L215.8,68.7L204.5,68.7L202.3,66.5L200,66.5L200,68.7L202.3,71L202.3,82.3L204.5,84.5L204.5,93.5L206.8,95.8L206.8,104.8L209,107.1L209,107.8Z"/>
<path fill="#ff0000" fill-rule="evenodd" d="M1028,893.9L1030.2,896.1L1032.5,896.1L1032.5,893.9L1030.2,891.6L1030.2,880.3L1028,878.1L1028,869.1L1025.7,866.8L1025.7,866.1L1018.9,864.6L1016.7,864.6L1014.4,866.8L994.5,878.1L993.8,880.3L995.9,889.4L1003.1,889.4L1005.4,891.6L1014.4,891.6L1016.7,893.9ZM214.8,104.8L215.8,105L218.1,104.4L229.4,84.5L231.7,82.3L231.7,80L230.2,73.2L229.4,73.2L227.1,71L218.1,71L215.8,68.7L204.5,68.7L202.3,66.5L200,66.5L200,68.7L202.3,71L202.3,82.3L204.5,84.5L204.5,93.5L206.8,95.8L206.8,103Z"/>
<path fill="#ef0000" fill-rule="evenodd" d="M1028,893.9L1030.2,896.1L1032.5,896.1L1032.5,893.9L1030.2,891.6L1030.2,880.3L1028,878.1L1028,869.3L1018.9,867.4L1000.1,878.1L997.9,880.3L999.9,889.4L1003.1,889.4L1005.4,891.6L1014.4,891.6L1016.7,893.9ZM212.8,100.3L215.8,101L218.1,98.8L227.8,82.3L228.9,80L226.9,71L218.1,71L215.8,68.7L204.5,68.7L202.3,66.5L200,66.5L200,68.7L202.3,71L202.3,82.3L204.5,84.5L204.5,93.5L206.8,95.8L206.8,99Z"/>
<path fill="#df0000" fill-rule="evenodd" d="M1028,893.9L1030.2,896.1L1032.5,896.1L1032.5,893.9L1030.2,891.6L1030.2,880.3L1028,878.1L1028,872L1018.9,870L1002.2,880.3L1002.2,882.6L1003.9,890.1L1005.4,891.6L1014.4,891.6L1016.7,893.9ZM209.6,95.8L215.8,96.7L226.2,80L224.2,71L218.1,71L215.8,68.7L204.5,68.7L202.3,66.5L200,66.5L200,68.7L202.3,71L202.3,82.3L204.5,84.5L204.5,93.5L206,95Z"/>
<path fill="#fff" fill-rule="evenodd" d="M177.1,45.2H1054.8V920H177.1ZM211.46,77.9L211.51,77.91L211.66,77.93L211.91,77.98L212.26,78.05L212.71,78.14L213.25,78.25L213.9,78.38L214.65,78.53L215.5,78.7L216.44,78.89L217.49,79.1L218.63,79.33L219.87,79.58L221.21,79.86L222.64,80.15L224.18,80.46L225.81,80.79L227.53,81.15L229.35,81.52L231.27,81.92L233.28,82.34L235.39,82.78L237.59,83.24L239.88,83.72L242.27,84.23L244.75,84.75L247.32,85.3L249.98,85.87L252.74,86.47L255.58,87.09L258.51,87.73L261.53,88.39L264.64,89.08L267.83,89.79L271.11,90.52L274.47,91.28L277.92,92.07L281.45,92.88L285.07,93.71L288.77,94.57L292.54,95.46L296.4,96.37L300.34,97.31L304.35,98.27L308.44,99.27L312.61,100.29L316.85,101.34L321.17,102.41L325.56,103.52L330.02,104.65L334.55,105.82L339.15,107.01L343.82,108.24L348.56,109.49L353.36,110.78L358.23,112.1L363.16,113.45L368.15,114.84L373.2,116.25L378.32,117.71L383.49,119.19L388.72,120.72L394.01,122.27L399.35,123.87L404.75,125.5L410.19,127.17L415.69,128.88L421.24,130.62L426.84,132.41L432.48,134.24L438.17,136.11L443.9,138.02L449.67,139.97L455.49,141.97L461.34,144.01L467.24,146.1L473.17,148.23L479.13,150.41L485.13,152.64L491.16,154.91L497.22,157.24L503.32,159.62L509.44,162.05L515.58,164.53L521.75,167.06L527.95,169.65L534.16,172.3L540.4,175L546.65,177.76L552.93,180.58L559.21,183.46L565.52,186.41L571.83,189.41L578.16,192.48L584.49,195.62L590.83,198.82L597.18,202.09L603.54,205.43L609.89,208.84L616.25,212.32L622.61,215.88L628.96,219.51L635.32,223.22L641.67,227.01L648.01,230.87L654.34,234.82L660.67,238.85L666.98,242.97L673.29,247.17L679.57,251.46L685.85,255.83L692.1,260.3L698.34,264.86L704.55,269.52L710.75,274.27L716.92,279.12L723.06,284.07L729.18,289.12L735.28,294.27L741.34,299.53L747.37,304.89L753.37,310.36L759.33,315.95L765.26,321.64L771.16,327.44L777.01,333.36L782.83,339.39L788.6,345.54L794.33,351.81L800.02,358.2L805.66,364.71L811.26,371.35L816.81,378.1L822.31,384.98L827.75,391.99L833.15,399.12L838.49,406.37L843.78,413.76L849.01,421.27L854.18,428.9L859.3,436.67L864.35,444.56L869.34,452.57L874.27,460.71L879.14,468.98L883.94,477.36L888.68,485.87L893.35,494.5L897.95,503.24L902.48,512.09L906.94,521.05L911.33,530.12L915.65,539.3L919.89,548.56L924.06,557.92L928.15,567.37L932.16,576.9L936.1,586.5L939.96,596.17L943.73,605.89L947.43,615.67L951.05,625.49L954.58,635.33L958.03,645.2L961.39,655.08L964.67,664.95L967.86,674.81L970.97,684.64L973.99,694.43L976.92,704.16L979.76,713.82L982.52,723.39L985.18,732.86L987.75,742.21L990.23,751.41L992.62,760.47L994.91,769.35L997.11,778.04L999.22,786.51L1001.23,794.76L1003.15,802.76L1004.97,810.48L1006.69,817.93L1008.32,825.06L1009.86,831.88L1011.29,838.35L1012.63,844.46L1013.87,850.19L1015.01,855.53L1016.06,860.46L1017,864.97L1017.85,869.04L1018.6,872.67L1019.25,875.83L1019.79,878.52L1020.24,880.74L1020.59,882.47L1020.84,883.71L1020.99,884.46L1021.04,884.7L1020.99,884.69L1020.84,884.67L1020.59,884.62L1020.24,884.55L1019.79,884.46L1019.25,884.35L1018.6,884.22L1017.85,884.07L1017,883.9L1016.06,883.71L1015.01,883.5L1013.87,883.27L1012.63,883.02L1011.29,882.74L1009.86,882.45L1008.32,882.14L1006.69,881.81L1004.97,881.45L1003.15,881.08L1001.23,880.68L999.22,880.26L997.11,879.82L994.91,879.36L992.62,878.88L990.23,878.37L987.75,877.85L985.18,877.3L982.52,876.73L979.76,876.13L976.92,875.51L973.99,874.87L970.97,874.21L967.86,873.52L964.67,872.81L961.39,872.08L958.03,871.32L954.58,870.53L951.05,869.72L947.43,868.89L943.73,868.03L939.96,867.14L936.1,866.23L932.16,865.29L928.15,864.33L924.06,863.33L919.89,862.31L915.65,861.26L911.33,860.19L906.94,859.08L902.48,857.95L897.95,856.78L893.35,855.59L888.68,854.36L883.94,853.11L879.14,851.82L874.27,850.5L869.34,849.15L864.35,847.76L859.3,846.35L854.18,844.89L849.01,843.41L843.78,841.88L838.49,840.33L833.15,838.73L827.75,837.1L822.31,835.43L816.81,833.72L811.26,831.98L805.66,830.19L800.02,828.36L794.33,826.49L788.6,824.58L782.83,822.63L777.01,820.63L771.16,818.59L765.26,816.5L759.33,814.37L753.37,812.19L747.37,809.96L741.34,807.69L735.28,805.36L729.18,802.98L723.06,800.55L716.92,798.07L710.75,795.54L704.55,792.95L698.34,790.3L692.1,787.6L685.85,784.84L679.57,782.02L673.29,779.14L666.98,776.19L660.67,773.19L654.34,770.12L648.01,766.98L641.67,763.78L635.32,760.51L628.96,757.17L622.61,753.76L616.25,750.28L609.89,746.72L603.54,743.09L597.18,739.38L590.83,735.59L584.49,731.73L578.16,727.78L571.83,723.75L565.52,719.63L559.21,715.43L552.93,711.14L546.65,706.77L540.4,702.3L534.16,697.74L527.95,693.08L521.75,688.33L515.58,683.48L509.44,678.53L503.32,673.48L497.22,668.33L491.16,663.07L485.13,657.71L479.13,652.24L473.17,646.65L467.24,640.96L461.34,635.16L455.49,629.24L449.67,623.21L443.9,617.06L438.17,610.79L432.48,604.4L426.84,597.89L421.24,591.25L415.69,584.5L410.19,577.62L404.75,570.61L399.35,563.48L394.01,556.23L388.72,548.84L383.49,541.33L378.32,533.7L373.2,525.93L368.15,518.04L363.16,510.03L358.23,501.89L353.36,493.62L348.56,485.24L343.82,476.73L339.15,468.1L334.55,459.36L330.02,450.51L325.56,441.55L321.17,432.48L316.85,423.3L312.61,414.04L308.44,404.68L304.35,395.23L300.34,385.7L296.4,376.1L292.54,366.43L288.77,356.71L285.07,346.93L281.45,337.11L277.92,327.27L274.47,317.4L271.11,307.52L267.83,297.65L264.64,287.79L261.53,277.96L258.51,268.17L255.58,258.44L252.74,248.78L249.98,239.21L247.32,229.74L244.75,220.39L242.27,211.19L239.88,202.13L237.59,193.25L235.39,184.56L233.28,176.09L231.27,167.84L229.35,159.84L227.53,152.12L225.81,144.67L224.18,137.54L222.64,130.72L221.21,124.25L219.87,118.14L218.63,112.41L217.49,107.07L216.44,102.14L215.5,97.63L214.65,93.56L213.9,89.93L213.25,86.77L212.71,84.08L212.26,81.86L211.91,80.13L211.66,78.89L211.51,78.14Z"/>
<path fill="none" stroke="#200000" stroke-opacity="0.4" stroke-width="0.9" d="M211.46,77.9L211.51,77.91L211.66,77.93L211.91,77.98L212.26,78.05L212.71,78.14L213.25,78.25L213.9,78.38L214.65,78.53L215.5,78.7L216.44,78.89L217.49,79.1L218.63,79.33L219.87,79.58L221.21,79.86L222.64,80.15L224.18,80.46L225.81,80.79L227.53,81.15L229.35,81.52L231.27,81.92L233.28,82.34L235.39,82.78L237.59,83.24L239.88,83.72L242.27,84.23L244.75,84.75L247.32,85.3L249.98,85.87L252.74,86.47L255.58,87.09L258.51,87.73L261.53,88.39L264.64,89.08L267.83,89.79L271.11,90.52L274.47,91.28L277.92,92.07L281.45,92.88L285.07,93.71L288.77,94.57L292.54,95.46L296.4,96.37L300.34,97.31L304.35,98.27L308.44,99.27L312.61,100.29L316.85,101.34L321.17,102.41L325.56,103.52L330.02,104.65L334.55,105.82L339.15,107.01L343.82,108.24L348.56,109.49L353.36,110.78L358.23,112.1L363.16,113.45L368.15,114.84L373.2,116.25L378.32,117.71L383.49,119.19L388.72,120.72L394.01,122.27L399.35,123.87L404.75,125.5L410.19,127.17L415.69,128.88L421.24,130.62L426.84,132.41L432.48,134.24L438.17,136.11L443.9,138.02L449.67,139.97L455.49,141.97L461.34,144.01L467.24,146.1L473.17,148.23L479.13,150.41L485.13,152.64L491.16,154.91L497.22,157.24L503.32,159.62L509.44,162.05L515.58,164.53L521.75,167.06L527.95,169.65L534.16,172.3L540.4,175L546.65,177.76L552.93,180.58L559.21,183.46L565.52,186.41L571.83,189.41L578.16,192.48L584.49,195.62L590.83,198.82L597.18,202.09L603.54,205.43L609.89,208.84L616.25,212.32L622.61,215.88L628.96,219.51L635.32,223.22L641.67,227.01L648.01,230.87L654.34,234.82L660.67,238.85L666.98,242.97L673.29,247.17L679.57,251.46L685.85,255.83L692.1,260.3L698.34,264.86L704.55,269.52L710.75,274.27L716.92,279.12L723.06,284.07L729.18,289.12L735.28,294.27L741.34,299.53L747.37,304.89L753.37,310.36L759.33,315.95L765.26,321.64L771.16,327.44L777.01,333.36L782.83,339.39L788.6,345.54L794.33,351.81L800.02,358.2L805.66,364.71L811.26,371.35L816.81,378.1L822.31,384.98L827.75,391.99L833.15,399.12L838.49,406.37L843.78,413.76L849.01,421.27L854.18,428.9L859.3,436.67L864.35,444.56L869.34,452.57L874.27,460.71L879.14,468.98L883.94,477.36L888.68,485.87L893.35,494.5L897.95,503.24L902.48,512.09L906.94,521.05L911.33,530.12L915.65,539.3L919.89,548.56L924.06,557.92L928.15,567.37L932.16,576.9L936.1,586.5L939.96,596.17L943.73,605.89L947.43,615.67L951.05,625.49L954.58,635.33L958.03,645.2L961.39,655.08L964.67,664.95L967.86,674.81L970.97,684.64L973.99,694.43L976.92,704.16L979.76,713.82L982.52,723.39L985.18,732.86L987.75,742.21L990.23,751.41L992.62,760.47L994.91,769.35L997.11,778.04L999.22,786.51L1001.23,794.76L1003.15,802.76L1004.97,810.48L1006.69,817.93L1008.32,825.06L1009.86,831.88L1011.29,838.35L1012.63,844.46L1013.87,850.19L1015.01,855.53L1016.06,860.46L1017,864.97L1017.85,869.04L1018.6,872.67L1019.25,875.83L1019.79,878.52L1020.24,880.74L1020.59,882.47L1020.84,883.71L1020.99,884.46L1021.04,884.7"/>
<path fill="none" stroke="#300000" stroke-opacity="0.35" stroke-width="0.9" d="M1021.04,884.7L1020.99,884.69L1020.84,884.67L1020.59,884.62L1020.24,884.55L1019.79,884.46L1019.25,884.35L1018.6,884.22L1017.85,884.07L1017,883.9L1016.06,883.71L1015.01,883.5L1013.87,883.27L1012.63,883.02L1011.29,882.74L1009.86,882.45L1008.32,882.14L1006.69,881.81L1004.97,881.45L1003.15,881.08L1001.23,880.68L999.22,880.26M233.28,176.09L231.27,167.84L229.35,159.84L227.53,152.12L225.81,144.67L224.18,137.54L222.64,130.72L221.21,124.25L219.87,118.14L218.63,112.41L217.49,107.07L216.44,102.14L215.5,97.63L214.65,93.56L213.9,89.93L213.25,86.77L212.71,84.08L212.26,81.86L211.91,80.13L211.66,78.89L211.51,78.14L211.46,77.9"/>
</g>
<clipPath id="outl"><path clip-rule="evenodd" d="M0,0H2063V1056H0ZM211.46,77.9L211.51,77.91L211.66,77.93L211.91,77.98L212.26,78.05L212.71,78.14L213.25,78.25L213.9,78.38L214.65,78.53L215.5,78.7L216.44,78.89L217.49,79.1L218.63,79.33L219.87,79.58L221.21,79.86L222.64,80.15L224.18,80.46L225.81,80.79L227.53,81.15L229.35,81.52L231.27,81.92L233.28,82.34L235.39,82.78L237.59,83.24L239.88,83.72L242.27,84.23L244.75,84.75L247.32,85.3L249.98,85.87L252.74,86.47L255.58,87.09L258.51,87.73L261.53,88.39L264.64,89.08L267.83,89.79L271.11,90.52L274.47,91.28L277.92,92.07L281.45,92.88L285.07,93.71L288.77,94.57L292.54,95.46L296.4,96.37L300.34,97.31L304.35,98.27L308.44,99.27L312.61,100.29L316.85,101.34L321.17,102.41L325.56,103.52L330.02,104.65L334.55,105.82L339.15,107.01L343.82,108.24L348.56,109.49L353.36,110.78L358.23,112.1L363.16,113.45L368.15,114.84L373.2,116.25L378.32,117.71L383.49,119.19L388.72,120.72L394.01,122.27L399.35,123.87L404.75,125.5L410.19,127.17L415.69,128.88L421.24,130.62L426.84,132.41L432.48,134.24L438.17,136.11L443.9,138.02L449.67,139.97L455.49,141.97L461.34,144.01L467.24,146.1L473.17,148.23L479.13,150.41L485.13,152.64L491.16,154.91L497.22,157.24L503.32,159.62L509.44,162.05L515.58,164.53L521.75,167.06L527.95,169.65L534.16,172.3L540.4,175L546.65,177.76L552.93,180.58L559.21,183.46L565.52,186.41L571.83,189.41L578.16,192.48L584.49,195.62L590.83,198.82L597.18,202.09L603.54,205.43L609.89,208.84L616.25,212.32L622.61,215.88L628.96,219.51L635.32,223.22L641.67,227.01L648.01,230.87L654.34,234.82L660.67,238.85L666.98,242.97L673.29,247.17L679.57,251.46L685.85,255.83L692.1,260.3L698.34,264.86L704.55,269.52L710.75,274.27L716.92,279.12L723.06,284.07L729.18,289.12L735.28,294.27L741.34,299.53L747.37,304.89L753.37,310.36L759.33,315.95L765.26,321.64L771.16,327.44L777.01,333.36L782.83,339.39L788.6,345.54L794.33,351.81L800.02,358.2L805.66,364.71L811.26,371.35L816.81,378.1L822.31,384.98L827.75,391.99L833.15,399.12L838.49,406.37L843.78,413.76L849.01,421.27L854.18,428.9L859.3,436.67L864.35,444.56L869.34,452.57L874.27,460.71L879.14,468.98L883.94,477.36L888.68,485.87L893.35,494.5L897.95,503.24L902.48,512.09L906.94,521.05L911.33,530.12L915.65,539.3L919.89,548.56L924.06,557.92L928.15,567.37L932.16,576.9L936.1,586.5L939.96,596.17L943.73,605.89L947.43,615.67L951.05,625.49L954.58,635.33L958.03,645.2L961.39,655.08L964.67,664.95L967.86,674.81L970.97,684.64L973.99,694.43L976.92,704.16L979.76,713.82L982.52,723.39L985.18,732.86L987.75,742.21L990.23,751.41L992.62,760.47L994.91,769.35L997.11,778.04L999.22,786.51L1001.23,794.76L1003.15,802.76L1004.97,810.48L1006.69,817.93L1008.32,825.06L1009.86,831.88L1011.29,838.35L1012.63,844.46L1013.87,850.19L1015.01,855.53L1016.06,860.46L1017,864.97L1017.85,869.04L1018.6,872.67L1019.25,875.83L1019.79,878.52L1020.24,880.74L1020.59,882.47L1020.84,883.71L1020.99,884.46L1021.04,884.7L1020.99,884.69L1020.84,884.67L1020.59,884.62L1020.24,884.55L1019.79,884.46L1019.25,884.35L1018.6,884.22L1017.85,884.07L1017,883.9L1016.06,883.71L1015.01,883.5L1013.87,883.27L1012.63,883.02L1011.29,882.74L1009.86,882.45L1008.32,882.14L1006.69,881.81L1004.97,881.45L1003.15,881.08L1001.23,880.68L999.22,880.26L997.11,879.82L994.91,879.36L992.62,878.88L990.23,878.37L987.75,877.85L985.18,877.3L982.52,876.73L979.76,876.13L976.92,875.51L973.99,874.87L970.97,874.21L967.86,873.52L964.67,872.81L961.39,872.08L958.03,871.32L954.58,870.53L951.05,869.72L947.43,868.89L943.73,868.03L939.96,867.14L936.1,866.23L932.16,865.29L928.15,864.33L924.06,863.33L919.89,862.31L915.65,861.26L911.33,860.19L906.94,859.08L902.48,857.95L897.95,856.78L893.35,855.59L888.68,854.36L883.94,853.11L879.14,851.82L874.27,850.5L869.34,849.15L864.35,847.76L859.3,846.35L854.18,844.89L849.01,843.41L843.78,841.88L838.49,840.33L833.15,838.73L827.75,837.1L822.31,835.43L816.81,833.72L811.26,831.98L805.66,830.19L800.02,828.36L794.33,826.49L788.6,824.58L782.83,822.63L777.01,820.63L771.16,818.59L765.26,816.5L759.33,814.37L753.37,812.19L747.37,809.96L741.34,807.69L735.28,805.36L729.18,802.98L723.06,800.55L716.92,798.07L710.75,795.54L704.55,792.95L698.34,790.3L692.1,787.6L685.85,784.84L679.57,782.02L673.29,779.14L666.98,776.19L660.67,773.19L654.34,770.12L648.01,766.98L641.67,763.78L635.32,760.51L628.96,757.17L622.61,753.76L616.25,750.28L609.89,746.72L603.54,743.09L597.18,739.38L590.83,735.59L584.49,731.73L578.16,727.78L571.83,723.75L565.52,719.63L559.21,715.43L552.93,711.14L546.65,706.77L540.4,702.3L534.16,697.74L527.95,693.08L521.75,688.33L515.58,683.48L509.44,678.53L503.32,673.48L497.22,668.33L491.16,663.07L485.13,657.71L479.13,652.24L473.17,646.65L467.24,640.96L461.34,635.16L455.49,629.24L449.67,623.21L443.9,617.06L438.17,610.79L432.48,604.4L426.84,597.89L421.24,591.25L415.69,584.5L410.19,577.62L404.75,570.61L399.35,563.48L394.01,556.23L388.72,548.84L383.49,541.33L378.32,533.7L373.2,525.93L368.15,518.04L363.16,510.03L358.23,501.89L353.36,493.62L348.56,485.24L343.82,476.73L339.15,468.1L334.55,459.36L330.02,450.51L325.56,441.55L321.17,432.48L316.85,423.3L312.61,414.04L308.44,404.68L304.35,395.23L300.34,385.7L296.4,376.1L292.54,366.43L288.77,356.71L285.07,346.93L281.45,337.11L277.92,327.27L274.47,317.4L271.11,307.52L267.83,297.65L264.64,287.79L261.53,277.96L258.51,268.17L255.58,258.44L252.74,248.78L249.98,239.21L247.32,229.74L244.75,220.39L242.27,211.19L239.88,202.13L237.59,193.25L235.39,184.56L233.28,176.09L231.27,167.84L229.35,159.84L227.53,152.12L225.81,144.67L224.18,137.54L222.64,130.72L221.21,124.25L219.87,118.14L218.63,112.41L217.49,107.07L216.44,102.14L215.5,97.63L214.65,93.56L213.9,89.93L213.25,86.77L212.71,84.08L212.26,81.86L211.91,80.13L211.66,78.89L211.51,78.14Z"/></clipPath>
<g clip-path="url(#outl)" fill="none" stroke="#4a4a4a" stroke-width="1.15">
<g stroke-dasharray="1.9 6.05"><path d="M254,31.7V933.5"/><path d="M344.5,31.7V933.5"/><path d="M435,31.7V933.5"/><path d="M525.5,31.7V933.5"/><path d="M616,31.7V933.5"/><path d="M706.4,31.7V933.5"/><path d="M796.9,31.7V933.5"/><path d="M887.4,31.7V933.5"/><path d="M977.9,31.7V933.5"/><path d="M1068.4,31.7V933.5"/></g>
<g stroke-dasharray="2.1 5"><path d="M163.5,843.3H1068.4"/><path d="M163.5,753.1H1068.4"/><path d="M163.5,663H1068.4"/><path d="M163.5,572.8H1068.4"/><path d="M163.5,482.6H1068.4"/><path d="M163.5,392.4H1068.4"/><path d="M163.5,302.2H1068.4"/><path d="M163.5,212.1H1068.4"/><path d="M163.5,121.9H1068.4"/><path d="M163.5,31.7H1068.4"/></g>
</g>
<g stroke="#333" stroke-width="1.4" fill="none">
<path d="M163.5,31V933.5H1069.1"/>
<path d="M163.5,933.5v-7.5"/>
<path d="M163.5,933.5h7.5"/>
<path d="M254,933.5v-7.5"/>
<path d="M163.5,843.3h7.5"/>
<path d="M344.5,933.5v-7.5"/>
<path d="M163.5,753.1h7.5"/>
<path d="M435,933.5v-7.5"/>
<path d="M163.5,663h7.5"/>
<path d="M525.5,933.5v-7.5"/>
<path d="M163.5,572.8h7.5"/>
<path d="M616,933.5v-7.5"/>
<path d="M163.5,482.6h7.5"/>
<path d="M706.4,933.5v-7.5"/>
<path d="M163.5,392.4h7.5"/>
<path d="M796.9,933.5v-7.5"/>
<path d="M163.5,302.2h7.5"/>
<path d="M887.4,933.5v-7.5"/>
<path d="M163.5,212.1h7.5"/>
<path d="M977.9,933.5v-7.5"/>
<path d="M163.5,121.9h7.5"/>
<path d="M1068.4,933.5v-7.5"/>
<path d="M163.5,31.7h7.5"/>
</g>
<text transform="translate(157,954.9) scale(0.810,1)" font-size="63.8" text-anchor="end" fill="#000" stroke="#000" stroke-width="0.6" stroke-linejoin="round"><tspan textLength="26.23" lengthAdjust="spacingAndGlyphs">-</tspan>1.0</text>
<text transform="translate(157,864.72) scale(0.810,1)" font-size="63.8" text-anchor="end" fill="#000" stroke="#000" stroke-width="0.6" stroke-linejoin="round"><tspan textLength="26.23" lengthAdjust="spacingAndGlyphs">-</tspan>0.8</text>
<text transform="translate(157,774.54) scale(0.810,1)" font-size="63.8" text-anchor="end" fill="#000" stroke="#000" stroke-width="0.6" stroke-linejoin="round"><tspan textLength="26.23" lengthAdjust="spacingAndGlyphs">-</tspan>0.6</text>
<text transform="translate(157,684.36) scale(0.810,1)" font-size="63.8" text-anchor="end" fill="#000" stroke="#000" stroke-width="0.6" stroke-linejoin="round"><tspan textLength="26.23" lengthAdjust="spacingAndGlyphs">-</tspan>0.4</text>
<text transform="translate(157,594.18) scale(0.810,1)" font-size="63.8" text-anchor="end" fill="#000" stroke="#000" stroke-width="0.6" stroke-linejoin="round"><tspan textLength="26.23" lengthAdjust="spacingAndGlyphs">-</tspan>0.2</text>
<text transform="translate(157,504) scale(0.810,1)" font-size="63.8" text-anchor="end" fill="#000" stroke="#000" stroke-width="0.6" stroke-linejoin="round">0</text>
<text transform="translate(157,413.82) scale(0.810,1)" font-size="63.8" text-anchor="end" fill="#000" stroke="#000" stroke-width="0.6" stroke-linejoin="round">0.2</text>
<text transform="translate(157,323.64) scale(0.810,1)" font-size="63.8" text-anchor="end" fill="#000" stroke="#000" stroke-width="0.6" stroke-linejoin="round">0.4</text>
<text transform="translate(157,233.46) scale(0.810,1)" font-size="63.8" text-anchor="end" fill="#000" stroke="#000" stroke-width="0.6" stroke-linejoin="round">0.6</text>
<text transform="translate(157,143.28) scale(0.810,1)" font-size="63.8" text-anchor="end" fill="#000" stroke="#000" stroke-width="0.6" stroke-linejoin="round">0.8</text>
<text transform="translate(157,53.1) scale(0.810,1)" font-size="63.8" text-anchor="end" fill="#000" stroke="#000" stroke-width="0.6" stroke-linejoin="round">1.0</text>
<text transform="translate(199.42,993.8) scale(0.810,1)" font-size="63.8" text-anchor="end" fill="#000" stroke="#000" stroke-width="0.6" stroke-linejoin="round"><tspan textLength="26.23" lengthAdjust="spacingAndGlyphs">-</tspan>1.0</text>
<text transform="translate(289.91,993.8) scale(0.810,1)" font-size="63.8" text-anchor="end" fill="#000" stroke="#000" stroke-width="0.6" stroke-linejoin="round"><tspan textLength="26.23" lengthAdjust="spacingAndGlyphs">-</tspan>0.8</text>
<text transform="translate(380.4,993.8) scale(0.810,1)" font-size="63.8" text-anchor="end" fill="#000" stroke="#000" stroke-width="0.6" stroke-linejoin="round"><tspan textLength="26.23" lengthAdjust="spacingAndGlyphs">-</tspan>0.6</text>
<text transform="translate(470.89,993.8) scale(0.810,1)" font-size="63.8" text-anchor="end" fill="#000" stroke="#000" stroke-width="0.6" stroke-linejoin="round"><tspan textLength="26.23" lengthAdjust="spacingAndGlyphs">-</tspan>0.4</text>
<text transform="translate(561.38,993.8) scale(0.810,1)" font-size="63.8" text-anchor="end" fill="#000" stroke="#000" stroke-width="0.6" stroke-linejoin="round"><tspan textLength="26.23" lengthAdjust="spacingAndGlyphs">-</tspan>0.2</text>
<text transform="translate(630.32,993.8) scale(0.810,1)" font-size="63.8" text-anchor="end" fill="#000" stroke="#000" stroke-width="0.6" stroke-linejoin="round">0</text>
<text transform="translate(742.36,993.8) scale(0.810,1)" font-size="63.8" text-anchor="end" fill="#000" stroke="#000" stroke-width="0.6" stroke-linejoin="round">0.2</text>
<text transform="translate(832.85,993.8) scale(0.810,1)" font-size="63.8" text-anchor="end" fill="#000" stroke="#000" stroke-width="0.6" stroke-linejoin="round">0.4</text>
<text transform="translate(923.34,993.8) scale(0.810,1)" font-size="63.8" text-anchor="end" fill="#000" stroke="#000" stroke-width="0.6" stroke-linejoin="round">0.6</text>
<text transform="translate(1013.83,993.8) scale(0.810,1)" font-size="63.8" text-anchor="end" fill="#000" stroke="#000" stroke-width="0.6" stroke-linejoin="round">0.8</text>
<text transform="translate(1104.32,993.8) scale(0.810,1)" font-size="63.8" text-anchor="end" fill="#000" stroke="#000" stroke-width="0.6" stroke-linejoin="round">1.0</text>
<text transform="translate(623.5,1052.6) scale(0.885,1)" font-size="61.3" text-anchor="middle" fill="#000" stroke="#000" stroke-width="0.9" stroke-linejoin="round">Cx</text>
<text transform="translate(81.6,492.8) rotate(-90) scale(1.107,1)" font-size="55" text-anchor="middle" fill="#000" stroke="#000" stroke-width="0.9" stroke-linejoin="round">Cp</text>
<text transform="translate(-2.5,56.7)" font-size="55" text-anchor="start" fill="#000" stroke="#000" stroke-width="0.8" stroke-linejoin="round">(a)</text>
<g shape-rendering="crispEdges">
<rect x="916.3" y="476.74" width="28.7" height="5.66" fill="#00008f"/>
<rect x="916.3" y="471.07" width="28.7" height="6.66" fill="#00009f"/>
<rect x="916.3" y="465.41" width="28.7" height="6.66" fill="#0000af"/>
<rect x="916.3" y="459.75" width="28.7" height="6.66" fill="#0000bf"/>
<rect x="916.3" y="454.09" width="28.7" height="6.66" fill="#0000cf"/>
<rect x="916.3" y="448.42" width="28.7" height="6.66" fill="#0000df"/>
<rect x="916.3" y="442.76" width="28.7" height="6.66" fill="#0000ef"/>
<rect x="916.3" y="437.1" width="28.7" height="6.66" fill="#0000ff"/>
<rect x="916.3" y="431.44" width="28.7" height="6.66" fill="#0010ff"/>
<rect x="916.3" y="425.77" width="28.7" height="6.66" fill="#0020ff"/>
<rect x="916.3" y="420.11" width="28.7" height="6.66" fill="#0030ff"/>
<rect x="916.3" y="414.45" width="28.7" height="6.66" fill="#0040ff"/>
<rect x="916.3" y="408.79" width="28.7" height="6.66" fill="#0050ff"/>
<rect x="916.3" y="403.12" width="28.7" height="6.66" fill="#0060ff"/>
<rect x="916.3" y="397.46" width="28.7" height="6.66" fill="#0070ff"/>
<rect x="916.3" y="391.8" width="28.7" height="6.66" fill="#0080ff"/>
<rect x="916.3" y="386.14" width="28.7" height="6.66" fill="#008fff"/>
<rect x="916.3" y="380.47" width="28.7" height="6.66" fill="#009fff"/>
<rect x="916.3" y="374.81" width="28.7" height="6.66" fill="#00afff"/>
<rect x="916.3" y="369.15" width="28.7" height="6.66" fill="#00bfff"/>
<rect x="916.3" y="363.49" width="28.7" height="6.66" fill="#00cfff"/>
<rect x="916.3" y="357.82" width="28.7" height="6.66" fill="#00dfff"/>
<rect x="916.3" y="352.16" width="28.7" height="6.66" fill="#00efff"/>
<rect x="916.3" y="346.5" width="28.7" height="6.66" fill="#00ffff"/>
<rect x="916.3" y="340.84" width="28.7" height="6.66" fill="#10ffef"/>
<rect x="916.3" y="335.17" width="28.7" height="6.66" fill="#20ffdf"/>
<rect x="916.3" y="329.51" width="28.7" height="6.66" fill="#30ffcf"/>
<rect x="916.3" y="323.85" width="28.7" height="6.66" fill="#40ffbf"/>
<rect x="916.3" y="318.19" width="28.7" height="6.66" fill="#50ffaf"/>
<rect x="916.3" y="312.52" width="28.7" height="6.66" fill="#60ff9f"/>
<rect x="916.3" y="306.86" width="28.7" height="6.66" fill="#70ff8f"/>
<rect x="916.3" y="301.2" width="28.7" height="6.66" fill="#80ff80"/>
<rect x="916.3" y="295.54" width="28.7" height="6.66" fill="#8fff70"/>
<rect x="916.3" y="289.88" width="28.7" height="6.66" fill="#9fff60"/>
<rect x="916.3" y="284.21" width="28.7" height="6.66" fill="#afff50"/>
<rect x="916.3" y="278.55" width="28.7" height="6.66" fill="#bfff40"/>
<rect x="916.3" y="272.89" width="28.7" height="6.66" fill="#cfff30"/>
<rect x="916.3" y="267.23" width="28.7" height="6.66" fill="#dfff20"/>
<rect x="916.3" y="261.56" width="28.7" height="6.66" fill="#efff10"/>
<rect x="916.3" y="255.9" width="28.7" height="6.66" fill="#ffff00"/>
<rect x="916.3" y="250.24" width="28.7" height="6.66" fill="#ffef00"/>
<rect x="916.3" y="244.57" width="28.7" height="6.66" fill="#ffdf00"/>
<rect x="916.3" y="238.91" width="28.7" height="6.66" fill="#ffcf00"/>
<rect x="916.3" y="233.25" width="28.7" height="6.66" fill="#ffbf00"/>
<rect x="916.3" y="227.59" width="28.7" height="6.66" fill="#ffaf00"/>
<rect x="916.3" y="221.93" width="28.7" height="6.66" fill="#ff9f00"/>
<rect x="916.3" y="216.26" width="28.7" height="6.66" fill="#ff8f00"/>
<rect x="916.3" y="210.6" width="28.7" height="6.66" fill="#ff8000"/>
<rect x="916.3" y="204.94" width="28.7" height="6.66" fill="#ff7000"/>
<rect x="916.3" y="199.27" width="28.7" height="6.66" fill="#ff6000"/>
<rect x="916.3" y="193.61" width="28.7" height="6.66" fill="#ff5000"/>
<rect x="916.3" y="187.95" width="28.7" height="6.66" fill="#ff4000"/>
<rect x="916.3" y="182.29" width="28.7" height="6.66" fill="#ff3000"/>
<rect x="916.3" y="176.62" width="28.7" height="6.66" fill="#ff2000"/>
<rect x="916.3" y="170.96" width="28.7" height="6.66" fill="#ff1000"/>
<rect x="916.3" y="165.3" width="28.7" height="6.66" fill="#ff0000"/>
<rect x="916.3" y="159.64" width="28.7" height="6.66" fill="#ef0000"/>
<rect x="916.3" y="153.98" width="28.7" height="6.66" fill="#df0000"/>
<rect x="916.3" y="148.31" width="28.7" height="6.66" fill="#cf0000"/>
<rect x="916.3" y="142.65" width="28.7" height="6.66" fill="#bf0000"/>
<rect x="916.3" y="136.99" width="28.7" height="6.66" fill="#af0000"/>
<rect x="916.3" y="131.32" width="28.7" height="6.66" fill="#9f0000"/>
<rect x="916.3" y="125.66" width="28.7" height="6.66" fill="#8f0000"/>
<rect x="916.3" y="120" width="28.7" height="6.66" fill="#800000"/>
</g>
<rect x="916.6" y="120.3" width="28.1" height="361.8" fill="none" stroke="#000" stroke-opacity="0.35" stroke-width="0.9"/>
<path d="M945,205.3h-3.5M945,288.3h-3.5M945,371.3h-3.5M945,454.3h-3.5" stroke="#000" stroke-opacity="0.6" stroke-width="1" fill="none"/>
<text transform="translate(949.3,145) scale(0.810,1)" font-size="63.8" text-anchor="start" fill="#000" stroke="#000" stroke-width="0.6" stroke-linejoin="round">0.75</text>
<text transform="translate(949.3,228) scale(0.810,1)" font-size="63.8" text-anchor="start" fill="#000" stroke="#000" stroke-width="0.6" stroke-linejoin="round">0.65</text>
<text transform="translate(949.3,311) scale(0.810,1)" font-size="63.8" text-anchor="start" fill="#000" stroke="#000" stroke-width="0.6" stroke-linejoin="round">0.55</text>
<text transform="translate(949.3,394) scale(0.810,1)" font-size="63.8" text-anchor="start" fill="#000" stroke="#000" stroke-width="0.6" stroke-linejoin="round">0.45</text>
<text transform="translate(949.3,477) scale(0.810,1)" font-size="63.8" text-anchor="start" fill="#000" stroke="#000" stroke-width="0.6" stroke-linejoin="round">0.35</text>
<g stroke="#6e6e6e" stroke-width="1" fill="none">
<rect x="1232.5" y="24.5" width="803" height="430"/>
<path d="M1312.5,454.5v-8M1312.5,24.5v8M1393.5,454.5v-8M1393.5,24.5v8M1473.5,454.5v-8M1473.5,24.5v8M1553.5,454.5v-8M1553.5,24.5v8M1634.5,454.5v-8M1634.5,24.5v8M1714.5,454.5v-8M1714.5,24.5v8M1794.5,454.5v-8M1794.5,24.5v8M1874.5,454.5v-8M1874.5,24.5v8M1955.5,454.5v-8M1955.5,24.5v8M1232.5,368.5h8M2035.5,368.5h-8M1232.5,282.5h8M2035.5,282.5h-8M1232.5,196.5h8M2035.5,196.5h-8M1232.5,110.5h8M2035.5,110.5h-8"/>
</g>
<text transform="translate(1206.73,485.2) scale(0.955,1)" font-size="31.3" text-anchor="start" fill="#000" stroke="#000" stroke-width="0.7" stroke-linejoin="round">−1</text>
<text transform="translate(1274.57,485.2) scale(0.955,1)" font-size="31.3" text-anchor="start" fill="#000" stroke="#000" stroke-width="0.7" stroke-linejoin="round">−0.8</text>
<text transform="translate(1354.87,485.2) scale(0.955,1)" font-size="31.3" text-anchor="start" fill="#000" stroke="#000" stroke-width="0.7" stroke-linejoin="round">−0.6</text>
<text transform="translate(1435.17,485.2) scale(0.955,1)" font-size="31.3" text-anchor="start" fill="#000" stroke="#000" stroke-width="0.7" stroke-linejoin="round">−0.4</text>
<text transform="translate(1515.47,485.2) scale(0.955,1)" font-size="31.3" text-anchor="start" fill="#000" stroke="#000" stroke-width="0.7" stroke-linejoin="round">−0.2</text>
<text transform="translate(1625.69,485.2) scale(0.955,1)" font-size="31.3" text-anchor="start" fill="#000" stroke="#000" stroke-width="0.7" stroke-linejoin="round">0</text>
<text transform="translate(1693.53,485.2) scale(0.955,1)" font-size="31.3" text-anchor="start" fill="#000" stroke="#000" stroke-width="0.7" stroke-linejoin="round">0.2</text>
<text transform="translate(1773.83,485.2) scale(0.955,1)" font-size="31.3" text-anchor="start" fill="#000" stroke="#000" stroke-width="0.7" stroke-linejoin="round">0.4</text>
<text transform="translate(1854.13,485.2) scale(0.955,1)" font-size="31.3" text-anchor="start" fill="#000" stroke="#000" stroke-width="0.7" stroke-linejoin="round">0.6</text>
<text transform="translate(1934.43,485.2) scale(0.955,1)" font-size="31.3" text-anchor="start" fill="#000" stroke="#000" stroke-width="0.7" stroke-linejoin="round">0.8</text>
<text transform="translate(2027.19,485.2) scale(0.955,1)" font-size="31.3" text-anchor="start" fill="#000" stroke="#000" stroke-width="0.7" stroke-linejoin="round">1</text>
<text transform="translate(1230.3,465.5) scale(0.955,1)" font-size="31.3" text-anchor="end" fill="#000" stroke="#000" stroke-width="0.7" stroke-linejoin="round">0.3</text>
<text transform="translate(1230.3,379.5) scale(0.955,1)" font-size="31.3" text-anchor="end" fill="#000" stroke="#000" stroke-width="0.7" stroke-linejoin="round">0.4</text>
<text transform="translate(1230.3,293.5) scale(0.955,1)" font-size="31.3" text-anchor="end" fill="#000" stroke="#000" stroke-width="0.7" stroke-linejoin="round">0.5</text>
<text transform="translate(1230.3,207.5) scale(0.955,1)" font-size="31.3" text-anchor="end" fill="#000" stroke="#000" stroke-width="0.7" stroke-linejoin="round">0.6</text>
<text transform="translate(1230.3,121.5) scale(0.955,1)" font-size="31.3" text-anchor="end" fill="#000" stroke="#000" stroke-width="0.7" stroke-linejoin="round">0.7</text>
<text transform="translate(1230.3,35.5) scale(0.955,1)" font-size="31.3" text-anchor="end" fill="#000" stroke="#000" stroke-width="0.7" stroke-linejoin="round">0.8</text>
<text transform="translate(1634.6,514.2) scale(0.955,1)" font-size="31.3" text-anchor="middle" fill="#000" stroke="#000" stroke-width="0.7" stroke-linejoin="round">Cx</text>
<text transform="translate(1178.3,238.4) rotate(-90) scale(0.961,1)" font-size="30.7" text-anchor="middle" fill="#000" stroke="#000" stroke-width="0.7" stroke-linejoin="round">Secret Key Rate (bit/pulse)</text>
<text transform="translate(1120.5,33.5)" font-size="47" text-anchor="start" fill="#000" stroke="#000" stroke-width="0.7" stroke-linejoin="round">(b)</text>
<path d="M1626.6,438.6h15M1634.1,431.1v15M1628.8,433.3l10.6,10.6M1628.8,443.9l10.6,-10.6" stroke="#0000ff" stroke-width="2.7" fill="none"/>
<path d="M1488,404.1L1502.3,395.8L1502.3,412.4Z" fill="#0000ff"/>
<path d="M1780.2,404.1L1765.9,395.8L1765.9,412.4Z" fill="#0000ff"/>
<path d="M1270.1,59.8l9.8,9.8M1270.1,69.6l9.8,-9.8" stroke="#0000ff" stroke-width="2.7" fill="none"/>
<path d="M1985.7,64.7h15M1993.2,57.2v15" stroke="#0000ff" stroke-width="3.2" fill="none"/>
<path d="M1275,64.7L1275,64.7L1275.5,67.7L1276,70.6L1276.4,73.4L1276.9,76.1L1277.4,78.7L1277.9,81.2L1278.3,83.7L1278.8,85.7L1278.8,86L1279.3,88.2L1279.8,90.4L1280.2,92.4L1280.7,94.4L1281.2,96.2L1281.7,98L1282.1,99.7L1282.5,101L1282.6,101.4L1283.1,103.1L1283.6,104.7L1284,106.4L1284.5,108L1285,109.7L1285.5,111.3L1286,112.9L1286.3,114L1286.4,114.5L1286.9,116.1L1287.4,117.6L1287.9,119.2L1288.3,120.7L1288.8,122.3L1290,126.2L1293.8,137.7L1297.5,148.6L1301.3,159L1305.1,168.9L1308.8,178.3L1312.6,187.4L1316.3,196L1320.1,204.3L1323.8,212.3L1327.6,219.9L1331.4,227.3L1335.1,234.5L1338.9,241.3L1342.6,248L1346.4,254.4L1350.2,260.6L1353.9,266.6L1357.7,272.5L1361.4,278.1L1365.2,283.6L1368.9,288.9L1372.7,294.1L1376.5,299.1L1380.2,304L1384,308.7L1387.7,313.3L1391.5,317.8L1395.2,322.1L1399,326.4L1402.8,330.5L1406.5,334.5L1410.3,338.4L1414,342.2L1417.8,345.9L1421.6,349.5L1425.3,352.9L1429.1,356.4L1432.8,359.7L1436.6,362.9L1440.3,366L1444.1,369.1L1447.9,372L1451.6,374.9L1455.4,377.7L1459.1,380.5L1462.9,383.1L1466.6,385.7L1470.4,388.2L1474.2,390.6L1477.9,393L1481.7,395.3L1485.4,397.5L1489.2,399.6L1492.9,401.7L1496.7,403.8" stroke="#ff0000" stroke-width="3.5" fill="none" stroke-linejoin="round"/>
<path d="M1771.5,403.8L1775.3,401.7L1779,399.6L1782.8,397.5L1786.5,395.3L1790.3,393L1794,390.6L1797.8,388.2L1801.6,385.7L1805.3,383.1L1809.1,380.5L1812.8,377.7L1816.6,374.9L1820.3,372L1824.1,369.1L1827.9,366L1831.6,362.9L1835.4,359.7L1839.1,356.4L1842.9,352.9L1846.6,349.5L1850.4,345.9L1854.2,342.2L1857.9,338.4L1861.7,334.5L1865.4,330.5L1869.2,326.4L1873,322.1L1876.7,317.8L1880.5,313.3L1884.2,308.7L1888,304L1891.7,299.1L1895.5,294.1L1899.3,288.9L1903,283.6L1906.8,278.1L1910.5,272.5L1914.3,266.6L1918,260.6L1921.8,254.4L1925.6,248L1929.3,241.3L1933.1,234.5L1936.8,227.3L1940.6,219.9L1944.4,212.3L1948.1,204.3L1951.9,196L1955.6,187.4L1959.4,178.3L1963.1,168.9L1966.9,159L1970.7,148.6L1974.4,137.7L1978.2,126.2L1979.4,122.3L1979.9,120.7L1980.3,119.2L1980.8,117.6L1981.3,116.1L1981.8,114.5L1981.9,114L1982.2,112.9L1982.7,111.3L1983.2,109.7L1983.7,108L1984.2,106.4L1984.6,104.7L1985.1,103.1L1985.6,101.4L1985.7,101L1986.1,99.7L1986.5,98L1987,96.2L1987.5,94.4L1988,92.4L1988.4,90.4L1988.9,88.2L1989.4,86L1989.4,85.7L1989.9,83.7L1990.3,81.2L1990.8,78.7L1991.3,76.1L1991.8,73.4L1992.2,70.6L1992.7,67.7L1993.2,64.7L1993.2,64.7" stroke="#ff0000" stroke-width="3.5" fill="none" stroke-linejoin="round"/>
<path d="M1496.7,403.8L1503.8,407.4L1510.8,410.8L1517.8,414L1524.9,416.9L1531.9,419.7L1539,422.3L1546,424.6L1553.1,426.8L1560.1,428.8L1567.2,430.6L1574.2,432.2L1581.3,433.6L1588.3,434.9L1595.3,435.9L1602.4,436.8L1609.4,437.5L1616.5,438.1L1623.5,438.4L1630.6,438.6L1637.6,438.6L1644.7,438.4L1651.7,438.1L1658.8,437.5L1665.8,436.8L1672.9,435.9L1679.9,434.9L1686.9,433.6L1694,432.2L1701,430.6L1708.1,428.8L1715.1,426.8L1722.2,424.6L1729.2,422.3L1736.3,419.7L1743.3,416.9L1750.4,414L1757.4,410.8L1764.4,407.4L1771.5,403.8" stroke="#000" stroke-width="3.5" fill="none" stroke-linejoin="round"/>
<text transform="translate(1574.3,384.5) scale(0.970,1)" font-size="31" text-anchor="start" fill="#000" stroke="#000" stroke-width="0.7" stroke-linejoin="round">Cx = − Cp</text>
<rect x="1547.5" y="51.5" width="177" height="251" fill="#fff" stroke="#777" stroke-width="1"/>
<path d="M1560.7,71.2h15M1568.2,63.7v15M1562.9,65.9l10.6,10.6M1562.9,76.5l10.6,-10.6" stroke="#0000ff" stroke-width="2.7" fill="none"/>
<text transform="translate(1585.6,81.5) scale(1.015,1)" font-size="29.5" text-anchor="start" fill="#000" stroke="#000" stroke-width="0.7" stroke-linejoin="round">point (1)</text>
<path d="M1559.4,106.4L1573.7,98.1L1573.7,114.7Z" fill="#0000ff"/>
<text transform="translate(1585.6,116.7) scale(1.015,1)" font-size="29.5" text-anchor="start" fill="#000" stroke="#000" stroke-width="0.7" stroke-linejoin="round">point (3)</text>
<path d="M1577.3,142L1563,133.7L1563,150.3Z" fill="#0000ff"/>
<text transform="translate(1585.6,152.3) scale(1.015,1)" font-size="29.5" text-anchor="start" fill="#000" stroke="#000" stroke-width="0.7" stroke-linejoin="round">point (5)</text>
<path d="M1563.3,172.4l9.8,9.8M1563.3,182.2l9.8,-9.8" stroke="#0000ff" stroke-width="2.7" fill="none"/>
<text transform="translate(1585.6,187.6) scale(1.015,1)" font-size="29.5" text-anchor="start" fill="#000" stroke="#000" stroke-width="0.7" stroke-linejoin="round">point (7)</text>
<path d="M1560.7,212.3h15M1568.2,204.8v15" stroke="#0000ff" stroke-width="3.2" fill="none"/>
<text transform="translate(1585.6,222.6) scale(1.015,1)" font-size="29.5" text-anchor="start" fill="#000" stroke="#000" stroke-width="0.7" stroke-linejoin="round">point (6)</text>
<path d="M1553.1,247.5H1583.1" stroke="#ff0000" stroke-width="3.3"/>
<text transform="translate(1585.6,257.8) scale(1.015,1)" font-size="29.5" text-anchor="start" fill="#000" stroke="#000" stroke-width="0.7" stroke-linejoin="round">Entangled</text>
<path d="M1553.1,282.9H1583.1" stroke="#000" stroke-width="3.3"/>
<text transform="translate(1585.6,293.2) scale(1.015,1)" font-size="29.5" text-anchor="start" fill="#000" stroke="#000" stroke-width="0.7" stroke-linejoin="round">Separable</text>
<g stroke="#6e6e6e" stroke-width="1" fill="none">
<rect x="1245.5" y="539.5" width="789" height="442"/>
<path d="M1344.5,981.5v-8M1344.5,539.5v8M1442.5,981.5v-8M1442.5,539.5v8M1541.5,981.5v-8M1541.5,539.5v8M1640.5,981.5v-8M1640.5,539.5v8M1738.5,981.5v-8M1738.5,539.5v8M1837.5,981.5v-8M1837.5,539.5v8M1935.5,981.5v-8M1935.5,539.5v8M1245.5,893.5h8M2034.5,893.5h-8M1245.5,804.5h8M2034.5,804.5h-8M1245.5,716.5h8M2034.5,716.5h-8M1245.5,627.5h8M2034.5,627.5h-8"/>
</g>
<text transform="translate(1198.96,1012.2) scale(0.955,1)" font-size="31.3" text-anchor="start" fill="#000" stroke="#000" stroke-width="0.7" stroke-linejoin="round">−0.04</text>
<text transform="translate(1297.58,1012.2) scale(0.955,1)" font-size="31.3" text-anchor="start" fill="#000" stroke="#000" stroke-width="0.7" stroke-linejoin="round">−0.03</text>
<text transform="translate(1396.21,1012.2) scale(0.955,1)" font-size="31.3" text-anchor="start" fill="#000" stroke="#000" stroke-width="0.7" stroke-linejoin="round">−0.02</text>
<text transform="translate(1494.83,1012.2) scale(0.955,1)" font-size="31.3" text-anchor="start" fill="#000" stroke="#000" stroke-width="0.7" stroke-linejoin="round">−0.01</text>
<text transform="translate(1631.69,1012.2) scale(0.955,1)" font-size="31.3" text-anchor="start" fill="#000" stroke="#000" stroke-width="0.7" stroke-linejoin="round">0</text>
<text transform="translate(1709.54,1012.2) scale(0.955,1)" font-size="31.3" text-anchor="start" fill="#000" stroke="#000" stroke-width="0.7" stroke-linejoin="round">0.01</text>
<text transform="translate(1808.17,1012.2) scale(0.955,1)" font-size="31.3" text-anchor="start" fill="#000" stroke="#000" stroke-width="0.7" stroke-linejoin="round">0.02</text>
<text transform="translate(1906.79,1012.2) scale(0.955,1)" font-size="31.3" text-anchor="start" fill="#000" stroke="#000" stroke-width="0.7" stroke-linejoin="round">0.03</text>
<text transform="translate(2005.42,1012.2) scale(0.955,1)" font-size="31.3" text-anchor="start" fill="#000" stroke="#000" stroke-width="0.7" stroke-linejoin="round">0.04</text>
<text transform="translate(1243.3,992.5) scale(0.955,1)" font-size="31.3" text-anchor="end" fill="#000" stroke="#000" stroke-width="0.7" stroke-linejoin="round">0.7</text>
<text transform="translate(1243.3,904.1) scale(0.955,1)" font-size="31.3" text-anchor="end" fill="#000" stroke="#000" stroke-width="0.7" stroke-linejoin="round">0.704</text>
<text transform="translate(1243.3,815.7) scale(0.955,1)" font-size="31.3" text-anchor="end" fill="#000" stroke="#000" stroke-width="0.7" stroke-linejoin="round">0.708</text>
<text transform="translate(1243.3,727.3) scale(0.955,1)" font-size="31.3" text-anchor="end" fill="#000" stroke="#000" stroke-width="0.7" stroke-linejoin="round">0.712</text>
<text transform="translate(1243.3,638.9) scale(0.955,1)" font-size="31.3" text-anchor="end" fill="#000" stroke="#000" stroke-width="0.7" stroke-linejoin="round">0.716</text>
<text transform="translate(1243.3,550.5) scale(0.955,1)" font-size="31.3" text-anchor="end" fill="#000" stroke="#000" stroke-width="0.7" stroke-linejoin="round">0.72</text>
<text transform="translate(1640.6,1041) scale(0.955,1)" font-size="31.3" text-anchor="middle" fill="#000" stroke="#000" stroke-width="0.7" stroke-linejoin="round">Cx</text>
<text transform="translate(1156,759.8) rotate(-90) scale(0.970,1)" font-size="31.3" text-anchor="middle" fill="#000" stroke="#000" stroke-width="0.7" stroke-linejoin="round">Secret Key Rate (bit/pulse)</text>
<text transform="translate(1122.5,554.8)" font-size="47" text-anchor="start" fill="#000" stroke="#000" stroke-width="0.7" stroke-linejoin="round">(c)</text>
<path d="M1632.8,964.9h15M1640.3,957.4v15M1635,959.6l10.6,10.6M1635,970.2l10.6,-10.6" stroke="#0000ff" stroke-width="2.7" fill="none"/>
<path d="M1302.7,581.2L1294.4,595.9L1311,595.9Z" fill="#0000ff"/>
<path d="M1977.5,799.8L1969.2,785.1L1985.8,785.1Z" fill="#0000ff"/>
<path d="M1302.7,591L1304.8,601.4L1307.2,611.7L1309.8,621.9L1312.7,632.1L1315.8,642.2L1319.1,652.3L1322.7,662.2L1326.5,672.1L1330.5,681.9L1334.7,691.6L1339.1,701.2L1343.7,710.8L1348.6,720.2L1353.6,729.5L1358.9,738.7L1364.3,747.8L1369.9,756.7L1375.8,765.6L1381.8,774.3L1388,782.9L1394.3,791.3L1400.9,799.7L1407.6,807.8L1414.5,815.9L1421.5,823.8L1428.7,831.6L1436,839.2L1443.4,846.7L1451,854.2L1458.6,861.5L1466.4,868.7L1474.2,875.8L1482.1,882.7L1490.2,889.6L1498.4,896.3L1506.7,902.8L1515.2,909.1L1523.9,915.2L1532.8,921L1541.8,926.6L1551.1,931.9L1560.4,937L1570,941.7L1579.6,946.2L1589.4,950.3L1599.3,954.1L1609.4,957.6L1619.5,960.6L1629.7,963.3L1640,965.7L1650.4,967.6L1660.8,969.2L1671.3,970.4L1681.8,971.3L1692.3,971.7L1702.9,971.8L1713.4,971.6L1724,971L1734.5,970L1744.9,968.7L1755.4,967L1765.7,964.9L1776,962.6L1786.3,959.8L1796.4,956.7L1806.4,953.3L1816.3,949.6L1826.1,945.5L1835.7,941L1845.2,936.2L1854.6,931.1L1863.7,925.7L1872.7,919.9L1881.4,913.9L1890,907.5L1898.2,900.9L1906.3,893.9L1914.1,886.7L1921.5,879.2L1928.7,871.4L1935.6,863.3L1942.1,855L1948.3,846.5L1954.1,837.7L1959.6,828.7L1964.7,819.5L1969.3,810L1973.6,800.4L1977.3,790.5" stroke="#000" stroke-width="3.3" fill="none" stroke-linejoin="round"/>
<text transform="translate(1578.8,845.4) scale(0.990,1)" font-size="31" text-anchor="start" fill="#000" stroke="#000" stroke-width="0.7" stroke-linejoin="round">Cx = Cp</text>
<rect x="1550" y="594.4" width="181.6" height="148.7" fill="#fff" stroke="#333" stroke-width="1"/>
<path d="M1563.2,615.9h15M1570.7,608.4v15M1565.4,610.6l10.6,10.6M1565.4,621.2l10.6,-10.6" stroke="#0000ff" stroke-width="2.7" fill="none"/>
<text transform="translate(1589.6,626.3) scale(1.040,1)" font-size="29.5" text-anchor="start" fill="#000" stroke="#000" stroke-width="0.7" stroke-linejoin="round">point (1)</text>
<path d="M1570.7,641.8L1562.4,656.5L1579,656.5Z" fill="#0000ff"/>
<text transform="translate(1589.6,662) scale(1.040,1)" font-size="29.5" text-anchor="start" fill="#000" stroke="#000" stroke-width="0.7" stroke-linejoin="round">point (2)</text>
<path d="M1570.7,697.5L1562.4,682.8L1579,682.8Z" fill="#0000ff"/>
<text transform="translate(1589.6,698.1) scale(1.040,1)" font-size="29.5" text-anchor="start" fill="#000" stroke="#000" stroke-width="0.7" stroke-linejoin="round">point (4)</text>
<path d="M1556,723.7H1586.2" stroke="#000" stroke-width="3"/>
<text transform="translate(1589.6,734.1) scale(1.040,1)" font-size="29.5" text-anchor="start" fill="#000" stroke="#000" stroke-width="0.7" stroke-linejoin="round">Separable</text>
</svg></body></html>
